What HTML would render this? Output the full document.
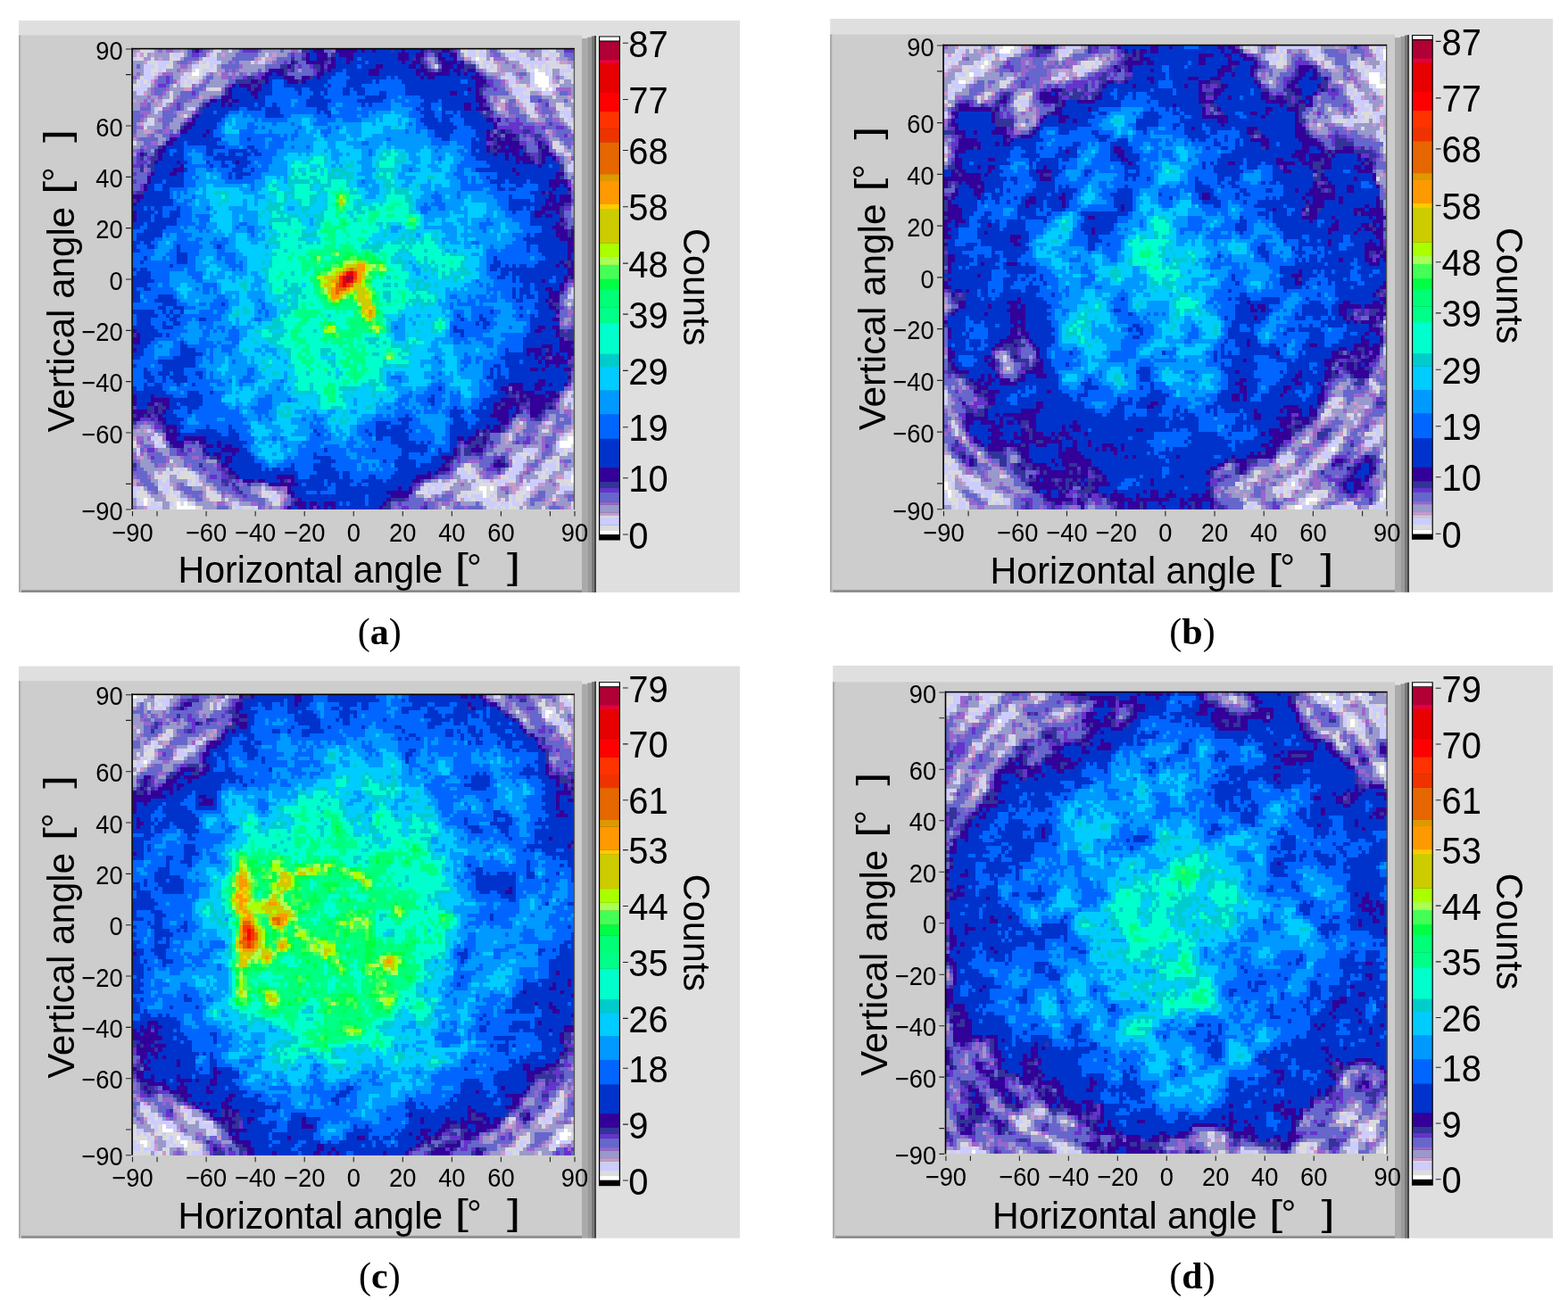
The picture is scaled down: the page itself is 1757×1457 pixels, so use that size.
<!DOCTYPE html>
<html><head><meta charset="utf-8"><title>Figure</title>
<style>
html,body{margin:0;padding:0;background:#fff;}
svg{display:block;}
text{font-family:"Liberation Sans",Arial,sans-serif;fill:#000;}
text.cap{font-family:"Liberation Serif","Times New Roman",serif;}
</style></head><body>
<svg xmlns="http://www.w3.org/2000/svg" width="1757" height="1457" viewBox="0 0 1757 1457">
<rect width="1757" height="1457" fill="#ffffff"/>
<rect x="21" y="23" width="808" height="641" fill="#dfdfdf"/>
<rect x="21" y="39.5" width="631" height="624.5" fill="#cdcdcd"/>
<rect x="21" y="39.5" width="1.7" height="624.5" fill="#a5a5a5"/>
<rect x="22.7" y="39.5" width="1.3" height="624.5" fill="#c4c4c4"/>
<rect x="24" y="661" width="628" height="1" fill="#a8a8a8"/>
<rect x="24" y="661.7" width="628" height="2.3" fill="#888888"/>
<rect x="652" y="43" width="6.3" height="621" fill="#aaaaaa"/>
<rect x="658.3" y="41.7" width="4.5" height="622.3" fill="#999999"/>
<rect x="662.8" y="40.5" width="3" height="623.5" fill="#777777"/>
<rect x="665.8" y="40" width="2.2" height="624" fill="#444444"/>
<g transform="translate(148.5 55) scale(4.1292 4.3000)" fill="none" stroke-width="1" shape-rendering="crispEdges"><path stroke="#9999cc" d="M0 0.5h1M6 0.5h1M8 0.5h1M11 0.5h2M14 0.5h1M21 0.5h1M24 0.5h2M27 0.5h2M35 0.5h5M41 0.5h2M45 0.5h1M96 0.5h1M99 0.5h1M105 0.5h3M109 0.5h2M115 0.5h2M4 1.5h1M6 1.5h4M14 1.5h1M23 1.5h1M25 1.5h3M34 1.5h2M37 1.5h1M39 1.5h3M89 1.5h1M96 1.5h1M100 1.5h1M107 1.5h4M116 1.5h1M3 2.5h2M6 2.5h1M8 2.5h2M13 2.5h1M18 2.5h1M23 2.5h4M33 2.5h1M38 2.5h1M80 2.5h2M96 2.5h1M101 2.5h1M108 2.5h1M116 2.5h2M0 3.5h3M11 3.5h1M16 3.5h1M24 3.5h2M29 3.5h3M36 3.5h2M81 3.5h1M92 3.5h1M99 3.5h2M102 3.5h3M118 3.5h2M0 4.5h1M2 4.5h1M11 4.5h2M15 4.5h1M23 4.5h1M30 4.5h6M81 4.5h1M93 4.5h1M100 4.5h3M104 4.5h1M119 4.5h1M0 5.5h3M9 5.5h3M13 5.5h2M23 5.5h2M29 5.5h5M35 5.5h1M45 5.5h1M95 5.5h1M100 5.5h7M114 5.5h2M0 6.5h1M2 6.5h1M11 6.5h2M20 6.5h1M22 6.5h1M26 6.5h1M28 6.5h1M31 6.5h1M96 6.5h4M103 6.5h1M107 6.5h1M114 6.5h2M1 7.5h1M11 7.5h2M19 7.5h1M22 7.5h2M99 7.5h1M104 7.5h1M106 7.5h2M114 7.5h1M116 7.5h1M0 8.5h1M21 8.5h5M105 8.5h3M115 8.5h1M117 8.5h2M5 9.5h1M10 9.5h1M12 9.5h1M17 9.5h1M20 9.5h5M101 9.5h1M116 9.5h4M4 10.5h1M10 10.5h4M101 10.5h1M119 10.5h1M0 11.5h1M4 11.5h1M9 11.5h1M11 11.5h2M18 11.5h6M102 11.5h1M108 11.5h2M115 11.5h1M119 11.5h1M0 12.5h4M5 12.5h2M8 12.5h2M11 12.5h1M19 12.5h2M97 12.5h1M99 12.5h5M111 12.5h3M115 12.5h3M119 12.5h1M1 13.5h2M4 13.5h1M7 13.5h1M16 13.5h3M97 13.5h1M99 13.5h1M101 13.5h1M113 13.5h4M118 13.5h1M0 14.5h2M5 14.5h2M9 14.5h1M14 14.5h4M98 14.5h1M104 14.5h1M109 14.5h1M113 14.5h2M117 14.5h3M0 15.5h2M5 15.5h1M14 15.5h1M98 15.5h1M105 15.5h1M119 15.5h1M5 16.5h1M7 16.5h1M12 16.5h4M99 16.5h3M105 16.5h2M115 16.5h1M119 16.5h1M4 17.5h4M12 17.5h1M15 17.5h1M101 17.5h1M107 17.5h1M110 17.5h1M112 17.5h1M114 17.5h2M119 17.5h1M3 18.5h1M6 18.5h1M11 18.5h3M107 18.5h2M110 18.5h2M116 18.5h1M1 19.5h1M6 19.5h2M10 19.5h3M117 19.5h1M4 20.5h4M10 20.5h3M118 20.5h1M1 21.5h2M5 21.5h1M11 21.5h1M113 21.5h1M1 22.5h3M6 22.5h2M113 22.5h1M0 23.5h1M7 23.5h2M113 23.5h3M1 24.5h2M7 24.5h1M116 24.5h1M0 25.5h2M117 25.5h1M119 25.5h1M5 26.5h1M118 26.5h2M0 27.5h1M115 27.5h2M119 27.5h1M117 28.5h1M117 29.5h2M117 30.5h1M117 31.5h1M118 32.5h2M118 33.5h1M119 34.5h1M119 41.5h1M119 42.5h1M119 43.5h1M118 62.5h1M118 63.5h1M117 65.5h3M117 66.5h1M119 66.5h1M118 67.5h1M117 70.5h2M117 71.5h1M119 87.5h1M119 88.5h1M117 89.5h1M119 90.5h1M116 91.5h1M116 92.5h1M118 92.5h1M116 93.5h1M118 93.5h1M116 94.5h1M119 94.5h1M113 95.5h2M119 95.5h1M104 96.5h1M113 96.5h2M116 96.5h1M119 96.5h1M103 97.5h2M106 97.5h1M114 97.5h1M119 97.5h1M2 98.5h3M103 98.5h1M106 98.5h1M110 98.5h2M113 98.5h1M117 98.5h2M0 99.5h1M2 99.5h1M102 99.5h2M105 99.5h1M110 99.5h1M113 99.5h1M117 99.5h1M0 100.5h6M7 100.5h1M100 100.5h1M103 100.5h1M105 100.5h1M110 100.5h4M115 100.5h1M3 101.5h1M100 101.5h1M103 101.5h1M109 101.5h2M115 101.5h1M3 102.5h3M8 102.5h1M100 102.5h1M102 102.5h1M110 102.5h1M99 103.5h7M107 103.5h4M114 103.5h1M0 104.5h1M7 104.5h3M98 104.5h3M103 104.5h3M110 104.5h1M114 104.5h1M3 105.5h1M8 105.5h2M96 105.5h2M99 105.5h1M102 105.5h2M110 105.5h1M114 105.5h2M118 105.5h2M1 106.5h1M3 106.5h1M10 106.5h3M107 106.5h1M109 106.5h2M112 106.5h2M116 106.5h4M2 107.5h3M11 107.5h3M20 107.5h3M107 107.5h2M111 107.5h1M119 107.5h1M2 108.5h4M9 108.5h2M12 108.5h2M89 108.5h1M92 108.5h2M106 108.5h1M110 108.5h1M116 108.5h1M118 108.5h2M3 109.5h6M10 109.5h1M15 109.5h1M93 109.5h2M101 109.5h1M109 109.5h2M116 109.5h3M4 110.5h2M17 110.5h1M87 110.5h1M105 110.5h1M108 110.5h1M114 110.5h3M5 111.5h1M10 111.5h2M18 111.5h2M87 111.5h2M94 111.5h1M98 111.5h1M104 111.5h1M106 111.5h4M113 111.5h2M1 112.5h1M5 112.5h2M10 112.5h5M19 112.5h1M81 112.5h2M84 112.5h1M88 112.5h1M90 112.5h1M92 112.5h1M104 112.5h1M107 112.5h1M112 112.5h1M114 112.5h1M6 113.5h1M11 113.5h1M14 113.5h1M19 113.5h3M35 113.5h1M87 113.5h2M90 113.5h2M104 113.5h1M112 113.5h2M115 113.5h1M3 114.5h1M11 114.5h1M16 114.5h3M22 114.5h1M32 114.5h3M36 114.5h2M86 114.5h6M99 114.5h1M102 114.5h1M110 114.5h5M4 115.5h1M7 115.5h1M13 115.5h1M19 115.5h1M23 115.5h1M32 115.5h2M39 115.5h2M84 115.5h1M87 115.5h2M99 115.5h2M102 115.5h1M109 115.5h1M112 115.5h3M117 115.5h3M5 116.5h3M13 116.5h2M19 116.5h1M25 116.5h2M34 116.5h1M41 116.5h1M77 116.5h2M81 116.5h1M83 116.5h1M87 116.5h1M99 116.5h3M108 116.5h1M112 116.5h2M115 116.5h2M0 117.5h1M6 117.5h3M15 117.5h2M19 117.5h1M24 117.5h1M26 117.5h3M36 117.5h1M79 117.5h1M81 117.5h1M87 117.5h1M101 117.5h1M107 117.5h1M112 117.5h1M116 117.5h2M0 118.5h1M8 118.5h2M17 118.5h5M25 118.5h1M29 118.5h3M36 118.5h2M40 118.5h1M83 118.5h1M86 118.5h1M89 118.5h4M94 118.5h1M107 118.5h1M109 118.5h3M113 118.5h1M115 118.5h4M1 119.5h2M8 119.5h2M19 119.5h4M26 119.5h1M36 119.5h1M38 119.5h2M83 119.5h1M85 119.5h2M95 119.5h1M105 119.5h1M107 119.5h4M112 119.5h1M117 119.5h1"/><path stroke="#cc99cc" d="M1 0.5h1M13 0.5h1M0 1.5h1M2 1.5h1M5 1.5h1M20 1.5h1M24 1.5h1M38 1.5h1M7 2.5h1M34 2.5h1M36 2.5h2M90 2.5h2M110 2.5h1M112 2.5h1M115 2.5h1M3 3.5h1M17 3.5h1M33 3.5h1M98 3.5h1M116 3.5h2M99 4.5h1M105 4.5h1M15 5.5h1M99 5.5h1M7 6.5h1M13 6.5h1M23 6.5h1M100 6.5h1M6 7.5h1M5 8.5h1M12 8.5h1M18 8.5h1M101 8.5h1M104 8.5h1M114 8.5h1M107 9.5h1M14 10.5h2M102 10.5h1M3 11.5h1M110 11.5h1M114 11.5h1M18 12.5h1M118 12.5h1M0 13.5h1M6 13.5h1M104 13.5h1M7 14.5h1M99 14.5h2M105 14.5h1M100 15.5h1M106 15.5h1M109 16.5h1M13 17.5h1M109 18.5h1M2 19.5h1M3 21.5h2M112 21.5h1M119 21.5h1M117 26.5h1M118 28.5h1M117 90.5h1M117 93.5h1M111 97.5h1M104 98.5h2M112 98.5h1M119 98.5h1M1 99.5h1M3 99.5h1M5 99.5h1M104 99.5h1M118 99.5h1M101 100.5h1M116 100.5h1M0 101.5h1M101 101.5h1M101 102.5h1M1 103.5h1M109 105.5h1M2 106.5h1M102 106.5h1M11 108.5h1M106 109.5h1M7 110.5h1M93 110.5h1M99 111.5h1M115 111.5h2M0 112.5h1M18 112.5h1M85 112.5h1M89 112.5h1M97 112.5h1M0 113.5h1M10 113.5h1M101 113.5h3M105 113.5h1M110 113.5h2M19 114.5h1M21 114.5h1M103 114.5h2M109 114.5h1M115 114.5h1M34 115.5h1M103 115.5h1M108 115.5h1M8 116.5h1M40 116.5h1M20 117.5h1M40 117.5h1M89 117.5h1M99 117.5h1M113 117.5h1M115 117.5h1M22 118.5h1M26 118.5h1M106 118.5h1M112 118.5h1M3 119.5h1M118 119.5h1"/><path stroke="#d8d8e0" d="M2 0.5h3M22 0.5h2M26 0.5h1M89 0.5h1M95 0.5h1M100 0.5h1M3 1.5h1M10 1.5h1M13 1.5h1M22 1.5h1M105 1.5h2M111 1.5h1M115 1.5h1M1 2.5h2M5 2.5h1M10 2.5h3M19 2.5h1M35 2.5h1M92 2.5h1M97 2.5h1M102 2.5h2M109 2.5h1M114 2.5h1M4 3.5h3M10 3.5h1M18 3.5h1M32 3.5h1M97 3.5h1M105 3.5h1M112 3.5h3M9 4.5h2M22 4.5h1M82 4.5h1M94 4.5h1M113 4.5h5M8 5.5h1M21 5.5h2M98 5.5h1M107 5.5h1M113 5.5h1M119 5.5h1M14 6.5h1M113 6.5h1M117 6.5h1M2 7.5h1M101 7.5h1M118 7.5h1M1 8.5h1M14 8.5h1M16 8.5h1M116 8.5h1M119 8.5h1M0 9.5h2M4 9.5h1M11 9.5h1M14 9.5h2M105 9.5h2M115 9.5h1M21 10.5h3M107 10.5h2M10 11.5h1M106 11.5h2M10 12.5h1M104 12.5h1M114 12.5h1M9 13.5h2M100 13.5h1M106 13.5h2M119 13.5h1M107 14.5h1M115 14.5h2M7 15.5h1M99 15.5h1M107 15.5h2M115 15.5h2M118 15.5h1M107 16.5h1M14 17.5h1M108 17.5h2M116 17.5h1M4 18.5h2M117 18.5h1M5 19.5h1M118 19.5h2M3 20.5h1M119 20.5h1M0 24.5h1M114 24.5h2M114 25.5h3M118 27.5h1M119 63.5h1M118 66.5h1M118 90.5h1M117 92.5h1M119 93.5h1M105 97.5h1M111 99.5h2M6 100.5h1M7 101.5h1M102 101.5h1M0 102.5h1M0 103.5h1M8 103.5h1M1 104.5h1M119 104.5h1M107 105.5h1M116 105.5h2M108 106.5h1M114 106.5h2M10 107.5h1M103 107.5h1M112 107.5h2M115 107.5h1M90 108.5h2M115 108.5h1M9 109.5h1M11 109.5h2M14 109.5h1M88 109.5h1M102 109.5h1M115 109.5h1M8 110.5h1M10 110.5h2M109 110.5h1M117 110.5h1M6 111.5h4M12 111.5h1M93 111.5h1M100 111.5h2M110 111.5h1M112 111.5h1M83 112.5h1M87 112.5h1M91 112.5h1M93 112.5h2M98 112.5h1M102 112.5h2M106 112.5h1M115 112.5h2M15 113.5h2M18 113.5h1M80 113.5h1M85 113.5h2M100 113.5h1M116 113.5h2M2 114.5h1M7 114.5h1M10 114.5h1M20 114.5h1M84 114.5h2M3 115.5h1M12 115.5h1M20 115.5h2M36 115.5h1M38 115.5h1M77 115.5h1M89 115.5h2M104 115.5h1M115 115.5h1M9 116.5h1M20 116.5h4M35 116.5h2M80 116.5h1M88 116.5h2M98 116.5h1M102 116.5h1M107 116.5h1M9 117.5h1M21 117.5h3M25 117.5h1M39 117.5h1M88 117.5h1M92 117.5h1M97 117.5h2M100 117.5h1M102 117.5h1M114 117.5h1M7 118.5h1M38 118.5h2M95 118.5h1M99 118.5h1M105 118.5h1M119 118.5h1M10 119.5h2M27 119.5h1M30 119.5h2M33 119.5h1M84 119.5h1M96 119.5h1M98 119.5h1M100 119.5h1M104 119.5h1M106 119.5h1M111 119.5h1"/><path stroke="#ccccff" d="M5 0.5h1M91 0.5h2M94 0.5h1M104 0.5h1M111 0.5h2M1 1.5h1M11 1.5h2M21 1.5h1M36 1.5h1M91 1.5h2M94 1.5h2M101 1.5h4M113 1.5h2M0 2.5h1M20 2.5h3M104 2.5h4M111 2.5h1M113 2.5h1M7 3.5h3M19 3.5h1M21 3.5h3M34 3.5h2M93 3.5h1M95 3.5h2M106 3.5h6M115 3.5h1M3 4.5h3M7 4.5h2M16 4.5h2M21 4.5h1M95 4.5h1M97 4.5h1M106 4.5h1M108 4.5h1M110 4.5h1M112 4.5h1M118 4.5h1M3 5.5h2M7 5.5h1M19 5.5h2M96 5.5h1M112 5.5h1M116 5.5h3M3 6.5h2M6 6.5h1M15 6.5h1M19 6.5h1M101 6.5h2M108 6.5h1M112 6.5h1M116 6.5h1M119 6.5h1M3 7.5h3M13 7.5h2M18 7.5h1M100 7.5h1M102 7.5h2M108 7.5h1M113 7.5h1M117 7.5h1M119 7.5h1M2 8.5h1M4 8.5h1M13 8.5h1M15 8.5h1M17 8.5h1M102 8.5h2M108 8.5h1M113 8.5h1M2 9.5h2M13 9.5h1M102 9.5h1M104 9.5h1M108 9.5h1M114 9.5h1M0 10.5h4M20 10.5h1M103 10.5h4M109 10.5h2M114 10.5h1M1 11.5h2M103 11.5h3M111 11.5h3M105 12.5h3M8 13.5h1M105 13.5h1M8 14.5h1M106 14.5h1M108 14.5h1M6 15.5h1M15 15.5h2M117 15.5h1M6 16.5h1M108 16.5h1M116 16.5h3M117 17.5h2M118 18.5h2M3 19.5h2M115 26.5h2M117 27.5h1M119 29.5h1M118 30.5h2M118 31.5h2M119 62.5h1M118 64.5h2M118 89.5h2M117 91.5h3M119 92.5h1M112 97.5h2M4 99.5h1M119 99.5h1M102 100.5h1M117 100.5h1M5 101.5h2M116 101.5h1M7 102.5h1M115 102.5h1M6 103.5h2M115 103.5h1M106 104.5h4M115 104.5h2M118 104.5h1M1 105.5h1M104 105.5h1M108 105.5h1M103 106.5h3M104 107.5h3M114 107.5h1M103 108.5h3M111 108.5h4M13 109.5h1M89 109.5h1M92 109.5h1M103 109.5h3M111 109.5h1M113 109.5h2M119 109.5h1M6 110.5h1M9 110.5h1M12 110.5h1M16 110.5h1M88 110.5h3M92 110.5h1M101 110.5h4M110 110.5h1M112 110.5h2M118 110.5h1M17 111.5h1M89 111.5h4M102 111.5h2M117 111.5h2M7 112.5h1M9 112.5h1M15 112.5h1M17 112.5h1M86 112.5h1M95 112.5h2M99 112.5h3M108 112.5h4M7 113.5h3M17 113.5h1M79 113.5h1M81 113.5h4M92 113.5h2M98 113.5h2M106 113.5h4M0 114.5h2M8 114.5h2M35 114.5h1M78 114.5h1M80 114.5h1M82 114.5h2M92 114.5h1M105 114.5h1M108 114.5h1M116 114.5h4M0 115.5h1M8 115.5h2M11 115.5h1M22 115.5h1M37 115.5h1M80 115.5h4M98 115.5h1M107 115.5h1M116 115.5h1M0 116.5h1M4 116.5h1M12 116.5h1M38 116.5h2M79 116.5h1M90 116.5h1M92 116.5h3M97 116.5h1M103 116.5h1M106 116.5h1M114 116.5h1M1 117.5h1M13 117.5h2M37 117.5h2M90 117.5h2M93 117.5h4M103 117.5h1M106 117.5h1M1 118.5h2M5 118.5h2M10 118.5h1M16 118.5h1M27 118.5h2M96 118.5h3M100 118.5h2M103 118.5h2M4 119.5h4M28 119.5h2M32 119.5h1M97 119.5h1M99 119.5h1M101 119.5h1M119 119.5h1"/><path stroke="#9966cc" d="M7 0.5h1M9 0.5h2M20 0.5h1M43 0.5h2M54 0.5h1M108 0.5h1M97 1.5h1M98 2.5h3M118 2.5h1M12 3.5h1M15 3.5h1M27 3.5h1M38 3.5h1M80 3.5h1M101 3.5h1M13 4.5h2M29 4.5h1M103 4.5h1M12 5.5h1M26 5.5h1M28 5.5h1M94 5.5h1M1 6.5h1M8 6.5h3M21 6.5h1M24 6.5h2M27 6.5h1M30 6.5h1M104 6.5h1M0 7.5h1M24 7.5h2M27 7.5h1M98 7.5h1M105 7.5h1M115 7.5h1M6 8.5h1M11 8.5h1M19 8.5h1M100 8.5h1M6 9.5h1M16 9.5h1M100 9.5h1M5 10.5h1M9 10.5h1M19 10.5h1M24 10.5h1M115 10.5h4M5 11.5h1M8 11.5h1M118 11.5h1M4 12.5h1M7 12.5h1M12 12.5h1M17 12.5h1M21 12.5h1M98 12.5h1M3 13.5h1M5 13.5h1M11 13.5h1M15 13.5h1M98 13.5h1M2 14.5h2M10 14.5h1M101 14.5h1M103 14.5h1M110 14.5h1M8 15.5h2M101 15.5h1M109 15.5h2M113 15.5h2M2 16.5h3M11 16.5h1M16 16.5h1M110 16.5h1M114 16.5h1M3 17.5h1M100 17.5h1M102 17.5h2M111 17.5h1M2 18.5h1M7 18.5h1M14 18.5h1M114 18.5h2M109 19.5h3M116 19.5h1M1 20.5h2M9 20.5h1M6 21.5h1M8 21.5h2M114 21.5h1M0 22.5h1M4 22.5h1M112 22.5h1M114 22.5h1M118 22.5h1M1 23.5h1M107 23.5h1M5 24.5h2M113 24.5h1M119 24.5h1M3 25.5h1M0 26.5h1M114 26.5h1M3 31.5h1M119 35.5h1M119 36.5h1M119 61.5h1M118 68.5h2M118 69.5h1M116 71.5h1M118 71.5h1M118 88.5h1M116 90.5h1M115 92.5h1M115 93.5h1M117 94.5h2M118 95.5h1M105 96.5h2M112 96.5h1M3 97.5h1M1 98.5h1M5 98.5h1M109 98.5h1M114 98.5h1M114 99.5h3M8 100.5h1M106 100.5h1M108 100.5h2M1 101.5h2M4 101.5h1M8 101.5h1M111 101.5h1M1 102.5h1M108 102.5h2M111 102.5h1M114 102.5h1M2 103.5h1M5 103.5h1M98 103.5h1M106 103.5h1M111 103.5h1M3 104.5h1M6 104.5h1M16 104.5h1M101 104.5h2M111 104.5h1M0 105.5h1M2 105.5h1M113 105.5h1M0 106.5h1M4 106.5h1M9 106.5h1M13 106.5h1M16 106.5h2M1 107.5h1M9 107.5h1M91 107.5h3M102 107.5h1M110 107.5h1M116 107.5h1M7 108.5h2M15 108.5h1M22 108.5h1M102 108.5h1M107 108.5h1M117 108.5h1M107 109.5h2M19 110.5h2M94 110.5h2M100 110.5h1M106 110.5h1M0 111.5h1M4 111.5h1M86 111.5h1M95 111.5h1M97 111.5h1M105 111.5h1M105 112.5h1M113 112.5h1M1 113.5h2M12 113.5h1M29 113.5h1M78 113.5h1M89 113.5h1M114 113.5h1M12 114.5h1M38 114.5h1M40 114.5h2M100 114.5h2M5 115.5h1M25 115.5h1M41 115.5h1M85 115.5h2M15 116.5h1M18 116.5h1M24 116.5h1M27 116.5h1M82 116.5h1M109 116.5h1M117 116.5h1M29 117.5h1M41 117.5h1M80 117.5h1M86 117.5h1M111 117.5h1M119 117.5h1M23 118.5h2M32 118.5h2M82 118.5h1M84 118.5h2M87 118.5h1M114 118.5h1M0 119.5h1M35 119.5h1M37 119.5h1M40 119.5h1M71 119.5h1M82 119.5h1M90 119.5h1M116 119.5h1"/><path stroke="#6666cc" d="M15 0.5h1M19 0.5h1M29 0.5h1M34 0.5h1M40 0.5h1M52 0.5h2M88 0.5h1M97 0.5h2M15 1.5h1M18 1.5h2M28 1.5h6M42 1.5h1M44 1.5h2M53 1.5h1M80 1.5h2M88 1.5h1M98 1.5h2M117 1.5h3M14 2.5h4M27 2.5h6M39 2.5h4M44 2.5h2M79 2.5h1M82 2.5h1M88 2.5h2M119 2.5h1M13 3.5h2M26 3.5h1M28 3.5h1M39 3.5h2M42 3.5h1M45 3.5h2M82 3.5h1M90 3.5h2M1 4.5h1M24 4.5h5M36 4.5h4M44 4.5h1M46 4.5h2M80 4.5h1M83 4.5h1M25 5.5h1M27 5.5h1M34 5.5h1M36 5.5h1M44 5.5h1M46 5.5h3M82 5.5h1M93 5.5h1M29 6.5h1M32 6.5h2M42 6.5h7M95 6.5h1M105 6.5h2M7 7.5h2M10 7.5h1M20 7.5h2M26 7.5h1M28 7.5h2M44 7.5h2M96 7.5h2M7 8.5h2M10 8.5h1M20 8.5h1M26 8.5h2M98 8.5h2M9 9.5h1M18 9.5h2M25 9.5h1M98 9.5h2M6 10.5h3M16 10.5h3M96 10.5h2M99 10.5h2M6 11.5h2M13 11.5h3M17 11.5h1M24 11.5h1M95 11.5h7M116 11.5h2M13 12.5h4M22 12.5h2M96 12.5h1M108 12.5h3M12 13.5h3M19 13.5h2M96 13.5h1M102 13.5h2M108 13.5h2M111 13.5h2M117 13.5h1M4 14.5h1M11 14.5h1M13 14.5h1M18 14.5h1M97 14.5h1M102 14.5h1M111 14.5h1M2 15.5h3M10 15.5h2M13 15.5h1M17 15.5h1M97 15.5h1M102 15.5h3M111 15.5h2M0 16.5h2M8 16.5h3M95 16.5h1M98 16.5h1M102 16.5h3M111 16.5h3M0 17.5h3M8 17.5h4M98 17.5h2M104 17.5h3M113 17.5h1M0 18.5h2M8 18.5h3M100 18.5h1M102 18.5h2M105 18.5h2M112 18.5h2M0 19.5h1M8 19.5h2M13 19.5h1M99 19.5h3M106 19.5h3M112 19.5h1M114 19.5h2M0 20.5h1M8 20.5h1M105 20.5h1M109 20.5h2M112 20.5h3M117 20.5h1M0 21.5h1M7 21.5h1M10 21.5h1M12 21.5h1M98 21.5h1M109 21.5h3M115 21.5h4M5 22.5h1M8 22.5h2M100 22.5h1M105 22.5h1M107 22.5h1M111 22.5h1M115 22.5h2M119 22.5h1M2 23.5h5M9 23.5h1M105 23.5h2M108 23.5h1M112 23.5h1M116 23.5h4M3 24.5h2M8 24.5h1M107 24.5h2M117 24.5h2M2 25.5h1M4 25.5h3M107 25.5h3M113 25.5h1M118 25.5h1M1 26.5h1M3 26.5h2M107 26.5h3M113 26.5h1M4 27.5h2M0 28.5h1M3 28.5h1M116 28.5h1M119 28.5h1M0 29.5h1M4 29.5h1M116 29.5h1M3 30.5h1M0 31.5h2M4 31.5h1M1 32.5h3M117 32.5h1M0 33.5h4M117 33.5h1M119 33.5h1M1 34.5h3M0 35.5h2M0 36.5h2M119 37.5h1M119 38.5h1M119 40.5h1M117 42.5h2M117 43.5h2M118 44.5h2M118 45.5h2M118 46.5h1M118 61.5h1M117 63.5h1M116 64.5h2M116 65.5h1M116 66.5h1M117 67.5h1M119 67.5h1M116 68.5h2M116 69.5h2M119 69.5h1M116 70.5h1M119 70.5h1M119 71.5h1M116 72.5h3M119 84.5h1M119 85.5h1M119 86.5h1M102 88.5h1M117 88.5h1M116 89.5h1M106 94.5h1M112 94.5h4M104 95.5h4M112 95.5h1M115 95.5h3M103 96.5h1M107 96.5h1M111 96.5h1M115 96.5h1M117 96.5h2M1 97.5h2M4 97.5h2M107 97.5h4M115 97.5h4M0 98.5h1M102 98.5h1M107 98.5h2M115 98.5h2M6 99.5h2M101 99.5h1M106 99.5h4M94 100.5h1M97 100.5h3M104 100.5h1M107 100.5h1M114 100.5h1M97 101.5h3M104 101.5h3M108 101.5h1M112 101.5h3M2 102.5h1M9 102.5h1M17 102.5h1M98 102.5h2M103 102.5h1M105 102.5h1M112 102.5h2M3 103.5h2M9 103.5h1M14 103.5h4M89 103.5h1M96 103.5h1M113 103.5h1M2 104.5h1M10 104.5h2M14 104.5h1M17 104.5h2M89 104.5h1M96 104.5h2M112 104.5h2M4 105.5h4M10 105.5h2M15 105.5h4M89 105.5h1M95 105.5h1M98 105.5h1M100 105.5h2M111 105.5h2M6 106.5h3M14 106.5h2M18 106.5h1M20 106.5h1M89 106.5h5M95 106.5h3M101 106.5h1M111 106.5h1M0 107.5h1M5 107.5h4M14 107.5h6M87 107.5h1M89 107.5h2M94 107.5h4M101 107.5h1M109 107.5h1M117 107.5h2M1 108.5h1M6 108.5h1M14 108.5h1M16 108.5h2M19 108.5h3M87 108.5h2M94 108.5h3M108 108.5h2M1 109.5h2M16 109.5h3M20 109.5h3M87 109.5h1M95 109.5h1M100 109.5h1M0 110.5h4M18 110.5h1M21 110.5h3M86 110.5h1M96 110.5h3M107 110.5h1M1 111.5h3M20 111.5h1M23 111.5h1M83 111.5h3M96 111.5h1M2 112.5h3M20 112.5h4M27 112.5h1M29 112.5h1M79 112.5h2M3 113.5h3M13 113.5h1M22 113.5h2M26 113.5h1M28 113.5h1M30 113.5h1M32 113.5h3M36 113.5h1M4 114.5h3M13 114.5h3M23 114.5h4M29 114.5h3M39 114.5h1M77 114.5h1M6 115.5h1M14 115.5h5M24 115.5h1M26 115.5h2M30 115.5h2M76 115.5h1M101 115.5h1M110 115.5h2M16 116.5h2M28 116.5h2M31 116.5h3M42 116.5h1M75 116.5h2M84 116.5h3M110 116.5h2M118 116.5h2M17 117.5h2M30 117.5h6M42 117.5h1M75 117.5h4M82 117.5h4M108 117.5h3M118 117.5h1M34 118.5h2M41 118.5h2M70 118.5h2M73 118.5h6M80 118.5h2M88 118.5h1M93 118.5h1M108 118.5h1M23 119.5h3M34 119.5h1M70 119.5h1M72 119.5h1M75 119.5h3M80 119.5h2M87 119.5h3M91 119.5h4M113 119.5h3"/><path stroke="#333399" d="M16 0.5h1M46 0.5h2M70 0.5h1M79 0.5h1M81 0.5h3M86 0.5h1M54 1.5h1M82 1.5h1M43 2.5h1M46 2.5h1M53 2.5h1M76 2.5h1M78 2.5h1M44 3.5h1M52 3.5h1M78 3.5h1M83 3.5h1M40 4.5h2M43 4.5h1M49 4.5h2M79 4.5h1M90 4.5h3M41 5.5h1M43 5.5h1M50 5.5h1M52 5.5h1M80 5.5h1M83 5.5h1M90 5.5h1M41 6.5h1M31 7.5h2M48 7.5h1M95 7.5h1M28 8.5h4M34 8.5h2M45 8.5h1M32 9.5h2M95 9.5h2M25 10.5h1M32 10.5h1M94 10.5h1M25 11.5h1M94 11.5h1M26 13.5h1M19 14.5h1M95 14.5h1M18 15.5h1M18 16.5h1M94 16.5h1M96 16.5h2M16 17.5h1M95 17.5h2M14 19.5h1M13 20.5h1M97 21.5h1M99 21.5h1M101 21.5h2M106 21.5h2M99 22.5h1M104 22.5h1M109 22.5h2M98 23.5h1M100 23.5h1M103 23.5h2M109 23.5h1M98 24.5h1M111 24.5h1M7 25.5h1M97 25.5h1M99 25.5h1M106 25.5h1M111 25.5h1M6 26.5h1M97 26.5h2M106 26.5h1M110 26.5h1M3 27.5h1M6 27.5h1M107 27.5h1M110 27.5h1M2 28.5h1M5 28.5h2M108 28.5h1M110 28.5h1M5 29.5h1M110 29.5h1M115 29.5h1M2 30.5h1M4 30.5h2M116 30.5h1M2 31.5h1M5 31.5h1M116 31.5h1M116 33.5h1M1 37.5h2M112 37.5h1M118 37.5h1M0 39.5h1M117 40.5h2M116 41.5h1M116 42.5h1M116 43.5h1M116 45.5h2M119 46.5h1M118 47.5h1M118 48.5h1M117 55.5h2M118 56.5h1M118 59.5h1M116 63.5h1M113 65.5h1M114 66.5h2M115 67.5h1M116 73.5h1M118 73.5h2M0 74.5h1M116 74.5h4M118 75.5h2M112 78.5h1M112 80.5h1M118 82.5h2M118 84.5h1M118 86.5h1M102 89.5h1M104 89.5h1M115 89.5h1M102 90.5h2M106 90.5h1M104 91.5h1M107 91.5h1M114 91.5h1M7 92.5h1M100 92.5h1M105 92.5h2M112 92.5h2M4 93.5h2M7 93.5h2M99 93.5h1M107 93.5h1M112 93.5h1M114 93.5h1M4 94.5h2M7 94.5h1M105 94.5h1M111 94.5h1M0 95.5h1M3 95.5h1M6 95.5h1M110 95.5h1M5 96.5h1M102 96.5h1M109 96.5h2M0 97.5h1M7 97.5h1M8 98.5h1M100 98.5h1M8 99.5h1M10 99.5h1M94 99.5h1M96 99.5h1M100 99.5h1M95 100.5h2M93 101.5h2M96 101.5h1M16 102.5h1M88 102.5h1M92 102.5h3M97 102.5h1M10 103.5h1M19 103.5h1M91 103.5h2M94 103.5h2M13 104.5h1M88 104.5h1M90 104.5h2M19 105.5h1M88 105.5h1M90 105.5h2M93 105.5h2M21 106.5h2M87 106.5h1M100 106.5h1M23 107.5h1M86 107.5h1M98 107.5h1M100 107.5h1M0 108.5h1M18 108.5h1M85 108.5h1M101 108.5h1M24 109.5h1M99 109.5h1M25 110.5h1M83 110.5h2M26 111.5h2M81 111.5h1M24 112.5h2M33 112.5h1M41 112.5h1M78 112.5h1M25 113.5h1M27 113.5h1M31 113.5h1M76 113.5h1M28 114.5h1M29 115.5h1M44 117.5h1M70 117.5h4M43 118.5h1M69 118.5h1M68 119.5h2M79 119.5h1"/><path stroke="#330099" d="M17 0.5h1M49 0.5h3M55 0.5h6M62 0.5h1M65 0.5h1M73 0.5h1M78 0.5h1M84 0.5h2M47 1.5h1M50 1.5h3M56 1.5h4M72 1.5h3M77 1.5h2M83 1.5h1M86 1.5h2M47 2.5h1M50 2.5h3M54 2.5h1M58 2.5h2M72 2.5h3M77 2.5h1M83 2.5h2M87 2.5h1M43 3.5h1M47 3.5h5M54 3.5h1M58 3.5h1M73 3.5h1M76 3.5h2M84 3.5h4M89 3.5h1M42 4.5h1M51 4.5h1M53 4.5h2M66 4.5h2M75 4.5h2M78 4.5h1M84 4.5h3M88 4.5h2M37 5.5h4M51 5.5h1M53 5.5h1M64 5.5h3M77 5.5h3M84 5.5h2M87 5.5h2M91 5.5h2M36 6.5h2M39 6.5h2M50 6.5h2M64 6.5h3M77 6.5h1M79 6.5h7M88 6.5h1M90 6.5h1M93 6.5h1M35 7.5h2M41 7.5h3M46 7.5h2M50 7.5h1M78 7.5h1M80 7.5h2M92 7.5h3M32 8.5h2M36 8.5h1M42 8.5h3M46 8.5h1M93 8.5h3M27 9.5h1M29 9.5h3M34 9.5h1M93 9.5h2M26 10.5h1M31 10.5h1M33 10.5h2M91 10.5h1M93 10.5h1M26 11.5h1M32 11.5h2M86 11.5h2M93 11.5h1M24 12.5h3M33 12.5h1M93 12.5h2M21 13.5h2M24 13.5h2M27 13.5h2M93 13.5h3M20 14.5h1M24 14.5h1M26 14.5h1M90 14.5h2M94 14.5h1M90 15.5h2M93 15.5h4M17 17.5h1M16 18.5h1M96 18.5h2M99 18.5h1M15 19.5h2M98 19.5h1M14 20.5h2M98 20.5h1M13 21.5h2M20 21.5h1M96 21.5h1M100 21.5h1M19 22.5h1M96 22.5h1M98 22.5h1M101 22.5h3M10 23.5h2M96 23.5h2M99 23.5h1M101 23.5h2M9 24.5h2M99 24.5h6M110 24.5h1M8 25.5h1M96 25.5h1M98 25.5h1M100 25.5h1M102 25.5h4M110 25.5h1M112 25.5h1M7 26.5h2M96 26.5h1M99 26.5h6M111 26.5h2M2 27.5h1M7 27.5h1M98 27.5h1M101 27.5h1M103 27.5h2M106 27.5h1M111 27.5h3M7 28.5h1M101 28.5h1M104 28.5h4M111 28.5h1M114 28.5h1M6 29.5h1M12 29.5h1M28 29.5h1M104 29.5h1M106 29.5h3M111 29.5h1M13 30.5h1M110 30.5h1M11 31.5h3M103 31.5h1M5 32.5h1M10 32.5h2M104 32.5h1M115 32.5h2M4 33.5h1M115 33.5h1M4 34.5h1M113 34.5h5M3 35.5h1M113 35.5h3M117 35.5h1M3 36.5h1M114 36.5h1M118 36.5h1M111 37.5h1M113 37.5h1M0 38.5h3M113 38.5h2M116 38.5h3M1 39.5h1M112 39.5h3M116 39.5h3M0 40.5h1M112 40.5h1M114 40.5h3M111 41.5h5M0 42.5h1M109 42.5h3M115 42.5h1M0 43.5h1M109 43.5h2M112 43.5h2M0 44.5h1M116 44.5h1M115 45.5h1M114 46.5h3M115 47.5h3M119 47.5h1M115 48.5h3M119 48.5h1M116 49.5h4M118 50.5h2M118 51.5h2M118 52.5h2M118 53.5h1M118 54.5h1M116 55.5h1M119 55.5h1M115 56.5h1M117 56.5h1M119 56.5h1M118 57.5h2M118 58.5h2M117 59.5h1M119 59.5h1M111 60.5h1M117 60.5h1M116 61.5h1M112 62.5h2M116 62.5h1M113 63.5h3M113 64.5h3M112 65.5h1M114 65.5h2M113 66.5h1M113 67.5h2M115 68.5h1M114 70.5h2M110 72.5h2M114 72.5h2M0 73.5h1M109 73.5h2M115 73.5h1M1 74.5h1M115 74.5h1M0 75.5h2M116 75.5h1M0 76.5h2M116 76.5h4M111 77.5h3M116 77.5h3M0 78.5h1M107 78.5h4M113 78.5h1M116 78.5h4M107 79.5h1M109 79.5h2M112 79.5h2M115 79.5h1M118 79.5h2M109 80.5h1M111 80.5h1M114 80.5h3M118 80.5h1M110 81.5h1M112 81.5h6M112 82.5h1M115 82.5h1M108 83.5h2M111 83.5h1M117 83.5h2M118 85.5h1M110 86.5h2M102 87.5h4M109 87.5h3M113 87.5h1M117 87.5h1M100 88.5h2M103 88.5h3M109 88.5h2M101 89.5h1M103 89.5h1M105 89.5h4M112 89.5h3M0 90.5h1M5 90.5h1M105 90.5h1M107 90.5h5M113 90.5h3M0 91.5h1M5 91.5h5M100 91.5h4M105 91.5h2M108 91.5h6M0 92.5h1M4 92.5h2M8 92.5h2M98 92.5h2M101 92.5h4M108 92.5h4M6 93.5h1M9 93.5h1M98 93.5h1M100 93.5h3M104 93.5h1M108 93.5h4M113 93.5h1M0 94.5h4M6 94.5h1M8 94.5h1M98 94.5h4M104 94.5h1M108 94.5h3M1 95.5h2M4 95.5h1M7 95.5h1M97 95.5h5M103 95.5h1M108 95.5h2M0 96.5h2M7 96.5h2M99 96.5h3M8 97.5h1M100 97.5h2M9 98.5h3M96 98.5h1M98 98.5h2M9 99.5h1M11 99.5h1M93 99.5h1M95 99.5h1M97 99.5h3M9 100.5h4M93 100.5h1M9 101.5h3M14 101.5h6M88 101.5h2M91 101.5h2M95 101.5h1M10 102.5h4M18 102.5h2M23 102.5h1M90 102.5h2M95 102.5h1M11 103.5h3M20 103.5h2M23 103.5h1M25 103.5h2M93 103.5h1M19 104.5h1M24 104.5h5M87 104.5h1M92 104.5h3M20 105.5h1M22 105.5h2M27 105.5h1M87 105.5h1M23 106.5h1M25 106.5h2M84 106.5h3M25 107.5h2M85 107.5h1M99 107.5h1M24 108.5h2M84 108.5h1M98 108.5h3M26 109.5h1M83 109.5h3M26 110.5h2M80 110.5h1M82 110.5h1M28 111.5h1M39 111.5h5M77 111.5h4M30 112.5h3M34 112.5h2M40 112.5h1M43 112.5h1M76 112.5h2M37 113.5h8M42 114.5h1M72 114.5h1M75 114.5h1M42 115.5h2M69 115.5h7M43 116.5h1M70 116.5h5M45 117.5h1M69 117.5h1M44 118.5h3M48 118.5h2M52 118.5h3M68 118.5h1M42 119.5h1M45 119.5h2M48 119.5h1M50 119.5h1M52 119.5h1M54 119.5h1M67 119.5h1"/><path stroke="#6633cc" d="M18 0.5h1M30 0.5h4M80 0.5h1M87 0.5h1M117 0.5h3M16 1.5h2M43 1.5h1M46 1.5h1M79 1.5h1M41 3.5h1M53 3.5h1M79 3.5h1M45 4.5h1M48 4.5h1M52 4.5h1M42 5.5h1M49 5.5h1M81 5.5h1M34 6.5h2M49 6.5h1M94 6.5h1M9 7.5h1M30 7.5h1M33 7.5h2M9 8.5h1M96 8.5h2M7 9.5h2M26 9.5h1M97 9.5h1M95 10.5h1M98 10.5h1M16 11.5h1M95 12.5h1M110 13.5h1M12 14.5h1M96 14.5h1M112 14.5h1M12 15.5h1M17 16.5h1M97 17.5h1M15 18.5h1M98 18.5h1M101 18.5h1M104 18.5h1M102 19.5h4M113 19.5h1M99 20.5h6M106 20.5h3M111 20.5h1M115 20.5h2M103 21.5h3M108 21.5h1M10 22.5h3M97 22.5h1M106 22.5h1M108 22.5h1M117 22.5h1M110 23.5h2M96 24.5h2M105 24.5h2M109 24.5h1M112 24.5h1M2 26.5h1M1 27.5h1M108 27.5h2M114 27.5h1M1 28.5h1M4 28.5h1M109 28.5h1M115 28.5h1M1 29.5h3M109 29.5h1M0 30.5h2M0 32.5h1M4 32.5h1M0 34.5h1M118 34.5h1M2 35.5h1M118 35.5h1M2 36.5h1M0 37.5h1M119 39.5h1M117 41.5h2M117 44.5h1M117 46.5h1M118 60.5h2M117 61.5h1M117 62.5h1M116 67.5h1M115 69.5h1M119 72.5h1M117 73.5h1M117 75.5h1M113 80.5h1M119 80.5h1M118 81.5h2M119 83.5h1M118 87.5h1M104 90.5h1M115 91.5h1M6 92.5h1M107 92.5h1M114 92.5h1M0 93.5h1M105 93.5h2M107 94.5h1M5 95.5h1M111 95.5h1M2 96.5h3M6 96.5h1M108 96.5h1M6 97.5h1M102 97.5h1M6 98.5h2M101 98.5h1M107 101.5h1M14 102.5h2M89 102.5h1M96 102.5h1M104 102.5h1M106 102.5h2M18 103.5h1M88 103.5h1M90 103.5h1M97 103.5h1M112 103.5h1M4 104.5h2M12 104.5h1M15 104.5h1M95 104.5h1M12 105.5h3M92 105.5h1M5 106.5h1M19 106.5h1M88 106.5h1M94 106.5h1M98 106.5h2M88 107.5h1M23 108.5h1M86 108.5h1M97 108.5h1M0 109.5h1M19 109.5h1M23 109.5h1M25 109.5h1M86 109.5h1M96 109.5h3M24 110.5h1M85 110.5h1M99 110.5h1M21 111.5h2M24 111.5h2M82 111.5h1M26 112.5h1M28 112.5h1M42 112.5h1M24 113.5h1M77 113.5h1M27 114.5h1M76 114.5h1M28 115.5h1M30 116.5h1M43 117.5h1M74 117.5h1M72 118.5h1M79 118.5h1M41 119.5h1M49 119.5h1M73 119.5h2M78 119.5h1"/><path stroke="#0033cc" d="M48 0.5h1M61 0.5h1M63 0.5h2M66 0.5h4M71 0.5h2M74 0.5h4M48 1.5h2M55 1.5h1M60 1.5h12M75 1.5h2M84 1.5h2M48 2.5h2M55 2.5h3M60 2.5h1M62 2.5h10M75 2.5h1M85 2.5h2M55 3.5h3M59 3.5h4M64 3.5h9M74 3.5h2M88 3.5h1M55 4.5h6M62 4.5h4M68 4.5h7M77 4.5h1M87 4.5h1M54 5.5h3M58 5.5h6M67 5.5h10M86 5.5h1M89 5.5h1M38 6.5h1M52 6.5h3M58 6.5h6M67 6.5h10M78 6.5h1M86 6.5h2M89 6.5h1M91 6.5h2M37 7.5h4M49 7.5h1M51 7.5h3M59 7.5h10M70 7.5h1M72 7.5h6M79 7.5h1M82 7.5h10M37 8.5h1M41 8.5h1M47 8.5h6M58 8.5h7M66 8.5h1M73 8.5h16M91 8.5h2M28 9.5h1M35 9.5h3M41 9.5h11M53 9.5h1M58 9.5h4M74 9.5h19M27 10.5h4M35 10.5h3M44 10.5h2M48 10.5h5M57 10.5h2M60 10.5h3M74 10.5h17M92 10.5h1M27 11.5h5M34 11.5h4M45 11.5h1M49 11.5h2M52 11.5h1M57 11.5h2M61 11.5h2M67 11.5h2M74 11.5h12M88 11.5h2M91 11.5h2M27 12.5h6M34 12.5h2M48 12.5h4M63 12.5h6M78 12.5h15M23 13.5h1M29 13.5h7M47 13.5h7M61 13.5h7M79 13.5h4M84 13.5h9M21 14.5h3M25 14.5h1M27 14.5h6M34 14.5h2M38 14.5h1M47 14.5h6M62 14.5h1M64 14.5h1M78 14.5h3M84 14.5h6M92 14.5h2M19 15.5h10M31 15.5h4M36 15.5h4M50 15.5h3M77 15.5h1M79 15.5h2M84 15.5h6M92 15.5h1M19 16.5h3M23 16.5h3M36 16.5h4M50 16.5h1M52 16.5h2M78 16.5h4M84 16.5h1M87 16.5h1M89 16.5h5M18 17.5h7M36 17.5h5M53 17.5h1M79 17.5h3M84 17.5h3M89 17.5h6M17 18.5h7M78 18.5h5M84 18.5h2M90 18.5h6M17 19.5h6M79 19.5h8M90 19.5h8M16 20.5h7M80 20.5h8M92 20.5h6M15 21.5h5M21 21.5h1M82 21.5h5M93 21.5h3M13 22.5h6M20 22.5h2M82 22.5h4M93 22.5h3M12 23.5h12M31 23.5h1M84 23.5h2M92 23.5h1M94 23.5h2M11 24.5h3M15 24.5h8M92 24.5h4M9 25.5h5M20 25.5h5M31 25.5h2M92 25.5h4M101 25.5h1M9 26.5h1M12 26.5h2M20 26.5h2M26 26.5h5M32 26.5h2M92 26.5h1M94 26.5h2M105 26.5h1M8 27.5h2M11 27.5h3M20 27.5h2M23 27.5h2M26 27.5h2M30 27.5h2M33 27.5h2M92 27.5h6M99 27.5h2M102 27.5h1M105 27.5h1M8 28.5h6M22 28.5h9M93 28.5h8M102 28.5h2M112 28.5h2M7 29.5h5M13 29.5h2M20 29.5h1M24 29.5h1M27 29.5h1M29 29.5h3M96 29.5h8M105 29.5h1M112 29.5h3M6 30.5h7M21 30.5h1M24 30.5h2M28 30.5h3M97 30.5h13M111 30.5h2M114 30.5h2M6 31.5h5M14 31.5h1M27 31.5h3M32 31.5h1M93 31.5h10M104 31.5h12M6 32.5h4M12 32.5h2M26 32.5h1M28 32.5h4M99 32.5h5M105 32.5h10M5 33.5h9M26 33.5h1M28 33.5h2M96 33.5h1M99 33.5h16M5 34.5h3M9 34.5h5M97 34.5h4M102 34.5h5M108 34.5h5M4 35.5h2M8 35.5h6M99 35.5h1M104 35.5h2M110 35.5h3M116 35.5h1M4 36.5h2M8 36.5h2M99 36.5h2M102 36.5h2M110 36.5h4M115 36.5h3M3 37.5h7M108 37.5h3M114 37.5h4M3 38.5h7M102 38.5h1M109 38.5h4M115 38.5h1M2 39.5h9M102 39.5h6M109 39.5h3M115 39.5h1M1 40.5h10M102 40.5h10M113 40.5h1M0 41.5h3M4 41.5h1M6 41.5h2M12 41.5h1M102 41.5h4M107 41.5h1M109 41.5h2M1 42.5h5M7 42.5h1M10 42.5h3M103 42.5h1M108 42.5h1M112 42.5h3M1 43.5h4M6 43.5h2M10 43.5h3M108 43.5h1M111 43.5h1M114 43.5h2M1 44.5h4M6 44.5h6M108 44.5h8M0 45.5h3M4 45.5h8M108 45.5h7M0 46.5h2M4 46.5h5M111 46.5h3M3 47.5h5M111 47.5h4M1 48.5h7M107 48.5h1M109 48.5h6M1 49.5h5M106 49.5h10M0 50.5h2M3 50.5h2M107 50.5h11M0 51.5h1M4 51.5h2M12 51.5h1M23 51.5h1M107 51.5h1M110 51.5h8M0 52.5h2M12 52.5h1M107 52.5h1M110 52.5h8M12 53.5h3M111 53.5h7M119 53.5h1M3 54.5h1M12 54.5h3M98 54.5h1M112 54.5h6M119 54.5h1M2 55.5h1M12 55.5h3M98 55.5h2M110 55.5h6M10 56.5h1M97 56.5h3M101 56.5h1M103 56.5h1M105 56.5h2M109 56.5h6M116 56.5h1M0 57.5h1M2 57.5h2M97 57.5h2M100 57.5h18M1 58.5h4M100 58.5h2M103 58.5h15M0 59.5h5M99 59.5h2M103 59.5h1M105 59.5h9M115 59.5h2M0 60.5h6M103 60.5h1M105 60.5h6M112 60.5h1M115 60.5h2M0 61.5h4M106 61.5h2M109 61.5h7M0 62.5h1M3 62.5h2M103 62.5h1M105 62.5h3M109 62.5h3M114 62.5h2M0 63.5h2M103 63.5h1M105 63.5h3M110 63.5h3M0 64.5h2M7 64.5h4M103 64.5h1M105 64.5h1M107 64.5h2M110 64.5h3M0 65.5h2M6 65.5h6M104 65.5h2M110 65.5h2M8 66.5h4M24 66.5h1M109 66.5h4M7 67.5h2M11 67.5h3M105 67.5h1M109 67.5h4M0 68.5h6M8 68.5h1M10 68.5h1M13 68.5h1M97 68.5h1M110 68.5h5M1 69.5h6M9 69.5h1M11 69.5h2M88 69.5h1M94 69.5h1M105 69.5h1M108 69.5h1M110 69.5h5M1 70.5h4M10 70.5h2M18 70.5h2M89 70.5h1M94 70.5h2M108 70.5h6M1 71.5h4M8 71.5h1M11 71.5h2M93 71.5h1M95 71.5h2M108 71.5h8M0 72.5h6M8 72.5h3M87 72.5h1M95 72.5h1M108 72.5h2M112 72.5h2M1 73.5h6M87 73.5h3M108 73.5h1M111 73.5h4M2 74.5h6M9 74.5h1M89 74.5h1M107 74.5h8M2 75.5h4M106 75.5h10M2 76.5h3M13 76.5h1M106 76.5h10M0 77.5h4M13 77.5h2M106 77.5h5M114 77.5h2M119 77.5h1M1 78.5h2M13 78.5h4M101 78.5h1M106 78.5h1M111 78.5h1M114 78.5h2M0 79.5h3M13 79.5h6M101 79.5h6M108 79.5h1M111 79.5h1M114 79.5h1M116 79.5h2M0 80.5h2M11 80.5h6M100 80.5h9M110 80.5h1M117 80.5h1M7 81.5h10M101 81.5h4M106 81.5h4M111 81.5h1M0 82.5h1M8 82.5h9M98 82.5h2M101 82.5h11M113 82.5h2M116 82.5h2M3 83.5h1M8 83.5h6M97 83.5h1M99 83.5h1M102 83.5h6M110 83.5h1M112 83.5h5M3 84.5h2M7 84.5h3M11 84.5h3M17 84.5h2M97 84.5h1M99 84.5h1M102 84.5h16M3 85.5h3M8 85.5h1M10 85.5h5M18 85.5h1M96 85.5h2M99 85.5h2M102 85.5h16M4 86.5h2M8 86.5h1M11 86.5h4M98 86.5h12M112 86.5h6M3 87.5h1M6 87.5h2M12 87.5h1M16 87.5h1M98 87.5h4M106 87.5h3M112 87.5h1M114 87.5h3M0 88.5h1M3 88.5h5M83 88.5h1M98 88.5h2M106 88.5h3M111 88.5h6M0 89.5h9M15 89.5h3M21 89.5h1M99 89.5h2M109 89.5h3M1 90.5h4M6 90.5h5M15 90.5h4M81 90.5h1M97 90.5h5M112 90.5h1M1 91.5h4M10 91.5h9M80 91.5h2M95 91.5h5M1 92.5h3M10 92.5h2M13 92.5h6M81 92.5h1M94 92.5h4M1 93.5h3M10 93.5h3M15 93.5h3M87 93.5h1M94 93.5h1M96 93.5h2M103 93.5h1M9 94.5h2M15 94.5h1M86 94.5h4M92 94.5h6M102 94.5h2M8 95.5h4M74 95.5h1M86 95.5h3M93 95.5h4M102 95.5h1M9 96.5h5M72 96.5h4M87 96.5h3M94 96.5h5M9 97.5h4M66 97.5h4M73 97.5h2M87 97.5h4M93 97.5h7M12 98.5h2M20 98.5h1M26 98.5h1M66 98.5h3M70 98.5h5M86 98.5h5M92 98.5h4M97 98.5h1M12 99.5h1M17 99.5h6M26 99.5h2M49 99.5h1M63 99.5h1M66 99.5h8M75 99.5h1M86 99.5h7M13 100.5h11M26 100.5h3M50 100.5h1M64 100.5h1M66 100.5h9M86 100.5h7M12 101.5h2M20 101.5h9M66 101.5h2M70 101.5h5M86 101.5h2M90 101.5h1M20 102.5h3M24 102.5h7M70 102.5h7M78 102.5h1M80 102.5h1M86 102.5h2M22 103.5h1M24 103.5h1M27 103.5h3M72 103.5h8M86 103.5h2M20 104.5h4M29 104.5h2M52 104.5h1M65 104.5h1M73 104.5h7M83 104.5h1M86 104.5h1M21 105.5h1M24 105.5h3M28 105.5h4M49 105.5h1M73 105.5h2M78 105.5h1M83 105.5h4M24 106.5h1M27 106.5h6M49 106.5h5M72 106.5h3M81 106.5h3M24 107.5h1M27 107.5h6M51 107.5h4M68 107.5h1M71 107.5h6M81 107.5h4M26 108.5h9M43 108.5h1M49 108.5h5M71 108.5h6M78 108.5h6M27 109.5h8M36 109.5h1M38 109.5h2M41 109.5h3M49 109.5h6M72 109.5h11M28 110.5h17M50 110.5h6M57 110.5h2M71 110.5h9M81 110.5h1M29 111.5h10M44 111.5h1M48 111.5h8M57 111.5h2M64 111.5h2M70 111.5h7M36 112.5h4M44 112.5h8M53 112.5h7M62 112.5h6M69 112.5h7M45 113.5h1M47 113.5h5M53 113.5h1M55 113.5h4M61 113.5h1M64 113.5h12M43 114.5h10M55 114.5h17M73 114.5h2M44 115.5h3M50 115.5h1M55 115.5h14M44 116.5h19M64 116.5h6M46 117.5h17M64 117.5h5M47 118.5h1M50 118.5h2M55 118.5h1M57 118.5h1M59 118.5h4M64 118.5h4M43 119.5h2M47 119.5h1M51 119.5h1M53 119.5h1M55 119.5h12"/><path stroke="#dcdcdc" d="M90 0.5h1M93 0.5h1M101 0.5h3M113 0.5h2M90 1.5h1M93 1.5h1M112 1.5h1M94 2.5h2M20 3.5h1M94 3.5h1M6 4.5h1M18 4.5h3M96 4.5h1M98 4.5h1M107 4.5h1M109 4.5h1M111 4.5h1M5 5.5h2M16 5.5h1M18 5.5h1M97 5.5h1M108 5.5h1M110 5.5h2M5 6.5h1M18 6.5h1M118 6.5h1M15 7.5h3M3 8.5h1M103 9.5h1M109 9.5h1M113 9.5h1M112 10.5h1M118 100.5h2M117 101.5h1M6 102.5h1M119 103.5h1M117 104.5h1M105 105.5h2M106 106.5h1M90 109.5h2M112 109.5h1M13 110.5h3M91 110.5h1M111 110.5h1M119 110.5h1M13 111.5h4M111 111.5h1M8 112.5h1M16 112.5h1M117 112.5h2M94 113.5h4M118 113.5h2M79 114.5h1M81 114.5h1M93 114.5h1M96 114.5h1M98 114.5h1M106 114.5h1M1 115.5h2M10 115.5h1M35 115.5h1M78 115.5h2M91 115.5h4M96 115.5h2M105 115.5h2M1 116.5h3M10 116.5h2M37 116.5h1M91 116.5h1M96 116.5h1M104 116.5h2M2 117.5h1M4 117.5h2M10 117.5h3M104 117.5h2M4 118.5h1M11 118.5h1M13 118.5h1M15 118.5h1M102 118.5h1M17 119.5h2M102 119.5h2"/><path stroke="#0066ff" d="M61 2.5h1M63 3.5h1M61 4.5h1M57 5.5h1M55 6.5h3M54 7.5h5M69 7.5h1M71 7.5h1M38 8.5h3M53 8.5h5M65 8.5h1M67 8.5h6M89 8.5h2M38 9.5h3M52 9.5h1M54 9.5h4M62 9.5h12M38 10.5h6M46 10.5h2M53 10.5h4M59 10.5h1M63 10.5h11M38 11.5h7M46 11.5h3M51 11.5h1M53 11.5h4M59 11.5h2M63 11.5h4M69 11.5h5M90 11.5h1M36 12.5h12M52 12.5h11M69 12.5h3M73 12.5h5M36 13.5h7M45 13.5h2M54 13.5h7M68 13.5h2M71 13.5h3M75 13.5h4M83 13.5h1M33 14.5h1M36 14.5h2M39 14.5h4M44 14.5h3M53 14.5h2M57 14.5h5M63 14.5h1M65 14.5h5M73 14.5h5M81 14.5h3M29 15.5h2M35 15.5h1M40 15.5h10M53 15.5h1M55 15.5h6M62 15.5h8M76 15.5h1M78 15.5h1M81 15.5h2M22 16.5h1M26 16.5h3M30 16.5h6M40 16.5h10M51 16.5h1M56 16.5h8M65 16.5h1M75 16.5h3M82 16.5h2M85 16.5h2M88 16.5h1M25 17.5h1M30 17.5h1M32 17.5h4M41 17.5h2M49 17.5h4M54 17.5h7M62 17.5h2M75 17.5h4M82 17.5h2M87 17.5h2M24 18.5h1M33 18.5h1M35 18.5h7M50 18.5h5M57 18.5h5M77 18.5h1M83 18.5h1M86 18.5h4M23 19.5h2M31 19.5h2M38 19.5h1M43 19.5h1M49 19.5h4M75 19.5h1M77 19.5h2M87 19.5h3M23 20.5h1M31 20.5h3M35 20.5h1M45 20.5h1M53 20.5h1M55 20.5h1M77 20.5h3M88 20.5h4M22 21.5h2M29 21.5h4M37 21.5h1M44 21.5h1M51 21.5h3M74 21.5h1M77 21.5h1M80 21.5h2M87 21.5h6M22 22.5h3M29 22.5h11M41 22.5h1M43 22.5h2M52 22.5h1M80 22.5h2M86 22.5h7M29 23.5h2M32 23.5h4M38 23.5h4M43 23.5h1M69 23.5h1M81 23.5h3M86 23.5h6M93 23.5h1M14 24.5h1M23 24.5h3M29 24.5h7M37 24.5h4M62 24.5h2M81 24.5h5M88 24.5h4M14 25.5h6M25 25.5h4M30 25.5h1M33 25.5h3M37 25.5h4M43 25.5h1M47 25.5h1M83 25.5h1M90 25.5h2M10 26.5h2M14 26.5h2M17 26.5h3M22 26.5h4M31 26.5h1M34 26.5h5M64 26.5h1M82 26.5h1M88 26.5h2M91 26.5h1M93 26.5h1M10 27.5h1M14 27.5h1M19 27.5h1M22 27.5h1M25 27.5h1M28 27.5h2M32 27.5h1M35 27.5h4M64 27.5h1M89 27.5h3M14 28.5h2M19 28.5h3M31 28.5h7M83 28.5h1M90 28.5h3M15 29.5h1M21 29.5h3M25 29.5h2M32 29.5h1M34 29.5h4M89 29.5h7M14 30.5h7M22 30.5h2M26 30.5h2M31 30.5h3M35 30.5h2M88 30.5h9M113 30.5h1M15 31.5h2M20 31.5h2M23 31.5h4M30 31.5h2M33 31.5h4M75 31.5h1M88 31.5h2M92 31.5h1M14 32.5h3M24 32.5h2M27 32.5h1M32 32.5h3M87 32.5h3M94 32.5h5M14 33.5h2M17 33.5h1M24 33.5h2M27 33.5h1M30 33.5h5M88 33.5h3M92 33.5h1M94 33.5h2M97 33.5h2M8 34.5h1M14 34.5h3M25 34.5h8M62 34.5h1M89 34.5h2M92 34.5h1M95 34.5h2M101 34.5h1M107 34.5h1M6 35.5h2M14 35.5h3M32 35.5h1M89 35.5h10M100 35.5h4M106 35.5h4M6 36.5h2M10 36.5h5M32 36.5h1M89 36.5h6M97 36.5h2M101 36.5h1M104 36.5h6M10 37.5h1M12 37.5h1M14 37.5h1M82 37.5h1M88 37.5h1M96 37.5h12M10 38.5h1M12 38.5h1M16 38.5h1M81 38.5h3M88 38.5h1M98 38.5h4M103 38.5h6M11 39.5h1M14 39.5h2M82 39.5h2M99 39.5h3M108 39.5h1M11 40.5h4M79 40.5h1M81 40.5h4M99 40.5h3M3 41.5h1M5 41.5h1M8 41.5h4M13 41.5h3M20 41.5h1M78 41.5h3M83 41.5h2M100 41.5h2M106 41.5h1M108 41.5h1M6 42.5h1M8 42.5h2M13 42.5h3M78 42.5h2M101 42.5h2M104 42.5h4M5 43.5h1M8 43.5h2M13 43.5h3M17 43.5h4M101 43.5h7M5 44.5h1M12 44.5h4M18 44.5h3M96 44.5h1M103 44.5h5M3 45.5h1M12 45.5h5M18 45.5h2M29 45.5h2M94 45.5h4M105 45.5h3M2 46.5h2M9 46.5h4M14 46.5h1M17 46.5h3M28 46.5h1M31 46.5h2M94 46.5h2M105 46.5h6M0 47.5h3M8 47.5h6M18 47.5h1M20 47.5h1M31 47.5h2M95 47.5h1M106 47.5h5M0 48.5h1M9 48.5h1M12 48.5h4M32 48.5h1M103 48.5h4M108 48.5h1M0 49.5h1M6 49.5h2M12 49.5h3M17 49.5h2M22 49.5h1M24 49.5h2M104 49.5h2M2 50.5h1M5 50.5h2M11 50.5h7M21 50.5h5M92 50.5h2M103 50.5h4M1 51.5h3M6 51.5h1M11 51.5h1M13 51.5h6M22 51.5h1M24 51.5h1M97 51.5h1M101 51.5h6M108 51.5h2M2 52.5h4M10 52.5h2M13 52.5h5M23 52.5h2M96 52.5h3M100 52.5h7M108 52.5h2M0 53.5h6M9 53.5h3M15 53.5h3M23 53.5h5M96 53.5h15M0 54.5h3M4 54.5h1M8 54.5h1M10 54.5h2M15 54.5h2M23 54.5h1M25 54.5h3M96 54.5h2M99 54.5h9M109 54.5h3M0 55.5h2M3 55.5h9M15 55.5h2M25 55.5h3M29 55.5h1M96 55.5h2M100 55.5h10M0 56.5h10M11 56.5h6M26 56.5h4M96 56.5h1M100 56.5h1M102 56.5h1M104 56.5h1M107 56.5h2M1 57.5h1M4 57.5h10M15 57.5h2M27 57.5h1M29 57.5h1M96 57.5h1M99 57.5h1M0 58.5h1M5 58.5h5M15 58.5h4M96 58.5h4M102 58.5h1M5 59.5h5M16 59.5h3M97 59.5h2M101 59.5h2M104 59.5h1M114 59.5h1M6 60.5h4M17 60.5h2M93 60.5h1M98 60.5h5M104 60.5h1M113 60.5h2M4 61.5h3M8 61.5h2M19 61.5h4M94 61.5h1M96 61.5h1M98 61.5h8M108 61.5h1M1 62.5h2M5 62.5h6M17 62.5h1M19 62.5h2M22 62.5h1M96 62.5h7M104 62.5h1M108 62.5h1M2 63.5h10M19 63.5h2M22 63.5h1M96 63.5h1M98 63.5h1M100 63.5h3M104 63.5h1M108 63.5h2M3 64.5h4M11 64.5h1M23 64.5h2M86 64.5h2M91 64.5h1M93 64.5h3M97 64.5h2M100 64.5h3M104 64.5h1M106 64.5h1M109 64.5h1M2 65.5h1M4 65.5h2M12 65.5h1M22 65.5h4M34 65.5h1M88 65.5h1M91 65.5h2M94 65.5h5M101 65.5h3M106 65.5h4M0 66.5h8M12 66.5h3M18 66.5h2M21 66.5h3M25 66.5h1M35 66.5h1M86 66.5h1M88 66.5h5M94 66.5h1M103 66.5h6M0 67.5h7M9 67.5h2M14 67.5h3M21 67.5h5M35 67.5h1M86 67.5h1M92 67.5h6M103 67.5h2M106 67.5h3M6 68.5h2M9 68.5h1M11 68.5h2M18 68.5h4M23 68.5h2M34 68.5h1M36 68.5h1M87 68.5h3M92 68.5h5M98 68.5h2M104 68.5h3M108 68.5h2M0 69.5h1M7 69.5h2M10 69.5h1M13 69.5h11M36 69.5h1M87 69.5h1M89 69.5h1M92 69.5h2M95 69.5h4M103 69.5h2M106 69.5h2M109 69.5h1M0 70.5h1M5 70.5h5M12 70.5h4M17 70.5h1M20 70.5h4M33 70.5h2M87 70.5h2M90 70.5h1M92 70.5h2M96 70.5h2M104 70.5h4M0 71.5h1M5 71.5h3M9 71.5h2M13 71.5h2M18 71.5h4M86 71.5h7M94 71.5h1M97 71.5h2M107 71.5h1M6 72.5h2M11 72.5h3M18 72.5h1M20 72.5h2M23 72.5h2M27 72.5h1M71 72.5h1M86 72.5h1M88 72.5h7M96 72.5h2M102 72.5h1M106 72.5h2M7 73.5h8M19 73.5h2M22 73.5h1M24 73.5h1M26 73.5h3M86 73.5h1M90 73.5h7M106 73.5h2M8 74.5h1M10 74.5h3M19 74.5h2M26 74.5h3M86 74.5h3M90 74.5h5M100 74.5h7M6 75.5h6M13 75.5h1M18 75.5h2M25 75.5h4M87 75.5h4M93 75.5h5M101 75.5h5M5 76.5h2M11 76.5h2M14 76.5h1M18 76.5h4M23 76.5h1M27 76.5h2M87 76.5h2M90 76.5h2M95 76.5h3M100 76.5h6M4 77.5h2M7 77.5h1M11 77.5h2M15 77.5h8M24 77.5h4M96 77.5h2M99 77.5h7M3 78.5h3M10 78.5h3M17 78.5h3M21 78.5h1M24 78.5h3M99 78.5h2M102 78.5h4M3 79.5h3M10 79.5h3M19 79.5h1M21 79.5h1M26 79.5h1M90 79.5h1M97 79.5h1M99 79.5h2M2 80.5h4M7 80.5h4M17 80.5h2M20 80.5h2M82 80.5h1M90 80.5h2M93 80.5h2M98 80.5h2M0 81.5h7M17 81.5h2M21 81.5h1M27 81.5h1M83 81.5h1M89 81.5h3M93 81.5h1M95 81.5h6M105 81.5h1M1 82.5h4M6 82.5h2M17 82.5h1M90 82.5h1M95 82.5h3M100 82.5h1M0 83.5h3M4 83.5h4M14 83.5h6M31 83.5h2M89 83.5h1M95 83.5h2M98 83.5h1M100 83.5h2M0 84.5h3M5 84.5h2M10 84.5h1M14 84.5h3M19 84.5h1M21 84.5h1M31 84.5h2M83 84.5h1M95 84.5h2M98 84.5h1M100 84.5h2M0 85.5h3M6 85.5h2M9 85.5h1M15 85.5h3M19 85.5h1M21 85.5h1M30 85.5h2M70 85.5h3M81 85.5h1M95 85.5h1M98 85.5h1M101 85.5h1M0 86.5h4M6 86.5h2M9 86.5h2M15 86.5h9M26 86.5h1M29 86.5h4M40 86.5h1M72 86.5h1M83 86.5h1M94 86.5h1M96 86.5h2M0 87.5h3M4 87.5h2M8 87.5h4M13 87.5h1M15 87.5h1M17 87.5h4M23 87.5h2M29 87.5h1M81 87.5h4M94 87.5h2M97 87.5h1M1 88.5h2M8 88.5h2M12 88.5h10M39 88.5h1M80 88.5h3M84 88.5h1M94 88.5h4M9 89.5h4M14 89.5h1M18 89.5h3M22 89.5h3M75 89.5h1M79 89.5h6M86 89.5h1M88 89.5h1M94 89.5h5M11 90.5h4M19 90.5h5M36 90.5h2M73 90.5h3M77 90.5h4M82 90.5h2M86 90.5h3M94 90.5h3M19 91.5h5M34 91.5h4M42 91.5h1M72 91.5h3M77 91.5h3M82 91.5h3M86 91.5h3M92 91.5h3M12 92.5h1M19 92.5h6M34 92.5h4M71 92.5h2M74 92.5h1M78 92.5h3M82 92.5h2M86 92.5h3M92 92.5h2M13 93.5h2M18 93.5h8M28 93.5h1M32 93.5h6M69 93.5h1M72 93.5h2M76 93.5h1M79 93.5h1M81 93.5h3M85 93.5h2M88 93.5h2M91 93.5h3M95 93.5h1M11 94.5h4M16 94.5h13M33 94.5h4M71 94.5h5M77 94.5h1M79 94.5h4M84 94.5h2M90 94.5h1M12 95.5h4M17 95.5h13M34 95.5h1M36 95.5h1M49 95.5h1M66 95.5h2M69 95.5h1M71 95.5h3M75 95.5h2M85 95.5h1M89 95.5h4M14 96.5h1M17 96.5h6M25 96.5h6M34 96.5h1M37 96.5h1M46 96.5h1M49 96.5h3M65 96.5h7M76 96.5h2M86 96.5h1M90 96.5h4M13 97.5h2M18 97.5h12M48 97.5h1M50 97.5h1M63 97.5h3M70 97.5h3M75 97.5h3M85 97.5h2M91 97.5h2M14 98.5h6M21 98.5h5M27 98.5h5M48 98.5h4M61 98.5h5M69 98.5h1M75 98.5h5M85 98.5h1M91 98.5h1M13 99.5h4M23 99.5h3M28 99.5h3M50 99.5h3M61 99.5h2M64 99.5h2M74 99.5h1M76 99.5h1M78 99.5h3M85 99.5h1M24 100.5h2M29 100.5h3M48 100.5h2M51 100.5h1M53 100.5h1M61 100.5h3M65 100.5h1M75 100.5h7M85 100.5h1M29 101.5h4M38 101.5h1M40 101.5h1M48 101.5h6M59 101.5h1M62 101.5h3M68 101.5h2M75 101.5h7M84 101.5h2M31 102.5h2M46 102.5h6M58 102.5h3M63 102.5h7M77 102.5h1M79 102.5h1M81 102.5h1M85 102.5h1M30 103.5h2M41 103.5h1M45 103.5h1M47 103.5h4M52 103.5h4M58 103.5h2M62 103.5h1M64 103.5h8M80 103.5h6M31 104.5h1M45 104.5h7M53 104.5h5M59 104.5h6M66 104.5h7M80 104.5h1M82 104.5h1M84 104.5h2M32 105.5h1M45 105.5h4M50 105.5h8M61 105.5h12M75 105.5h3M79 105.5h4M33 106.5h1M42 106.5h1M44 106.5h5M54 106.5h5M61 106.5h1M63 106.5h9M75 106.5h6M33 107.5h3M41 107.5h10M55 107.5h7M67 107.5h1M69 107.5h2M77 107.5h4M35 108.5h2M39 108.5h4M44 108.5h5M54 108.5h7M62 108.5h2M65 108.5h1M67 108.5h3M77 108.5h1M35 109.5h1M37 109.5h1M40 109.5h1M44 109.5h5M55 109.5h6M62 109.5h2M66 109.5h1M68 109.5h4M45 110.5h5M56 110.5h1M59 110.5h12M45 111.5h3M56 111.5h1M59 111.5h5M66 111.5h4M52 112.5h1M60 112.5h2M68 112.5h1M46 113.5h1M52 113.5h1M54 113.5h1M59 113.5h2M62 113.5h2M53 114.5h2M47 115.5h3M51 115.5h4M63 116.5h1M63 117.5h1M56 118.5h1M58 118.5h1M63 118.5h1"/><path stroke="#ffffff" d="M93 2.5h1M17 5.5h1M109 5.5h1M16 6.5h2M109 6.5h3M109 7.5h4M109 8.5h4M110 9.5h3M111 10.5h1M113 10.5h1M118 101.5h2M116 102.5h4M116 103.5h3M119 111.5h1M119 112.5h1M94 114.5h2M97 114.5h1M107 114.5h1M95 115.5h1M95 116.5h1M3 117.5h1M3 118.5h1M12 118.5h1M14 118.5h1M12 119.5h5"/><path stroke="#0099ff" d="M72 12.5h1M43 13.5h2M70 13.5h1M74 13.5h1M43 14.5h1M55 14.5h2M70 14.5h3M54 15.5h1M61 15.5h1M70 15.5h6M83 15.5h1M29 16.5h1M54 16.5h2M64 16.5h1M66 16.5h4M71 16.5h4M26 17.5h4M31 17.5h1M43 17.5h6M61 17.5h1M64 17.5h4M73 17.5h2M25 18.5h2M28 18.5h5M34 18.5h1M42 18.5h4M48 18.5h2M55 18.5h2M62 18.5h4M67 18.5h1M72 18.5h1M75 18.5h2M26 19.5h1M28 19.5h3M33 19.5h5M39 19.5h4M44 19.5h2M48 19.5h1M53 19.5h9M65 19.5h1M72 19.5h1M74 19.5h1M76 19.5h1M24 20.5h1M27 20.5h4M34 20.5h1M36 20.5h9M46 20.5h1M49 20.5h4M54 20.5h1M56 20.5h1M58 20.5h4M68 20.5h2M74 20.5h3M24 21.5h1M33 21.5h4M38 21.5h6M45 21.5h2M48 21.5h2M54 21.5h2M58 21.5h4M68 21.5h6M75 21.5h2M78 21.5h2M25 22.5h4M40 22.5h1M42 22.5h1M45 22.5h4M51 22.5h1M53 22.5h5M59 22.5h3M65 22.5h15M24 23.5h5M36 23.5h2M42 23.5h1M44 23.5h6M52 23.5h6M60 23.5h1M63 23.5h6M70 23.5h11M26 24.5h3M36 24.5h1M41 24.5h8M53 24.5h2M58 24.5h4M64 24.5h4M69 24.5h12M86 24.5h2M29 25.5h1M36 25.5h1M41 25.5h2M44 25.5h3M48 25.5h1M53 25.5h2M60 25.5h7M69 25.5h1M71 25.5h8M80 25.5h3M84 25.5h6M16 26.5h1M39 26.5h10M52 26.5h1M54 26.5h2M62 26.5h2M65 26.5h1M74 26.5h4M81 26.5h1M83 26.5h5M90 26.5h1M15 27.5h4M39 27.5h3M45 27.5h1M47 27.5h1M54 27.5h3M58 27.5h1M62 27.5h2M65 27.5h1M75 27.5h2M81 27.5h4M86 27.5h3M16 28.5h3M38 28.5h3M54 28.5h2M62 28.5h3M75 28.5h3M81 28.5h2M84 28.5h1M87 28.5h3M16 29.5h4M33 29.5h1M38 29.5h4M55 29.5h1M61 29.5h4M76 29.5h2M81 29.5h1M83 29.5h1M87 29.5h2M34 30.5h1M37 30.5h5M54 30.5h1M56 30.5h1M62 30.5h3M73 30.5h4M80 30.5h3M86 30.5h2M17 31.5h3M22 31.5h1M37 31.5h5M62 31.5h4M73 31.5h2M76 31.5h2M81 31.5h3M86 31.5h2M90 31.5h2M17 32.5h3M21 32.5h3M35 32.5h7M61 32.5h4M72 32.5h2M85 32.5h2M90 32.5h4M16 33.5h1M18 33.5h2M21 33.5h1M23 33.5h1M35 33.5h1M39 33.5h1M41 33.5h1M63 33.5h2M72 33.5h5M85 33.5h3M91 33.5h1M93 33.5h1M17 34.5h8M33 34.5h3M41 34.5h1M61 34.5h1M63 34.5h3M74 34.5h2M80 34.5h1M86 34.5h3M91 34.5h1M93 34.5h2M17 35.5h3M22 35.5h8M31 35.5h1M33 35.5h3M61 35.5h3M65 35.5h2M73 35.5h2M78 35.5h3M82 35.5h2M86 35.5h3M15 36.5h3M19 36.5h1M29 36.5h3M33 36.5h2M63 36.5h4M78 36.5h3M82 36.5h7M95 36.5h2M11 37.5h1M13 37.5h1M15 37.5h2M19 37.5h1M30 37.5h4M64 37.5h3M79 37.5h3M83 37.5h5M89 37.5h7M11 38.5h1M13 38.5h3M17 38.5h3M33 38.5h3M63 38.5h3M78 38.5h3M84 38.5h1M86 38.5h2M89 38.5h2M92 38.5h6M12 39.5h2M16 39.5h1M18 39.5h3M30 39.5h1M33 39.5h1M77 39.5h5M84 39.5h6M92 39.5h7M15 40.5h2M18 40.5h3M30 40.5h1M33 40.5h1M77 40.5h2M80 40.5h1M85 40.5h5M96 40.5h3M16 41.5h4M21 41.5h1M26 41.5h5M42 41.5h2M77 41.5h1M81 41.5h2M85 41.5h4M90 41.5h1M96 41.5h4M16 42.5h5M22 42.5h1M27 42.5h7M80 42.5h6M87 42.5h4M96 42.5h2M99 42.5h2M16 43.5h1M21 43.5h1M27 43.5h2M30 43.5h4M79 43.5h7M90 43.5h1M95 43.5h3M99 43.5h2M16 44.5h2M27 44.5h2M30 44.5h4M48 44.5h1M79 44.5h3M84 44.5h1M88 44.5h3M92 44.5h4M97 44.5h6M17 45.5h1M20 45.5h3M27 45.5h2M31 45.5h3M48 45.5h1M79 45.5h1M84 45.5h3M89 45.5h2M92 45.5h2M98 45.5h2M101 45.5h4M13 46.5h1M15 46.5h2M20 46.5h3M27 46.5h1M29 46.5h2M33 46.5h3M37 46.5h1M70 46.5h3M79 46.5h9M90 46.5h4M96 46.5h4M101 46.5h4M14 47.5h4M19 47.5h1M21 47.5h1M23 47.5h1M27 47.5h4M33 47.5h2M70 47.5h2M84 47.5h4M90 47.5h1M92 47.5h3M96 47.5h1M98 47.5h2M102 47.5h4M8 48.5h1M10 48.5h2M16 48.5h9M26 48.5h2M31 48.5h1M33 48.5h1M35 48.5h1M77 48.5h1M85 48.5h3M89 48.5h10M100 48.5h3M8 49.5h4M15 49.5h2M19 49.5h3M23 49.5h1M26 49.5h2M31 49.5h5M84 49.5h4M90 49.5h1M93 49.5h6M100 49.5h4M7 50.5h2M10 50.5h1M18 50.5h3M26 50.5h2M32 50.5h2M84 50.5h1M86 50.5h3M90 50.5h2M94 50.5h9M7 51.5h4M19 51.5h3M25 51.5h3M36 51.5h1M90 51.5h2M93 51.5h1M95 51.5h2M98 51.5h3M6 52.5h4M18 52.5h5M25 52.5h4M85 52.5h1M87 52.5h1M95 52.5h1M99 52.5h1M6 53.5h3M18 53.5h5M28 53.5h2M92 53.5h2M95 53.5h1M5 54.5h3M9 54.5h1M17 54.5h3M22 54.5h1M24 54.5h1M28 54.5h3M94 54.5h2M108 54.5h1M17 55.5h2M21 55.5h4M28 55.5h1M30 55.5h1M75 55.5h1M94 55.5h2M17 56.5h4M23 56.5h3M30 56.5h1M76 56.5h1M94 56.5h2M14 57.5h1M17 57.5h3M24 57.5h3M28 57.5h1M30 57.5h1M76 57.5h2M93 57.5h3M10 58.5h5M19 58.5h1M21 58.5h1M23 58.5h2M27 58.5h4M32 58.5h2M77 58.5h1M94 58.5h2M10 59.5h6M21 59.5h4M26 59.5h2M29 59.5h1M33 59.5h2M79 59.5h1M94 59.5h3M10 60.5h7M19 60.5h4M27 60.5h1M33 60.5h3M92 60.5h1M94 60.5h4M7 61.5h1M10 61.5h3M15 61.5h4M23 61.5h1M32 61.5h3M90 61.5h4M95 61.5h1M97 61.5h1M11 62.5h1M16 62.5h1M18 62.5h1M21 62.5h1M23 62.5h1M32 62.5h1M34 62.5h1M85 62.5h1M87 62.5h1M89 62.5h1M91 62.5h5M12 63.5h1M15 63.5h4M21 63.5h1M23 63.5h1M25 63.5h4M31 63.5h5M85 63.5h11M97 63.5h1M99 63.5h1M2 64.5h1M12 64.5h2M15 64.5h8M25 64.5h2M28 64.5h1M31 64.5h5M85 64.5h1M88 64.5h3M92 64.5h1M96 64.5h1M99 64.5h1M3 65.5h1M13 65.5h4M18 65.5h4M26 65.5h3M32 65.5h2M35 65.5h1M83 65.5h1M85 65.5h3M89 65.5h2M93 65.5h1M99 65.5h2M15 66.5h3M20 66.5h1M26 66.5h3M33 66.5h2M36 66.5h2M83 66.5h3M87 66.5h1M93 66.5h1M95 66.5h8M17 67.5h4M26 67.5h1M33 67.5h2M36 67.5h3M84 67.5h2M87 67.5h5M98 67.5h5M14 68.5h4M22 68.5h1M25 68.5h2M33 68.5h1M35 68.5h1M37 68.5h2M84 68.5h1M86 68.5h1M90 68.5h2M100 68.5h4M107 68.5h1M24 69.5h2M33 69.5h3M37 69.5h2M73 69.5h1M77 69.5h1M80 69.5h1M85 69.5h2M90 69.5h2M99 69.5h4M16 70.5h1M24 70.5h2M28 70.5h1M32 70.5h1M35 70.5h3M72 70.5h2M75 70.5h1M86 70.5h1M91 70.5h1M98 70.5h6M15 71.5h3M22 71.5h5M28 71.5h1M31 71.5h1M34 71.5h1M70 71.5h4M76 71.5h1M99 71.5h8M14 72.5h4M19 72.5h1M22 72.5h1M25 72.5h2M28 72.5h5M70 72.5h1M72 72.5h2M98 72.5h4M103 72.5h3M15 73.5h4M21 73.5h1M23 73.5h1M25 73.5h1M29 73.5h2M70 73.5h4M85 73.5h1M97 73.5h9M13 74.5h6M21 74.5h5M29 74.5h2M71 74.5h3M85 74.5h1M95 74.5h5M12 75.5h1M14 75.5h4M20 75.5h5M29 75.5h1M71 75.5h3M82 75.5h5M91 75.5h2M98 75.5h3M7 76.5h4M15 76.5h3M22 76.5h1M24 76.5h3M81 76.5h2M84 76.5h3M89 76.5h1M92 76.5h3M98 76.5h2M6 77.5h1M8 77.5h3M23 77.5h1M28 77.5h1M35 77.5h2M81 77.5h2M87 77.5h9M98 77.5h1M6 78.5h4M20 78.5h1M22 78.5h2M27 78.5h2M33 78.5h2M36 78.5h3M80 78.5h4M87 78.5h6M94 78.5h5M6 79.5h4M20 79.5h1M22 79.5h4M27 79.5h3M35 79.5h1M38 79.5h1M82 79.5h3M87 79.5h3M91 79.5h6M98 79.5h1M6 80.5h1M19 80.5h1M22 80.5h3M26 80.5h5M32 80.5h1M39 80.5h1M81 80.5h1M83 80.5h1M88 80.5h2M92 80.5h1M95 80.5h3M19 81.5h2M22 81.5h3M26 81.5h1M28 81.5h3M32 81.5h1M41 81.5h1M78 81.5h5M84 81.5h1M88 81.5h1M92 81.5h1M94 81.5h1M5 82.5h1M18 82.5h6M26 82.5h8M78 82.5h1M81 82.5h4M88 82.5h2M91 82.5h4M20 83.5h3M26 83.5h5M33 83.5h1M81 83.5h3M88 83.5h1M90 83.5h5M20 84.5h1M22 84.5h2M25 84.5h6M33 84.5h2M41 84.5h1M69 84.5h1M71 84.5h3M79 84.5h4M84 84.5h1M86 84.5h1M88 84.5h7M20 85.5h1M22 85.5h5M28 85.5h2M32 85.5h4M41 85.5h1M69 85.5h1M73 85.5h2M79 85.5h2M82 85.5h5M89 85.5h6M24 86.5h2M28 86.5h1M33 86.5h1M38 86.5h2M41 86.5h1M69 86.5h3M73 86.5h2M81 86.5h2M84 86.5h3M92 86.5h2M95 86.5h1M14 87.5h1M21 87.5h2M25 87.5h2M28 87.5h1M30 87.5h3M37 87.5h4M69 87.5h4M80 87.5h1M85 87.5h1M92 87.5h2M96 87.5h1M10 88.5h2M22 88.5h5M29 88.5h1M32 88.5h1M34 88.5h2M37 88.5h2M40 88.5h1M42 88.5h1M71 88.5h5M77 88.5h3M85 88.5h4M91 88.5h3M13 89.5h1M25 89.5h2M28 89.5h1M34 89.5h8M70 89.5h1M72 89.5h3M76 89.5h3M85 89.5h1M87 89.5h1M92 89.5h2M24 90.5h1M33 90.5h3M38 90.5h5M72 90.5h1M76 90.5h1M84 90.5h2M89 90.5h1M92 90.5h2M28 91.5h1M32 91.5h2M38 91.5h4M43 91.5h2M60 91.5h1M67 91.5h1M71 91.5h1M75 91.5h2M85 91.5h1M89 91.5h3M25 92.5h2M28 92.5h2M31 92.5h3M38 92.5h2M60 92.5h1M66 92.5h1M68 92.5h3M73 92.5h1M75 92.5h3M84 92.5h2M89 92.5h3M26 93.5h2M29 93.5h3M38 93.5h1M47 93.5h1M66 93.5h3M70 93.5h2M74 93.5h2M77 93.5h2M80 93.5h1M84 93.5h1M90 93.5h1M29 94.5h1M31 94.5h2M37 94.5h2M44 94.5h3M48 94.5h2M53 94.5h2M59 94.5h2M66 94.5h5M76 94.5h1M78 94.5h1M83 94.5h1M91 94.5h1M16 95.5h1M30 95.5h4M35 95.5h1M37 95.5h2M46 95.5h3M50 95.5h4M62 95.5h4M68 95.5h1M70 95.5h1M77 95.5h8M15 96.5h2M23 96.5h2M31 96.5h3M35 96.5h2M38 96.5h1M43 96.5h3M47 96.5h2M52 96.5h1M61 96.5h4M78 96.5h8M15 97.5h3M30 97.5h2M34 97.5h4M43 97.5h5M49 97.5h1M51 97.5h2M61 97.5h2M78 97.5h7M36 98.5h4M45 98.5h3M52 98.5h2M55 98.5h1M59 98.5h2M80 98.5h5M31 99.5h2M38 99.5h3M44 99.5h5M53 99.5h1M55 99.5h2M59 99.5h2M77 99.5h1M81 99.5h4M37 100.5h3M43 100.5h5M52 100.5h1M54 100.5h1M56 100.5h2M59 100.5h2M82 100.5h3M33 101.5h1M35 101.5h3M39 101.5h1M41 101.5h1M47 101.5h1M54 101.5h3M58 101.5h1M60 101.5h2M65 101.5h1M82 101.5h2M34 102.5h2M38 102.5h1M40 102.5h6M52 102.5h6M61 102.5h2M82 102.5h3M32 103.5h2M37 103.5h1M40 103.5h1M42 103.5h3M46 103.5h1M51 103.5h1M56 103.5h2M60 103.5h2M63 103.5h1M32 104.5h3M40 104.5h2M43 104.5h2M58 104.5h1M81 104.5h1M33 105.5h1M38 105.5h1M41 105.5h4M58 105.5h3M34 106.5h2M41 106.5h1M43 106.5h1M59 106.5h2M62 106.5h1M36 107.5h1M38 107.5h3M62 107.5h5M37 108.5h2M61 108.5h1M64 108.5h1M66 108.5h1M70 108.5h1M61 109.5h1M64 109.5h2M67 109.5h1"/><path stroke="#00ccff" d="M70 16.5h1M68 17.5h5M27 18.5h1M46 18.5h2M66 18.5h1M68 18.5h4M73 18.5h2M25 19.5h1M27 19.5h1M46 19.5h2M62 19.5h3M66 19.5h6M73 19.5h1M25 20.5h2M47 20.5h2M57 20.5h1M62 20.5h6M70 20.5h1M72 20.5h2M25 21.5h1M27 21.5h2M47 21.5h1M50 21.5h1M56 21.5h2M62 21.5h6M49 22.5h2M58 22.5h1M62 22.5h3M51 23.5h1M58 23.5h2M61 23.5h2M49 24.5h4M55 24.5h3M68 24.5h1M49 25.5h4M55 25.5h5M67 25.5h2M70 25.5h1M79 25.5h1M49 26.5h3M53 26.5h1M56 26.5h6M66 26.5h2M72 26.5h2M78 26.5h3M42 27.5h3M46 27.5h1M48 27.5h3M52 27.5h2M57 27.5h1M59 27.5h3M66 27.5h1M74 27.5h1M77 27.5h4M85 27.5h1M41 28.5h7M53 28.5h1M56 28.5h6M65 28.5h2M72 28.5h1M74 28.5h1M78 28.5h3M85 28.5h2M42 29.5h1M46 29.5h1M53 29.5h2M56 29.5h1M58 29.5h1M60 29.5h1M65 29.5h1M74 29.5h2M78 29.5h3M82 29.5h1M84 29.5h3M42 30.5h1M48 30.5h2M52 30.5h2M55 30.5h1M57 30.5h1M60 30.5h2M65 30.5h1M71 30.5h2M77 30.5h3M83 30.5h3M42 31.5h1M46 31.5h1M53 31.5h1M58 31.5h4M66 31.5h1M72 31.5h1M78 31.5h3M84 31.5h2M20 32.5h1M42 32.5h1M51 32.5h1M55 32.5h1M60 32.5h1M65 32.5h1M71 32.5h1M74 32.5h11M20 33.5h1M22 33.5h1M36 33.5h3M40 33.5h1M57 33.5h1M60 33.5h3M65 33.5h1M71 33.5h1M77 33.5h3M82 33.5h3M36 34.5h2M39 34.5h2M59 34.5h2M66 34.5h2M71 34.5h3M76 34.5h4M81 34.5h5M20 35.5h2M30 35.5h1M39 35.5h3M43 35.5h1M49 35.5h2M59 35.5h2M64 35.5h1M67 35.5h1M71 35.5h2M75 35.5h2M81 35.5h1M84 35.5h2M18 36.5h1M20 36.5h9M35 36.5h2M40 36.5h3M49 36.5h2M61 36.5h2M67 36.5h2M75 36.5h3M81 36.5h1M17 37.5h2M20 37.5h2M26 37.5h4M34 37.5h3M51 37.5h1M61 37.5h3M67 37.5h2M76 37.5h3M20 38.5h4M26 38.5h7M36 38.5h3M42 38.5h1M50 38.5h3M62 38.5h1M66 38.5h2M76 38.5h2M85 38.5h1M91 38.5h1M17 39.5h1M21 39.5h3M26 39.5h4M31 39.5h2M34 39.5h2M38 39.5h1M42 39.5h3M50 39.5h2M60 39.5h1M62 39.5h7M76 39.5h1M90 39.5h2M17 40.5h1M21 40.5h2M24 40.5h6M31 40.5h2M34 40.5h3M41 40.5h4M49 40.5h4M60 40.5h1M63 40.5h2M90 40.5h6M22 41.5h4M31 41.5h5M41 41.5h1M44 41.5h2M48 41.5h4M76 41.5h1M89 41.5h1M91 41.5h5M21 42.5h1M23 42.5h4M34 42.5h1M36 42.5h1M41 42.5h5M47 42.5h4M59 42.5h1M77 42.5h1M86 42.5h1M91 42.5h5M98 42.5h1M22 43.5h5M29 43.5h1M35 43.5h3M45 43.5h2M48 43.5h1M78 43.5h1M86 43.5h4M91 43.5h4M98 43.5h1M21 44.5h6M29 44.5h1M34 44.5h3M46 44.5h2M49 44.5h1M78 44.5h1M82 44.5h2M85 44.5h3M91 44.5h1M23 45.5h4M34 45.5h3M46 45.5h2M70 45.5h2M78 45.5h1M80 45.5h4M87 45.5h2M91 45.5h1M100 45.5h1M23 46.5h4M36 46.5h1M47 46.5h3M67 46.5h1M73 46.5h1M78 46.5h1M88 46.5h2M100 46.5h1M22 47.5h1M24 47.5h3M35 47.5h2M38 47.5h1M47 47.5h2M67 47.5h1M69 47.5h1M72 47.5h2M77 47.5h5M83 47.5h1M88 47.5h2M91 47.5h1M97 47.5h1M100 47.5h2M25 48.5h1M28 48.5h3M34 48.5h1M36 48.5h2M39 48.5h1M65 48.5h3M69 48.5h4M74 48.5h1M76 48.5h1M78 48.5h1M81 48.5h1M83 48.5h2M88 48.5h1M99 48.5h1M28 49.5h3M36 49.5h1M47 49.5h4M64 49.5h8M74 49.5h1M77 49.5h1M83 49.5h1M88 49.5h2M91 49.5h2M99 49.5h1M9 50.5h1M28 50.5h4M34 50.5h2M65 50.5h1M68 50.5h1M75 50.5h1M83 50.5h1M85 50.5h1M89 50.5h1M28 51.5h8M37 51.5h2M63 51.5h1M83 51.5h1M85 51.5h5M92 51.5h1M94 51.5h1M29 52.5h9M84 52.5h1M86 52.5h1M88 52.5h7M30 53.5h6M37 53.5h1M72 53.5h3M88 53.5h1M90 53.5h2M94 53.5h1M20 54.5h2M31 54.5h7M71 54.5h1M73 54.5h4M91 54.5h3M19 55.5h2M31 55.5h4M36 55.5h1M70 55.5h1M76 55.5h1M90 55.5h4M21 56.5h2M31 56.5h6M74 56.5h2M77 56.5h1M79 56.5h1M82 56.5h1M90 56.5h4M20 57.5h4M31 57.5h4M74 57.5h2M78 57.5h1M80 57.5h1M91 57.5h2M20 58.5h1M22 58.5h1M25 58.5h2M31 58.5h1M34 58.5h2M75 58.5h2M78 58.5h3M82 58.5h1M87 58.5h2M92 58.5h2M19 59.5h2M25 59.5h1M28 59.5h1M30 59.5h3M35 59.5h1M75 59.5h4M80 59.5h3M86 59.5h1M90 59.5h4M23 60.5h4M28 60.5h2M31 60.5h2M75 60.5h1M79 60.5h8M88 60.5h4M13 61.5h2M24 61.5h5M31 61.5h1M35 61.5h2M46 61.5h1M74 61.5h3M78 61.5h1M81 61.5h1M83 61.5h7M12 62.5h4M24 62.5h6M31 62.5h1M33 62.5h1M35 62.5h2M75 62.5h2M80 62.5h5M86 62.5h1M88 62.5h1M90 62.5h1M13 63.5h2M24 63.5h1M29 63.5h2M36 63.5h1M81 63.5h1M83 63.5h2M14 64.5h1M27 64.5h1M29 64.5h2M36 64.5h3M41 64.5h1M43 64.5h1M83 64.5h2M17 65.5h1M29 65.5h3M36 65.5h2M43 65.5h1M84 65.5h1M29 66.5h4M38 66.5h4M77 66.5h1M82 66.5h1M27 67.5h3M31 67.5h2M39 67.5h3M74 67.5h4M79 67.5h5M27 68.5h1M29 68.5h1M32 68.5h1M39 68.5h1M73 68.5h11M85 68.5h1M26 69.5h1M29 69.5h4M39 69.5h1M69 69.5h3M74 69.5h3M78 69.5h2M81 69.5h4M26 70.5h2M29 70.5h3M70 70.5h2M74 70.5h1M76 70.5h6M85 70.5h1M27 71.5h1M29 71.5h2M32 71.5h2M35 71.5h3M69 71.5h1M74 71.5h2M77 71.5h1M79 71.5h2M85 71.5h1M33 72.5h3M40 72.5h1M74 72.5h7M85 72.5h1M31 73.5h2M38 73.5h2M74 73.5h3M78 73.5h3M84 73.5h1M31 74.5h4M69 74.5h2M75 74.5h10M30 75.5h2M33 75.5h3M70 75.5h1M74 75.5h1M78 75.5h4M29 76.5h4M34 76.5h3M71 76.5h3M79 76.5h2M83 76.5h1M29 77.5h6M37 77.5h2M73 77.5h1M76 77.5h5M83 77.5h4M29 78.5h1M31 78.5h2M35 78.5h1M40 78.5h1M75 78.5h5M84 78.5h3M93 78.5h1M30 79.5h5M36 79.5h2M39 79.5h3M76 79.5h6M85 79.5h2M25 80.5h1M31 80.5h1M33 80.5h4M38 80.5h1M40 80.5h2M51 80.5h4M74 80.5h7M84 80.5h4M25 81.5h1M31 81.5h1M33 81.5h2M36 81.5h1M38 81.5h3M42 81.5h1M75 81.5h3M85 81.5h3M24 82.5h2M34 82.5h2M38 82.5h4M70 82.5h1M75 82.5h3M79 82.5h2M85 82.5h3M23 83.5h3M34 83.5h1M36 83.5h8M55 83.5h1M68 83.5h13M84 83.5h4M24 84.5h1M35 84.5h3M40 84.5h1M42 84.5h2M55 84.5h1M68 84.5h1M70 84.5h1M74 84.5h5M85 84.5h1M87 84.5h1M27 85.5h1M36 85.5h5M43 85.5h2M68 85.5h1M75 85.5h4M87 85.5h2M27 86.5h1M34 86.5h2M37 86.5h1M42 86.5h2M68 86.5h1M75 86.5h6M87 86.5h1M89 86.5h3M27 87.5h1M33 87.5h4M41 87.5h3M63 87.5h1M73 87.5h7M86 87.5h6M27 88.5h2M30 88.5h2M33 88.5h1M36 88.5h1M41 88.5h1M43 88.5h1M61 88.5h4M69 88.5h2M76 88.5h1M89 88.5h2M27 89.5h1M29 89.5h5M42 89.5h1M49 89.5h1M57 89.5h8M66 89.5h4M71 89.5h1M89 89.5h3M25 90.5h8M43 90.5h7M58 90.5h1M60 90.5h5M66 90.5h1M68 90.5h1M70 90.5h2M90 90.5h2M24 91.5h4M29 91.5h3M45 91.5h5M58 91.5h2M61 91.5h6M68 91.5h3M27 92.5h1M30 92.5h1M40 92.5h5M46 92.5h4M58 92.5h2M61 92.5h4M67 92.5h1M39 93.5h2M43 93.5h4M48 93.5h3M58 93.5h5M65 93.5h1M30 94.5h1M41 94.5h1M43 94.5h1M47 94.5h1M50 94.5h3M55 94.5h2M58 94.5h1M61 94.5h5M39 95.5h1M43 95.5h3M54 95.5h3M58 95.5h4M39 96.5h4M53 96.5h1M55 96.5h1M57 96.5h1M59 96.5h2M32 97.5h2M38 97.5h5M53 97.5h3M58 97.5h3M32 98.5h4M40 98.5h5M54 98.5h1M56 98.5h3M33 99.5h5M41 99.5h3M54 99.5h1M57 99.5h2M32 100.5h5M40 100.5h3M55 100.5h1M58 100.5h1M34 101.5h1M42 101.5h5M57 101.5h1M33 102.5h1M36 102.5h2M39 102.5h1M34 103.5h3M38 103.5h2M35 104.5h5M42 104.5h1M34 105.5h4M39 105.5h2M36 106.5h5M37 107.5h1"/><path stroke="#00cccc" d="M71 20.5h1M26 21.5h1M50 23.5h1M68 26.5h2M71 26.5h1M51 27.5h1M67 27.5h1M69 27.5h1M72 27.5h2M48 28.5h1M52 28.5h1M67 28.5h2M71 28.5h1M73 28.5h1M43 29.5h1M47 29.5h1M52 29.5h1M57 29.5h1M59 29.5h1M66 29.5h1M71 29.5h3M50 30.5h1M58 30.5h2M66 30.5h1M43 31.5h1M45 31.5h1M48 31.5h2M51 31.5h1M54 31.5h4M67 31.5h5M43 32.5h1M46 32.5h1M53 32.5h2M56 32.5h4M66 32.5h1M68 32.5h1M70 32.5h1M42 33.5h1M44 33.5h1M48 33.5h2M53 33.5h4M58 33.5h2M66 33.5h3M70 33.5h1M80 33.5h2M42 34.5h6M49 34.5h2M53 34.5h1M58 34.5h1M68 34.5h2M36 35.5h1M38 35.5h1M42 35.5h1M48 35.5h1M51 35.5h3M58 35.5h1M68 35.5h3M77 35.5h1M39 36.5h1M43 36.5h1M48 36.5h1M51 36.5h1M59 36.5h1M69 36.5h1M71 36.5h4M22 37.5h4M37 37.5h2M41 37.5h3M50 37.5h1M52 37.5h1M59 37.5h2M69 37.5h1M71 37.5h4M25 38.5h1M41 38.5h1M43 38.5h1M48 38.5h2M68 38.5h1M74 38.5h2M24 39.5h2M36 39.5h2M41 39.5h1M45 39.5h1M48 39.5h2M52 39.5h1M61 39.5h1M74 39.5h2M23 40.5h1M37 40.5h4M45 40.5h1M48 40.5h1M61 40.5h2M67 40.5h1M75 40.5h2M36 41.5h4M46 41.5h2M52 41.5h1M60 41.5h2M64 41.5h2M75 41.5h1M35 42.5h1M37 42.5h1M39 42.5h2M46 42.5h1M51 42.5h1M58 42.5h1M61 42.5h2M75 42.5h2M34 43.5h1M40 43.5h1M42 43.5h3M47 43.5h1M49 43.5h3M59 43.5h1M37 44.5h6M45 44.5h1M50 44.5h2M60 44.5h1M37 45.5h1M42 45.5h1M49 45.5h2M66 45.5h2M69 45.5h1M72 45.5h1M50 46.5h1M69 46.5h1M77 46.5h1M37 47.5h1M46 47.5h1M49 47.5h1M68 47.5h1M74 47.5h3M82 47.5h1M38 48.5h1M41 48.5h1M46 48.5h4M68 48.5h1M73 48.5h1M75 48.5h1M82 48.5h1M37 49.5h2M45 49.5h2M72 49.5h2M75 49.5h2M78 49.5h1M81 49.5h2M36 50.5h4M47 50.5h2M50 50.5h1M63 50.5h1M66 50.5h2M70 50.5h3M74 50.5h1M76 50.5h1M78 50.5h1M82 50.5h1M39 51.5h1M45 51.5h1M62 51.5h1M64 51.5h4M73 51.5h1M75 51.5h1M84 51.5h1M41 52.5h1M65 52.5h2M72 52.5h3M79 52.5h1M36 53.5h1M38 53.5h1M71 53.5h1M75 53.5h1M84 53.5h1M86 53.5h2M89 53.5h1M70 54.5h1M72 54.5h1M79 54.5h1M90 54.5h1M35 55.5h1M37 55.5h1M71 55.5h4M77 55.5h1M79 55.5h1M81 55.5h1M89 55.5h1M37 56.5h1M73 56.5h1M78 56.5h1M80 56.5h1M84 56.5h1M89 56.5h1M35 57.5h2M73 57.5h1M79 57.5h1M81 57.5h2M86 57.5h1M88 57.5h3M36 58.5h1M43 58.5h1M81 58.5h1M84 58.5h1M86 58.5h1M89 58.5h3M36 59.5h1M69 59.5h1M84 59.5h2M87 59.5h2M30 60.5h1M36 60.5h1M41 60.5h1M74 60.5h1M76 60.5h3M87 60.5h1M29 61.5h2M37 61.5h1M41 61.5h1M43 61.5h2M68 61.5h2M71 61.5h1M77 61.5h1M79 61.5h2M82 61.5h1M30 62.5h1M37 62.5h1M42 62.5h4M77 62.5h3M37 63.5h1M41 63.5h5M68 63.5h2M76 63.5h1M80 63.5h1M82 63.5h1M39 64.5h2M44 64.5h1M46 64.5h1M68 64.5h2M77 64.5h1M82 64.5h1M38 65.5h2M41 65.5h2M44 65.5h1M69 65.5h1M75 65.5h4M80 65.5h1M82 65.5h1M43 66.5h2M74 66.5h1M76 66.5h1M78 66.5h4M30 67.5h1M42 67.5h3M78 67.5h1M28 68.5h1M30 68.5h2M40 68.5h3M72 68.5h1M27 69.5h2M41 69.5h1M53 69.5h1M68 69.5h1M72 69.5h1M38 70.5h2M69 70.5h1M82 70.5h1M84 70.5h1M38 71.5h3M78 71.5h1M81 71.5h1M36 72.5h4M69 72.5h1M81 72.5h1M33 73.5h2M37 73.5h1M40 73.5h2M49 73.5h1M69 73.5h1M77 73.5h1M81 73.5h2M38 74.5h3M74 74.5h1M32 75.5h1M36 75.5h4M63 75.5h4M77 75.5h1M33 76.5h1M37 76.5h2M64 76.5h2M68 76.5h1M70 76.5h1M74 76.5h1M76 76.5h1M39 77.5h2M66 77.5h1M70 77.5h3M74 77.5h2M30 78.5h1M39 78.5h1M41 78.5h2M51 78.5h3M73 78.5h2M42 79.5h1M51 79.5h2M54 79.5h1M65 79.5h2M72 79.5h1M75 79.5h1M37 80.5h1M42 80.5h1M73 80.5h1M35 81.5h1M53 81.5h2M68 81.5h1M36 82.5h2M42 82.5h2M54 82.5h1M68 82.5h2M71 82.5h4M35 83.5h1M67 83.5h1M38 84.5h2M47 84.5h1M53 84.5h1M56 84.5h1M67 84.5h1M42 85.5h1M55 85.5h1M67 85.5h1M36 86.5h1M44 86.5h1M64 86.5h2M67 86.5h1M88 86.5h1M48 87.5h1M62 87.5h1M64 87.5h3M68 87.5h1M44 88.5h1M48 88.5h1M56 88.5h5M65 88.5h1M43 89.5h6M65 89.5h1M50 90.5h1M56 90.5h2M59 90.5h1M65 90.5h1M67 90.5h1M69 90.5h1M50 91.5h1M57 91.5h1M45 92.5h1M50 92.5h1M65 92.5h1M41 93.5h2M54 93.5h3M63 93.5h2M39 94.5h2M42 94.5h1M57 94.5h1M40 95.5h3M57 95.5h1M54 96.5h1M56 96.5h1M58 96.5h1M56 97.5h2"/><path stroke="#00ffcc" d="M70 26.5h1M68 27.5h1M70 27.5h2M49 28.5h3M69 28.5h2M44 29.5h2M48 29.5h4M67 29.5h4M43 30.5h5M51 30.5h1M67 30.5h4M44 31.5h1M47 31.5h1M50 31.5h1M52 31.5h1M44 32.5h2M47 32.5h4M52 32.5h1M67 32.5h1M69 32.5h1M43 33.5h1M45 33.5h3M50 33.5h3M69 33.5h1M38 34.5h1M48 34.5h1M51 34.5h2M54 34.5h4M70 34.5h1M37 35.5h1M44 35.5h4M54 35.5h4M37 36.5h2M44 36.5h4M52 36.5h4M57 36.5h2M60 36.5h1M70 36.5h1M39 37.5h2M44 37.5h6M53 37.5h1M70 37.5h1M75 37.5h1M24 38.5h1M39 38.5h2M44 38.5h4M53 38.5h2M59 38.5h3M69 38.5h5M39 39.5h2M46 39.5h2M53 39.5h2M59 39.5h1M69 39.5h5M46 40.5h2M53 40.5h1M58 40.5h2M65 40.5h2M68 40.5h2M73 40.5h2M40 41.5h1M53 41.5h2M58 41.5h2M62 41.5h2M66 41.5h3M71 41.5h4M38 42.5h1M52 42.5h3M57 42.5h1M60 42.5h1M63 42.5h1M67 42.5h8M38 43.5h2M41 43.5h1M52 43.5h3M56 43.5h3M60 43.5h4M67 43.5h2M71 43.5h3M76 43.5h2M43 44.5h2M52 44.5h4M58 44.5h2M62 44.5h2M66 44.5h9M38 45.5h4M43 45.5h3M51 45.5h1M54 45.5h2M59 45.5h5M65 45.5h1M68 45.5h1M73 45.5h1M77 45.5h1M38 46.5h9M51 46.5h1M58 46.5h9M68 46.5h1M74 46.5h2M39 47.5h5M45 47.5h1M50 47.5h1M55 47.5h2M58 47.5h4M63 47.5h4M40 48.5h1M42 48.5h4M50 48.5h3M55 48.5h3M59 48.5h6M79 48.5h2M39 49.5h6M51 49.5h1M55 49.5h6M63 49.5h1M79 49.5h2M40 50.5h7M49 50.5h1M51 50.5h3M55 50.5h3M59 50.5h4M64 50.5h1M69 50.5h1M73 50.5h1M77 50.5h1M79 50.5h3M40 51.5h5M46 51.5h6M55 51.5h1M60 51.5h2M68 51.5h5M74 51.5h1M76 51.5h7M38 52.5h3M42 52.5h6M61 52.5h1M67 52.5h5M75 52.5h4M80 52.5h4M39 53.5h4M44 53.5h3M66 53.5h1M69 53.5h2M76 53.5h8M85 53.5h1M38 54.5h4M43 54.5h2M47 54.5h1M52 54.5h2M67 54.5h1M69 54.5h1M77 54.5h2M80 54.5h10M38 55.5h8M69 55.5h1M78 55.5h1M80 55.5h1M82 55.5h4M87 55.5h2M38 56.5h8M51 56.5h1M69 56.5h4M81 56.5h1M83 56.5h1M85 56.5h4M37 57.5h9M48 57.5h1M70 57.5h3M83 57.5h3M87 57.5h1M37 58.5h3M41 58.5h2M44 58.5h2M47 58.5h2M69 58.5h6M83 58.5h1M85 58.5h1M37 59.5h2M40 59.5h8M66 59.5h1M68 59.5h1M70 59.5h1M72 59.5h3M83 59.5h1M89 59.5h1M37 60.5h4M42 60.5h6M65 60.5h9M38 61.5h3M42 61.5h1M45 61.5h1M47 61.5h2M65 61.5h3M70 61.5h1M72 61.5h2M38 62.5h1M40 62.5h2M46 62.5h3M66 62.5h9M38 63.5h3M46 63.5h3M67 63.5h1M70 63.5h2M74 63.5h2M77 63.5h3M42 64.5h1M45 64.5h1M47 64.5h3M67 64.5h1M70 64.5h3M74 64.5h3M78 64.5h4M40 65.5h1M45 65.5h6M67 65.5h2M70 65.5h1M72 65.5h1M74 65.5h1M79 65.5h1M81 65.5h1M42 66.5h1M45 66.5h1M47 66.5h1M49 66.5h3M68 66.5h1M70 66.5h4M75 66.5h1M45 67.5h1M47 67.5h5M67 67.5h7M43 68.5h1M51 68.5h4M56 68.5h1M58 68.5h2M68 68.5h4M40 69.5h1M42 69.5h2M50 69.5h1M52 69.5h1M54 69.5h6M40 70.5h6M48 70.5h4M53 70.5h5M68 70.5h1M83 70.5h1M41 71.5h4M47 71.5h4M55 71.5h3M68 71.5h1M82 71.5h1M84 71.5h1M41 72.5h3M46 72.5h5M56 72.5h3M82 72.5h1M84 72.5h1M35 73.5h2M42 73.5h1M46 73.5h3M50 73.5h2M83 73.5h1M35 74.5h3M41 74.5h2M45 74.5h7M62 74.5h4M67 74.5h2M40 75.5h3M47 75.5h4M57 75.5h1M60 75.5h1M62 75.5h1M67 75.5h3M75 75.5h2M39 76.5h6M47 76.5h5M53 76.5h1M60 76.5h4M66 76.5h2M69 76.5h1M75 76.5h1M77 76.5h2M41 77.5h3M45 77.5h2M48 77.5h8M57 77.5h2M60 77.5h1M63 77.5h3M67 77.5h3M43 78.5h3M48 78.5h3M54 78.5h3M61 78.5h1M63 78.5h6M70 78.5h3M43 79.5h2M46 79.5h1M48 79.5h3M53 79.5h1M55 79.5h2M58 79.5h1M64 79.5h1M67 79.5h2M71 79.5h1M73 79.5h2M43 80.5h2M47 80.5h1M49 80.5h2M55 80.5h3M63 80.5h5M71 80.5h2M37 81.5h1M43 81.5h3M49 81.5h4M55 81.5h1M59 81.5h1M63 81.5h5M69 81.5h6M44 82.5h3M48 82.5h2M51 82.5h3M55 82.5h2M61 82.5h1M63 82.5h5M44 83.5h4M49 83.5h3M53 83.5h2M56 83.5h3M61 83.5h1M64 83.5h3M44 84.5h3M48 84.5h5M54 84.5h1M57 84.5h1M63 84.5h4M45 85.5h10M56 85.5h3M62 85.5h5M45 86.5h12M59 86.5h1M61 86.5h3M66 86.5h1M44 87.5h4M49 87.5h4M55 87.5h2M58 87.5h4M67 87.5h1M45 88.5h3M49 88.5h3M55 88.5h1M66 88.5h3M50 89.5h2M55 89.5h2M51 90.5h2M55 90.5h1M51 91.5h2M55 91.5h2M51 92.5h7M51 93.5h3M57 93.5h1"/><path stroke="#00ff88" d="M56 36.5h1M54 37.5h2M57 37.5h2M58 38.5h1M58 39.5h1M54 40.5h1M70 40.5h3M69 41.5h2M55 42.5h1M64 42.5h3M55 43.5h1M64 43.5h3M69 43.5h2M74 43.5h2M56 44.5h1M61 44.5h1M64 44.5h2M77 44.5h1M52 45.5h2M58 45.5h1M64 45.5h1M74 45.5h1M52 46.5h6M76 46.5h1M44 47.5h1M51 47.5h1M53 47.5h1M57 47.5h1M62 47.5h1M53 48.5h2M58 48.5h1M52 49.5h3M61 49.5h2M54 50.5h1M58 50.5h1M52 51.5h3M56 51.5h2M59 51.5h1M48 52.5h6M59 52.5h2M62 52.5h1M64 52.5h1M43 53.5h1M47 53.5h1M49 53.5h2M52 53.5h2M60 53.5h3M65 53.5h1M67 53.5h2M42 54.5h1M45 54.5h2M48 54.5h1M51 54.5h1M55 54.5h1M66 54.5h1M68 54.5h1M47 55.5h3M52 55.5h1M68 55.5h1M86 55.5h1M46 56.5h1M48 56.5h3M46 57.5h2M69 57.5h1M40 58.5h1M46 58.5h1M39 59.5h1M48 59.5h1M67 59.5h1M71 59.5h1M48 60.5h1M39 62.5h1M49 62.5h1M49 63.5h1M66 63.5h1M72 63.5h2M50 64.5h1M66 64.5h1M73 64.5h1M51 65.5h1M66 65.5h1M71 65.5h1M73 65.5h1M46 66.5h1M48 66.5h1M67 66.5h1M69 66.5h1M46 67.5h1M52 67.5h3M56 67.5h5M66 67.5h1M44 68.5h7M55 68.5h1M57 68.5h1M67 68.5h1M44 69.5h6M51 69.5h1M60 69.5h1M67 69.5h1M52 70.5h1M58 70.5h1M61 70.5h1M66 70.5h2M45 71.5h2M51 71.5h1M58 71.5h1M67 71.5h1M83 71.5h1M44 72.5h2M51 72.5h1M55 72.5h1M61 72.5h1M83 72.5h1M45 73.5h1M55 73.5h4M60 73.5h4M68 73.5h1M44 74.5h1M52 74.5h1M61 74.5h1M43 75.5h4M51 75.5h1M53 75.5h3M58 75.5h2M61 75.5h1M45 76.5h2M52 76.5h1M54 76.5h2M58 76.5h2M44 77.5h1M47 77.5h1M56 77.5h1M61 77.5h2M46 78.5h2M57 78.5h4M62 78.5h1M69 78.5h1M45 79.5h1M47 79.5h1M57 79.5h1M59 79.5h1M61 79.5h3M45 80.5h2M48 80.5h1M59 80.5h4M68 80.5h1M46 81.5h3M56 81.5h2M60 81.5h2M47 82.5h1M50 82.5h1M57 82.5h1M59 82.5h2M62 82.5h1M48 83.5h1M52 83.5h1M59 83.5h1M62 83.5h2M58 84.5h2M61 84.5h2M59 85.5h1M61 85.5h1M57 86.5h2M60 86.5h1M54 87.5h1M57 87.5h1M53 88.5h2M53 90.5h2M53 91.5h1"/><path stroke="#00ff77" d="M56 37.5h1M55 41.5h1M57 41.5h1M56 42.5h1M57 44.5h1M56 45.5h1M76 45.5h1M52 47.5h1M54 47.5h1M58 51.5h1M54 52.5h5M63 52.5h1M48 53.5h1M51 53.5h1M56 53.5h2M64 53.5h1M54 54.5h1M56 54.5h1M62 54.5h1M64 54.5h1M46 55.5h1M51 55.5h1M53 55.5h2M47 56.5h1M52 56.5h2M49 57.5h3M49 58.5h1M65 58.5h2M68 58.5h1M49 59.5h1M65 59.5h1M49 60.5h1M49 61.5h2M50 62.5h1M65 62.5h1M50 63.5h1M51 64.5h1M52 65.5h1M57 65.5h3M65 65.5h1M52 66.5h2M56 66.5h5M66 66.5h1M55 67.5h1M60 68.5h1M61 69.5h1M66 69.5h1M46 70.5h2M59 70.5h2M52 71.5h1M54 71.5h1M59 71.5h5M59 72.5h2M62 72.5h2M68 72.5h1M43 73.5h2M59 73.5h1M67 73.5h1M43 74.5h1M53 74.5h1M56 74.5h5M66 74.5h1M52 75.5h1M56 75.5h1M56 76.5h2M59 77.5h1M60 79.5h1M58 80.5h1M58 81.5h1M62 81.5h1M58 82.5h1M60 83.5h1M60 84.5h1M60 85.5h1M53 87.5h1M52 88.5h1M52 89.5h3M54 91.5h1"/><path stroke="#00ff44" d="M55 38.5h1M55 40.5h1M57 45.5h1M75 45.5h1M58 53.5h2M63 53.5h1M49 54.5h1M57 54.5h2M61 54.5h1M63 54.5h1M65 54.5h1M55 55.5h2M64 55.5h4M56 56.5h1M52 57.5h2M50 58.5h1M64 58.5h1M67 58.5h1M50 60.5h1M63 60.5h2M52 64.5h1M59 64.5h1M65 64.5h1M56 65.5h1M54 66.5h2M61 67.5h1M66 68.5h1M62 70.5h1M53 71.5h1M64 71.5h1M66 71.5h1M64 73.5h1M54 74.5h1"/><path stroke="#aaff00" d="M56 38.5h1M57 39.5h1M60 55.5h1M57 56.5h1M63 56.5h1M67 56.5h1M55 57.5h2M63 57.5h1M54 58.5h1M50 59.5h2M51 60.5h2M62 60.5h1M51 61.5h1M62 61.5h1M63 62.5h1M59 63.5h1M64 63.5h1M53 64.5h1M60 64.5h1M64 64.5h1M55 65.5h1M62 69.5h1M63 70.5h1M53 72.5h2M66 72.5h1M52 73.5h2"/><path stroke="#44ff55" d="M57 38.5h1M55 39.5h1M57 40.5h1M56 41.5h1M75 44.5h2M54 53.5h1M59 54.5h2M50 55.5h1M63 55.5h1M54 56.5h2M66 56.5h1M68 56.5h1M65 57.5h2M51 58.5h2M63 59.5h2M63 61.5h2M51 62.5h1M64 62.5h1M51 63.5h1M60 63.5h1M65 63.5h1M58 64.5h1M53 65.5h1M60 65.5h1M65 66.5h1M61 68.5h1M65 70.5h1M65 71.5h1M52 72.5h1M64 72.5h1M67 72.5h1M65 73.5h1M55 74.5h1M69 79.5h2M70 80.5h1"/><path stroke="#cccc00" d="M56 39.5h1M56 40.5h1M61 55.5h2M58 56.5h3M57 57.5h1M55 58.5h1M62 58.5h1M52 59.5h3M62 59.5h1M53 60.5h1M52 61.5h2M60 61.5h2M53 62.5h1M60 62.5h3M53 63.5h1M57 63.5h2M61 63.5h3M56 64.5h1M61 64.5h2M54 65.5h1M61 65.5h4M62 66.5h3M62 67.5h2M65 67.5h1M62 68.5h1M65 68.5h1M63 69.5h1M65 69.5h1M64 70.5h1"/><path stroke="#aaff55" d="M55 53.5h1M50 54.5h1M57 55.5h3M64 56.5h2M54 57.5h1M64 57.5h1M67 57.5h2M53 58.5h1M63 58.5h1M52 62.5h1M52 63.5h1M57 64.5h1M61 66.5h1M65 72.5h1M54 73.5h1M66 73.5h1M69 80.5h1"/><path stroke="#ff9900" d="M61 56.5h2M61 57.5h2M56 58.5h1M61 58.5h1M55 59.5h1M61 59.5h1M54 60.5h1M61 60.5h1M54 62.5h1M58 62.5h1M54 63.5h1M56 63.5h1M54 64.5h2M64 69.5h1"/><path stroke="#dd9900" d="M58 57.5h1M60 57.5h1M55 60.5h1M64 68.5h1"/><path stroke="#e66600" d="M59 57.5h1M57 58.5h1M60 60.5h1M55 61.5h1M59 61.5h1M55 62.5h3M55 63.5h1"/><path stroke="#ff0000" d="M58 58.5h1"/><path stroke="#e60000" d="M59 58.5h1M57 59.5h1M57 60.5h1M59 60.5h1M57 61.5h1"/><path stroke="#ff3300" d="M60 58.5h1M60 59.5h1M56 60.5h1M58 61.5h1"/><path stroke="#ee3300" d="M56 59.5h1M56 61.5h1"/><path stroke="#b00035" d="M58 59.5h2M58 60.5h1"/><path stroke="#ffcc00" d="M54 61.5h1M59 62.5h1M63 64.5h1M64 67.5h1M63 68.5h1"/></g>
<rect x="147.3" y="53.8" width="496.7" height="1.6" fill="#000"/>
<rect x="147.3" y="53.8" width="1.6" height="517.2" fill="#000"/>
<rect x="642.8" y="55" width="1.3" height="516" fill="#555"/>
<path d="M141 55h5.8M141 83.67h5.8M141 141h5.8M141 198.33h5.8M141 255.67h5.8M141 313h5.8M141 370.33h5.8M141 427.67h5.8M141 485h5.8M141 542.33h5.8M141 571h5.8M148.5 573v5.6M176.03 573v5.6M231.08 573v5.6M286.14 573v5.6M341.19 573v5.6M396.25 573v5.6M451.31 573v5.6M506.36 573v5.6M561.42 573v5.6M616.47 573v5.6M644 573v5.6" stroke="#222" stroke-width="1.1" fill="none"/>
<text x="107.31" y="66.7" font-size="29.7" textLength="30.39" lengthAdjust="spacingAndGlyphs">90</text>
<text x="107.31" y="152.7" font-size="29.7" textLength="30.39" lengthAdjust="spacingAndGlyphs">60</text>
<text x="107.31" y="210.03" font-size="29.7" textLength="30.39" lengthAdjust="spacingAndGlyphs">40</text>
<text x="107.31" y="267.37" font-size="29.7" textLength="30.39" lengthAdjust="spacingAndGlyphs">20</text>
<text x="122.5" y="324.7" font-size="29.7" textLength="15.2" lengthAdjust="spacingAndGlyphs">0</text>
<text x="91.35" y="382.03" font-size="29.7" textLength="46.35" lengthAdjust="spacingAndGlyphs">−20</text>
<text x="91.35" y="439.37" font-size="29.7" textLength="46.35" lengthAdjust="spacingAndGlyphs">−40</text>
<text x="91.35" y="496.7" font-size="29.7" textLength="46.35" lengthAdjust="spacingAndGlyphs">−60</text>
<text x="91.35" y="582.7" font-size="29.7" textLength="46.35" lengthAdjust="spacingAndGlyphs">−90</text>
<text x="125.33" y="606.7" font-size="29.7" textLength="46.35" lengthAdjust="spacingAndGlyphs">−90</text>
<text x="207.91" y="606.7" font-size="29.7" textLength="46.35" lengthAdjust="spacingAndGlyphs">−60</text>
<text x="262.96" y="606.7" font-size="29.7" textLength="46.35" lengthAdjust="spacingAndGlyphs">−40</text>
<text x="318.02" y="606.7" font-size="29.7" textLength="46.35" lengthAdjust="spacingAndGlyphs">−20</text>
<text x="388.65" y="606.7" font-size="29.7" textLength="15.2" lengthAdjust="spacingAndGlyphs">0</text>
<text x="436.11" y="606.7" font-size="29.7" textLength="30.39" lengthAdjust="spacingAndGlyphs">20</text>
<text x="491.16" y="606.7" font-size="29.7" textLength="30.39" lengthAdjust="spacingAndGlyphs">40</text>
<text x="546.22" y="606.7" font-size="29.7" textLength="30.39" lengthAdjust="spacingAndGlyphs">60</text>
<text x="628.8" y="606.7" font-size="29.7" textLength="30.39" lengthAdjust="spacingAndGlyphs">90</text>
<text x="199.56" y="653.2" font-size="42" textLength="296.58" lengthAdjust="spacingAndGlyphs">Horizontal angle</text>
<text x="509.7" y="649.3" font-size="40.4" textLength="15.2" lengthAdjust="spacingAndGlyphs">[</text>
<text x="523" y="650.7" font-size="42">°</text>
<text x="568.1" y="649.3" font-size="40.4" textLength="15.2" lengthAdjust="spacingAndGlyphs">]</text>
<g transform="translate(83.2 484.2) rotate(-90)"><text x="-0.38" y="0" font-size="42" textLength="252.76" lengthAdjust="spacingAndGlyphs">Vertical angle</text><text x="266.1" y="-5" font-size="40.4" textLength="15.2" lengthAdjust="spacingAndGlyphs">[</text><text x="280.2" y="-5.6" font-size="42">°</text><text x="324.2" y="-5" font-size="40.4" textLength="15.2" lengthAdjust="spacingAndGlyphs">]</text></g>
<g transform="translate(765.5 256.03) rotate(90)"><text x="0" y="0" font-size="43.2" textLength="131.33" lengthAdjust="spacingAndGlyphs">Counts</text></g>
<rect x="671" y="40.5" width="24" height="565" fill="#000"/>
<rect x="672.2" y="41.5" width="21.6" height="4" fill="#fff"/>
<rect x="672.2" y="594.12" width="21.6" height="4.88" fill="#ffffff"/>
<rect x="672.2" y="588.21" width="21.6" height="6.21" fill="#dcdcdc"/>
<rect x="672.2" y="579.93" width="21.6" height="8.58" fill="#ccccff"/>
<rect x="672.2" y="577.72" width="21.6" height="2.51" fill="#d8d8e0"/>
<rect x="672.2" y="574.4" width="21.6" height="3.61" fill="#cc99cc"/>
<rect x="672.2" y="565.57" width="21.6" height="9.14" fill="#9999cc"/>
<rect x="672.2" y="562.25" width="21.6" height="3.61" fill="#9966cc"/>
<rect x="672.2" y="551.76" width="21.6" height="10.79" fill="#6666cc"/>
<rect x="672.2" y="546.79" width="21.6" height="5.27" fill="#6633cc"/>
<rect x="672.2" y="539.61" width="21.6" height="7.48" fill="#333399"/>
<rect x="672.2" y="524.15" width="21.6" height="15.76" fill="#330099"/>
<rect x="672.2" y="491.57" width="21.6" height="32.88" fill="#0033cc"/>
<rect x="672.2" y="463.96" width="21.6" height="27.91" fill="#0066ff"/>
<rect x="672.2" y="437.46" width="21.6" height="26.81" fill="#0099ff"/>
<rect x="672.2" y="410.95" width="21.6" height="26.81" fill="#00ccff"/>
<rect x="672.2" y="396.59" width="21.6" height="14.66" fill="#00cccc"/>
<rect x="672.2" y="361.81" width="21.6" height="35.09" fill="#00ffcc"/>
<rect x="672.2" y="344.14" width="21.6" height="17.97" fill="#00ff88"/>
<rect x="672.2" y="324.81" width="21.6" height="19.63" fill="#00ff77"/>
<rect x="672.2" y="312.66" width="21.6" height="12.45" fill="#00ff44"/>
<rect x="672.2" y="296.65" width="21.6" height="16.31" fill="#44ff55"/>
<rect x="672.2" y="287.81" width="21.6" height="9.14" fill="#aaff55"/>
<rect x="672.2" y="272.35" width="21.6" height="15.76" fill="#aaff00"/>
<rect x="672.2" y="233.7" width="21.6" height="38.95" fill="#cccc00"/>
<rect x="672.2" y="228.73" width="21.6" height="5.27" fill="#ffcc00"/>
<rect x="672.2" y="202.77" width="21.6" height="26.25" fill="#ff9900"/>
<rect x="672.2" y="195.04" width="21.6" height="8.03" fill="#dd9900"/>
<rect x="672.2" y="159.15" width="21.6" height="36.19" fill="#e66600"/>
<rect x="672.2" y="144.24" width="21.6" height="15.21" fill="#ee3300"/>
<rect x="672.2" y="124.91" width="21.6" height="19.63" fill="#ff3300"/>
<rect x="672.2" y="103.93" width="21.6" height="21.28" fill="#ff0000"/>
<rect x="672.2" y="71.35" width="21.6" height="32.88" fill="#e60000"/>
<rect x="672.2" y="66.38" width="21.6" height="5.27" fill="#e6003a"/>
<rect x="672.2" y="46.5" width="21.6" height="20.18" fill="#b00035"/>
<text x="704.3" y="63.7" font-size="43.2" textLength="44.45" lengthAdjust="spacingAndGlyphs">87</text>
<text x="704.3" y="127.01" font-size="43.2" textLength="44.45" lengthAdjust="spacingAndGlyphs">77</text>
<text x="704.3" y="183.99" font-size="43.2" textLength="44.45" lengthAdjust="spacingAndGlyphs">68</text>
<text x="704.3" y="247.3" font-size="43.2" textLength="44.45" lengthAdjust="spacingAndGlyphs">58</text>
<text x="704.3" y="310.61" font-size="43.2" textLength="44.45" lengthAdjust="spacingAndGlyphs">48</text>
<text x="704.3" y="367.59" font-size="43.2" textLength="44.45" lengthAdjust="spacingAndGlyphs">39</text>
<text x="704.3" y="430.9" font-size="43.2" textLength="44.45" lengthAdjust="spacingAndGlyphs">29</text>
<text x="704.3" y="494.21" font-size="43.2" textLength="44.45" lengthAdjust="spacingAndGlyphs">19</text>
<text x="704.3" y="551.19" font-size="43.2" textLength="44.45" lengthAdjust="spacingAndGlyphs">10</text>
<text x="704.3" y="614.5" font-size="43.2" textLength="22.22" lengthAdjust="spacingAndGlyphs">0</text>
<path d="M698 48.2h5.8M698 111.51h5.8M698 168.49h5.8M698 231.8h5.8M698 295.11h5.8M698 352.09h5.8M698 415.4h5.8M698 478.71h5.8M698 535.69h5.8M698 599h5.8" stroke="#222" stroke-width="1.1" fill="none"/>
<text class="cap" x="425.2" y="722" font-size="42" text-anchor="middle">(<tspan font-weight="bold">a</tspan>)</text>
<rect x="930.2" y="21" width="809.8" height="642.8" fill="#dfdfdf"/>
<rect x="930.2" y="38.6" width="632.8" height="625.2" fill="#cdcdcd"/>
<rect x="930.2" y="38.6" width="1.7" height="625.2" fill="#a5a5a5"/>
<rect x="931.9" y="38.6" width="1.3" height="625.2" fill="#c4c4c4"/>
<rect x="933.2" y="660.8" width="629.8" height="1" fill="#a8a8a8"/>
<rect x="933.2" y="661.5" width="629.8" height="2.3" fill="#888888"/>
<rect x="1563" y="42.1" width="6.3" height="621.7" fill="#aaaaaa"/>
<rect x="1569.3" y="40.8" width="4.5" height="623" fill="#999999"/>
<rect x="1573.8" y="39.6" width="3" height="624.2" fill="#777777"/>
<rect x="1576.8" y="39.1" width="2.2" height="624.7" fill="#444444"/>
<g transform="translate(1057.5 51) scale(4.1392 4.3317)" fill="none" stroke-width="1" shape-rendering="crispEdges"><path stroke="#9966cc" d="M0 0.5h1M87 0.5h1M89 0.5h1M109 0.5h1M113 0.5h2M22 1.5h1M93 1.5h1M96 1.5h1M107 1.5h2M114 1.5h1M29 2.5h1M40 2.5h1M42 2.5h1M46 2.5h1M85 2.5h1M94 2.5h1M114 2.5h2M5 3.5h1M17 3.5h1M21 3.5h3M33 3.5h2M38 3.5h1M44 3.5h1M46 3.5h1M16 4.5h1M21 4.5h1M23 4.5h1M28 4.5h2M33 4.5h3M100 4.5h1M21 5.5h1M23 5.5h2M27 5.5h1M30 5.5h1M32 5.5h1M34 5.5h1M43 5.5h1M93 5.5h1M14 6.5h1M21 6.5h2M28 6.5h1M87 6.5h1M102 6.5h1M108 6.5h1M110 6.5h1M19 7.5h1M21 7.5h1M28 7.5h1M86 7.5h1M110 7.5h1M26 8.5h3M35 8.5h1M86 8.5h1M108 8.5h1M110 8.5h2M26 9.5h1M31 9.5h1M90 9.5h1M111 9.5h1M7 10.5h1M12 10.5h1M18 10.5h2M24 10.5h1M26 10.5h1M104 10.5h1M107 10.5h1M112 10.5h1M16 11.5h1M24 11.5h1M9 12.5h1M3 13.5h2M13 13.5h1M116 13.5h1M11 14.5h2M101 14.5h1M109 14.5h1M24 15.5h1M110 15.5h1M23 16.5h1M25 16.5h1M107 16.5h1M109 16.5h1M1 17.5h1M21 17.5h1M25 17.5h1M100 17.5h1M110 17.5h1M19 18.5h1M25 18.5h1M0 19.5h1M100 19.5h1M0 20.5h1M98 20.5h1M104 20.5h2M19 21.5h1M108 21.5h1M19 22.5h2M100 22.5h1M104 22.5h1M109 22.5h1M103 23.5h1M113 23.5h1M115 23.5h1M0 24.5h1M116 24.5h1M1 26.5h1M1 28.5h1M118 29.5h1M119 32.5h1M117 35.5h1M119 37.5h1M119 42.5h1M0 64.5h1M119 74.5h1M0 78.5h1M0 79.5h1M14 79.5h1M118 80.5h1M18 81.5h1M23 81.5h1M117 83.5h2M15 84.5h1M118 84.5h1M116 85.5h1M118 85.5h1M3 86.5h1M114 87.5h1M4 88.5h1M6 88.5h1M4 89.5h1M114 89.5h1M119 89.5h1M105 90.5h1M111 90.5h3M115 90.5h2M2 91.5h1M8 91.5h1M116 91.5h1M7 92.5h1M0 94.5h1M2 94.5h1M108 94.5h1M114 94.5h2M114 95.5h1M3 96.5h1M101 96.5h1M113 96.5h1M115 96.5h1M4 97.5h1M100 97.5h1M104 97.5h1M113 97.5h1M115 97.5h2M1 98.5h1M4 98.5h1M100 98.5h1M102 98.5h1M106 98.5h1M112 98.5h1M1 99.5h1M100 99.5h2M110 99.5h1M113 99.5h1M0 100.5h1M97 100.5h1M100 100.5h1M113 100.5h1M3 101.5h2M6 101.5h1M94 101.5h1M100 101.5h1M108 101.5h1M110 101.5h1M4 102.5h1M94 102.5h1M103 102.5h1M113 102.5h1M119 102.5h1M7 103.5h1M97 103.5h3M102 103.5h1M112 103.5h1M8 104.5h1M94 104.5h1M99 104.5h2M112 104.5h1M117 104.5h1M8 105.5h1M112 105.5h1M96 106.5h1M105 106.5h1M12 107.5h1M89 107.5h1M95 107.5h1M110 107.5h1M5 108.5h1M13 108.5h2M76 108.5h1M95 108.5h1M103 108.5h1M6 109.5h1M10 109.5h1M15 109.5h1M6 110.5h2M11 110.5h1M74 110.5h1M90 110.5h1M93 110.5h1M95 110.5h1M100 110.5h1M11 111.5h1M81 111.5h1M89 111.5h1M100 111.5h1M106 111.5h1M116 111.5h1M10 112.5h1M12 112.5h1M86 112.5h2M99 112.5h3M116 112.5h2M15 113.5h1M84 113.5h1M86 113.5h1M88 113.5h1M100 113.5h2M116 113.5h2M14 114.5h1M17 114.5h1M74 114.5h1M98 114.5h1M100 114.5h2M16 115.5h1M18 115.5h1M23 115.5h1M73 115.5h2M86 115.5h1M95 115.5h1M105 115.5h1M19 116.5h1M21 116.5h1M77 116.5h1M83 116.5h1M86 116.5h1M104 116.5h1M112 116.5h1M7 117.5h1M86 117.5h1M93 117.5h2M106 117.5h1M110 117.5h2M7 118.5h2M11 118.5h1M40 118.5h1M86 118.5h1M103 118.5h1M106 118.5h1M9 119.5h2M26 119.5h1M34 119.5h2M87 119.5h1M112 119.5h1"/><path stroke="#9999cc" d="M1 0.5h2M10 0.5h2M13 0.5h1M23 0.5h1M31 0.5h1M38 0.5h1M80 0.5h1M85 0.5h1M102 0.5h4M107 0.5h2M0 1.5h3M6 1.5h1M8 1.5h1M10 1.5h1M12 1.5h1M21 1.5h1M35 1.5h3M45 1.5h1M81 1.5h1M85 1.5h1M87 1.5h2M94 1.5h2M97 1.5h1M102 1.5h1M109 1.5h1M115 1.5h1M6 2.5h4M14 2.5h1M19 2.5h2M30 2.5h1M34 2.5h1M41 2.5h1M43 2.5h3M86 2.5h1M93 2.5h1M98 2.5h1M103 2.5h1M109 2.5h4M7 3.5h3M28 3.5h3M32 3.5h1M39 3.5h2M42 3.5h1M45 3.5h1M86 3.5h1M93 3.5h1M98 3.5h2M103 3.5h3M109 3.5h3M114 3.5h3M4 4.5h4M13 4.5h3M22 4.5h1M27 4.5h1M31 4.5h1M36 4.5h1M43 4.5h2M93 4.5h1M105 4.5h1M109 4.5h1M115 4.5h3M14 5.5h1M42 5.5h1M88 5.5h2M106 5.5h2M116 5.5h1M2 6.5h3M13 6.5h1M29 6.5h2M34 6.5h1M41 6.5h1M89 6.5h4M104 6.5h1M107 6.5h1M111 6.5h1M1 7.5h2M11 7.5h4M16 7.5h3M20 7.5h1M29 7.5h2M34 7.5h1M38 7.5h1M85 7.5h1M87 7.5h1M89 7.5h2M105 7.5h3M109 7.5h1M111 7.5h2M0 8.5h3M9 8.5h8M19 8.5h1M34 8.5h1M36 8.5h1M87 8.5h3M105 8.5h3M0 9.5h2M8 9.5h1M11 9.5h1M14 9.5h1M18 9.5h1M27 9.5h3M32 9.5h1M86 9.5h2M89 9.5h1M105 9.5h1M108 9.5h2M112 9.5h2M0 10.5h1M6 10.5h1M11 10.5h1M13 10.5h2M17 10.5h1M88 10.5h2M108 10.5h1M111 10.5h1M113 10.5h2M0 11.5h1M5 11.5h2M11 11.5h4M20 11.5h4M108 11.5h1M112 11.5h4M3 12.5h4M10 12.5h1M19 12.5h2M108 12.5h1M114 12.5h1M116 12.5h1M0 13.5h1M8 13.5h1M12 13.5h1M19 13.5h1M101 13.5h1M109 13.5h1M114 13.5h2M117 13.5h1M1 14.5h2M10 14.5h1M23 14.5h1M110 14.5h1M115 14.5h4M2 15.5h1M18 15.5h1M23 15.5h1M101 15.5h1M103 15.5h2M116 15.5h2M0 16.5h1M19 16.5h1M24 16.5h1M100 16.5h1M103 16.5h1M105 16.5h2M116 16.5h1M19 17.5h2M22 17.5h3M99 17.5h1M103 17.5h3M107 17.5h1M109 17.5h1M1 18.5h1M20 18.5h4M98 18.5h3M102 18.5h1M104 18.5h1M108 18.5h2M111 18.5h1M118 18.5h2M20 19.5h2M23 19.5h1M99 19.5h1M101 19.5h4M115 19.5h1M119 19.5h1M19 20.5h1M22 20.5h3M100 20.5h1M106 20.5h2M111 20.5h5M117 20.5h1M119 20.5h1M20 21.5h3M99 21.5h2M102 21.5h2M111 21.5h2M114 21.5h4M101 22.5h3M112 22.5h5M119 22.5h1M114 23.5h1M116 23.5h1M1 24.5h1M117 24.5h1M0 25.5h1M118 26.5h1M1 27.5h1M118 27.5h1M119 28.5h1M119 29.5h1M0 30.5h1M117 32.5h2M117 33.5h1M119 33.5h1M118 34.5h2M118 35.5h2M119 36.5h1M119 40.5h1M119 41.5h1M0 65.5h1M0 66.5h1M1 67.5h1M0 68.5h1M119 72.5h1M119 73.5h1M119 77.5h1M15 79.5h2M0 80.5h1M14 80.5h2M17 80.5h1M23 80.5h1M119 80.5h1M15 81.5h1M17 81.5h1M118 81.5h2M16 82.5h3M118 82.5h2M18 83.5h1M119 83.5h1M16 84.5h3M117 84.5h1M4 86.5h1M109 86.5h1M116 86.5h1M4 87.5h1M107 87.5h3M117 87.5h1M0 88.5h1M2 88.5h1M5 88.5h1M106 88.5h1M108 88.5h1M110 88.5h1M115 88.5h1M118 88.5h2M105 89.5h3M115 89.5h1M1 90.5h1M106 90.5h2M114 90.5h1M117 90.5h1M1 91.5h1M104 91.5h1M108 91.5h1M111 91.5h5M1 92.5h2M103 92.5h1M108 92.5h1M110 92.5h1M112 92.5h4M0 93.5h2M103 93.5h1M108 93.5h4M115 93.5h1M1 94.5h1M105 94.5h3M109 94.5h2M112 94.5h2M1 95.5h3M106 95.5h3M111 95.5h1M113 95.5h1M119 95.5h1M2 96.5h1M104 96.5h2M107 96.5h2M111 96.5h1M116 96.5h2M119 96.5h1M1 97.5h1M3 97.5h1M101 97.5h1M103 97.5h1M108 97.5h3M112 97.5h1M117 97.5h1M119 97.5h1M101 98.5h1M107 98.5h1M109 98.5h2M115 98.5h1M119 98.5h1M2 99.5h1M4 99.5h1M98 99.5h2M107 99.5h1M109 99.5h1M115 99.5h1M119 99.5h1M2 100.5h1M4 100.5h2M98 100.5h1M105 100.5h2M109 100.5h1M112 100.5h1M119 100.5h1M96 101.5h2M99 101.5h1M105 101.5h1M113 101.5h3M118 101.5h2M6 102.5h1M95 102.5h2M99 102.5h1M104 102.5h1M108 102.5h1M118 102.5h1M0 103.5h1M6 103.5h1M94 103.5h3M107 103.5h1M116 103.5h3M0 104.5h1M7 104.5h1M93 104.5h1M95 104.5h1M101 104.5h1M107 104.5h1M111 104.5h1M113 104.5h1M115 104.5h1M118 104.5h1M1 105.5h1M10 105.5h1M91 105.5h2M94 105.5h1M100 105.5h1M106 105.5h1M113 105.5h1M118 105.5h1M10 106.5h1M18 106.5h2M90 106.5h1M95 106.5h1M99 106.5h1M111 106.5h1M3 107.5h1M9 107.5h1M11 107.5h1M18 107.5h2M98 107.5h2M104 107.5h1M4 108.5h1M12 108.5h1M77 108.5h1M88 108.5h2M94 108.5h1M97 108.5h2M101 108.5h1M118 108.5h2M4 109.5h2M13 109.5h2M76 109.5h2M84 109.5h5M91 109.5h1M93 109.5h5M101 109.5h2M118 109.5h2M5 110.5h1M8 110.5h1M12 110.5h3M16 110.5h1M83 110.5h1M87 110.5h3M91 110.5h2M94 110.5h1M99 110.5h1M118 110.5h1M8 111.5h2M12 111.5h3M80 111.5h1M82 111.5h2M85 111.5h4M92 111.5h2M99 111.5h1M117 111.5h2M3 112.5h1M13 112.5h6M80 112.5h2M88 112.5h5M96 112.5h1M98 112.5h1M118 112.5h2M3 113.5h2M10 113.5h5M16 113.5h3M81 113.5h1M83 113.5h1M85 113.5h1M87 113.5h1M90 113.5h1M97 113.5h2M102 113.5h2M105 113.5h1M118 113.5h1M3 114.5h4M12 114.5h2M18 114.5h3M75 114.5h1M77 114.5h3M81 114.5h1M83 114.5h1M87 114.5h2M97 114.5h1M99 114.5h1M102 114.5h3M118 114.5h1M4 115.5h1M7 115.5h1M14 115.5h2M19 115.5h4M76 115.5h3M80 115.5h4M87 115.5h2M96 115.5h4M104 115.5h1M117 115.5h1M5 116.5h1M9 116.5h1M16 116.5h3M74 116.5h1M78 116.5h3M82 116.5h1M87 116.5h3M94 116.5h4M105 116.5h1M117 116.5h1M6 117.5h1M10 117.5h2M18 117.5h1M80 117.5h1M82 117.5h4M87 117.5h2M90 117.5h2M95 117.5h1M103 117.5h3M108 117.5h1M112 117.5h1M117 117.5h1M18 118.5h1M81 118.5h1M85 118.5h1M92 118.5h3M101 118.5h2M107 118.5h1M116 118.5h1M0 119.5h2M7 119.5h2M11 119.5h6M18 119.5h1M39 119.5h2M86 119.5h1M91 119.5h1M100 119.5h2M103 119.5h2M113 119.5h2"/><path stroke="#cc99cc" d="M3 0.5h1M21 0.5h2M32 0.5h1M37 0.5h1M106 0.5h1M9 1.5h1M11 1.5h1M13 1.5h1M30 1.5h1M82 1.5h1M89 1.5h1M98 1.5h1M1 2.5h1M5 2.5h1M10 2.5h1M116 2.5h1M14 3.5h1M43 3.5h1M102 4.5h1M114 4.5h1M2 5.5h3M13 5.5h1M92 5.5h1M102 5.5h1M1 6.5h1M12 6.5h1M31 6.5h3M40 6.5h1M105 6.5h2M0 7.5h1M33 7.5h1M35 7.5h1M8 8.5h1M32 8.5h1M112 8.5h1M30 9.5h1M106 9.5h1M110 9.5h1M114 9.5h1M0 12.5h1M13 12.5h1M21 12.5h1M115 12.5h1M10 13.5h1M23 13.5h1M113 13.5h1M118 13.5h1M0 15.5h1M118 15.5h1M22 16.5h1M111 16.5h1M117 16.5h1M106 17.5h1M24 18.5h1M24 19.5h1M118 19.5h1M20 20.5h1M99 20.5h1M102 20.5h1M116 20.5h1M118 20.5h1M101 21.5h1M109 21.5h2M119 21.5h1M0 28.5h1M118 33.5h1M0 67.5h1M16 83.5h1M107 88.5h1M116 89.5h1M107 92.5h1M111 92.5h1M104 93.5h1M112 93.5h2M111 94.5h1M105 95.5h1M103 96.5h1M109 96.5h1M112 96.5h1M118 96.5h1M102 97.5h1M118 97.5h1M108 98.5h1M111 98.5h1M116 98.5h1M99 100.5h1M107 100.5h1M5 102.5h1M103 103.5h1M113 103.5h1M102 104.5h1M114 104.5h1M0 105.5h1M101 105.5h1M9 106.5h1M100 106.5h1M10 107.5h1M90 108.5h1M93 108.5h1M102 108.5h1M89 109.5h2M92 109.5h1M15 110.5h1M86 110.5h1M97 110.5h1M3 111.5h1M17 111.5h1M4 112.5h1M85 112.5h1M97 112.5h1M5 113.5h1M82 113.5h1M91 113.5h1M96 113.5h1M11 114.5h1M79 115.5h1M94 115.5h1M81 116.5h1M91 116.5h1M102 117.5h1M95 118.5h1M108 118.5h1M17 119.5h1M92 119.5h1"/><path stroke="#d8d8e0" d="M4 0.5h2M7 0.5h1M9 0.5h1M14 0.5h1M81 0.5h1M90 0.5h1M101 0.5h1M115 0.5h1M3 1.5h1M7 1.5h1M34 1.5h1M84 1.5h1M90 1.5h1M92 1.5h1M99 1.5h1M116 1.5h1M0 2.5h1M2 2.5h1M13 2.5h1M18 2.5h1M31 2.5h1M33 2.5h1M89 2.5h1M4 3.5h1M13 3.5h1M15 3.5h1M31 3.5h1M41 3.5h1M100 3.5h1M102 3.5h1M112 3.5h1M117 3.5h1M3 4.5h1M8 4.5h1M37 4.5h1M42 4.5h1M88 4.5h1M92 4.5h1M103 4.5h2M113 4.5h1M118 4.5h1M5 5.5h3M35 5.5h2M41 5.5h1M90 5.5h2M103 5.5h1M110 5.5h1M112 5.5h2M115 5.5h1M117 5.5h1M5 6.5h2M35 6.5h1M112 6.5h1M3 7.5h1M10 7.5h1M36 7.5h1M29 8.5h1M33 8.5h1M15 9.5h3M88 9.5h1M107 9.5h1M1 10.5h1M15 10.5h2M109 10.5h2M2 11.5h1M4 11.5h1M111 11.5h1M11 12.5h2M22 12.5h2M109 12.5h1M111 12.5h1M113 12.5h1M2 13.5h1M9 13.5h1M11 13.5h1M20 13.5h3M110 13.5h1M0 14.5h1M9 14.5h1M19 14.5h1M119 14.5h1M1 15.5h1M20 15.5h1M111 15.5h1M20 16.5h2M104 16.5h1M115 16.5h1M118 16.5h1M111 17.5h1M116 18.5h1M106 19.5h3M111 19.5h1M113 19.5h2M116 19.5h1M21 20.5h1M101 20.5h1M113 21.5h1M118 21.5h1M118 22.5h1M118 24.5h1M119 25.5h1M119 27.5h1M0 29.5h1M117 34.5h1M119 71.5h1M17 83.5h1M115 86.5h1M116 87.5h1M117 88.5h1M117 89.5h1M0 90.5h1M106 91.5h2M104 92.5h1M106 92.5h1M105 93.5h1M107 93.5h1M103 94.5h2M102 95.5h1M109 95.5h2M112 95.5h1M2 97.5h1M118 98.5h1M3 99.5h1M108 99.5h1M118 99.5h1M3 100.5h1M108 100.5h1M114 100.5h3M118 100.5h1M5 101.5h1M107 101.5h1M117 101.5h1M97 102.5h2M107 102.5h1M106 103.5h1M106 104.5h1M9 105.5h1M93 105.5h1M119 105.5h1M0 106.5h2M101 106.5h1M118 106.5h2M2 107.5h1M90 107.5h1M93 107.5h2M100 107.5h4M92 108.5h1M100 108.5h1M100 109.5h1M1 110.5h4M84 110.5h2M98 110.5h1M2 111.5h1M4 111.5h1M6 111.5h1M15 111.5h1M84 111.5h1M95 111.5h2M2 112.5h1M7 112.5h3M83 112.5h2M79 113.5h1M92 113.5h1M10 114.5h1M80 114.5h1M82 114.5h1M89 114.5h1M96 114.5h1M3 115.5h1M89 115.5h1M100 115.5h4M118 115.5h1M4 116.5h1M10 116.5h1M90 116.5h1M92 116.5h2M103 116.5h1M5 117.5h1M81 117.5h1M96 117.5h1M6 118.5h1M12 118.5h2M82 118.5h1M109 118.5h2M6 119.5h1M81 119.5h1M84 119.5h2M93 119.5h1M105 119.5h1M111 119.5h1M115 119.5h1"/><path stroke="#ccccff" d="M6 0.5h1M8 0.5h1M20 0.5h1M33 0.5h4M82 0.5h1M84 0.5h1M91 0.5h10M117 0.5h2M4 1.5h2M14 1.5h1M19 1.5h2M31 1.5h3M83 1.5h1M91 1.5h1M100 1.5h2M117 1.5h1M3 2.5h2M11 2.5h2M15 2.5h3M32 2.5h1M87 2.5h2M90 2.5h1M92 2.5h1M99 2.5h2M102 2.5h1M117 2.5h2M0 3.5h4M10 3.5h1M12 3.5h1M16 3.5h1M87 3.5h4M92 3.5h1M118 3.5h1M0 4.5h1M2 4.5h1M9 4.5h1M41 4.5h1M89 4.5h1M101 4.5h1M110 4.5h2M119 4.5h1M1 5.5h1M8 5.5h1M12 5.5h1M37 5.5h1M40 5.5h1M104 5.5h2M111 5.5h1M114 5.5h1M118 5.5h2M0 6.5h1M7 6.5h3M11 6.5h1M36 6.5h4M113 6.5h1M115 6.5h5M4 7.5h2M8 7.5h2M31 7.5h2M37 7.5h1M113 7.5h1M118 7.5h1M3 8.5h1M17 8.5h2M30 8.5h2M113 8.5h2M119 8.5h1M2 9.5h2M7 9.5h1M2 10.5h4M115 10.5h1M1 11.5h1M3 11.5h1M109 11.5h2M116 11.5h2M1 12.5h2M110 12.5h1M112 12.5h1M117 12.5h1M1 13.5h1M111 13.5h2M119 13.5h1M20 14.5h3M111 14.5h4M19 15.5h1M21 15.5h2M112 15.5h2M115 15.5h1M119 15.5h1M112 16.5h3M119 16.5h1M0 17.5h1M112 17.5h1M116 17.5h4M0 18.5h1M105 18.5h3M110 18.5h1M112 18.5h2M115 18.5h1M117 18.5h1M105 19.5h1M109 19.5h2M112 19.5h1M117 19.5h1M108 20.5h3M117 22.5h1M117 23.5h3M119 24.5h1M0 26.5h1M119 26.5h1M0 27.5h1M119 78.5h1M119 79.5h1M16 81.5h1M115 87.5h1M116 88.5h1M0 89.5h1M0 91.5h1M105 91.5h1M0 92.5h1M105 92.5h1M106 93.5h1M114 93.5h1M104 95.5h1M102 96.5h1M110 96.5h1M111 97.5h1M2 98.5h2M117 98.5h1M116 99.5h2M117 100.5h1M98 101.5h1M106 101.5h1M116 101.5h1M105 102.5h2M114 102.5h4M104 103.5h2M114 103.5h2M103 104.5h1M119 104.5h1M102 105.5h4M91 106.5h4M102 106.5h3M91 107.5h2M119 107.5h1M0 108.5h1M2 108.5h2M99 108.5h1M0 109.5h4M98 109.5h2M0 110.5h1M96 110.5h1M1 111.5h1M5 111.5h1M7 111.5h1M16 111.5h1M94 111.5h1M97 111.5h2M1 112.5h1M5 112.5h2M82 112.5h1M93 112.5h1M95 112.5h1M2 113.5h1M6 113.5h4M80 113.5h1M93 113.5h1M95 113.5h1M119 113.5h1M2 114.5h1M7 114.5h3M91 114.5h1M95 114.5h1M8 115.5h6M90 115.5h2M93 115.5h1M0 116.5h1M3 116.5h1M11 116.5h2M15 116.5h1M98 116.5h1M101 116.5h2M118 116.5h1M0 117.5h1M4 117.5h1M12 117.5h1M16 117.5h2M97 117.5h1M0 118.5h2M4 118.5h2M14 118.5h1M16 118.5h2M83 118.5h2M96 118.5h1M117 118.5h1M119 118.5h1M2 119.5h1M4 119.5h2M82 119.5h2M97 119.5h3M106 119.5h5M116 119.5h4"/><path stroke="#6666cc" d="M12 0.5h1M30 0.5h1M42 0.5h3M86 0.5h1M88 0.5h1M110 0.5h1M112 0.5h1M23 1.5h1M29 1.5h1M38 1.5h1M42 1.5h3M46 1.5h1M86 1.5h1M103 1.5h4M110 1.5h4M21 2.5h2M28 2.5h1M35 2.5h5M48 2.5h1M84 2.5h1M95 2.5h3M104 2.5h5M113 2.5h1M6 3.5h1M18 3.5h3M24 3.5h4M35 3.5h3M47 3.5h1M85 3.5h1M94 3.5h2M97 3.5h1M106 3.5h3M113 3.5h1M18 4.5h3M24 4.5h3M30 4.5h1M32 4.5h1M45 4.5h2M86 4.5h2M94 4.5h1M99 4.5h1M106 4.5h3M15 5.5h1M19 5.5h2M22 5.5h1M25 5.5h2M28 5.5h2M31 5.5h1M33 5.5h1M44 5.5h1M87 5.5h1M94 5.5h1M101 5.5h1M108 5.5h2M15 6.5h3M19 6.5h2M23 6.5h5M42 6.5h2M48 6.5h1M85 6.5h2M88 6.5h1M93 6.5h2M101 6.5h1M103 6.5h1M109 6.5h1M15 7.5h1M22 7.5h6M39 7.5h2M45 7.5h1M47 7.5h2M88 7.5h1M91 7.5h3M102 7.5h3M108 7.5h1M20 8.5h2M23 8.5h3M37 8.5h2M44 8.5h1M46 8.5h3M85 8.5h1M90 8.5h2M109 8.5h1M9 9.5h2M12 9.5h2M19 9.5h2M22 9.5h4M33 9.5h2M39 9.5h1M41 9.5h1M91 9.5h1M104 9.5h1M8 10.5h3M20 10.5h1M22 10.5h2M25 10.5h1M27 10.5h1M29 10.5h1M31 10.5h2M39 10.5h1M41 10.5h1M87 10.5h1M90 10.5h2M105 10.5h2M7 11.5h4M15 11.5h1M17 11.5h3M25 11.5h1M36 11.5h1M39 11.5h2M88 11.5h4M107 11.5h1M7 12.5h2M14 12.5h1M24 12.5h1M34 12.5h1M89 12.5h1M92 12.5h1M102 12.5h2M107 12.5h1M5 13.5h3M14 13.5h1M18 13.5h1M24 13.5h1M39 13.5h1M100 13.5h1M102 13.5h3M106 13.5h3M3 14.5h1M8 14.5h1M13 14.5h1M18 14.5h1M24 14.5h2M100 14.5h1M102 14.5h7M8 15.5h2M12 15.5h1M17 15.5h1M25 15.5h2M29 15.5h1M100 15.5h1M102 15.5h1M105 15.5h3M109 15.5h1M1 16.5h1M15 16.5h1M17 16.5h2M26 16.5h4M72 16.5h1M98 16.5h2M101 16.5h2M108 16.5h1M110 16.5h1M16 17.5h1M18 17.5h1M26 17.5h2M73 17.5h1M97 17.5h2M102 17.5h1M108 17.5h1M16 18.5h1M97 18.5h1M101 18.5h1M103 18.5h1M19 19.5h1M22 19.5h1M25 19.5h1M98 19.5h1M103 20.5h1M0 21.5h1M23 21.5h1M98 21.5h1M104 21.5h4M21 22.5h2M99 22.5h1M105 22.5h1M107 22.5h2M110 22.5h2M0 23.5h2M84 23.5h1M100 23.5h3M109 23.5h4M2 24.5h1M102 24.5h3M111 24.5h5M1 25.5h1M103 25.5h2M111 25.5h8M104 26.5h2M114 26.5h1M116 26.5h2M117 27.5h1M2 28.5h1M118 28.5h1M1 29.5h1M117 29.5h1M1 30.5h1M117 30.5h3M0 31.5h1M117 31.5h3M116 32.5h1M100 33.5h1M2 36.5h1M118 36.5h1M0 37.5h3M118 37.5h1M118 38.5h2M118 39.5h2M98 42.5h1M119 43.5h1M119 45.5h1M119 46.5h1M119 48.5h1M119 49.5h1M0 57.5h1M1 64.5h1M1 65.5h1M1 66.5h1M2 67.5h2M1 68.5h1M0 69.5h1M111 69.5h1M113 70.5h2M119 70.5h1M118 72.5h1M0 73.5h1M0 74.5h1M0 75.5h1M119 75.5h1M0 76.5h1M21 76.5h1M119 76.5h1M0 77.5h1M22 77.5h1M21 78.5h3M118 78.5h1M17 79.5h1M21 79.5h4M108 79.5h1M118 79.5h1M21 80.5h2M24 80.5h1M0 81.5h1M0 82.5h1M15 82.5h1M19 82.5h2M23 82.5h1M106 82.5h1M117 82.5h1M0 83.5h1M15 83.5h1M19 83.5h2M105 83.5h1M116 83.5h1M19 84.5h1M107 84.5h1M116 84.5h1M119 84.5h1M0 85.5h1M2 85.5h1M16 85.5h4M108 85.5h2M115 85.5h1M117 85.5h1M119 85.5h1M0 86.5h3M5 86.5h1M18 86.5h1M106 86.5h3M110 86.5h2M114 86.5h1M117 86.5h3M0 87.5h4M5 87.5h1M103 87.5h1M105 87.5h2M110 87.5h1M118 87.5h2M1 88.5h1M3 88.5h1M105 88.5h1M109 88.5h1M111 88.5h1M113 88.5h2M1 89.5h2M5 89.5h3M104 89.5h1M108 89.5h6M118 89.5h1M2 90.5h6M104 90.5h1M108 90.5h3M118 90.5h2M3 91.5h1M5 91.5h3M109 91.5h2M119 91.5h1M3 92.5h2M6 92.5h1M109 92.5h1M116 92.5h1M2 93.5h3M9 93.5h2M102 93.5h1M116 93.5h1M119 93.5h1M3 94.5h3M101 94.5h2M116 94.5h4M0 95.5h1M101 95.5h1M115 95.5h4M0 96.5h2M4 96.5h1M106 96.5h1M114 96.5h1M0 97.5h1M105 97.5h3M114 97.5h1M98 98.5h2M103 98.5h3M113 98.5h1M0 99.5h1M5 99.5h1M97 99.5h1M105 99.5h2M111 99.5h2M114 99.5h1M1 100.5h1M95 100.5h2M104 100.5h1M110 100.5h2M0 101.5h3M95 101.5h1M104 101.5h1M109 101.5h1M111 101.5h2M0 102.5h3M100 102.5h2M109 102.5h1M111 102.5h2M1 103.5h1M5 103.5h1M8 103.5h1M93 103.5h1M100 103.5h2M108 103.5h2M111 103.5h1M119 103.5h1M1 104.5h1M6 104.5h1M9 104.5h2M17 104.5h1M91 104.5h2M96 104.5h3M108 104.5h3M116 104.5h1M2 105.5h1M6 105.5h2M11 105.5h1M17 105.5h3M90 105.5h1M95 105.5h3M99 105.5h1M107 105.5h2M110 105.5h2M114 105.5h4M2 106.5h2M8 106.5h1M11 106.5h1M17 106.5h1M20 106.5h1M97 106.5h2M109 106.5h2M112 106.5h1M117 106.5h1M4 107.5h1M13 107.5h2M17 107.5h1M20 107.5h1M85 107.5h3M96 107.5h2M118 107.5h1M9 108.5h3M17 108.5h1M78 108.5h1M85 108.5h3M96 108.5h1M104 108.5h1M108 108.5h3M117 108.5h1M7 109.5h3M11 109.5h2M16 109.5h2M75 109.5h1M78 109.5h1M83 109.5h1M103 109.5h2M106 109.5h1M108 109.5h1M117 109.5h1M9 110.5h2M17 110.5h2M22 110.5h3M73 110.5h1M75 110.5h4M82 110.5h1M101 110.5h1M103 110.5h6M117 110.5h1M119 110.5h1M10 111.5h1M18 111.5h2M22 111.5h1M73 111.5h2M78 111.5h2M90 111.5h2M101 111.5h2M105 111.5h1M107 111.5h1M119 111.5h1M11 112.5h1M19 112.5h2M76 112.5h4M102 112.5h2M115 112.5h1M19 113.5h3M74 113.5h5M89 113.5h1M99 113.5h1M104 113.5h1M115 113.5h1M15 114.5h2M21 114.5h3M35 114.5h2M73 114.5h1M76 114.5h1M84 114.5h3M105 114.5h2M116 114.5h2M5 115.5h2M17 115.5h1M75 115.5h1M84 115.5h2M106 115.5h1M116 115.5h1M6 116.5h3M20 116.5h1M22 116.5h4M35 116.5h1M73 116.5h1M75 116.5h2M84 116.5h2M106 116.5h3M113 116.5h1M116 116.5h1M8 117.5h2M19 117.5h2M24 117.5h3M39 117.5h1M43 117.5h1M74 117.5h6M89 117.5h1M92 117.5h1M107 117.5h1M109 117.5h1M113 117.5h2M116 117.5h1M9 118.5h2M19 118.5h3M24 118.5h3M39 118.5h1M43 118.5h1M75 118.5h6M87 118.5h2M90 118.5h2M104 118.5h2M111 118.5h4M19 119.5h2M24 119.5h2M27 119.5h1M32 119.5h2M36 119.5h1M38 119.5h1M41 119.5h4M77 119.5h4M88 119.5h1M102 119.5h1"/><path stroke="#dcdcdc" d="M15 0.5h1M19 0.5h1M83 0.5h1M116 0.5h1M119 0.5h1M18 1.5h1M118 1.5h1M91 2.5h1M101 2.5h1M11 3.5h1M91 3.5h1M101 3.5h1M1 4.5h1M10 4.5h1M12 4.5h1M38 4.5h3M90 4.5h2M112 4.5h1M0 5.5h1M9 5.5h1M11 5.5h1M38 5.5h2M10 6.5h1M114 6.5h1M6 7.5h1M114 7.5h1M119 7.5h1M4 8.5h4M118 8.5h1M6 9.5h1M118 9.5h2M116 10.5h1M118 11.5h2M118 12.5h2M114 15.5h1M113 17.5h3M114 18.5h1M16 80.5h1M103 95.5h1M104 104.5h1M0 107.5h2M1 108.5h1M91 108.5h1M0 111.5h1M0 112.5h1M94 112.5h1M1 113.5h1M1 114.5h1M90 114.5h1M92 114.5h3M119 114.5h1M0 115.5h1M2 115.5h1M92 115.5h1M2 116.5h1M13 116.5h2M99 116.5h2M1 117.5h3M13 117.5h3M101 117.5h1M119 117.5h1M2 118.5h2M15 118.5h1M97 118.5h1M99 118.5h2M118 118.5h1M3 119.5h1M94 119.5h1"/><path stroke="#ffffff" d="M16 0.5h3M15 1.5h3M119 1.5h1M119 2.5h1M119 3.5h1M11 4.5h1M10 5.5h1M7 7.5h1M115 7.5h3M115 8.5h3M4 9.5h2M115 9.5h3M117 10.5h3M105 104.5h1M0 113.5h1M94 113.5h1M0 114.5h1M1 115.5h1M119 115.5h1M1 116.5h1M119 116.5h1M98 117.5h3M118 117.5h1M98 118.5h1M95 119.5h2"/><path stroke="#333399" d="M24 0.5h1M26 0.5h1M29 0.5h1M39 0.5h1M41 0.5h1M111 0.5h1M25 1.5h4M39 1.5h1M48 1.5h1M52 1.5h1M80 1.5h1M25 2.5h1M49 2.5h2M52 2.5h1M49 3.5h1M51 3.5h2M84 3.5h1M48 4.5h1M47 5.5h1M49 5.5h1M78 5.5h1M85 5.5h1M100 5.5h1M46 6.5h1M49 6.5h1M84 6.5h1M95 6.5h1M43 7.5h1M95 7.5h1M101 7.5h1M42 8.5h2M49 8.5h2M84 8.5h1M94 8.5h1M102 8.5h1M43 9.5h1M46 9.5h1M48 9.5h1M72 9.5h3M85 9.5h1M93 9.5h1M102 9.5h2M38 10.5h1M42 10.5h1M71 10.5h1M74 10.5h1M95 10.5h1M102 10.5h2M27 11.5h1M32 11.5h1M35 11.5h1M38 11.5h1M42 11.5h1M86 11.5h2M92 11.5h2M101 11.5h1M103 11.5h1M105 11.5h1M16 12.5h2M32 12.5h2M35 12.5h3M40 12.5h2M71 12.5h2M93 12.5h2M15 13.5h1M17 13.5h1M31 13.5h1M34 13.5h3M38 13.5h1M40 13.5h1M88 13.5h2M92 13.5h2M95 13.5h2M6 14.5h1M14 14.5h1M26 14.5h1M31 14.5h1M93 14.5h1M95 14.5h1M3 15.5h1M10 15.5h1M14 15.5h1M16 15.5h1M30 15.5h2M70 15.5h1M72 15.5h2M93 15.5h2M96 15.5h2M3 16.5h1M13 16.5h1M73 16.5h1M96 16.5h2M14 17.5h1M28 17.5h1M72 17.5h1M75 17.5h1M96 17.5h1M14 18.5h1M96 18.5h1M14 19.5h5M96 19.5h2M1 20.5h1M14 20.5h5M18 21.5h1M24 21.5h1M0 22.5h3M23 22.5h1M84 22.5h2M98 22.5h1M4 23.5h1M20 23.5h1M83 23.5h1M99 23.5h1M106 23.5h1M17 24.5h1M106 24.5h3M102 25.5h1M106 25.5h5M3 26.5h1M8 26.5h1M86 26.5h1M106 26.5h2M113 26.5h1M103 27.5h1M105 27.5h1M111 27.5h5M104 28.5h1M115 28.5h2M102 29.5h1M115 29.5h1M2 30.5h1M100 30.5h3M114 30.5h1M116 30.5h1M1 31.5h2M100 31.5h2M3 32.5h1M101 32.5h2M4 33.5h1M27 33.5h2M101 33.5h1M100 34.5h2M1 35.5h1M3 35.5h1M103 35.5h1M1 36.5h1M3 36.5h1M9 36.5h1M101 36.5h1M102 37.5h1M104 37.5h1M1 39.5h1M0 40.5h1M118 40.5h1M0 41.5h1M98 41.5h1M118 41.5h1M0 42.5h1M101 42.5h1M98 43.5h1M112 43.5h1M0 44.5h1M115 46.5h1M116 47.5h1M119 47.5h1M0 50.5h1M0 52.5h1M119 52.5h1M115 53.5h2M118 53.5h1M0 54.5h1M115 54.5h1M0 55.5h1M0 56.5h1M0 58.5h1M0 60.5h1M96 60.5h1M1 63.5h1M118 63.5h1M3 64.5h1M5 64.5h1M117 64.5h1M119 64.5h1M2 65.5h4M3 66.5h1M119 67.5h1M2 68.5h1M113 68.5h1M115 68.5h3M1 69.5h1M110 69.5h1M112 69.5h2M115 69.5h2M109 70.5h1M112 71.5h1M117 71.5h2M0 72.5h1M116 72.5h1M20 73.5h1M118 73.5h1M21 75.5h1M19 76.5h2M16 77.5h3M20 77.5h2M118 77.5h1M14 78.5h1M16 78.5h1M18 78.5h2M24 78.5h1M112 78.5h2M18 79.5h2M107 79.5h1M109 79.5h1M113 79.5h1M13 80.5h1M18 80.5h1M20 80.5h1M111 80.5h1M114 80.5h1M19 81.5h4M25 81.5h1M106 81.5h1M109 81.5h2M112 81.5h1M116 81.5h1M1 82.5h1M14 82.5h1M22 82.5h1M24 82.5h1M105 82.5h1M108 82.5h1M111 82.5h1M1 83.5h1M21 83.5h3M108 83.5h1M111 83.5h1M114 83.5h2M1 84.5h2M14 84.5h1M105 84.5h1M109 84.5h1M115 84.5h1M4 85.5h2M20 85.5h1M105 85.5h2M110 85.5h1M6 86.5h1M19 86.5h1M104 86.5h1M112 86.5h2M6 87.5h2M111 87.5h3M8 88.5h1M103 88.5h1M10 89.5h2M9 90.5h2M11 91.5h1M102 92.5h1M117 92.5h3M6 93.5h1M11 93.5h2M101 93.5h1M6 94.5h2M9 94.5h2M8 95.5h3M94 96.5h1M99 96.5h2M5 97.5h1M21 97.5h2M95 97.5h2M99 97.5h1M21 98.5h1M93 98.5h2M97 98.5h1M22 99.5h2M94 99.5h3M103 99.5h2M23 100.5h1M94 100.5h1M101 100.5h3M23 101.5h1M31 101.5h1M101 101.5h2M3 102.5h1M25 102.5h2M3 103.5h1M9 103.5h1M21 103.5h1M91 103.5h1M110 103.5h1M2 104.5h1M11 104.5h1M16 104.5h1M19 104.5h1M90 104.5h1M4 105.5h2M12 105.5h4M20 105.5h1M86 105.5h1M4 106.5h1M7 106.5h1M13 106.5h4M89 106.5h1M115 106.5h2M5 107.5h1M8 107.5h1M15 107.5h2M21 107.5h1M77 107.5h2M82 107.5h3M108 107.5h1M113 107.5h1M116 107.5h1M8 108.5h1M15 108.5h2M19 108.5h1M21 108.5h3M34 108.5h2M82 108.5h1M106 108.5h2M111 108.5h1M116 108.5h1M19 109.5h2M23 109.5h1M25 109.5h1M39 109.5h1M79 109.5h1M110 109.5h1M19 110.5h3M27 110.5h1M34 110.5h1M36 110.5h1M40 110.5h1M72 110.5h1M79 110.5h1M81 110.5h1M102 110.5h1M110 110.5h1M116 110.5h1M21 111.5h1M41 111.5h2M72 111.5h1M76 111.5h1M109 111.5h1M115 111.5h1M21 112.5h1M23 112.5h2M29 112.5h1M31 112.5h1M33 112.5h2M36 112.5h1M39 112.5h2M42 112.5h1M74 112.5h1M108 112.5h1M22 113.5h1M30 113.5h1M33 113.5h1M35 113.5h1M39 113.5h1M107 113.5h1M113 113.5h1M31 114.5h1M33 114.5h1M38 114.5h3M72 114.5h1M115 114.5h1M24 115.5h1M32 115.5h1M36 115.5h4M72 115.5h1M108 115.5h1M37 116.5h1M42 116.5h1M72 116.5h1M110 116.5h1M27 117.5h1M37 117.5h2M44 117.5h1M115 117.5h1M22 118.5h1M29 118.5h1M33 118.5h2M44 118.5h2M53 118.5h1M67 118.5h1M73 118.5h1M22 119.5h1M29 119.5h1M46 119.5h1M53 119.5h1M67 119.5h1M74 119.5h2"/><path stroke="#330099" d="M25 0.5h1M27 0.5h2M47 0.5h1M56 0.5h2M61 0.5h1M74 0.5h2M77 0.5h2M49 1.5h1M51 1.5h1M53 1.5h2M56 1.5h2M75 1.5h1M78 1.5h2M51 2.5h1M53 2.5h1M69 2.5h4M76 2.5h2M80 2.5h2M50 3.5h1M53 3.5h3M69 3.5h2M77 3.5h1M81 3.5h3M49 4.5h5M55 4.5h2M69 4.5h2M77 4.5h3M84 4.5h1M46 5.5h1M50 5.5h1M75 5.5h3M83 5.5h2M96 5.5h4M47 6.5h1M50 6.5h1M56 6.5h1M74 6.5h4M83 6.5h1M96 6.5h3M100 6.5h1M74 7.5h2M78 7.5h1M83 7.5h1M96 7.5h2M100 7.5h1M55 8.5h2M66 8.5h3M72 8.5h3M95 8.5h2M99 8.5h2M103 8.5h1M44 9.5h2M49 9.5h1M56 9.5h1M69 9.5h3M84 9.5h1M94 9.5h2M43 10.5h1M51 10.5h1M65 10.5h1M69 10.5h1M75 10.5h2M85 10.5h1M93 10.5h2M101 10.5h1M29 11.5h3M69 11.5h1M73 11.5h3M94 11.5h3M102 11.5h1M26 12.5h3M30 12.5h1M42 12.5h1M69 12.5h2M73 12.5h2M86 12.5h2M95 12.5h2M100 12.5h1M16 13.5h1M26 13.5h5M41 13.5h2M69 13.5h2M73 13.5h1M77 13.5h1M86 13.5h2M90 13.5h2M98 13.5h2M15 14.5h2M27 14.5h4M32 14.5h1M36 14.5h5M69 14.5h4M87 14.5h6M96 14.5h2M99 14.5h1M4 15.5h3M32 15.5h1M62 15.5h1M91 15.5h1M95 15.5h1M98 15.5h2M4 16.5h9M14 16.5h1M30 16.5h2M39 16.5h1M70 16.5h1M74 16.5h1M87 16.5h2M93 16.5h3M2 17.5h2M13 17.5h1M29 17.5h3M70 17.5h1M83 17.5h2M87 17.5h1M95 17.5h1M3 18.5h1M13 18.5h1M27 18.5h1M31 18.5h3M70 18.5h7M86 18.5h1M95 18.5h1M2 19.5h1M13 19.5h1M26 19.5h1M31 19.5h2M35 19.5h1M74 19.5h3M95 19.5h1M2 20.5h2M75 20.5h1M95 20.5h2M3 21.5h1M14 21.5h3M25 21.5h1M67 21.5h1M82 21.5h3M95 21.5h3M3 22.5h3M8 22.5h1M13 22.5h4M24 22.5h1M82 22.5h2M95 22.5h3M5 23.5h1M16 23.5h2M21 23.5h3M86 23.5h1M95 23.5h4M4 24.5h5M16 24.5h1M18 24.5h1M83 24.5h5M96 24.5h5M4 25.5h6M14 25.5h1M16 25.5h2M86 25.5h2M97 25.5h5M4 26.5h4M9 26.5h1M46 26.5h2M87 26.5h1M97 26.5h2M101 26.5h2M108 26.5h3M3 27.5h3M33 27.5h1M46 27.5h3M95 27.5h4M102 27.5h1M104 27.5h1M106 27.5h5M3 28.5h1M47 28.5h2M94 28.5h4M99 28.5h5M105 28.5h1M112 28.5h1M3 29.5h2M12 29.5h2M48 29.5h2M90 29.5h2M96 29.5h2M99 29.5h3M103 29.5h2M112 29.5h1M114 29.5h1M3 30.5h2M50 30.5h1M77 30.5h2M90 30.5h5M97 30.5h3M103 30.5h2M113 30.5h1M115 30.5h1M3 31.5h2M9 31.5h1M12 31.5h2M27 31.5h1M92 31.5h1M99 31.5h1M102 31.5h3M111 31.5h2M114 31.5h2M2 32.5h1M4 32.5h2M12 32.5h1M25 32.5h4M92 32.5h2M100 32.5h1M112 32.5h4M2 33.5h2M5 33.5h5M11 33.5h1M26 33.5h1M102 33.5h1M116 33.5h1M0 34.5h10M26 34.5h3M102 34.5h2M111 34.5h1M116 34.5h1M0 35.5h1M4 35.5h1M6 35.5h5M100 35.5h1M104 35.5h1M0 36.5h1M7 36.5h2M10 36.5h1M100 36.5h1M102 36.5h4M109 36.5h2M117 36.5h1M3 37.5h1M8 37.5h3M95 37.5h1M99 37.5h3M105 37.5h1M109 37.5h2M2 38.5h2M8 38.5h2M32 38.5h1M70 38.5h2M98 38.5h8M0 39.5h1M2 39.5h1M9 39.5h1M23 39.5h2M31 39.5h2M70 39.5h2M97 39.5h1M100 39.5h6M107 39.5h1M117 39.5h1M1 40.5h1M22 40.5h3M32 40.5h1M98 40.5h1M100 40.5h3M107 40.5h1M117 40.5h1M1 41.5h3M22 41.5h1M32 41.5h1M48 41.5h1M99 41.5h4M114 41.5h1M117 41.5h1M1 42.5h4M48 42.5h1M89 42.5h1M97 42.5h1M99 42.5h2M111 42.5h3M115 42.5h4M0 43.5h5M99 43.5h2M111 43.5h1M113 43.5h6M1 44.5h4M39 44.5h2M97 44.5h4M105 44.5h1M115 44.5h1M117 44.5h3M0 45.5h2M3 45.5h3M99 45.5h1M106 45.5h1M116 45.5h3M0 46.5h1M3 46.5h1M12 46.5h1M105 46.5h2M113 46.5h2M116 46.5h1M118 46.5h1M0 47.5h2M40 47.5h1M104 47.5h3M112 47.5h1M114 47.5h2M117 47.5h2M0 48.5h1M11 48.5h1M40 48.5h1M104 48.5h1M111 48.5h1M116 48.5h3M0 49.5h2M18 49.5h3M117 49.5h2M18 50.5h2M104 50.5h1M115 50.5h1M118 50.5h1M0 51.5h1M19 51.5h2M104 51.5h1M114 51.5h3M118 51.5h1M114 52.5h5M114 53.5h1M117 53.5h1M119 53.5h1M1 54.5h2M114 54.5h1M118 54.5h2M1 55.5h2M107 55.5h1M114 55.5h2M117 55.5h1M119 55.5h1M1 56.5h1M10 56.5h1M17 56.5h3M115 56.5h3M1 57.5h1M1 58.5h1M96 58.5h1M9 59.5h1M94 59.5h3M1 60.5h1M95 60.5h1M0 61.5h1M95 61.5h2M119 61.5h1M0 62.5h2M118 62.5h2M3 63.5h2M6 63.5h1M117 63.5h1M2 64.5h1M116 64.5h1M20 65.5h1M118 65.5h2M4 66.5h2M17 66.5h4M82 66.5h1M108 66.5h2M116 66.5h2M119 66.5h1M4 67.5h2M12 67.5h1M18 67.5h2M21 67.5h1M83 67.5h1M85 67.5h2M107 67.5h6M114 67.5h5M3 68.5h1M17 68.5h5M83 68.5h2M86 68.5h1M107 68.5h2M118 68.5h1M2 69.5h1M11 69.5h1M18 69.5h4M107 69.5h2M117 69.5h3M18 70.5h4M84 70.5h1M108 70.5h1M110 70.5h1M115 70.5h2M118 70.5h1M0 71.5h1M18 71.5h2M21 71.5h1M109 71.5h1M111 71.5h1M113 71.5h4M19 72.5h3M115 72.5h1M1 73.5h1M18 73.5h2M21 73.5h1M115 73.5h3M1 74.5h1M18 74.5h2M21 74.5h2M114 74.5h1M117 74.5h1M1 75.5h1M17 75.5h4M22 75.5h1M113 75.5h1M118 75.5h1M15 76.5h4M23 76.5h1M82 76.5h1M113 76.5h2M118 76.5h1M14 77.5h2M19 77.5h1M24 77.5h1M82 77.5h1M99 77.5h2M111 77.5h4M116 77.5h2M1 78.5h1M13 78.5h1M25 78.5h1M107 78.5h2M111 78.5h1M114 78.5h4M1 79.5h2M25 79.5h1M90 79.5h1M105 79.5h2M110 79.5h3M114 79.5h1M116 79.5h2M1 80.5h2M11 80.5h2M19 80.5h1M25 80.5h1M105 80.5h5M112 80.5h1M115 80.5h2M1 81.5h1M11 81.5h1M13 81.5h1M26 81.5h1M81 81.5h1M103 81.5h3M113 81.5h3M2 82.5h1M12 82.5h2M25 82.5h2M103 82.5h2M107 82.5h1M109 82.5h2M112 82.5h1M114 82.5h1M2 83.5h2M13 83.5h1M24 83.5h3M104 83.5h1M109 83.5h2M112 83.5h2M3 84.5h4M22 84.5h5M79 84.5h1M96 84.5h1M103 84.5h2M106 84.5h1M110 84.5h5M10 85.5h1M12 85.5h1M14 85.5h1M21 85.5h1M25 85.5h3M95 85.5h2M103 85.5h2M111 85.5h4M7 86.5h1M9 86.5h2M12 86.5h2M15 86.5h3M20 86.5h2M80 86.5h2M94 86.5h2M103 86.5h1M8 87.5h2M11 87.5h2M15 87.5h5M79 87.5h2M95 87.5h2M101 87.5h1M9 88.5h3M80 88.5h2M92 88.5h2M102 88.5h1M8 89.5h2M12 89.5h3M28 89.5h1M80 89.5h2M92 89.5h1M102 89.5h1M11 90.5h3M78 90.5h2M81 90.5h1M91 90.5h1M101 90.5h2M12 91.5h2M78 91.5h2M81 91.5h1M101 91.5h2M5 92.5h1M12 92.5h2M25 92.5h2M56 92.5h2M101 92.5h1M25 93.5h2M55 93.5h2M92 93.5h4M99 93.5h1M11 94.5h1M21 94.5h5M84 94.5h1M91 94.5h1M93 94.5h4M99 94.5h2M6 95.5h2M11 95.5h1M14 95.5h1M16 95.5h9M84 95.5h2M93 95.5h1M96 95.5h1M99 95.5h2M6 96.5h6M15 96.5h1M19 96.5h6M84 96.5h2M90 96.5h4M95 96.5h4M6 97.5h2M10 97.5h4M15 97.5h1M17 97.5h2M20 97.5h1M23 97.5h2M35 97.5h1M91 97.5h3M97 97.5h2M6 98.5h1M13 98.5h3M23 98.5h2M32 98.5h1M34 98.5h3M91 98.5h2M95 98.5h2M6 99.5h1M12 99.5h3M21 99.5h1M24 99.5h1M32 99.5h1M35 99.5h2M52 99.5h2M88 99.5h3M92 99.5h2M13 100.5h3M19 100.5h1M21 100.5h2M24 100.5h3M29 100.5h1M31 100.5h3M38 100.5h1M86 100.5h1M88 100.5h6M8 101.5h1M12 101.5h3M19 101.5h4M24 101.5h5M30 101.5h1M33 101.5h2M89 101.5h5M8 102.5h2M13 102.5h4M18 102.5h1M21 102.5h4M27 102.5h5M35 102.5h1M39 102.5h1M88 102.5h4M10 103.5h1M12 103.5h9M22 103.5h1M25 103.5h3M31 103.5h1M35 103.5h1M39 103.5h1M43 103.5h3M48 103.5h1M86 103.5h2M89 103.5h2M12 104.5h4M20 104.5h3M31 104.5h1M33 104.5h3M41 104.5h1M43 104.5h1M45 104.5h2M48 104.5h1M87 104.5h3M21 105.5h2M31 105.5h6M46 105.5h1M83 105.5h1M85 105.5h1M87 105.5h3M5 106.5h1M21 106.5h2M31 106.5h7M49 106.5h1M51 106.5h1M63 106.5h1M78 106.5h1M82 106.5h7M114 106.5h1M7 107.5h1M22 107.5h2M29 107.5h1M32 107.5h8M76 107.5h1M79 107.5h3M106 107.5h2M114 107.5h2M7 108.5h1M20 108.5h1M24 108.5h4M30 108.5h1M32 108.5h2M36 108.5h4M74 108.5h2M80 108.5h2M105 108.5h1M112 108.5h1M115 108.5h1M21 109.5h1M24 109.5h1M26 109.5h3M33 109.5h3M37 109.5h2M40 109.5h2M72 109.5h2M80 109.5h2M109 109.5h1M111 109.5h2M115 109.5h2M26 110.5h1M28 110.5h6M35 110.5h1M37 110.5h2M41 110.5h2M71 110.5h1M80 110.5h1M111 110.5h1M115 110.5h1M23 111.5h1M25 111.5h14M43 111.5h1M64 111.5h1M110 111.5h1M114 111.5h1M25 112.5h1M27 112.5h2M32 112.5h1M35 112.5h1M37 112.5h1M41 112.5h1M43 112.5h1M56 112.5h1M109 112.5h4M114 112.5h1M23 113.5h7M31 113.5h2M34 113.5h1M36 113.5h1M38 113.5h1M40 113.5h5M56 113.5h1M71 113.5h1M108 113.5h1M111 113.5h2M24 114.5h7M32 114.5h1M34 114.5h1M37 114.5h1M41 114.5h1M108 114.5h1M111 114.5h3M25 115.5h1M28 115.5h1M31 115.5h1M33 115.5h1M40 115.5h2M46 115.5h1M54 115.5h1M56 115.5h2M61 115.5h1M71 115.5h1M109 115.5h1M111 115.5h1M27 116.5h2M31 116.5h2M39 116.5h1M43 116.5h1M45 116.5h4M52 116.5h1M56 116.5h2M60 116.5h3M67 116.5h2M70 116.5h2M28 117.5h7M36 117.5h1M45 117.5h6M52 117.5h9M64 117.5h1M66 117.5h7M30 118.5h2M36 118.5h2M47 118.5h2M50 118.5h3M54 118.5h1M58 118.5h1M64 118.5h2M68 118.5h2M72 118.5h1M37 119.5h1M47 119.5h2M50 119.5h3M54 119.5h1M59 119.5h1M64 119.5h1M66 119.5h1M68 119.5h2M72 119.5h1"/><path stroke="#6633cc" d="M40 0.5h1M45 0.5h2M79 0.5h1M24 1.5h1M40 1.5h2M47 1.5h1M23 2.5h2M26 2.5h2M47 2.5h1M82 2.5h2M48 3.5h1M96 3.5h1M17 4.5h1M47 4.5h1M85 4.5h1M95 4.5h4M16 5.5h3M45 5.5h1M48 5.5h1M86 5.5h1M95 5.5h1M18 6.5h1M44 6.5h2M41 7.5h2M44 7.5h1M46 7.5h1M49 7.5h2M84 7.5h1M94 7.5h1M22 8.5h1M39 8.5h3M45 8.5h1M92 8.5h2M104 8.5h1M21 9.5h1M35 9.5h4M40 9.5h1M42 9.5h1M47 9.5h1M92 9.5h1M21 10.5h1M28 10.5h1M30 10.5h1M33 10.5h5M40 10.5h1M70 10.5h1M72 10.5h2M86 10.5h1M92 10.5h1M26 11.5h1M28 11.5h1M33 11.5h2M37 11.5h1M41 11.5h1M70 11.5h3M104 11.5h1M106 11.5h1M15 12.5h1M18 12.5h1M25 12.5h1M31 12.5h1M38 12.5h2M88 12.5h1M90 12.5h2M101 12.5h1M104 12.5h3M25 13.5h1M32 13.5h2M37 13.5h1M71 13.5h2M94 13.5h1M105 13.5h1M4 14.5h2M7 14.5h1M17 14.5h1M94 14.5h1M7 15.5h1M11 15.5h1M13 15.5h1M15 15.5h1M27 15.5h2M71 15.5h1M108 15.5h1M2 16.5h1M16 16.5h1M71 16.5h1M15 17.5h1M17 17.5h1M71 17.5h1M74 17.5h1M101 17.5h1M2 18.5h1M15 18.5h1M17 18.5h2M26 18.5h1M1 19.5h1M25 20.5h1M97 20.5h1M1 21.5h2M17 21.5h1M17 22.5h2M106 22.5h1M2 23.5h2M18 23.5h2M85 23.5h1M104 23.5h2M107 23.5h2M3 24.5h1M101 24.5h1M105 24.5h1M109 24.5h2M2 25.5h2M105 25.5h1M2 26.5h1M103 26.5h1M111 26.5h2M115 26.5h1M2 27.5h1M116 27.5h1M113 28.5h2M117 28.5h1M2 29.5h1M116 29.5h1M91 31.5h1M116 31.5h1M2 35.5h1M101 35.5h2M103 37.5h1M0 38.5h2M97 43.5h1M119 50.5h1M119 51.5h1M0 53.5h1M116 54.5h2M116 55.5h1M0 63.5h1M119 63.5h1M4 64.5h1M118 64.5h1M2 66.5h1M111 68.5h2M114 68.5h1M119 68.5h1M114 69.5h1M0 70.5h1M111 70.5h2M117 70.5h1M117 72.5h1M20 74.5h1M118 74.5h1M22 76.5h1M23 77.5h1M15 78.5h1M17 78.5h1M20 78.5h1M13 79.5h1M20 79.5h1M115 79.5h1M110 80.5h1M113 80.5h1M117 80.5h1M14 81.5h1M24 81.5h1M107 81.5h2M111 81.5h1M117 81.5h1M21 82.5h1M115 82.5h2M14 83.5h1M106 83.5h2M0 84.5h1M20 84.5h2M108 84.5h1M1 85.5h1M3 85.5h1M15 85.5h1M107 85.5h1M105 86.5h1M104 87.5h1M7 88.5h1M104 88.5h1M112 88.5h1M3 89.5h1M103 89.5h1M8 90.5h1M103 90.5h1M4 91.5h1M9 91.5h2M103 91.5h1M117 91.5h2M8 92.5h4M5 93.5h1M7 93.5h2M117 93.5h2M8 94.5h1M4 95.5h2M94 95.5h2M5 96.5h1M94 97.5h1M0 98.5h1M5 98.5h1M22 98.5h1M114 98.5h1M102 99.5h1M6 100.5h1M7 101.5h1M103 101.5h1M7 102.5h1M92 102.5h2M102 102.5h1M110 102.5h1M2 103.5h1M4 103.5h1M92 103.5h1M3 104.5h3M18 104.5h1M3 105.5h1M16 105.5h1M98 105.5h1M109 105.5h1M6 106.5h1M12 106.5h1M106 106.5h3M113 106.5h1M6 107.5h1M88 107.5h1M105 107.5h1M109 107.5h1M111 107.5h2M117 107.5h1M6 108.5h1M18 108.5h1M79 108.5h1M83 108.5h2M18 109.5h1M22 109.5h1M36 109.5h1M74 109.5h1M82 109.5h1M105 109.5h1M107 109.5h1M25 110.5h1M39 110.5h1M109 110.5h1M20 111.5h1M24 111.5h1M39 111.5h2M75 111.5h1M77 111.5h1M103 111.5h2M108 111.5h1M22 112.5h1M30 112.5h1M72 112.5h2M75 112.5h1M104 112.5h4M72 113.5h2M106 113.5h1M114 113.5h1M107 114.5h1M114 114.5h1M34 115.5h2M107 115.5h1M112 115.5h4M26 116.5h1M33 116.5h2M36 116.5h1M38 116.5h1M40 116.5h2M109 116.5h1M111 116.5h1M114 116.5h2M21 117.5h3M35 117.5h1M40 117.5h3M73 117.5h1M23 118.5h1M27 118.5h2M32 118.5h1M35 118.5h1M38 118.5h1M41 118.5h2M46 118.5h1M74 118.5h1M89 118.5h1M115 118.5h1M21 119.5h1M23 119.5h1M28 119.5h1M30 119.5h2M45 119.5h1M73 119.5h1M76 119.5h1M89 119.5h2"/><path stroke="#0033cc" d="M48 0.5h8M58 0.5h3M62 0.5h3M69 0.5h5M76 0.5h1M50 1.5h1M55 1.5h1M58 1.5h17M76 1.5h2M54 2.5h15M73 2.5h3M78 2.5h2M56 3.5h13M71 3.5h6M78 3.5h3M54 4.5h1M57 4.5h9M67 4.5h2M71 4.5h6M80 4.5h4M51 5.5h8M61 5.5h4M66 5.5h9M79 5.5h4M51 6.5h5M57 6.5h2M61 6.5h13M78 6.5h5M99 6.5h1M51 7.5h9M61 7.5h13M76 7.5h2M79 7.5h4M98 7.5h2M51 8.5h4M57 8.5h3M61 8.5h5M69 8.5h3M75 8.5h9M97 8.5h2M101 8.5h1M50 9.5h6M57 9.5h1M62 9.5h7M75 9.5h9M96 9.5h6M44 10.5h7M52 10.5h6M62 10.5h3M66 10.5h3M77 10.5h8M96 10.5h5M43 11.5h3M47 11.5h9M57 11.5h5M63 11.5h6M76 11.5h7M84 11.5h2M97 11.5h4M29 12.5h1M43 12.5h2M47 12.5h3M51 12.5h1M55 12.5h7M63 12.5h6M75 12.5h8M84 12.5h2M97 12.5h3M43 13.5h3M47 13.5h2M51 13.5h1M56 13.5h13M74 13.5h3M78 13.5h2M81 13.5h5M97 13.5h1M33 14.5h3M41 14.5h7M55 14.5h1M58 14.5h11M73 14.5h14M98 14.5h1M33 15.5h15M58 15.5h4M63 15.5h7M74 15.5h17M92 15.5h1M32 16.5h7M40 16.5h2M56 16.5h1M60 16.5h1M62 16.5h1M64 16.5h6M75 16.5h12M89 16.5h4M4 17.5h9M32 17.5h8M42 17.5h2M54 17.5h4M62 17.5h2M65 17.5h5M76 17.5h3M81 17.5h2M85 17.5h2M88 17.5h7M4 18.5h9M28 18.5h3M34 18.5h7M54 18.5h5M64 18.5h1M67 18.5h3M77 18.5h3M82 18.5h4M87 18.5h8M3 19.5h10M27 19.5h4M33 19.5h2M36 19.5h3M52 19.5h6M64 19.5h10M77 19.5h18M4 20.5h10M26 20.5h14M52 20.5h6M62 20.5h2M65 20.5h5M71 20.5h4M76 20.5h19M4 21.5h10M26 21.5h1M31 21.5h5M52 21.5h3M62 21.5h1M65 21.5h2M68 21.5h2M72 21.5h6M79 21.5h3M85 21.5h10M6 22.5h2M9 22.5h4M25 22.5h1M31 22.5h3M40 22.5h2M54 22.5h1M65 22.5h6M72 22.5h2M80 22.5h2M86 22.5h9M6 23.5h10M24 23.5h2M41 23.5h4M66 23.5h6M76 23.5h1M80 23.5h3M87 23.5h8M9 24.5h7M19 24.5h8M42 24.5h2M47 24.5h3M67 24.5h1M69 24.5h2M73 24.5h1M76 24.5h1M79 24.5h1M81 24.5h2M88 24.5h8M10 25.5h4M15 25.5h1M18 25.5h7M35 25.5h2M45 25.5h5M73 25.5h2M79 25.5h1M81 25.5h5M88 25.5h2M91 25.5h6M10 26.5h9M21 26.5h4M26 26.5h1M31 26.5h1M33 26.5h3M45 26.5h1M48 26.5h3M71 26.5h1M75 26.5h2M79 26.5h7M88 26.5h9M99 26.5h2M6 27.5h12M22 27.5h3M31 27.5h2M34 27.5h2M45 27.5h1M49 27.5h2M78 27.5h17M99 27.5h3M4 28.5h14M21 28.5h5M30 28.5h6M45 28.5h2M49 28.5h4M75 28.5h19M98 28.5h1M106 28.5h6M5 29.5h7M14 29.5h3M23 29.5h2M26 29.5h5M32 29.5h2M45 29.5h3M50 29.5h3M74 29.5h7M82 29.5h8M92 29.5h4M98 29.5h1M105 29.5h7M113 29.5h1M5 30.5h2M8 30.5h10M23 30.5h1M25 30.5h6M48 30.5h2M51 30.5h1M70 30.5h1M72 30.5h1M74 30.5h3M79 30.5h2M82 30.5h4M87 30.5h3M95 30.5h2M105 30.5h8M5 31.5h4M10 31.5h2M14 31.5h1M23 31.5h1M25 31.5h2M28 31.5h3M32 31.5h1M49 31.5h4M70 31.5h1M73 31.5h7M82 31.5h3M89 31.5h2M93 31.5h6M105 31.5h6M113 31.5h1M0 32.5h2M6 32.5h6M13 32.5h3M23 32.5h2M29 32.5h3M38 32.5h2M49 32.5h1M52 32.5h1M73 32.5h8M89 32.5h3M94 32.5h6M103 32.5h5M110 32.5h2M0 33.5h2M10 33.5h1M12 33.5h3M23 33.5h3M29 33.5h2M38 33.5h1M49 33.5h4M74 33.5h6M89 33.5h11M103 33.5h13M10 34.5h7M18 34.5h2M24 34.5h2M29 34.5h1M49 34.5h1M51 34.5h1M55 34.5h1M68 34.5h1M74 34.5h2M78 34.5h2M89 34.5h11M104 34.5h7M112 34.5h4M5 35.5h1M11 35.5h5M19 35.5h1M25 35.5h5M68 35.5h2M74 35.5h1M77 35.5h2M86 35.5h1M88 35.5h2M91 35.5h9M105 35.5h8M115 35.5h2M4 36.5h3M11 36.5h5M25 36.5h5M31 36.5h1M33 36.5h1M49 36.5h1M68 36.5h4M75 36.5h1M78 36.5h2M92 36.5h8M106 36.5h3M111 36.5h2M116 36.5h1M4 37.5h4M11 37.5h3M15 37.5h1M17 37.5h1M24 37.5h6M31 37.5h5M47 37.5h4M68 37.5h5M80 37.5h2M87 37.5h2M92 37.5h3M96 37.5h3M106 37.5h3M111 37.5h7M4 38.5h4M10 38.5h1M13 38.5h3M22 38.5h6M29 38.5h3M33 38.5h2M45 38.5h6M58 38.5h1M69 38.5h1M72 38.5h1M79 38.5h1M81 38.5h2M92 38.5h6M106 38.5h12M3 39.5h6M10 39.5h2M13 39.5h2M19 39.5h1M21 39.5h2M25 39.5h6M33 39.5h2M46 39.5h5M61 39.5h1M69 39.5h1M72 39.5h2M79 39.5h1M87 39.5h1M89 39.5h1M91 39.5h6M98 39.5h2M106 39.5h1M108 39.5h9M2 40.5h7M10 40.5h1M14 40.5h1M17 40.5h1M21 40.5h1M25 40.5h2M28 40.5h4M33 40.5h1M46 40.5h5M70 40.5h5M81 40.5h1M85 40.5h13M99 40.5h1M103 40.5h4M108 40.5h9M4 41.5h5M20 41.5h2M23 41.5h4M28 41.5h4M33 41.5h1M46 41.5h2M49 41.5h2M73 41.5h2M84 41.5h8M93 41.5h5M103 41.5h11M115 41.5h2M5 42.5h4M20 42.5h5M26 42.5h1M29 42.5h4M47 42.5h1M49 42.5h2M87 42.5h2M90 42.5h3M95 42.5h2M102 42.5h9M114 42.5h1M5 43.5h3M11 43.5h2M20 43.5h5M28 43.5h1M37 43.5h13M85 43.5h3M89 43.5h4M94 43.5h3M101 43.5h10M5 44.5h2M10 44.5h2M20 44.5h1M22 44.5h6M38 44.5h1M41 44.5h6M80 44.5h1M87 44.5h1M89 44.5h8M101 44.5h4M106 44.5h9M116 44.5h1M2 45.5h1M6 45.5h1M9 45.5h4M14 45.5h1M17 45.5h5M27 45.5h1M38 45.5h9M80 45.5h2M89 45.5h10M100 45.5h1M103 45.5h3M107 45.5h9M1 46.5h2M4 46.5h3M10 46.5h2M13 46.5h2M17 46.5h5M37 46.5h9M79 46.5h3M90 46.5h11M102 46.5h3M107 46.5h6M117 46.5h1M2 47.5h2M9 47.5h6M16 47.5h6M37 47.5h3M41 47.5h5M79 47.5h3M91 47.5h13M107 47.5h5M113 47.5h1M1 48.5h3M9 48.5h2M12 48.5h11M38 48.5h2M41 48.5h4M80 48.5h1M92 48.5h12M105 48.5h6M112 48.5h4M2 49.5h2M9 49.5h9M21 49.5h2M39 49.5h3M92 49.5h5M99 49.5h9M110 49.5h7M1 50.5h2M10 50.5h8M20 50.5h3M39 50.5h4M92 50.5h1M96 50.5h2M99 50.5h2M102 50.5h2M105 50.5h3M110 50.5h5M116 50.5h2M1 51.5h2M6 51.5h3M10 51.5h9M21 51.5h1M39 51.5h2M44 51.5h1M86 51.5h1M96 51.5h8M105 51.5h2M111 51.5h3M117 51.5h1M1 52.5h7M13 52.5h10M39 52.5h2M85 52.5h2M94 52.5h1M96 52.5h1M100 52.5h1M103 52.5h4M109 52.5h5M1 53.5h4M13 53.5h1M16 53.5h6M85 53.5h3M95 53.5h3M101 53.5h1M103 53.5h1M105 53.5h9M3 54.5h4M9 54.5h2M13 54.5h2M16 54.5h5M74 54.5h1M86 54.5h2M96 54.5h1M99 54.5h2M103 54.5h11M3 55.5h5M9 55.5h6M17 55.5h3M87 55.5h1M95 55.5h1M97 55.5h1M99 55.5h2M102 55.5h5M108 55.5h3M112 55.5h2M118 55.5h1M2 56.5h5M9 56.5h1M11 56.5h3M16 56.5h1M20 56.5h1M22 56.5h1M95 56.5h8M104 56.5h6M112 56.5h3M118 56.5h2M2 57.5h2M5 57.5h1M7 57.5h8M16 57.5h9M91 57.5h20M113 57.5h7M2 58.5h11M17 58.5h8M91 58.5h5M97 58.5h3M101 58.5h1M103 58.5h2M106 58.5h4M112 58.5h4M118 58.5h2M0 59.5h9M10 59.5h3M18 59.5h2M22 59.5h1M26 59.5h1M78 59.5h1M92 59.5h2M97 59.5h4M103 59.5h7M113 59.5h2M116 59.5h4M2 60.5h11M16 60.5h4M21 60.5h1M24 60.5h1M26 60.5h1M78 60.5h1M91 60.5h4M97 60.5h2M104 60.5h4M109 60.5h1M113 60.5h7M1 61.5h11M16 61.5h3M23 61.5h1M27 61.5h1M79 61.5h1M91 61.5h4M97 61.5h1M101 61.5h1M104 61.5h1M106 61.5h6M114 61.5h5M2 62.5h10M16 62.5h2M22 62.5h4M92 62.5h5M98 62.5h1M106 62.5h4M111 62.5h7M2 63.5h1M5 63.5h1M7 63.5h2M10 63.5h2M13 63.5h1M16 63.5h5M22 63.5h4M77 63.5h1M92 63.5h1M106 63.5h11M6 64.5h3M10 64.5h2M15 64.5h10M29 64.5h1M80 64.5h2M101 64.5h1M106 64.5h10M6 65.5h4M11 65.5h2M14 65.5h6M21 65.5h6M48 65.5h1M77 65.5h1M79 65.5h4M86 65.5h5M98 65.5h1M107 65.5h11M6 66.5h11M21 66.5h7M80 66.5h2M83 66.5h8M99 66.5h3M106 66.5h2M110 66.5h6M118 66.5h1M6 67.5h6M13 67.5h5M20 67.5h1M22 67.5h7M79 67.5h4M84 67.5h1M87 67.5h1M97 67.5h6M105 67.5h2M113 67.5h1M4 68.5h13M22 68.5h6M46 68.5h2M79 68.5h4M85 68.5h1M87 68.5h2M97 68.5h7M105 68.5h2M109 68.5h2M3 69.5h8M12 69.5h6M22 69.5h7M50 69.5h1M79 69.5h9M95 69.5h1M97 69.5h7M105 69.5h2M109 69.5h1M1 70.5h5M7 70.5h11M22 70.5h6M76 70.5h1M79 70.5h5M85 70.5h2M95 70.5h3M100 70.5h2M104 70.5h1M106 70.5h2M1 71.5h5M8 71.5h2M11 71.5h7M20 71.5h1M22 71.5h7M78 71.5h8M102 71.5h7M110 71.5h1M1 72.5h5M11 72.5h3M15 72.5h4M22 72.5h7M51 72.5h2M78 72.5h2M82 72.5h2M96 72.5h1M99 72.5h1M102 72.5h1M104 72.5h4M109 72.5h6M2 73.5h4M7 73.5h1M12 73.5h6M22 73.5h8M50 73.5h1M52 73.5h2M77 73.5h3M83 73.5h1M93 73.5h2M96 73.5h6M109 73.5h6M2 74.5h3M6 74.5h1M12 74.5h6M23 74.5h6M53 74.5h1M77 74.5h7M92 74.5h1M99 74.5h4M108 74.5h2M112 74.5h2M115 74.5h2M2 75.5h5M12 75.5h5M23 75.5h7M51 75.5h2M77 75.5h8M99 75.5h4M108 75.5h5M114 75.5h4M1 76.5h5M7 76.5h3M11 76.5h4M24 76.5h6M76 76.5h1M79 76.5h3M83 76.5h2M98 76.5h5M107 76.5h6M115 76.5h3M1 77.5h1M3 77.5h3M7 77.5h3M12 77.5h2M25 77.5h4M75 77.5h1M79 77.5h3M83 77.5h3M88 77.5h2M92 77.5h1M97 77.5h2M101 77.5h2M105 77.5h6M115 77.5h1M2 78.5h4M8 78.5h1M11 78.5h2M26 78.5h2M75 78.5h1M80 78.5h11M97 78.5h10M109 78.5h2M3 79.5h10M26 79.5h2M34 79.5h1M59 79.5h1M73 79.5h1M75 79.5h1M77 79.5h1M80 79.5h10M96 79.5h1M98 79.5h7M3 80.5h1M8 80.5h3M26 80.5h2M73 80.5h1M75 80.5h9M88 80.5h4M96 80.5h9M2 81.5h2M9 81.5h2M12 81.5h1M27 81.5h2M73 81.5h1M78 81.5h3M82 81.5h2M90 81.5h4M95 81.5h8M3 82.5h2M8 82.5h4M27 82.5h2M33 82.5h1M75 82.5h1M78 82.5h7M93 82.5h6M101 82.5h2M113 82.5h1M4 83.5h9M27 83.5h3M53 83.5h3M75 83.5h10M93 83.5h6M100 83.5h4M7 84.5h7M27 84.5h3M52 84.5h4M76 84.5h3M80 84.5h4M91 84.5h1M93 84.5h3M97 84.5h3M101 84.5h2M6 85.5h4M11 85.5h1M13 85.5h1M22 85.5h3M28 85.5h3M53 85.5h3M77 85.5h7M92 85.5h3M97 85.5h6M8 86.5h1M11 86.5h1M14 86.5h1M22 86.5h9M39 86.5h1M53 86.5h3M77 86.5h3M82 86.5h4M91 86.5h3M96 86.5h7M10 87.5h1M13 87.5h2M20 87.5h11M37 87.5h3M56 87.5h1M77 87.5h2M81 87.5h4M90 87.5h5M97 87.5h1M99 87.5h2M102 87.5h1M12 88.5h10M23 88.5h1M25 88.5h6M38 88.5h4M53 88.5h1M56 88.5h1M77 88.5h3M82 88.5h3M88 88.5h4M94 88.5h4M100 88.5h2M15 89.5h5M21 89.5h1M25 89.5h3M29 89.5h3M38 89.5h1M56 89.5h3M75 89.5h5M82 89.5h3M88 89.5h4M93 89.5h2M97 89.5h1M100 89.5h2M14 90.5h4M20 90.5h1M23 90.5h11M36 90.5h3M55 90.5h6M74 90.5h4M80 90.5h1M82 90.5h2M86 90.5h5M92 90.5h4M99 90.5h2M14 91.5h3M20 91.5h15M36 91.5h1M47 91.5h1M50 91.5h1M53 91.5h7M74 91.5h4M80 91.5h1M82 91.5h1M86 91.5h11M98 91.5h3M14 92.5h4M20 92.5h5M27 92.5h11M47 92.5h4M52 92.5h4M58 92.5h2M73 92.5h28M13 93.5h12M27 93.5h11M46 93.5h3M52 93.5h3M57 93.5h2M63 93.5h1M71 93.5h3M75 93.5h17M96 93.5h3M100 93.5h1M12 94.5h9M26 94.5h15M45 94.5h4M55 94.5h4M62 94.5h2M65 94.5h1M71 94.5h1M73 94.5h1M76 94.5h4M81 94.5h3M85 94.5h6M92 94.5h1M97 94.5h2M12 95.5h2M15 95.5h1M25 95.5h18M44 95.5h5M51 95.5h1M55 95.5h3M62 95.5h1M64 95.5h4M73 95.5h1M80 95.5h1M82 95.5h2M86 95.5h7M97 95.5h2M12 96.5h3M16 96.5h3M25 96.5h24M50 96.5h11M62 96.5h2M65 96.5h4M79 96.5h2M82 96.5h2M86 96.5h4M8 97.5h2M14 97.5h1M16 97.5h1M19 97.5h1M25 97.5h10M36 97.5h24M61 97.5h8M79 97.5h12M7 98.5h6M16 98.5h5M25 98.5h7M33 98.5h1M37 98.5h23M61 98.5h8M76 98.5h1M78 98.5h3M82 98.5h1M84 98.5h7M7 99.5h5M15 99.5h6M25 99.5h7M33 99.5h2M37 99.5h2M40 99.5h12M54 99.5h8M63 99.5h1M66 99.5h3M78 99.5h3M82 99.5h1M85 99.5h3M91 99.5h1M7 100.5h6M16 100.5h3M20 100.5h1M27 100.5h2M30 100.5h1M34 100.5h4M39 100.5h18M67 100.5h7M77 100.5h1M85 100.5h1M87 100.5h1M9 101.5h3M15 101.5h4M29 101.5h1M32 101.5h1M35 101.5h15M51 101.5h6M66 101.5h10M84 101.5h5M10 102.5h3M17 102.5h1M19 102.5h2M32 102.5h3M36 102.5h3M40 102.5h15M65 102.5h1M67 102.5h11M79 102.5h1M81 102.5h7M11 103.5h1M23 103.5h2M28 103.5h3M32 103.5h3M36 103.5h3M40 103.5h3M46 103.5h2M49 103.5h7M66 103.5h11M79 103.5h7M88 103.5h1M23 104.5h8M32 104.5h1M36 104.5h5M42 104.5h1M44 104.5h1M47 104.5h1M49 104.5h8M60 104.5h1M62 104.5h16M79 104.5h8M23 105.5h8M37 105.5h9M47 105.5h8M56 105.5h1M58 105.5h25M84 105.5h1M23 106.5h8M38 106.5h11M50 106.5h1M52 106.5h6M60 106.5h3M64 106.5h9M75 106.5h3M79 106.5h3M24 107.5h5M30 107.5h2M40 107.5h20M61 107.5h15M28 108.5h2M31 108.5h1M40 108.5h34M113 108.5h2M29 109.5h4M42 109.5h17M61 109.5h11M113 109.5h2M43 110.5h16M61 110.5h10M112 110.5h3M44 111.5h9M54 111.5h5M60 111.5h4M65 111.5h7M111 111.5h3M26 112.5h1M38 112.5h1M44 112.5h5M52 112.5h4M57 112.5h15M113 112.5h1M37 113.5h1M45 113.5h3M51 113.5h1M53 113.5h3M57 113.5h14M109 113.5h2M42 114.5h5M50 114.5h15M66 114.5h6M109 114.5h2M26 115.5h2M29 115.5h2M42 115.5h4M47 115.5h7M55 115.5h1M58 115.5h3M62 115.5h9M110 115.5h1M29 116.5h2M44 116.5h1M49 116.5h3M53 116.5h3M58 116.5h2M63 116.5h4M69 116.5h1M51 117.5h1M61 117.5h3M65 117.5h1M49 118.5h1M55 118.5h3M59 118.5h5M66 118.5h1M70 118.5h2M49 119.5h1M55 119.5h4M60 119.5h4M65 119.5h1M70 119.5h2"/><path stroke="#0066ff" d="M65 0.5h4M66 4.5h1M59 5.5h2M65 5.5h1M59 6.5h2M60 7.5h1M60 8.5h1M58 9.5h4M58 10.5h4M46 11.5h1M56 11.5h1M62 11.5h1M83 11.5h1M45 12.5h2M50 12.5h1M52 12.5h3M62 12.5h1M83 12.5h1M46 13.5h1M49 13.5h2M52 13.5h4M80 13.5h1M48 14.5h7M56 14.5h2M48 15.5h10M42 16.5h6M54 16.5h2M57 16.5h3M61 16.5h1M63 16.5h1M40 17.5h2M44 17.5h1M51 17.5h1M53 17.5h1M58 17.5h4M64 17.5h1M79 17.5h2M41 18.5h3M52 18.5h2M59 18.5h5M65 18.5h2M80 18.5h2M39 19.5h4M58 19.5h6M40 20.5h2M50 20.5h2M58 20.5h4M64 20.5h1M70 20.5h1M27 21.5h4M36 21.5h7M51 21.5h1M55 21.5h3M60 21.5h2M63 21.5h2M70 21.5h2M78 21.5h1M26 22.5h2M30 22.5h1M34 22.5h6M42 22.5h4M52 22.5h2M55 22.5h1M57 22.5h8M71 22.5h1M74 22.5h6M26 23.5h15M45 23.5h1M48 23.5h2M51 23.5h5M62 23.5h4M72 23.5h4M77 23.5h3M27 24.5h2M30 24.5h12M44 24.5h3M51 24.5h8M60 24.5h1M62 24.5h1M65 24.5h2M68 24.5h1M71 24.5h2M74 24.5h2M77 24.5h2M80 24.5h1M25 25.5h3M29 25.5h6M37 25.5h2M40 25.5h1M42 25.5h3M50 25.5h4M56 25.5h2M60 25.5h2M65 25.5h1M67 25.5h6M75 25.5h4M80 25.5h1M90 25.5h1M19 26.5h2M25 26.5h1M27 26.5h4M32 26.5h1M36 26.5h3M42 26.5h3M51 26.5h2M57 26.5h2M68 26.5h1M70 26.5h1M72 26.5h3M77 26.5h2M18 27.5h4M25 27.5h6M37 27.5h1M42 27.5h3M51 27.5h3M56 27.5h2M59 27.5h3M70 27.5h4M75 27.5h3M18 28.5h3M26 28.5h4M36 28.5h1M41 28.5h4M53 28.5h5M59 28.5h3M68 28.5h7M17 29.5h6M25 29.5h1M31 29.5h1M34 29.5h2M40 29.5h5M53 29.5h1M55 29.5h3M61 29.5h2M66 29.5h1M69 29.5h5M81 29.5h1M7 30.5h1M18 30.5h1M22 30.5h1M24 30.5h1M31 30.5h5M40 30.5h8M52 30.5h4M69 30.5h1M71 30.5h1M73 30.5h1M81 30.5h1M86 30.5h1M15 31.5h3M20 31.5h2M24 31.5h1M31 31.5h1M33 31.5h3M38 31.5h7M46 31.5h3M53 31.5h3M57 31.5h1M67 31.5h3M71 31.5h2M80 31.5h2M85 31.5h4M16 32.5h3M20 32.5h3M32 32.5h1M37 32.5h1M40 32.5h1M42 32.5h7M50 32.5h2M53 32.5h4M66 32.5h7M81 32.5h3M86 32.5h3M108 32.5h2M15 33.5h8M31 33.5h2M37 33.5h1M39 33.5h2M47 33.5h2M53 33.5h4M66 33.5h8M80 33.5h1M86 33.5h3M17 34.5h1M20 34.5h4M30 34.5h4M36 34.5h4M46 34.5h3M50 34.5h1M52 34.5h3M56 34.5h1M66 34.5h2M69 34.5h5M76 34.5h2M80 34.5h1M86 34.5h3M16 35.5h3M20 35.5h5M30 35.5h9M42 35.5h2M45 35.5h12M64 35.5h1M66 35.5h2M70 35.5h4M75 35.5h2M79 35.5h4M85 35.5h1M87 35.5h1M90 35.5h1M113 35.5h2M16 36.5h6M23 36.5h2M30 36.5h1M32 36.5h1M34 36.5h4M42 36.5h2M46 36.5h3M50 36.5h6M59 36.5h2M63 36.5h5M72 36.5h3M76 36.5h2M80 36.5h12M113 36.5h3M14 37.5h1M16 37.5h1M18 37.5h6M30 37.5h1M36 37.5h1M43 37.5h4M51 37.5h2M58 37.5h6M65 37.5h3M73 37.5h1M75 37.5h5M82 37.5h5M89 37.5h3M11 38.5h2M16 38.5h6M28 38.5h1M35 38.5h2M42 38.5h3M51 38.5h2M59 38.5h5M67 38.5h2M73 38.5h6M80 38.5h1M83 38.5h9M12 39.5h1M15 39.5h4M20 39.5h1M35 39.5h1M43 39.5h3M51 39.5h1M58 39.5h3M63 39.5h1M67 39.5h2M74 39.5h5M80 39.5h7M88 39.5h1M90 39.5h1M9 40.5h1M11 40.5h3M15 40.5h2M18 40.5h3M27 40.5h1M34 40.5h2M44 40.5h2M51 40.5h1M58 40.5h4M67 40.5h3M75 40.5h2M78 40.5h3M82 40.5h3M9 41.5h2M12 41.5h8M27 41.5h1M34 41.5h3M39 41.5h7M51 41.5h1M59 41.5h3M69 41.5h4M75 41.5h2M80 41.5h4M92 41.5h1M9 42.5h7M19 42.5h1M25 42.5h1M27 42.5h2M33 42.5h3M37 42.5h10M51 42.5h1M70 42.5h7M81 42.5h6M93 42.5h2M8 43.5h3M13 43.5h3M18 43.5h2M25 43.5h3M29 43.5h3M36 43.5h1M50 43.5h1M71 43.5h3M75 43.5h2M80 43.5h5M88 43.5h1M93 43.5h1M7 44.5h3M12 44.5h8M21 44.5h1M28 44.5h2M37 44.5h1M47 44.5h4M66 44.5h4M76 44.5h2M81 44.5h6M88 44.5h1M7 45.5h2M13 45.5h1M15 45.5h2M22 45.5h5M28 45.5h1M36 45.5h2M47 45.5h3M53 45.5h1M66 45.5h5M76 45.5h4M82 45.5h3M86 45.5h3M101 45.5h2M7 46.5h3M15 46.5h2M22 46.5h6M36 46.5h1M46 46.5h1M53 46.5h1M66 46.5h4M75 46.5h4M82 46.5h2M87 46.5h1M89 46.5h1M101 46.5h1M4 47.5h5M15 47.5h1M22 47.5h5M35 47.5h2M46 47.5h2M49 47.5h1M64 47.5h6M71 47.5h1M73 47.5h6M82 47.5h2M88 47.5h3M4 48.5h5M23 48.5h4M35 48.5h3M45 48.5h2M64 48.5h1M68 48.5h1M72 48.5h3M77 48.5h1M79 48.5h1M81 48.5h3M90 48.5h2M4 49.5h5M23 49.5h2M35 49.5h4M42 49.5h7M71 49.5h7M80 49.5h3M85 49.5h4M91 49.5h1M97 49.5h2M108 49.5h2M3 50.5h7M23 50.5h1M34 50.5h5M43 50.5h5M73 50.5h1M84 50.5h3M93 50.5h3M98 50.5h1M101 50.5h1M108 50.5h2M3 51.5h3M9 51.5h1M22 51.5h1M34 51.5h5M41 51.5h3M45 51.5h3M73 51.5h1M83 51.5h3M87 51.5h3M92 51.5h4M107 51.5h4M8 52.5h5M23 52.5h1M38 52.5h1M41 52.5h1M43 52.5h5M83 52.5h2M87 52.5h2M95 52.5h1M97 52.5h3M101 52.5h2M107 52.5h2M5 53.5h8M14 53.5h2M22 53.5h2M32 53.5h1M39 53.5h1M43 53.5h4M74 53.5h1M84 53.5h1M88 53.5h1M91 53.5h1M94 53.5h1M98 53.5h3M102 53.5h1M104 53.5h1M7 54.5h2M11 54.5h2M15 54.5h1M21 54.5h3M36 54.5h1M44 54.5h3M75 54.5h1M77 54.5h1M84 54.5h2M88 54.5h3M94 54.5h2M97 54.5h2M101 54.5h2M8 55.5h1M15 55.5h2M20 55.5h5M34 55.5h3M45 55.5h2M71 55.5h1M73 55.5h2M76 55.5h2M84 55.5h3M88 55.5h4M93 55.5h2M96 55.5h1M98 55.5h1M101 55.5h1M111 55.5h1M7 56.5h2M14 56.5h2M21 56.5h1M23 56.5h3M38 56.5h1M72 56.5h8M81 56.5h1M87 56.5h8M103 56.5h1M110 56.5h2M4 57.5h1M6 57.5h1M15 57.5h1M25 57.5h3M34 57.5h1M37 57.5h2M72 57.5h3M78 57.5h2M81 57.5h1M88 57.5h3M111 57.5h2M13 58.5h4M25 58.5h4M37 58.5h3M77 58.5h6M89 58.5h2M100 58.5h1M102 58.5h1M105 58.5h1M110 58.5h2M116 58.5h2M13 59.5h5M20 59.5h2M23 59.5h3M27 59.5h3M39 59.5h2M72 59.5h1M77 59.5h1M79 59.5h3M88 59.5h2M91 59.5h1M101 59.5h2M110 59.5h3M115 59.5h1M13 60.5h3M20 60.5h1M22 60.5h2M25 60.5h1M27 60.5h4M37 60.5h4M76 60.5h2M79 60.5h2M88 60.5h3M99 60.5h5M108 60.5h1M110 60.5h3M12 61.5h4M19 61.5h4M24 61.5h3M28 61.5h3M37 61.5h3M75 61.5h4M80 61.5h1M87 61.5h1M89 61.5h2M98 61.5h3M102 61.5h2M105 61.5h1M112 61.5h2M12 62.5h4M18 62.5h4M26 62.5h2M29 62.5h2M33 62.5h1M37 62.5h1M41 62.5h2M75 62.5h7M87 62.5h1M89 62.5h3M97 62.5h1M99 62.5h1M101 62.5h5M110 62.5h1M9 63.5h1M12 63.5h1M14 63.5h2M21 63.5h1M26 63.5h5M32 63.5h2M48 63.5h1M73 63.5h4M78 63.5h4M84 63.5h1M86 63.5h6M93 63.5h13M9 64.5h1M12 64.5h3M25 64.5h4M30 64.5h2M33 64.5h1M47 64.5h3M73 64.5h7M82 64.5h12M96 64.5h5M102 64.5h1M104 64.5h2M10 65.5h1M13 65.5h1M27 65.5h5M46 65.5h2M49 65.5h1M72 65.5h5M78 65.5h1M83 65.5h3M91 65.5h2M97 65.5h1M99 65.5h5M105 65.5h2M28 66.5h3M45 66.5h5M71 66.5h2M74 66.5h6M91 66.5h1M96 66.5h3M102 66.5h4M29 67.5h3M46 67.5h4M73 67.5h1M75 67.5h4M88 67.5h4M95 67.5h2M103 67.5h2M28 68.5h2M32 68.5h2M45 68.5h1M48 68.5h2M74 68.5h5M89 68.5h2M92 68.5h1M94 68.5h3M104 68.5h1M29 69.5h1M32 69.5h1M46 69.5h4M51 69.5h1M55 69.5h1M57 69.5h1M59 69.5h1M74 69.5h5M88 69.5h1M94 69.5h1M96 69.5h1M104 69.5h1M6 70.5h1M28 70.5h2M47 70.5h6M54 70.5h1M75 70.5h1M77 70.5h2M87 70.5h1M90 70.5h1M92 70.5h3M98 70.5h2M102 70.5h2M105 70.5h1M6 71.5h2M10 71.5h1M29 71.5h2M47 71.5h7M55 71.5h1M76 71.5h2M86 71.5h2M93 71.5h9M6 72.5h5M14 72.5h1M29 72.5h2M50 72.5h1M53 72.5h4M67 72.5h1M76 72.5h2M80 72.5h2M84 72.5h3M90 72.5h6M97 72.5h2M100 72.5h2M103 72.5h1M108 72.5h1M6 73.5h1M8 73.5h4M30 73.5h1M48 73.5h2M51 73.5h1M54 73.5h3M67 73.5h2M75 73.5h2M80 73.5h3M84 73.5h2M90 73.5h1M92 73.5h1M95 73.5h1M102 73.5h2M105 73.5h4M5 74.5h1M7 74.5h5M29 74.5h2M50 74.5h3M54 74.5h3M66 74.5h3M76 74.5h1M84 74.5h1M89 74.5h3M93 74.5h6M103 74.5h5M110 74.5h2M7 75.5h5M30 75.5h1M49 75.5h2M53 75.5h3M66 75.5h3M75 75.5h2M90 75.5h9M103 75.5h5M6 76.5h1M10 76.5h1M30 76.5h1M48 76.5h7M65 76.5h2M74 76.5h2M77 76.5h2M85 76.5h1M88 76.5h6M95 76.5h3M103 76.5h4M2 77.5h1M6 77.5h1M10 77.5h2M29 77.5h2M48 77.5h5M73 77.5h2M76 77.5h3M86 77.5h2M90 77.5h2M95 77.5h2M103 77.5h2M6 78.5h2M9 78.5h2M28 78.5h4M35 78.5h1M48 78.5h4M62 78.5h1M73 78.5h2M76 78.5h4M91 78.5h2M94 78.5h3M28 79.5h1M30 79.5h4M35 79.5h2M45 79.5h7M60 79.5h3M71 79.5h2M74 79.5h1M76 79.5h1M78 79.5h2M91 79.5h2M95 79.5h1M97 79.5h1M4 80.5h4M28 80.5h1M30 80.5h6M45 80.5h7M56 80.5h1M61 80.5h1M72 80.5h1M74 80.5h1M84 80.5h4M92 80.5h4M4 81.5h5M29 81.5h6M36 81.5h1M44 81.5h6M53 81.5h3M57 81.5h6M65 81.5h1M71 81.5h2M74 81.5h4M84 81.5h6M94 81.5h1M5 82.5h3M29 82.5h4M34 82.5h3M49 82.5h1M52 82.5h5M71 82.5h4M76 82.5h2M85 82.5h8M99 82.5h2M30 83.5h5M52 83.5h1M56 83.5h2M74 83.5h1M85 83.5h8M99 83.5h1M30 84.5h1M42 84.5h1M56 84.5h1M65 84.5h3M75 84.5h1M84 84.5h7M92 84.5h1M100 84.5h1M31 85.5h1M38 85.5h3M42 85.5h1M49 85.5h1M52 85.5h1M56 85.5h2M68 85.5h1M75 85.5h2M84 85.5h8M31 86.5h1M38 86.5h1M40 86.5h2M52 86.5h1M56 86.5h1M67 86.5h1M75 86.5h2M86 86.5h5M31 87.5h1M40 87.5h3M52 87.5h4M57 87.5h3M74 87.5h3M85 87.5h5M98 87.5h1M22 88.5h1M24 88.5h1M31 88.5h3M36 88.5h2M42 88.5h3M52 88.5h1M54 88.5h2M57 88.5h4M75 88.5h2M85 88.5h1M87 88.5h1M98 88.5h2M20 89.5h1M22 89.5h3M32 89.5h6M39 89.5h7M50 89.5h6M59 89.5h4M67 89.5h1M74 89.5h1M85 89.5h3M95 89.5h2M98 89.5h2M18 90.5h2M21 90.5h2M34 90.5h2M39 90.5h7M47 90.5h8M61 90.5h1M71 90.5h3M84 90.5h2M96 90.5h3M17 91.5h3M35 91.5h1M37 91.5h10M48 91.5h2M51 91.5h2M60 91.5h6M68 91.5h3M72 91.5h2M83 91.5h3M97 91.5h1M18 92.5h2M38 92.5h2M44 92.5h3M51 92.5h1M60 92.5h7M70 92.5h3M38 93.5h3M43 93.5h3M49 93.5h3M59 93.5h4M64 93.5h2M68 93.5h3M74 93.5h1M41 94.5h4M49 94.5h6M59 94.5h3M64 94.5h1M66 94.5h5M72 94.5h1M74 94.5h2M80 94.5h1M43 95.5h1M49 95.5h2M52 95.5h3M58 95.5h4M63 95.5h1M68 95.5h5M74 95.5h6M81 95.5h1M49 96.5h1M61 96.5h1M64 96.5h1M69 96.5h4M74 96.5h5M81 96.5h1M60 97.5h1M69 97.5h10M60 98.5h1M69 98.5h5M77 98.5h1M81 98.5h1M83 98.5h1M39 99.5h1M62 99.5h1M64 99.5h2M69 99.5h5M75 99.5h3M81 99.5h1M83 99.5h2M57 100.5h10M74 100.5h3M78 100.5h7M50 101.5h1M57 101.5h9M76 101.5h8M55 102.5h4M60 102.5h5M66 102.5h1M78 102.5h1M80 102.5h1M56 103.5h10M77 103.5h2M57 104.5h3M61 104.5h1M78 104.5h1M55 105.5h1M57 105.5h1M58 106.5h2M73 106.5h2M60 107.5h1M59 109.5h2M59 110.5h2M53 111.5h1M59 111.5h1M49 112.5h3M48 113.5h3M52 113.5h1M47 114.5h3M65 114.5h1"/><path stroke="#0099ff" d="M48 16.5h6M45 17.5h6M52 17.5h1M44 18.5h2M49 18.5h3M43 19.5h2M49 19.5h3M42 20.5h4M49 20.5h1M43 21.5h4M48 21.5h3M58 21.5h2M28 22.5h2M46 22.5h1M48 22.5h2M51 22.5h1M56 22.5h1M46 23.5h2M50 23.5h1M56 23.5h6M29 24.5h1M50 24.5h1M59 24.5h1M61 24.5h1M63 24.5h2M28 25.5h1M39 25.5h1M41 25.5h1M54 25.5h2M58 25.5h2M62 25.5h3M66 25.5h1M39 26.5h3M53 26.5h2M56 26.5h1M59 26.5h4M65 26.5h3M69 26.5h1M36 27.5h1M38 27.5h2M41 27.5h1M54 27.5h2M58 27.5h1M62 27.5h1M66 27.5h4M74 27.5h1M37 28.5h4M58 28.5h1M62 28.5h2M66 28.5h2M36 29.5h2M39 29.5h1M54 29.5h1M58 29.5h3M63 29.5h1M67 29.5h2M19 30.5h3M36 30.5h4M56 30.5h3M61 30.5h8M18 31.5h2M22 31.5h1M36 31.5h2M45 31.5h1M56 31.5h1M58 31.5h1M64 31.5h3M19 32.5h1M33 32.5h4M41 32.5h1M57 32.5h2M65 32.5h1M84 32.5h2M33 33.5h4M41 33.5h6M57 33.5h1M64 33.5h2M81 33.5h5M34 34.5h2M40 34.5h6M57 34.5h1M64 34.5h2M81 34.5h5M39 35.5h3M44 35.5h1M57 35.5h1M60 35.5h4M65 35.5h1M83 35.5h2M22 36.5h1M38 36.5h1M40 36.5h2M44 36.5h2M56 36.5h3M61 36.5h2M37 37.5h2M40 37.5h3M53 37.5h5M64 37.5h1M74 37.5h1M37 38.5h1M41 38.5h1M53 38.5h1M55 38.5h3M64 38.5h2M36 39.5h1M41 39.5h2M52 39.5h1M56 39.5h2M62 39.5h1M64 39.5h3M36 40.5h2M40 40.5h4M52 40.5h2M56 40.5h2M62 40.5h2M77 40.5h1M11 41.5h1M37 41.5h2M52 41.5h1M58 41.5h1M62 41.5h1M67 41.5h1M77 41.5h3M16 42.5h3M36 42.5h1M52 42.5h1M56 42.5h1M59 42.5h2M66 42.5h4M77 42.5h1M79 42.5h2M16 43.5h2M32 43.5h2M35 43.5h1M51 43.5h3M55 43.5h2M62 43.5h1M66 43.5h5M74 43.5h1M77 43.5h3M30 44.5h2M35 44.5h2M51 44.5h4M63 44.5h3M70 44.5h6M78 44.5h2M29 45.5h1M35 45.5h1M50 45.5h3M54 45.5h1M62 45.5h4M71 45.5h2M74 45.5h2M85 45.5h1M28 46.5h3M35 46.5h1M47 46.5h6M54 46.5h1M62 46.5h4M70 46.5h2M73 46.5h2M84 46.5h3M88 46.5h1M27 47.5h2M48 47.5h1M50 47.5h1M53 47.5h2M63 47.5h1M70 47.5h1M72 47.5h1M84 47.5h4M27 48.5h1M34 48.5h1M47 48.5h5M63 48.5h1M65 48.5h3M69 48.5h3M75 48.5h2M78 48.5h1M84 48.5h6M25 49.5h2M31 49.5h1M34 49.5h1M49 49.5h1M63 49.5h6M70 49.5h1M78 49.5h2M83 49.5h2M89 49.5h2M24 50.5h1M33 50.5h1M48 50.5h1M63 50.5h3M67 50.5h1M70 50.5h3M74 50.5h4M79 50.5h5M87 50.5h5M23 51.5h5M32 51.5h2M48 51.5h1M63 51.5h2M67 51.5h1M70 51.5h3M74 51.5h1M76 51.5h1M82 51.5h1M90 51.5h2M24 52.5h1M26 52.5h1M29 52.5h9M42 52.5h1M48 52.5h1M71 52.5h6M82 52.5h1M89 52.5h5M24 53.5h1M28 53.5h1M31 53.5h1M33 53.5h2M36 53.5h3M40 53.5h3M47 53.5h1M72 53.5h2M75 53.5h3M82 53.5h2M89 53.5h2M92 53.5h2M24 54.5h1M30 54.5h6M37 54.5h3M43 54.5h1M47 54.5h2M71 54.5h3M76 54.5h1M78 54.5h5M91 54.5h3M25 55.5h4M32 55.5h2M37 55.5h4M43 55.5h2M47 55.5h2M60 55.5h1M69 55.5h2M72 55.5h1M75 55.5h1M78 55.5h6M92 55.5h1M26 56.5h3M34 56.5h4M39 56.5h2M43 56.5h4M68 56.5h1M70 56.5h2M80 56.5h1M82 56.5h5M28 57.5h2M32 57.5h1M35 57.5h2M39 57.5h3M51 57.5h2M70 57.5h2M75 57.5h3M80 57.5h1M82 57.5h6M29 58.5h4M34 58.5h3M40 58.5h1M51 58.5h2M66 58.5h1M72 58.5h5M83 58.5h6M30 59.5h1M32 59.5h3M37 59.5h2M41 59.5h1M51 59.5h4M71 59.5h1M73 59.5h4M82 59.5h6M90 59.5h1M31 60.5h6M43 60.5h2M49 60.5h6M67 60.5h5M74 60.5h2M81 60.5h7M31 61.5h2M34 61.5h3M40 61.5h5M48 61.5h5M54 61.5h1M67 61.5h2M74 61.5h1M81 61.5h2M86 61.5h1M88 61.5h1M28 62.5h1M31 62.5h2M34 62.5h3M38 62.5h3M43 62.5h12M65 62.5h4M70 62.5h5M82 62.5h3M86 62.5h1M88 62.5h1M100 62.5h1M31 63.5h1M34 63.5h4M41 63.5h7M49 63.5h2M52 63.5h2M65 63.5h1M67 63.5h1M70 63.5h3M82 63.5h2M85 63.5h1M32 64.5h1M34 64.5h4M41 64.5h2M45 64.5h2M50 64.5h2M54 64.5h2M61 64.5h1M71 64.5h2M94 64.5h2M103 64.5h1M32 65.5h5M43 65.5h3M50 65.5h1M71 65.5h1M93 65.5h4M104 65.5h1M31 66.5h8M44 66.5h1M50 66.5h1M55 66.5h6M73 66.5h1M92 66.5h4M32 67.5h4M44 67.5h2M50 67.5h1M55 67.5h6M70 67.5h3M74 67.5h1M92 67.5h3M30 68.5h2M34 68.5h2M44 68.5h1M50 68.5h2M53 68.5h8M71 68.5h3M91 68.5h1M93 68.5h1M30 69.5h2M33 69.5h1M45 69.5h1M52 69.5h3M56 69.5h1M58 69.5h1M60 69.5h1M72 69.5h2M89 69.5h5M30 70.5h4M45 70.5h2M53 70.5h1M55 70.5h6M65 70.5h2M74 70.5h1M88 70.5h2M91 70.5h1M31 71.5h2M40 71.5h1M45 71.5h2M54 71.5h1M56 71.5h3M60 71.5h1M65 71.5h3M69 71.5h1M75 71.5h1M88 71.5h5M31 72.5h1M40 72.5h1M42 72.5h2M46 72.5h4M57 72.5h1M64 72.5h3M68 72.5h1M75 72.5h1M87 72.5h3M31 73.5h1M40 73.5h5M46 73.5h1M57 73.5h2M64 73.5h3M69 73.5h1M86 73.5h4M91 73.5h1M104 73.5h1M31 74.5h1M40 74.5h10M57 74.5h2M65 74.5h1M69 74.5h2M75 74.5h1M85 74.5h2M88 74.5h1M31 75.5h1M40 75.5h1M42 75.5h7M56 75.5h3M60 75.5h2M64 75.5h2M69 75.5h1M74 75.5h1M85 75.5h2M88 75.5h2M31 76.5h1M43 76.5h5M55 76.5h2M60 76.5h5M67 76.5h7M86 76.5h2M94 76.5h1M31 77.5h5M44 77.5h4M53 77.5h3M61 77.5h2M65 77.5h3M72 77.5h1M93 77.5h2M32 78.5h3M36 78.5h2M44 78.5h4M52 78.5h2M57 78.5h5M63 78.5h1M71 78.5h2M93 78.5h1M29 79.5h1M37 79.5h1M43 79.5h2M52 79.5h1M56 79.5h3M70 79.5h1M93 79.5h2M29 80.5h1M36 80.5h3M40 80.5h1M44 80.5h1M52 80.5h4M57 80.5h4M62 80.5h2M65 80.5h7M35 81.5h1M37 81.5h2M40 81.5h4M50 81.5h3M56 81.5h1M63 81.5h2M66 81.5h3M70 81.5h1M37 82.5h2M42 82.5h7M50 82.5h2M57 82.5h14M35 83.5h2M38 83.5h1M41 83.5h4M48 83.5h4M58 83.5h2M61 83.5h13M31 84.5h8M40 84.5h2M43 84.5h1M48 84.5h4M57 84.5h2M62 84.5h2M68 84.5h7M32 85.5h1M36 85.5h2M41 85.5h1M43 85.5h1M50 85.5h2M58 85.5h1M64 85.5h4M69 85.5h1M73 85.5h2M36 86.5h2M42 86.5h2M49 86.5h3M57 86.5h2M65 86.5h2M68 86.5h2M72 86.5h3M32 87.5h5M43 87.5h3M50 87.5h2M62 87.5h4M67 87.5h2M72 87.5h2M34 88.5h2M45 88.5h2M48 88.5h4M61 88.5h8M70 88.5h1M73 88.5h2M86 88.5h1M46 89.5h4M64 89.5h3M68 89.5h6M46 90.5h1M62 90.5h1M64 90.5h7M66 91.5h2M71 91.5h1M40 92.5h4M67 92.5h3M41 93.5h2M66 93.5h2M73 96.5h1M74 98.5h2M74 99.5h1M59 102.5h1"/><path stroke="#00ccff" d="M46 18.5h3M45 19.5h1M48 19.5h1M46 20.5h3M47 21.5h1M47 22.5h1M50 22.5h1M55 26.5h1M63 26.5h2M40 27.5h1M63 27.5h3M64 28.5h2M38 29.5h1M64 29.5h2M59 30.5h2M59 31.5h1M61 31.5h3M59 32.5h1M63 32.5h2M58 33.5h6M58 34.5h6M58 35.5h2M39 36.5h1M39 37.5h1M38 38.5h3M54 38.5h1M66 38.5h1M37 39.5h4M53 39.5h3M38 40.5h2M54 40.5h2M64 40.5h3M53 41.5h5M63 41.5h4M68 41.5h1M53 42.5h3M57 42.5h2M61 42.5h5M78 42.5h1M34 43.5h1M54 43.5h1M57 43.5h5M63 43.5h3M32 44.5h3M55 44.5h2M60 44.5h3M30 45.5h2M34 45.5h1M55 45.5h1M61 45.5h1M73 45.5h1M31 46.5h1M33 46.5h2M55 46.5h1M61 46.5h1M72 46.5h1M29 47.5h3M34 47.5h1M51 47.5h2M55 47.5h2M62 47.5h1M28 48.5h6M52 48.5h5M61 48.5h2M27 49.5h4M32 49.5h2M50 49.5h2M55 49.5h2M60 49.5h3M69 49.5h1M25 50.5h4M31 50.5h2M49 50.5h1M53 50.5h1M62 50.5h1M66 50.5h1M68 50.5h2M78 50.5h1M28 51.5h4M49 51.5h1M61 51.5h2M65 51.5h2M68 51.5h2M75 51.5h1M77 51.5h5M25 52.5h1M27 52.5h2M49 52.5h2M58 52.5h1M60 52.5h1M62 52.5h9M77 52.5h2M80 52.5h2M25 53.5h3M29 53.5h2M35 53.5h1M48 53.5h3M60 53.5h5M68 53.5h4M78 53.5h4M25 54.5h5M40 54.5h3M49 54.5h2M60 54.5h2M63 54.5h3M68 54.5h3M83 54.5h1M29 55.5h3M41 55.5h2M49 55.5h1M59 55.5h1M61 55.5h1M66 55.5h1M68 55.5h1M29 56.5h5M41 56.5h2M47 56.5h3M60 56.5h1M64 56.5h3M69 56.5h1M30 57.5h2M33 57.5h1M42 57.5h4M47 57.5h4M64 57.5h6M33 58.5h1M41 58.5h4M48 58.5h3M53 58.5h2M64 58.5h2M67 58.5h5M31 59.5h1M35 59.5h2M43 59.5h2M48 59.5h3M55 59.5h1M65 59.5h6M41 60.5h2M45 60.5h1M48 60.5h1M55 60.5h1M60 60.5h1M63 60.5h4M72 60.5h2M33 61.5h1M45 61.5h3M53 61.5h1M55 61.5h1M63 61.5h4M69 61.5h5M83 61.5h3M55 62.5h1M57 62.5h3M63 62.5h2M69 62.5h1M85 62.5h1M38 63.5h3M51 63.5h1M54 63.5h3M58 63.5h4M64 63.5h1M66 63.5h1M68 63.5h2M38 64.5h3M43 64.5h2M52 64.5h2M56 64.5h5M62 64.5h2M66 64.5h5M37 65.5h4M42 65.5h1M51 65.5h11M67 65.5h1M69 65.5h2M39 66.5h3M43 66.5h1M51 66.5h2M54 66.5h1M61 66.5h1M69 66.5h2M36 67.5h2M39 67.5h2M43 67.5h1M51 67.5h1M53 67.5h2M61 67.5h1M69 67.5h1M36 68.5h3M42 68.5h2M52 68.5h1M61 68.5h2M67 68.5h1M70 68.5h1M34 69.5h2M39 69.5h6M61 69.5h1M65 69.5h3M70 69.5h1M34 70.5h2M39 70.5h2M42 70.5h3M62 70.5h1M64 70.5h1M67 70.5h7M33 71.5h2M41 71.5h4M59 71.5h1M62 71.5h3M68 71.5h1M70 71.5h5M32 72.5h2M36 72.5h1M39 72.5h1M41 72.5h1M44 72.5h2M58 72.5h4M63 72.5h1M69 72.5h4M74 72.5h1M32 73.5h1M38 73.5h1M45 73.5h1M47 73.5h1M59 73.5h2M62 73.5h2M70 73.5h3M74 73.5h1M32 74.5h1M37 74.5h3M59 74.5h6M71 74.5h2M74 74.5h1M87 74.5h1M32 75.5h1M34 75.5h2M38 75.5h2M41 75.5h1M59 75.5h1M62 75.5h2M70 75.5h4M87 75.5h1M32 76.5h4M39 76.5h2M42 76.5h1M57 76.5h3M36 77.5h3M40 77.5h4M56 77.5h5M63 77.5h2M68 77.5h4M38 78.5h6M54 78.5h3M64 78.5h7M38 79.5h5M53 79.5h3M63 79.5h7M39 80.5h1M41 80.5h3M64 80.5h1M39 81.5h1M69 81.5h1M39 82.5h3M37 83.5h1M39 83.5h2M45 83.5h3M60 83.5h1M39 84.5h1M44 84.5h4M59 84.5h1M61 84.5h1M64 84.5h1M33 85.5h3M44 85.5h2M48 85.5h1M59 85.5h5M70 85.5h3M32 86.5h4M44 86.5h2M48 86.5h1M59 86.5h6M70 86.5h1M46 87.5h1M49 87.5h1M60 87.5h2M66 87.5h1M69 87.5h3M47 88.5h1M69 88.5h1M71 88.5h2M63 89.5h1M63 90.5h1"/><path stroke="#00cccc" d="M46 19.5h2M60 31.5h1M61 32.5h2M58 44.5h2M33 45.5h1M60 45.5h1M32 46.5h1M56 46.5h1M32 47.5h2M61 47.5h1M57 48.5h1M53 49.5h2M57 49.5h1M59 49.5h1M29 50.5h2M50 50.5h1M61 50.5h1M60 51.5h1M59 52.5h1M61 52.5h1M79 52.5h1M59 53.5h1M65 53.5h1M67 53.5h1M58 54.5h2M62 54.5h1M66 54.5h1M50 55.5h1M62 55.5h4M67 55.5h1M50 56.5h1M59 56.5h1M61 56.5h1M63 56.5h1M67 56.5h1M46 57.5h1M53 57.5h2M59 57.5h1M61 57.5h3M45 58.5h3M42 59.5h1M45 59.5h3M60 59.5h2M64 59.5h1M46 60.5h1M56 60.5h1M59 60.5h1M56 61.5h2M59 61.5h4M56 62.5h1M60 62.5h2M57 63.5h1M63 63.5h1M64 64.5h2M41 65.5h1M62 65.5h2M68 65.5h1M42 66.5h1M53 66.5h1M62 66.5h1M38 67.5h1M42 67.5h1M52 67.5h1M62 67.5h1M68 67.5h1M39 68.5h3M63 68.5h1M65 68.5h2M68 68.5h2M36 69.5h1M38 69.5h1M62 69.5h2M69 69.5h1M71 69.5h1M36 70.5h3M41 70.5h1M61 70.5h1M63 70.5h1M35 71.5h1M38 71.5h2M61 71.5h1M34 72.5h1M37 72.5h2M62 72.5h1M73 72.5h1M33 73.5h1M35 73.5h1M37 73.5h1M39 73.5h1M61 73.5h1M73 73.5h1M33 74.5h3M73 74.5h1M33 75.5h1M36 75.5h1M36 76.5h1M38 76.5h1M41 76.5h1M39 77.5h1M60 84.5h1M46 85.5h2M46 86.5h2M71 86.5h1M47 87.5h2"/><path stroke="#00ffcc" d="M60 32.5h1M57 44.5h1M32 45.5h1M56 45.5h4M57 46.5h4M57 47.5h4M58 48.5h3M52 49.5h1M58 49.5h1M51 50.5h2M54 50.5h7M50 51.5h10M51 52.5h4M56 52.5h2M51 53.5h2M57 53.5h2M66 53.5h1M51 54.5h2M56 54.5h2M67 54.5h1M51 55.5h8M51 56.5h4M56 56.5h3M62 56.5h1M55 57.5h2M58 57.5h1M60 57.5h1M55 58.5h9M56 59.5h4M62 59.5h2M47 60.5h1M57 60.5h2M61 60.5h2M58 61.5h1M62 62.5h1M62 63.5h1M64 65.5h3M63 66.5h6M41 67.5h1M63 67.5h5M64 68.5h1M37 69.5h1M64 69.5h1M68 69.5h1M36 71.5h2M35 72.5h1M34 73.5h1M36 73.5h1M36 74.5h1M37 75.5h1M37 76.5h1"/><path stroke="#00ff88" d="M55 52.5h1M53 53.5h2M56 53.5h1M53 54.5h3M55 56.5h1M57 57.5h1"/><path stroke="#00ff77" d="M55 53.5h1"/></g>
<rect x="1056.3" y="49.8" width="497.9" height="1.6" fill="#000"/>
<rect x="1056.3" y="49.8" width="1.6" height="521" fill="#000"/>
<rect x="1553" y="51" width="1.3" height="519.8" fill="#555"/>
<path d="M1050 51h5.8M1050 79.88h5.8M1050 137.63h5.8M1050 195.39h5.8M1050 253.14h5.8M1050 310.9h5.8M1050 368.66h5.8M1050 426.41h5.8M1050 484.17h5.8M1050 541.92h5.8M1050 570.8h5.8M1057.5 572.8v5.6M1085.09 572.8v5.6M1140.28 572.8v5.6M1195.47 572.8v5.6M1250.66 572.8v5.6M1305.85 572.8v5.6M1361.04 572.8v5.6M1416.23 572.8v5.6M1471.42 572.8v5.6M1526.61 572.8v5.6M1554.2 572.8v5.6" stroke="#222" stroke-width="1.1" fill="none"/>
<text x="1016.31" y="62.7" font-size="29.7" textLength="30.39" lengthAdjust="spacingAndGlyphs">90</text>
<text x="1016.31" y="149.33" font-size="29.7" textLength="30.39" lengthAdjust="spacingAndGlyphs">60</text>
<text x="1016.31" y="207.09" font-size="29.7" textLength="30.39" lengthAdjust="spacingAndGlyphs">40</text>
<text x="1016.31" y="264.84" font-size="29.7" textLength="30.39" lengthAdjust="spacingAndGlyphs">20</text>
<text x="1031.5" y="322.6" font-size="29.7" textLength="15.2" lengthAdjust="spacingAndGlyphs">0</text>
<text x="1000.35" y="380.36" font-size="29.7" textLength="46.35" lengthAdjust="spacingAndGlyphs">−20</text>
<text x="1000.35" y="438.11" font-size="29.7" textLength="46.35" lengthAdjust="spacingAndGlyphs">−40</text>
<text x="1000.35" y="495.87" font-size="29.7" textLength="46.35" lengthAdjust="spacingAndGlyphs">−60</text>
<text x="1000.35" y="582.5" font-size="29.7" textLength="46.35" lengthAdjust="spacingAndGlyphs">−90</text>
<text x="1034.33" y="606.5" font-size="29.7" textLength="46.35" lengthAdjust="spacingAndGlyphs">−90</text>
<text x="1117.11" y="606.5" font-size="29.7" textLength="46.35" lengthAdjust="spacingAndGlyphs">−60</text>
<text x="1172.3" y="606.5" font-size="29.7" textLength="46.35" lengthAdjust="spacingAndGlyphs">−40</text>
<text x="1227.49" y="606.5" font-size="29.7" textLength="46.35" lengthAdjust="spacingAndGlyphs">−20</text>
<text x="1298.25" y="606.5" font-size="29.7" textLength="15.2" lengthAdjust="spacingAndGlyphs">0</text>
<text x="1345.84" y="606.5" font-size="29.7" textLength="30.39" lengthAdjust="spacingAndGlyphs">20</text>
<text x="1401.03" y="606.5" font-size="29.7" textLength="30.39" lengthAdjust="spacingAndGlyphs">40</text>
<text x="1456.22" y="606.5" font-size="29.7" textLength="30.39" lengthAdjust="spacingAndGlyphs">60</text>
<text x="1539" y="606.5" font-size="29.7" textLength="30.39" lengthAdjust="spacingAndGlyphs">90</text>
<text x="1109.54" y="653.6" font-size="42" textLength="297.8" lengthAdjust="spacingAndGlyphs">Horizontal angle</text>
<text x="1420.9" y="649.7" font-size="40.4" textLength="15.2" lengthAdjust="spacingAndGlyphs">[</text>
<text x="1434.2" y="651.1" font-size="42">°</text>
<text x="1479.3" y="649.7" font-size="40.4" textLength="15.2" lengthAdjust="spacingAndGlyphs">]</text>
<g transform="translate(991.7 482) rotate(-90)"><text x="-0.38" y="0" font-size="42" textLength="253.87" lengthAdjust="spacingAndGlyphs">Vertical angle</text><text x="267.2" y="-5" font-size="40.4" textLength="15.2" lengthAdjust="spacingAndGlyphs">[</text><text x="281.3" y="-5.6" font-size="42">°</text><text x="325.3" y="-5" font-size="40.4" textLength="15.2" lengthAdjust="spacingAndGlyphs">]</text></g>
<g transform="translate(1676.6 255.04) rotate(90)"><text x="0" y="0" font-size="43.2" textLength="130.31" lengthAdjust="spacingAndGlyphs">Counts</text></g>
<rect x="1582" y="39" width="23.8" height="565.8" fill="#000"/>
<rect x="1583.2" y="40" width="21.4" height="4" fill="#fff"/>
<rect x="1583.2" y="593.61" width="21.4" height="4.89" fill="#ffffff"/>
<rect x="1583.2" y="587.69" width="21.4" height="6.22" fill="#dcdcdc"/>
<rect x="1583.2" y="579.4" width="21.4" height="8.6" fill="#ccccff"/>
<rect x="1583.2" y="577.19" width="21.4" height="2.51" fill="#d8d8e0"/>
<rect x="1583.2" y="573.87" width="21.4" height="3.62" fill="#cc99cc"/>
<rect x="1583.2" y="565.02" width="21.4" height="9.15" fill="#9999cc"/>
<rect x="1583.2" y="561.7" width="21.4" height="3.62" fill="#9966cc"/>
<rect x="1583.2" y="551.2" width="21.4" height="10.81" fill="#6666cc"/>
<rect x="1583.2" y="546.22" width="21.4" height="5.28" fill="#6633cc"/>
<rect x="1583.2" y="539.03" width="21.4" height="7.49" fill="#333399"/>
<rect x="1583.2" y="523.55" width="21.4" height="15.78" fill="#330099"/>
<rect x="1583.2" y="490.92" width="21.4" height="32.93" fill="#0033cc"/>
<rect x="1583.2" y="463.27" width="21.4" height="27.95" fill="#0066ff"/>
<rect x="1583.2" y="436.72" width="21.4" height="26.84" fill="#0099ff"/>
<rect x="1583.2" y="410.18" width="21.4" height="26.84" fill="#00ccff"/>
<rect x="1583.2" y="395.8" width="21.4" height="14.68" fill="#00cccc"/>
<rect x="1583.2" y="360.96" width="21.4" height="35.14" fill="#00ffcc"/>
<rect x="1583.2" y="343.27" width="21.4" height="18" fill="#00ff88"/>
<rect x="1583.2" y="323.91" width="21.4" height="19.66" fill="#00ff77"/>
<rect x="1583.2" y="311.75" width="21.4" height="12.47" fill="#00ff44"/>
<rect x="1583.2" y="295.71" width="21.4" height="16.34" fill="#44ff55"/>
<rect x="1583.2" y="286.86" width="21.4" height="9.15" fill="#aaff55"/>
<rect x="1583.2" y="271.38" width="21.4" height="15.78" fill="#aaff00"/>
<rect x="1583.2" y="232.67" width="21.4" height="39.01" fill="#cccc00"/>
<rect x="1583.2" y="227.69" width="21.4" height="5.28" fill="#ffcc00"/>
<rect x="1583.2" y="201.7" width="21.4" height="26.29" fill="#ff9900"/>
<rect x="1583.2" y="193.96" width="21.4" height="8.04" fill="#dd9900"/>
<rect x="1583.2" y="158.01" width="21.4" height="36.25" fill="#e66600"/>
<rect x="1583.2" y="143.08" width="21.4" height="15.23" fill="#ee3300"/>
<rect x="1583.2" y="123.73" width="21.4" height="19.66" fill="#ff3300"/>
<rect x="1583.2" y="102.71" width="21.4" height="21.31" fill="#ff0000"/>
<rect x="1583.2" y="70.09" width="21.4" height="32.93" fill="#e60000"/>
<rect x="1583.2" y="65.11" width="21.4" height="5.28" fill="#e6003a"/>
<rect x="1583.2" y="45.2" width="21.4" height="20.21" fill="#b00035"/>
<text x="1615.6" y="61.9" font-size="43.2" textLength="44.45" lengthAdjust="spacingAndGlyphs">87</text>
<text x="1615.6" y="125.33" font-size="43.2" textLength="44.45" lengthAdjust="spacingAndGlyphs">77</text>
<text x="1615.6" y="182.41" font-size="43.2" textLength="44.45" lengthAdjust="spacingAndGlyphs">68</text>
<text x="1615.6" y="245.83" font-size="43.2" textLength="44.45" lengthAdjust="spacingAndGlyphs">58</text>
<text x="1615.6" y="309.26" font-size="43.2" textLength="44.45" lengthAdjust="spacingAndGlyphs">48</text>
<text x="1615.6" y="366.34" font-size="43.2" textLength="44.45" lengthAdjust="spacingAndGlyphs">39</text>
<text x="1615.6" y="429.77" font-size="43.2" textLength="44.45" lengthAdjust="spacingAndGlyphs">29</text>
<text x="1615.6" y="493.19" font-size="43.2" textLength="44.45" lengthAdjust="spacingAndGlyphs">19</text>
<text x="1615.6" y="550.27" font-size="43.2" textLength="44.45" lengthAdjust="spacingAndGlyphs">10</text>
<text x="1615.6" y="613.7" font-size="43.2" textLength="22.22" lengthAdjust="spacingAndGlyphs">0</text>
<path d="M1608.8 46.4h5.8M1608.8 109.83h5.8M1608.8 166.91h5.8M1608.8 230.33h5.8M1608.8 293.76h5.8M1608.8 350.84h5.8M1608.8 414.27h5.8M1608.8 477.69h5.8M1608.8 534.77h5.8M1608.8 598.2h5.8" stroke="#222" stroke-width="1.1" fill="none"/>
<text class="cap" x="1336" y="722" font-size="42" text-anchor="middle">(<tspan font-weight="bold">b</tspan>)</text>
<rect x="21" y="746.7" width="808" height="641.0" fill="#dfdfdf"/>
<rect x="21" y="763.2" width="631" height="624.5" fill="#cdcdcd"/>
<rect x="21" y="763.2" width="1.7" height="624.5" fill="#a5a5a5"/>
<rect x="22.7" y="763.2" width="1.3" height="624.5" fill="#c4c4c4"/>
<rect x="24" y="1384.7" width="628" height="1" fill="#a8a8a8"/>
<rect x="24" y="1385.4" width="628" height="2.3" fill="#888888"/>
<rect x="652" y="766.7" width="6.3" height="621" fill="#aaaaaa"/>
<rect x="658.3" y="765.4" width="4.5" height="622.3" fill="#999999"/>
<rect x="662.8" y="764.2" width="3" height="623.5" fill="#777777"/>
<rect x="665.8" y="763.7" width="2.2" height="624" fill="#444444"/>
<g transform="translate(148.5 778.7) scale(4.1292 4.3000)" fill="none" stroke-width="1" shape-rendering="crispEdges"><path stroke="#ffffff" d="M0 0.5h1M118 0.5h1M112 4.5h2M112 5.5h1M3 17.5h1M8 112.5h1M8 113.5h3M117 113.5h1M116 114.5h3M12 115.5h1M116 115.5h2M2 116.5h2M13 116.5h2M115 116.5h1M3 117.5h1M14 117.5h1"/><path stroke="#dcdcdc" d="M1 0.5h1M7 0.5h1M117 0.5h1M119 0.5h1M118 1.5h2M7 2.5h1M111 2.5h1M119 2.5h1M111 3.5h2M114 4.5h1M113 5.5h1M5 13.5h1M4 14.5h2M3 15.5h3M4 16.5h1M2 17.5h1M3 18.5h1M115 108.5h1M14 109.5h1M6 110.5h1M7 112.5h1M0 113.5h1M7 113.5h1M118 113.5h1M0 114.5h1M2 114.5h1M7 114.5h1M9 114.5h4M119 114.5h1M0 115.5h4M9 115.5h1M11 115.5h1M118 115.5h1M1 116.5h1M4 116.5h1M11 116.5h2M15 116.5h1M2 117.5h1M4 117.5h1M15 117.5h3M15 118.5h3"/><path stroke="#d8d8e0" d="M2 0.5h2M6 0.5h1M8 0.5h1M10 0.5h1M25 0.5h1M99 0.5h1M2 1.5h1M6 1.5h1M111 1.5h1M116 1.5h1M0 2.5h1M4 2.5h1M21 2.5h1M110 2.5h1M4 3.5h1M6 3.5h1M8 3.5h1M21 3.5h1M23 3.5h1M114 3.5h1M104 4.5h1M116 4.5h1M119 4.5h1M115 5.5h1M106 6.5h1M112 6.5h1M115 6.5h1M117 7.5h1M116 8.5h1M118 8.5h1M1 9.5h1M9 9.5h2M116 9.5h1M118 9.5h1M8 10.5h1M10 10.5h1M117 10.5h1M7 11.5h3M19 11.5h1M118 11.5h1M5 12.5h1M18 12.5h1M3 13.5h1M7 13.5h1M14 14.5h2M1 15.5h1M11 16.5h3M0 17.5h1M0 18.5h1M1 19.5h1M0 20.5h1M116 103.5h1M116 104.5h1M116 105.5h1M114 106.5h2M13 107.5h1M2 108.5h3M112 108.5h1M3 109.5h1M6 109.5h1M114 109.5h1M14 110.5h1M16 110.5h1M102 110.5h2M110 110.5h1M119 110.5h1M4 111.5h1M10 111.5h1M15 111.5h2M19 111.5h3M110 111.5h1M113 111.5h1M0 112.5h1M5 112.5h1M111 112.5h1M117 112.5h3M20 113.5h1M22 113.5h1M4 114.5h1M6 114.5h1M20 114.5h1M107 114.5h1M115 114.5h1M5 115.5h1M8 115.5h1M105 115.5h3M114 115.5h1M119 115.5h1M104 116.5h1M107 116.5h1M10 117.5h1M12 117.5h1M18 117.5h1M104 117.5h1M106 117.5h1M2 118.5h1M8 118.5h2M14 118.5h1M101 118.5h3M105 118.5h1M113 118.5h2M0 119.5h5M7 119.5h1M9 119.5h1M15 119.5h1M103 119.5h2M110 119.5h1"/><path stroke="#9999cc" d="M4 0.5h1M11 0.5h2M21 0.5h2M26 0.5h3M96 0.5h2M100 0.5h1M108 0.5h2M115 0.5h1M3 1.5h3M10 1.5h2M20 1.5h2M25 1.5h1M98 1.5h3M109 1.5h2M112 1.5h2M115 1.5h1M1 2.5h1M3 2.5h1M5 2.5h1M10 2.5h1M19 2.5h2M22 2.5h1M24 2.5h2M100 2.5h1M103 2.5h1M109 2.5h1M112 2.5h1M114 2.5h2M0 3.5h1M3 3.5h1M9 3.5h1M19 3.5h2M22 3.5h1M103 3.5h2M110 3.5h1M115 3.5h1M117 3.5h1M3 4.5h1M5 4.5h3M9 4.5h1M18 4.5h4M102 4.5h2M105 4.5h1M110 4.5h1M115 4.5h1M117 4.5h2M0 5.5h2M4 5.5h1M7 5.5h1M18 5.5h1M20 5.5h1M104 5.5h3M116 5.5h2M119 5.5h1M0 6.5h2M5 6.5h1M9 6.5h1M13 6.5h1M105 6.5h1M107 6.5h1M117 6.5h1M0 7.5h3M10 7.5h2M13 7.5h2M106 7.5h2M112 7.5h2M118 7.5h2M1 8.5h2M8 8.5h6M107 8.5h2M115 8.5h1M119 8.5h1M0 9.5h1M2 9.5h1M8 9.5h1M11 9.5h1M20 9.5h2M115 9.5h1M0 10.5h2M11 10.5h1M18 10.5h1M20 10.5h1M22 10.5h1M114 10.5h1M116 10.5h1M119 10.5h1M0 11.5h1M2 11.5h2M5 11.5h1M10 11.5h1M15 11.5h2M18 11.5h1M20 11.5h2M117 11.5h1M119 11.5h1M2 12.5h1M4 12.5h1M7 12.5h1M15 12.5h1M19 12.5h1M119 12.5h1M2 13.5h1M8 13.5h1M12 13.5h3M17 13.5h1M119 13.5h1M0 14.5h3M6 14.5h1M11 14.5h1M17 14.5h1M119 14.5h1M0 15.5h1M2 15.5h1M15 15.5h2M0 16.5h1M6 16.5h1M14 16.5h1M113 16.5h3M5 17.5h3M10 17.5h4M114 17.5h1M119 17.5h1M4 18.5h1M8 18.5h3M0 19.5h1M3 19.5h1M8 19.5h3M1 20.5h1M0 21.5h1M7 21.5h2M0 22.5h1M0 23.5h1M119 97.5h1M118 100.5h1M117 101.5h1M117 102.5h1M119 102.5h1M115 103.5h1M117 103.5h2M0 104.5h1M7 104.5h1M115 104.5h1M1 105.5h1M7 105.5h1M107 105.5h2M113 105.5h2M117 105.5h1M5 106.5h1M11 106.5h1M106 106.5h3M117 106.5h1M1 107.5h1M5 107.5h2M12 107.5h1M113 107.5h1M117 107.5h1M1 108.5h1M5 108.5h2M11 108.5h1M16 108.5h2M1 109.5h2M7 109.5h1M12 109.5h1M16 109.5h3M110 109.5h1M116 109.5h1M0 110.5h1M8 110.5h1M12 110.5h2M19 110.5h1M101 110.5h1M109 110.5h1M114 110.5h3M118 110.5h1M0 111.5h2M3 111.5h1M11 111.5h4M17 111.5h1M101 111.5h1M108 111.5h2M114 111.5h1M1 112.5h4M12 112.5h1M14 112.5h4M22 112.5h1M100 112.5h1M103 112.5h1M108 112.5h1M110 112.5h1M113 112.5h4M3 113.5h3M15 113.5h5M23 113.5h1M100 113.5h1M103 113.5h1M105 113.5h10M14 114.5h3M19 114.5h1M23 114.5h1M97 114.5h2M103 114.5h3M108 114.5h1M114 114.5h1M7 115.5h1M16 115.5h1M20 115.5h1M95 115.5h2M98 115.5h1M108 115.5h1M113 115.5h1M6 116.5h3M18 116.5h1M24 116.5h3M95 116.5h3M103 116.5h1M108 116.5h1M112 116.5h1M119 116.5h1M7 117.5h2M19 117.5h1M99 117.5h1M102 117.5h1M107 117.5h1M111 117.5h1M117 117.5h1M119 117.5h1M7 118.5h1M10 118.5h2M13 118.5h1M19 118.5h1M99 118.5h2M106 118.5h1M109 118.5h4M5 119.5h1M10 119.5h1M14 119.5h1M20 119.5h1M97 119.5h3M105 119.5h4M111 119.5h3"/><path stroke="#9966cc" d="M5 0.5h1M23 0.5h1M110 0.5h1M114 0.5h1M12 1.5h1M19 1.5h1M97 1.5h1M101 1.5h1M108 1.5h1M11 2.5h1M102 2.5h1M1 3.5h1M102 3.5h1M8 4.5h1M17 4.5h1M106 4.5h1M3 5.5h1M6 5.5h1M8 5.5h1M19 5.5h1M107 5.5h1M2 6.5h1M8 6.5h1M10 6.5h1M19 6.5h1M111 6.5h1M118 6.5h2M3 7.5h2M8 7.5h1M12 7.5h1M23 7.5h1M26 7.5h1M19 9.5h1M2 10.5h1M12 10.5h1M19 10.5h1M115 10.5h1M1 11.5h1M22 11.5h1M113 11.5h3M3 12.5h1M16 12.5h1M117 12.5h1M10 13.5h2M18 13.5h1M117 13.5h2M7 15.5h1M115 15.5h1M119 15.5h1M10 16.5h1M119 16.5h1M8 17.5h2M5 18.5h1M114 18.5h1M117 19.5h1M7 20.5h2M6 22.5h1M119 96.5h1M118 97.5h1M119 100.5h1M0 101.5h1M110 101.5h2M119 101.5h1M0 102.5h1M110 102.5h1M116 102.5h1M118 102.5h1M109 103.5h1M119 103.5h1M1 104.5h1M109 104.5h1M118 104.5h2M0 105.5h1M2 105.5h1M8 105.5h3M106 105.5h1M4 106.5h1M8 106.5h1M10 106.5h1M113 106.5h1M15 107.5h1M106 107.5h1M112 107.5h1M0 108.5h1M117 108.5h1M11 109.5h1M104 109.5h1M109 109.5h1M2 110.5h1M9 110.5h1M11 110.5h1M117 110.5h1M2 111.5h1M104 111.5h1M115 111.5h2M118 111.5h1M13 112.5h1M104 112.5h2M13 113.5h1M101 113.5h2M104 113.5h1M17 114.5h2M95 114.5h1M99 114.5h2M18 115.5h1M94 115.5h1M94 116.5h1M111 116.5h1M24 117.5h1M100 117.5h2M110 117.5h1M118 117.5h1M12 118.5h1M107 118.5h2M118 118.5h1M11 119.5h1M13 119.5h1M96 119.5h1"/><path stroke="#ccccff" d="M9 0.5h1M98 0.5h1M116 0.5h1M0 1.5h2M7 1.5h3M24 1.5h1M117 1.5h1M6 2.5h1M8 2.5h2M23 2.5h1M117 2.5h2M7 3.5h1M113 3.5h1M119 3.5h1M111 4.5h1M111 5.5h1M114 5.5h1M113 6.5h2M116 6.5h1M114 7.5h3M117 8.5h1M117 9.5h1M9 10.5h1M6 12.5h1M17 12.5h1M4 13.5h1M6 13.5h1M15 13.5h2M3 14.5h1M12 14.5h2M16 14.5h1M12 15.5h3M2 16.5h2M5 16.5h1M1 17.5h1M4 17.5h1M1 18.5h2M115 105.5h1M2 106.5h1M116 106.5h1M2 107.5h3M114 107.5h3M13 108.5h3M113 108.5h2M116 108.5h1M4 109.5h2M15 109.5h1M112 109.5h2M4 110.5h2M7 110.5h1M15 110.5h1M17 110.5h2M111 110.5h3M5 111.5h5M18 111.5h1M102 111.5h1M111 111.5h2M6 112.5h1M9 112.5h3M18 112.5h4M1 113.5h2M6 113.5h1M11 113.5h1M21 113.5h1M115 113.5h2M119 113.5h1M1 114.5h1M3 114.5h1M8 114.5h1M13 114.5h1M21 114.5h2M4 115.5h1M10 115.5h1M13 115.5h3M115 115.5h1M0 116.5h1M5 116.5h1M9 116.5h2M16 116.5h1M105 116.5h2M114 116.5h1M116 116.5h3M0 117.5h2M5 117.5h1M9 117.5h1M11 117.5h1M13 117.5h1M105 117.5h1M113 117.5h3M0 118.5h2M3 118.5h3M18 118.5h1M104 118.5h1M6 119.5h1M16 119.5h3M101 119.5h2"/><path stroke="#6666cc" d="M13 0.5h3M18 0.5h3M24 0.5h1M101 0.5h1M103 0.5h1M107 0.5h1M111 0.5h3M18 1.5h1M26 1.5h1M102 1.5h3M107 1.5h1M114 1.5h1M2 2.5h1M12 2.5h1M16 2.5h3M26 2.5h1M99 2.5h1M101 2.5h1M104 2.5h5M2 3.5h1M10 3.5h1M15 3.5h4M24 3.5h2M100 3.5h2M105 3.5h2M109 3.5h1M0 4.5h3M4 4.5h1M10 4.5h7M22 4.5h3M107 4.5h3M2 5.5h1M5 5.5h1M9 5.5h3M13 5.5h2M16 5.5h2M21 5.5h3M25 5.5h2M103 5.5h1M108 5.5h3M118 5.5h1M3 6.5h2M6 6.5h2M12 6.5h1M14 6.5h1M17 6.5h2M23 6.5h3M108 6.5h3M5 7.5h1M9 7.5h1M15 7.5h1M19 7.5h1M21 7.5h2M24 7.5h2M108 7.5h4M3 8.5h2M7 8.5h1M14 8.5h2M17 8.5h8M106 8.5h1M109 8.5h2M112 8.5h3M3 9.5h2M6 9.5h2M12 9.5h2M17 9.5h2M23 9.5h1M107 9.5h3M112 9.5h1M114 9.5h1M3 10.5h4M13 10.5h5M23 10.5h1M109 10.5h5M4 11.5h1M11 11.5h4M112 11.5h1M116 11.5h1M0 12.5h2M10 12.5h5M112 12.5h5M0 13.5h2M9 13.5h1M19 13.5h1M114 13.5h3M7 14.5h4M18 14.5h2M114 14.5h1M116 14.5h3M9 15.5h2M17 15.5h1M113 15.5h2M116 15.5h3M7 16.5h3M15 16.5h3M116 16.5h3M14 17.5h4M113 17.5h1M115 17.5h2M118 17.5h1M6 18.5h2M11 18.5h2M18 18.5h1M115 18.5h3M119 18.5h1M4 19.5h4M11 19.5h1M114 19.5h1M116 19.5h1M118 19.5h2M2 20.5h5M9 20.5h1M117 20.5h1M1 21.5h2M6 21.5h1M7 22.5h2M1 23.5h1M6 23.5h1M0 24.5h1M4 24.5h1M119 88.5h1M119 90.5h1M0 94.5h2M118 94.5h2M0 95.5h1M116 95.5h1M118 95.5h2M2 97.5h1M116 97.5h2M117 98.5h3M117 99.5h3M0 100.5h1M110 100.5h2M115 100.5h1M117 100.5h1M1 101.5h1M109 101.5h1M116 101.5h1M118 101.5h1M1 102.5h1M7 102.5h1M108 102.5h2M111 102.5h1M115 102.5h1M0 103.5h2M108 103.5h1M110 103.5h1M113 103.5h2M6 104.5h1M8 104.5h3M107 104.5h2M110 104.5h1M113 104.5h2M3 105.5h4M11 105.5h1M109 105.5h2M118 105.5h2M0 106.5h2M6 106.5h2M9 106.5h1M12 106.5h2M109 106.5h4M118 106.5h1M0 107.5h1M7 107.5h4M105 107.5h1M107 107.5h3M111 107.5h1M118 107.5h2M7 108.5h2M18 108.5h1M104 108.5h2M108 108.5h4M118 108.5h2M0 109.5h1M8 109.5h1M19 109.5h2M102 109.5h2M108 109.5h1M117 109.5h3M1 110.5h1M10 110.5h1M20 110.5h1M104 110.5h1M22 111.5h1M100 111.5h1M105 111.5h1M107 111.5h1M117 111.5h1M23 112.5h1M106 112.5h2M14 113.5h1M24 113.5h1M87 113.5h2M98 113.5h2M24 114.5h2M88 114.5h1M94 114.5h1M96 114.5h1M101 114.5h1M109 114.5h5M17 115.5h1M19 115.5h1M21 115.5h2M24 115.5h2M84 115.5h2M99 115.5h1M101 115.5h1M103 115.5h1M109 115.5h4M19 116.5h1M22 116.5h2M81 116.5h3M89 116.5h1M92 116.5h2M98 116.5h5M109 116.5h2M20 117.5h1M25 117.5h3M79 117.5h1M82 117.5h1M89 117.5h1M91 117.5h8M108 117.5h2M20 118.5h1M25 118.5h1M27 118.5h2M78 118.5h3M88 118.5h1M91 118.5h1M96 118.5h3M115 118.5h2M12 119.5h1M25 119.5h1M28 119.5h1M76 119.5h3M87 119.5h5M95 119.5h1M114 119.5h1M116 119.5h1M119 119.5h1"/><path stroke="#6633cc" d="M16 0.5h2M95 0.5h1M104 0.5h3M13 1.5h2M27 1.5h2M96 1.5h1M27 2.5h1M11 3.5h1M14 3.5h1M26 3.5h1M107 3.5h2M25 4.5h1M101 4.5h1M15 5.5h1M24 5.5h1M11 6.5h1M15 6.5h2M22 6.5h1M26 6.5h1M7 7.5h1M16 7.5h1M20 7.5h1M105 7.5h1M5 8.5h1M16 8.5h1M111 8.5h1M14 9.5h1M16 9.5h1M24 9.5h1M110 9.5h2M113 9.5h1M110 11.5h1M20 12.5h1M110 12.5h1M111 13.5h3M113 14.5h1M115 14.5h1M8 15.5h1M18 15.5h1M18 16.5h1M18 17.5h1M117 17.5h1M13 18.5h2M113 18.5h1M118 18.5h1M12 19.5h1M18 19.5h1M115 19.5h1M113 20.5h2M116 20.5h1M5 21.5h1M118 21.5h1M1 22.5h1M5 22.5h1M5 23.5h1M7 23.5h1M118 23.5h1M6 24.5h1M4 25.5h1M5 87.5h1M119 89.5h1M117 90.5h1M118 91.5h2M0 92.5h1M0 93.5h1M118 93.5h2M1 95.5h1M117 95.5h1M0 96.5h1M117 96.5h2M115 97.5h1M112 98.5h1M114 98.5h3M0 99.5h1M115 99.5h1M109 100.5h1M113 100.5h1M116 100.5h1M113 101.5h3M6 102.5h1M112 102.5h3M2 103.5h1M7 103.5h3M107 103.5h1M111 103.5h2M2 104.5h2M5 104.5h1M105 105.5h1M111 105.5h2M14 106.5h1M105 106.5h1M119 106.5h1M16 107.5h1M9 108.5h1M103 108.5h1M106 108.5h2M9 109.5h2M21 110.5h1M105 110.5h1M108 110.5h1M29 111.5h1M29 112.5h1M99 112.5h1M86 113.5h1M97 113.5h1M84 114.5h2M102 114.5h1M26 115.5h1M86 115.5h3M93 115.5h1M100 115.5h1M102 115.5h1M21 116.5h1M84 116.5h1M90 116.5h2M21 117.5h1M23 117.5h1M90 117.5h1M21 118.5h1M24 118.5h1M77 118.5h1M85 118.5h1M89 118.5h2M92 118.5h1M117 118.5h1M119 118.5h1M21 119.5h1M26 119.5h2M30 119.5h1M75 119.5h1M79 119.5h1M86 119.5h1M115 119.5h1M117 119.5h2"/><path stroke="#330099" d="M29 0.5h1M32 0.5h1M44 0.5h2M89 0.5h2M92 0.5h1M94 0.5h1M44 1.5h2M95 1.5h1M14 2.5h2M28 2.5h2M44 2.5h1M91 2.5h1M95 2.5h1M97 2.5h2M13 3.5h1M28 3.5h2M92 3.5h1M99 3.5h1M28 4.5h1M29 5.5h2M101 5.5h1M27 6.5h2M103 6.5h1M17 7.5h1M28 7.5h3M29 8.5h2M105 8.5h1M25 9.5h1M27 9.5h1M106 9.5h1M24 10.5h1M108 10.5h1M24 11.5h1M109 11.5h1M21 12.5h3M20 13.5h3M110 13.5h1M20 14.5h1M111 14.5h1M19 15.5h2M19 16.5h1M19 17.5h1M20 18.5h1M112 18.5h1M13 19.5h4M19 19.5h2M112 19.5h1M12 20.5h2M18 20.5h2M112 20.5h1M3 21.5h2M11 21.5h2M14 21.5h4M113 21.5h3M3 22.5h1M9 22.5h3M15 22.5h1M115 22.5h1M119 22.5h1M3 23.5h1M8 23.5h3M12 23.5h2M115 23.5h1M117 23.5h1M2 24.5h1M7 24.5h4M12 24.5h1M117 24.5h1M119 24.5h1M0 25.5h1M3 25.5h1M5 25.5h3M10 25.5h1M115 25.5h4M0 26.5h9M18 26.5h2M115 26.5h1M0 27.5h5M19 27.5h3M115 27.5h1M118 27.5h2M0 28.5h1M3 28.5h1M18 28.5h4M115 28.5h1M0 29.5h1M115 29.5h1M0 30.5h1M116 30.5h1M115 31.5h3M1 32.5h1M1 33.5h2M1 34.5h1M113 37.5h1M119 38.5h1M118 39.5h1M0 41.5h1M102 50.5h1M101 51.5h2M0 67.5h1M115 72.5h1M118 74.5h1M114 75.5h1M118 75.5h1M113 76.5h2M106 77.5h1M116 77.5h1M119 78.5h1M109 80.5h1M113 80.5h1M113 81.5h2M114 82.5h2M119 83.5h1M4 85.5h3M110 85.5h1M2 86.5h1M4 86.5h1M6 86.5h2M117 86.5h3M0 87.5h1M2 87.5h3M6 87.5h1M113 87.5h1M117 87.5h3M0 88.5h2M3 88.5h4M116 88.5h1M0 89.5h8M116 89.5h1M2 90.5h4M116 90.5h1M1 91.5h1M3 91.5h2M6 91.5h3M1 92.5h5M7 92.5h1M117 92.5h1M1 93.5h3M5 93.5h2M116 93.5h1M2 94.5h2M6 94.5h1M8 94.5h1M2 95.5h1M4 95.5h1M12 95.5h1M115 95.5h1M3 96.5h1M12 96.5h1M106 96.5h2M112 96.5h3M0 97.5h1M3 97.5h2M22 97.5h1M106 97.5h2M109 97.5h4M1 98.5h2M22 98.5h2M107 98.5h4M1 99.5h2M5 99.5h1M12 99.5h1M22 99.5h1M107 99.5h2M2 100.5h4M8 100.5h1M12 100.5h4M17 100.5h1M21 100.5h2M107 100.5h2M4 101.5h5M13 101.5h1M21 101.5h2M3 102.5h1M8 102.5h2M12 102.5h3M20 102.5h1M100 102.5h1M107 102.5h1M4 103.5h1M10 103.5h5M20 103.5h2M93 103.5h1M106 103.5h1M13 104.5h3M26 104.5h2M101 104.5h5M14 105.5h1M25 105.5h2M103 105.5h2M16 106.5h1M18 106.5h1M20 106.5h1M24 106.5h2M103 106.5h2M17 107.5h1M24 107.5h3M91 107.5h1M101 107.5h3M19 108.5h4M25 108.5h1M27 108.5h2M32 108.5h1M91 108.5h2M21 109.5h1M25 109.5h1M27 109.5h1M75 109.5h1M91 109.5h1M93 109.5h3M107 109.5h1M22 110.5h5M31 110.5h2M46 110.5h1M78 110.5h1M85 110.5h1M89 110.5h1M91 110.5h1M95 110.5h2M98 110.5h2M106 110.5h2M24 111.5h1M26 111.5h2M31 111.5h1M46 111.5h1M78 111.5h1M85 111.5h3M89 111.5h6M96 111.5h1M98 111.5h2M26 112.5h1M46 112.5h3M84 112.5h2M89 112.5h2M93 112.5h6M26 113.5h5M78 113.5h3M83 113.5h2M91 113.5h1M93 113.5h3M26 114.5h1M28 114.5h1M75 114.5h1M78 114.5h2M82 114.5h2M90 114.5h4M27 115.5h2M42 115.5h1M61 115.5h2M77 115.5h1M79 115.5h2M82 115.5h1M90 115.5h2M28 116.5h4M78 116.5h1M80 116.5h1M88 116.5h1M30 117.5h2M50 117.5h2M77 117.5h1M85 117.5h4M22 118.5h1M31 118.5h2M50 118.5h2M54 118.5h1M75 118.5h1M82 118.5h3M86 118.5h1M93 118.5h1M31 119.5h2M38 119.5h1M49 119.5h2M53 119.5h1M55 119.5h1M68 119.5h1M74 119.5h1M81 119.5h5M93 119.5h2"/><path stroke="#333399" d="M30 0.5h2M102 0.5h1M15 1.5h3M29 1.5h1M105 1.5h2M13 2.5h1M12 3.5h1M27 3.5h1M91 3.5h1M26 4.5h2M100 4.5h1M12 5.5h1M27 5.5h2M102 5.5h1M20 6.5h2M29 6.5h2M104 6.5h1M6 7.5h1M18 7.5h1M27 7.5h1M6 8.5h1M25 8.5h3M5 9.5h1M15 9.5h1M107 10.5h1M23 11.5h1M111 11.5h1M111 12.5h1M112 14.5h1M112 15.5h1M112 16.5h1M112 17.5h1M15 18.5h3M19 18.5h1M17 19.5h1M113 19.5h1M10 20.5h2M16 20.5h2M115 20.5h1M118 20.5h2M9 21.5h2M116 21.5h2M119 21.5h1M2 22.5h1M4 22.5h1M116 22.5h3M2 23.5h1M4 23.5h1M119 23.5h1M1 24.5h1M3 24.5h1M5 24.5h1M118 24.5h1M1 25.5h2M119 25.5h1M119 26.5h1M119 39.5h1M119 85.5h1M117 88.5h2M117 89.5h2M0 90.5h1M6 90.5h1M118 90.5h1M0 91.5h1M2 91.5h1M117 91.5h1M6 92.5h1M118 92.5h2M117 93.5h1M116 94.5h2M1 96.5h2M115 96.5h2M1 97.5h1M113 97.5h2M0 98.5h1M111 98.5h1M113 98.5h1M109 99.5h6M116 99.5h1M1 100.5h1M112 100.5h1M114 100.5h1M2 101.5h2M108 101.5h1M112 101.5h1M2 102.5h1M4 102.5h2M3 103.5h1M5 103.5h2M4 104.5h1M11 104.5h2M106 104.5h1M111 104.5h2M12 105.5h2M15 106.5h1M104 107.5h1M110 107.5h1M10 108.5h1M24 108.5h1M26 108.5h1M102 108.5h1M24 109.5h1M26 109.5h1M28 109.5h1M92 109.5h1M101 109.5h1M105 109.5h2M27 110.5h3M92 110.5h3M100 110.5h1M23 111.5h1M25 111.5h1M28 111.5h1M106 111.5h1M24 112.5h2M27 112.5h2M86 112.5h3M25 113.5h1M85 113.5h1M89 113.5h2M96 113.5h1M86 114.5h2M89 114.5h1M81 115.5h1M83 115.5h1M89 115.5h1M92 115.5h1M20 116.5h1M27 116.5h1M79 116.5h1M85 116.5h3M22 117.5h1M28 117.5h2M78 117.5h1M80 117.5h2M83 117.5h2M23 118.5h1M26 118.5h1M29 118.5h2M76 118.5h1M81 118.5h1M87 118.5h1M94 118.5h2M22 119.5h3M29 119.5h1M80 119.5h1M92 119.5h1"/><path stroke="#0033cc" d="M33 0.5h11M46 0.5h3M53 0.5h13M75 0.5h14M91 0.5h1M93 0.5h1M30 1.5h11M42 1.5h2M46 1.5h3M53 1.5h14M73 1.5h1M75 1.5h20M30 2.5h4M35 2.5h3M40 2.5h1M42 2.5h2M45 2.5h3M56 2.5h5M62 2.5h2M76 2.5h4M82 2.5h4M88 2.5h3M92 2.5h3M96 2.5h1M30 3.5h2M36 3.5h2M42 3.5h5M54 3.5h2M57 3.5h2M62 3.5h2M73 3.5h5M80 3.5h2M87 3.5h4M93 3.5h3M97 3.5h2M29 4.5h5M42 4.5h3M46 4.5h3M56 4.5h5M73 4.5h2M80 4.5h3M87 4.5h6M95 4.5h1M97 4.5h3M31 5.5h2M44 5.5h6M56 5.5h3M60 5.5h1M79 5.5h5M85 5.5h6M92 5.5h2M95 5.5h1M97 5.5h4M31 6.5h2M44 6.5h7M55 6.5h1M57 6.5h2M68 6.5h1M81 6.5h5M87 6.5h4M95 6.5h8M31 7.5h2M45 7.5h6M57 7.5h2M80 7.5h4M87 7.5h2M90 7.5h1M96 7.5h3M100 7.5h2M103 7.5h2M28 8.5h1M31 8.5h1M43 8.5h1M48 8.5h3M53 8.5h1M62 8.5h1M71 8.5h2M80 8.5h2M91 8.5h2M97 8.5h8M26 9.5h1M28 9.5h4M38 9.5h2M42 9.5h1M46 9.5h6M73 9.5h1M85 9.5h2M88 9.5h1M91 9.5h2M94 9.5h1M97 9.5h4M103 9.5h3M25 10.5h4M30 10.5h3M46 10.5h2M75 10.5h2M85 10.5h2M89 10.5h1M92 10.5h3M99 10.5h4M104 10.5h3M25 11.5h2M31 11.5h2M72 11.5h1M74 11.5h1M77 11.5h1M89 11.5h1M93 11.5h1M100 11.5h9M24 12.5h3M29 12.5h3M33 12.5h2M91 12.5h1M93 12.5h2M99 12.5h1M101 12.5h2M106 12.5h4M23 13.5h3M30 13.5h3M101 13.5h2M105 13.5h5M21 14.5h4M30 14.5h4M75 14.5h2M103 14.5h2M107 14.5h4M21 15.5h1M23 15.5h3M31 15.5h3M74 15.5h2M110 15.5h2M20 16.5h3M24 16.5h2M31 16.5h2M35 16.5h1M74 16.5h1M110 16.5h2M20 17.5h3M25 17.5h1M35 17.5h1M74 17.5h1M109 17.5h3M21 18.5h2M25 18.5h1M107 18.5h1M110 18.5h2M21 19.5h1M25 19.5h2M37 19.5h1M106 19.5h3M110 19.5h2M14 20.5h2M20 20.5h8M93 20.5h1M95 20.5h1M105 20.5h7M13 21.5h1M18 21.5h12M90 21.5h1M92 21.5h5M107 21.5h1M110 21.5h3M12 22.5h3M16 22.5h9M26 22.5h2M29 22.5h1M32 22.5h1M92 22.5h5M111 22.5h4M11 23.5h1M14 23.5h10M30 23.5h1M90 23.5h7M112 23.5h3M116 23.5h1M11 24.5h1M13 24.5h11M92 24.5h4M111 24.5h6M8 25.5h2M11 25.5h5M17 25.5h6M112 25.5h3M9 26.5h6M17 26.5h1M20 26.5h3M111 26.5h4M116 26.5h3M5 27.5h9M17 27.5h2M22 27.5h1M96 27.5h1M111 27.5h4M116 27.5h2M1 28.5h2M4 28.5h4M9 28.5h4M17 28.5h1M22 28.5h1M112 28.5h3M116 28.5h4M1 29.5h6M8 29.5h7M17 29.5h6M111 29.5h4M116 29.5h4M1 30.5h5M8 30.5h8M98 30.5h2M112 30.5h4M117 30.5h3M0 31.5h5M9 31.5h8M98 31.5h4M113 31.5h2M118 31.5h2M0 32.5h1M2 32.5h3M6 32.5h1M8 32.5h10M90 32.5h1M98 32.5h1M101 32.5h2M110 32.5h1M112 32.5h8M0 33.5h1M3 33.5h3M7 33.5h3M11 33.5h7M90 33.5h1M97 33.5h6M109 33.5h11M0 34.5h1M2 34.5h3M6 34.5h4M12 34.5h5M91 34.5h3M99 34.5h3M111 34.5h1M113 34.5h7M0 35.5h5M6 35.5h2M14 35.5h4M92 35.5h3M100 35.5h2M109 35.5h11M3 36.5h3M15 36.5h1M101 36.5h1M109 36.5h11M0 37.5h5M15 37.5h2M102 37.5h1M109 37.5h4M114 37.5h6M0 38.5h3M109 38.5h1M111 38.5h8M0 39.5h3M4 39.5h1M14 39.5h3M107 39.5h11M0 40.5h3M4 40.5h1M14 40.5h3M106 40.5h1M108 40.5h1M111 40.5h4M117 40.5h3M1 41.5h2M14 41.5h4M112 41.5h8M0 42.5h3M9 42.5h2M14 42.5h2M114 42.5h1M116 42.5h4M9 43.5h1M13 43.5h3M107 43.5h1M118 43.5h2M9 44.5h1M15 44.5h1M91 44.5h1M107 44.5h1M116 44.5h1M118 44.5h2M7 45.5h3M93 45.5h2M107 45.5h1M119 45.5h1M6 46.5h4M92 46.5h3M96 46.5h1M99 46.5h3M103 46.5h1M107 46.5h2M115 46.5h1M119 46.5h1M6 47.5h7M93 47.5h11M107 47.5h2M119 47.5h1M3 48.5h1M6 48.5h3M10 48.5h4M93 48.5h11M112 48.5h1M119 48.5h1M0 49.5h2M3 49.5h1M7 49.5h7M93 49.5h11M0 50.5h2M6 50.5h1M8 50.5h6M93 50.5h9M103 50.5h1M1 51.5h4M8 51.5h6M94 51.5h3M99 51.5h2M103 51.5h1M1 52.5h4M100 52.5h4M0 53.5h6M102 53.5h2M0 54.5h7M112 54.5h1M118 54.5h2M0 55.5h6M0 56.5h1M5 56.5h3M0 57.5h1M6 57.5h3M97 57.5h1M0 58.5h3M6 58.5h2M97 58.5h1M4 59.5h1M6 59.5h2M14 59.5h1M0 60.5h1M5 60.5h3M13 60.5h2M118 60.5h1M6 61.5h4M12 61.5h1M14 61.5h1M0 62.5h1M6 62.5h5M119 62.5h1M6 63.5h2M9 63.5h1M119 63.5h1M0 64.5h2M6 64.5h1M9 64.5h1M117 64.5h3M0 65.5h1M6 65.5h4M116 65.5h2M119 65.5h1M0 66.5h3M5 66.5h4M90 66.5h1M110 66.5h2M114 66.5h1M116 66.5h4M1 67.5h2M6 67.5h3M88 67.5h3M110 67.5h1M116 67.5h4M0 68.5h2M7 68.5h2M89 68.5h2M115 68.5h5M0 69.5h2M3 69.5h1M8 69.5h3M89 69.5h1M113 69.5h7M0 70.5h3M8 70.5h1M113 70.5h7M0 71.5h3M4 71.5h1M113 71.5h7M0 72.5h3M113 72.5h2M116 72.5h4M1 73.5h2M89 73.5h1M113 73.5h7M0 74.5h2M106 74.5h1M110 74.5h8M119 74.5h1M0 75.5h3M88 75.5h1M106 75.5h4M111 75.5h3M115 75.5h3M119 75.5h1M0 76.5h2M106 76.5h7M115 76.5h5M0 77.5h3M105 77.5h1M107 77.5h9M117 77.5h3M14 78.5h1M104 78.5h15M0 79.5h1M2 79.5h1M14 79.5h2M103 79.5h17M0 80.5h2M103 80.5h6M110 80.5h3M114 80.5h4M119 80.5h1M0 81.5h2M10 81.5h1M17 81.5h1M103 81.5h6M110 81.5h3M115 81.5h5M0 82.5h2M3 82.5h1M101 82.5h3M105 82.5h4M111 82.5h3M116 82.5h4M2 83.5h3M7 83.5h1M9 83.5h1M95 83.5h1M111 83.5h8M2 84.5h10M94 84.5h1M109 84.5h11M0 85.5h4M7 85.5h6M96 85.5h1M103 85.5h5M109 85.5h1M111 85.5h8M0 86.5h2M3 86.5h1M5 86.5h1M8 86.5h5M94 86.5h2M102 86.5h6M109 86.5h8M1 87.5h1M7 87.5h4M12 87.5h1M94 87.5h2M102 87.5h3M106 87.5h7M114 87.5h3M2 88.5h1M7 88.5h7M21 88.5h2M109 88.5h4M114 88.5h2M8 89.5h3M12 89.5h3M22 89.5h1M98 89.5h6M110 89.5h6M1 90.5h1M7 90.5h6M14 90.5h2M22 90.5h1M101 90.5h1M111 90.5h5M5 91.5h1M9 91.5h7M97 91.5h1M99 91.5h3M103 91.5h1M111 91.5h6M8 92.5h8M99 92.5h3M111 92.5h3M115 92.5h2M4 93.5h1M7 93.5h11M19 93.5h1M21 93.5h1M101 93.5h1M108 93.5h8M4 94.5h2M7 94.5h1M9 94.5h8M21 94.5h1M105 94.5h1M107 94.5h3M112 94.5h4M3 95.5h1M5 95.5h7M13 95.5h4M21 95.5h2M92 95.5h1M102 95.5h2M105 95.5h10M4 96.5h8M13 96.5h4M21 96.5h2M103 96.5h3M108 96.5h4M5 97.5h12M18 97.5h1M21 97.5h1M23 97.5h4M90 97.5h1M97 97.5h1M102 97.5h4M108 97.5h1M3 98.5h15M21 98.5h1M24 98.5h5M99 98.5h8M3 99.5h2M6 99.5h6M13 99.5h3M17 99.5h5M23 99.5h6M98 99.5h9M6 100.5h2M9 100.5h1M11 100.5h1M16 100.5h1M18 100.5h3M23 100.5h4M90 100.5h4M98 100.5h9M9 101.5h4M14 101.5h7M23 101.5h5M89 101.5h6M98 101.5h10M10 102.5h2M15 102.5h5M21 102.5h4M26 102.5h3M58 102.5h2M89 102.5h6M99 102.5h1M101 102.5h6M15 103.5h5M22 103.5h9M56 103.5h3M89 103.5h4M94 103.5h3M99 103.5h7M16 104.5h10M28 104.5h2M33 104.5h2M55 104.5h3M87 104.5h9M98 104.5h3M15 105.5h10M27 105.5h7M54 105.5h2M75 105.5h1M86 105.5h1M88 105.5h11M100 105.5h3M17 106.5h1M19 106.5h1M21 106.5h3M26 106.5h10M39 106.5h1M55 106.5h1M74 106.5h3M78 106.5h1M85 106.5h13M100 106.5h3M18 107.5h6M27 107.5h13M74 107.5h3M79 107.5h1M83 107.5h2M86 107.5h5M92 107.5h9M23 108.5h1M29 108.5h3M33 108.5h3M38 108.5h1M75 108.5h6M82 108.5h9M93 108.5h9M22 109.5h2M29 109.5h7M43 109.5h4M74 109.5h1M76 109.5h15M96 109.5h5M30 110.5h1M33 110.5h1M43 110.5h3M47 110.5h4M69 110.5h1M75 110.5h3M79 110.5h6M86 110.5h3M90 110.5h1M97 110.5h1M30 111.5h1M32 111.5h3M37 111.5h2M42 111.5h4M47 111.5h3M75 111.5h3M79 111.5h6M88 111.5h1M95 111.5h1M97 111.5h1M30 112.5h9M42 112.5h4M49 112.5h1M60 112.5h1M63 112.5h1M74 112.5h10M91 112.5h2M31 113.5h7M42 113.5h8M60 113.5h5M71 113.5h1M73 113.5h5M81 113.5h2M92 113.5h1M27 114.5h1M29 114.5h8M38 114.5h11M58 114.5h6M70 114.5h1M72 114.5h3M76 114.5h2M80 114.5h2M29 115.5h8M38 115.5h4M43 115.5h6M58 115.5h3M63 115.5h1M65 115.5h2M68 115.5h2M71 115.5h6M78 115.5h1M32 116.5h6M40 116.5h5M47 116.5h4M53 116.5h1M56 116.5h9M66 116.5h2M72 116.5h6M32 117.5h5M38 117.5h6M46 117.5h4M52 117.5h10M63 117.5h2M66 117.5h3M70 117.5h1M72 117.5h5M33 118.5h10M45 118.5h5M52 118.5h2M55 118.5h20M33 119.5h5M39 119.5h6M46 119.5h3M51 119.5h2M54 119.5h1M56 119.5h2M60 119.5h8M69 119.5h5"/><path stroke="#0066ff" d="M49 0.5h4M66 0.5h3M71 0.5h1M73 0.5h2M41 1.5h1M49 1.5h4M67 1.5h2M70 1.5h3M74 1.5h1M34 2.5h1M38 2.5h2M41 2.5h1M48 2.5h2M52 2.5h4M61 2.5h1M64 2.5h5M70 2.5h6M80 2.5h2M86 2.5h2M32 3.5h4M38 3.5h4M47 3.5h3M52 3.5h2M56 3.5h1M59 3.5h3M64 3.5h6M72 3.5h1M78 3.5h2M82 3.5h5M96 3.5h1M34 4.5h8M45 4.5h1M49 4.5h2M52 4.5h4M61 4.5h8M71 4.5h2M75 4.5h5M83 4.5h4M93 4.5h2M96 4.5h1M33 5.5h11M50 5.5h1M52 5.5h4M59 5.5h1M61 5.5h1M63 5.5h7M71 5.5h8M84 5.5h1M91 5.5h1M94 5.5h1M96 5.5h1M33 6.5h3M37 6.5h2M40 6.5h1M42 6.5h2M51 6.5h4M56 6.5h1M59 6.5h9M69 6.5h9M79 6.5h2M86 6.5h1M91 6.5h4M33 7.5h3M37 7.5h1M41 7.5h4M51 7.5h6M59 7.5h6M66 7.5h14M84 7.5h3M89 7.5h1M91 7.5h5M99 7.5h1M102 7.5h1M32 8.5h11M44 8.5h4M51 8.5h2M54 8.5h8M63 8.5h1M66 8.5h5M73 8.5h7M82 8.5h9M93 8.5h4M32 9.5h6M40 9.5h2M43 9.5h3M52 9.5h4M57 9.5h6M68 9.5h5M74 9.5h11M87 9.5h1M89 9.5h2M93 9.5h1M95 9.5h2M101 9.5h2M29 10.5h1M33 10.5h7M42 10.5h4M48 10.5h9M58 10.5h5M71 10.5h4M77 10.5h8M87 10.5h2M90 10.5h2M95 10.5h4M103 10.5h1M27 11.5h4M33 11.5h7M43 11.5h15M60 11.5h1M70 11.5h2M73 11.5h1M75 11.5h2M78 11.5h1M80 11.5h2M83 11.5h6M90 11.5h3M94 11.5h6M27 12.5h2M32 12.5h1M35 12.5h4M43 12.5h2M46 12.5h1M49 12.5h2M53 12.5h1M55 12.5h3M62 12.5h1M64 12.5h1M72 12.5h7M80 12.5h1M83 12.5h4M88 12.5h2M92 12.5h1M95 12.5h4M100 12.5h1M103 12.5h3M26 13.5h4M33 13.5h2M38 13.5h1M45 13.5h2M48 13.5h1M50 13.5h2M62 13.5h3M72 13.5h7M80 13.5h18M99 13.5h2M103 13.5h2M25 14.5h5M34 14.5h5M45 14.5h1M47 14.5h2M63 14.5h3M72 14.5h3M77 14.5h1M80 14.5h13M94 14.5h3M100 14.5h3M105 14.5h2M22 15.5h1M26 15.5h5M34 15.5h7M44 15.5h5M64 15.5h1M66 15.5h1M73 15.5h1M76 15.5h2M80 15.5h1M83 15.5h4M88 15.5h4M94 15.5h1M98 15.5h1M100 15.5h10M23 16.5h1M26 16.5h1M29 16.5h2M33 16.5h2M36 16.5h3M43 16.5h2M48 16.5h1M63 16.5h1M73 16.5h1M75 16.5h2M81 16.5h1M87 16.5h5M95 16.5h1M101 16.5h3M105 16.5h5M23 17.5h2M26 17.5h2M30 17.5h5M36 17.5h6M44 17.5h7M75 17.5h2M80 17.5h2M87 17.5h5M101 17.5h1M103 17.5h1M105 17.5h4M23 18.5h2M26 18.5h2M31 18.5h11M44 18.5h4M49 18.5h2M75 18.5h3M87 18.5h7M95 18.5h2M103 18.5h4M108 18.5h2M22 19.5h3M27 19.5h10M42 19.5h4M51 19.5h1M75 19.5h1M78 19.5h2M87 19.5h10M100 19.5h6M109 19.5h1M28 20.5h5M34 20.5h4M39 20.5h1M43 20.5h4M48 20.5h3M75 20.5h1M80 20.5h1M86 20.5h7M94 20.5h1M96 20.5h2M101 20.5h1M103 20.5h2M30 21.5h8M39 21.5h1M43 21.5h1M45 21.5h1M48 21.5h1M79 21.5h1M82 21.5h4M88 21.5h2M91 21.5h1M97 21.5h1M100 21.5h1M102 21.5h5M108 21.5h2M25 22.5h1M28 22.5h1M30 22.5h2M33 22.5h6M40 22.5h2M81 22.5h4M89 22.5h3M97 22.5h2M103 22.5h1M107 22.5h4M24 23.5h6M31 23.5h6M40 23.5h3M79 23.5h5M85 23.5h5M97 23.5h1M104 23.5h1M108 23.5h4M24 24.5h2M28 24.5h3M34 24.5h1M36 24.5h1M80 24.5h6M88 24.5h4M96 24.5h3M109 24.5h2M16 25.5h1M23 25.5h1M81 25.5h18M109 25.5h3M15 26.5h2M23 26.5h1M82 26.5h5M88 26.5h2M93 26.5h6M107 26.5h4M14 27.5h3M23 27.5h1M34 27.5h2M83 27.5h6M94 27.5h2M97 27.5h1M106 27.5h5M8 28.5h1M13 28.5h4M23 28.5h1M34 28.5h3M83 28.5h4M90 28.5h1M95 28.5h3M107 28.5h5M7 29.5h1M15 29.5h2M23 29.5h1M34 29.5h3M83 29.5h4M91 29.5h1M95 29.5h3M100 29.5h1M107 29.5h4M6 30.5h2M16 30.5h8M35 30.5h1M84 30.5h3M88 30.5h4M95 30.5h3M100 30.5h2M106 30.5h6M5 31.5h4M17 31.5h2M24 31.5h1M84 31.5h2M87 31.5h8M96 31.5h2M102 31.5h1M108 31.5h5M5 32.5h1M7 32.5h1M86 32.5h4M91 32.5h7M99 32.5h2M103 32.5h2M108 32.5h2M111 32.5h1M6 33.5h1M10 33.5h1M18 33.5h1M24 33.5h1M85 33.5h5M91 33.5h3M103 33.5h1M107 33.5h2M5 34.5h1M10 34.5h2M17 34.5h2M24 34.5h1M26 34.5h2M88 34.5h3M94 34.5h5M102 34.5h3M107 34.5h4M112 34.5h1M5 35.5h1M8 35.5h4M13 35.5h1M18 35.5h3M25 35.5h2M90 35.5h2M95 35.5h3M99 35.5h1M102 35.5h3M107 35.5h2M0 36.5h3M6 36.5h3M13 36.5h2M16 36.5h9M91 36.5h10M102 36.5h3M108 36.5h1M5 37.5h3M12 37.5h3M17 37.5h8M89 37.5h1M91 37.5h2M94 37.5h3M98 37.5h4M103 37.5h6M3 38.5h5M9 38.5h3M13 38.5h11M91 38.5h1M94 38.5h1M98 38.5h1M100 38.5h6M107 38.5h2M110 38.5h1M3 39.5h1M5 39.5h1M9 39.5h5M17 39.5h5M96 39.5h2M102 39.5h5M3 40.5h1M5 40.5h9M17 40.5h2M20 40.5h1M95 40.5h2M104 40.5h2M107 40.5h1M109 40.5h2M115 40.5h2M3 41.5h4M8 41.5h6M18 41.5h1M20 41.5h3M103 41.5h6M111 41.5h1M3 42.5h6M11 42.5h3M16 42.5h3M21 42.5h2M90 42.5h3M97 42.5h1M104 42.5h5M110 42.5h4M115 42.5h1M0 43.5h3M5 43.5h4M10 43.5h3M16 43.5h2M21 43.5h3M90 43.5h4M95 43.5h5M104 43.5h3M108 43.5h2M112 43.5h6M0 44.5h3M4 44.5h5M10 44.5h5M16 44.5h1M90 44.5h1M92 44.5h2M95 44.5h6M102 44.5h5M108 44.5h2M111 44.5h5M117 44.5h1M0 45.5h1M3 45.5h4M10 45.5h6M91 45.5h2M95 45.5h12M108 45.5h1M112 45.5h7M0 46.5h2M4 46.5h2M10 46.5h5M17 46.5h1M90 46.5h2M95 46.5h1M97 46.5h2M102 46.5h1M104 46.5h3M112 46.5h3M117 46.5h2M0 47.5h6M13 47.5h2M88 47.5h1M90 47.5h3M104 47.5h1M106 47.5h1M109 47.5h1M111 47.5h8M0 48.5h3M4 48.5h2M9 48.5h1M14 48.5h2M17 48.5h1M89 48.5h1M92 48.5h1M104 48.5h1M106 48.5h6M113 48.5h3M118 48.5h1M2 49.5h1M4 49.5h3M14 49.5h6M91 49.5h2M104 49.5h7M112 49.5h3M118 49.5h2M2 50.5h4M7 50.5h1M14 50.5h4M91 50.5h2M104 50.5h7M112 50.5h4M118 50.5h2M0 51.5h1M5 51.5h3M14 51.5h4M92 51.5h2M97 51.5h2M104 51.5h2M107 51.5h3M112 51.5h2M118 51.5h2M0 52.5h1M5 52.5h10M16 52.5h2M92 52.5h8M104 52.5h3M110 52.5h4M118 52.5h2M6 53.5h11M93 53.5h9M104 53.5h1M111 53.5h2M115 53.5h1M117 53.5h3M7 54.5h2M10 54.5h6M96 54.5h2M100 54.5h5M111 54.5h1M116 54.5h2M6 55.5h10M94 55.5h4M99 55.5h6M110 55.5h1M114 55.5h3M118 55.5h2M1 56.5h4M8 56.5h8M94 56.5h11M115 56.5h5M1 57.5h5M9 57.5h4M14 57.5h2M91 57.5h6M98 57.5h6M108 57.5h1M113 57.5h6M3 58.5h3M8 58.5h8M93 58.5h4M98 58.5h4M113 58.5h3M117 58.5h1M119 58.5h1M0 59.5h4M5 59.5h1M8 59.5h2M12 59.5h2M15 59.5h2M91 59.5h4M96 59.5h7M112 59.5h8M1 60.5h4M8 60.5h5M15 60.5h3M90 60.5h1M93 60.5h1M97 60.5h1M100 60.5h3M106 60.5h1M112 60.5h1M114 60.5h4M119 60.5h1M0 61.5h4M5 61.5h1M10 61.5h2M13 61.5h1M15 61.5h2M106 61.5h3M115 61.5h5M1 62.5h3M5 62.5h1M11 62.5h5M91 62.5h2M101 62.5h1M105 62.5h4M114 62.5h5M0 63.5h3M4 63.5h2M8 63.5h1M10 63.5h6M91 63.5h2M106 63.5h4M114 63.5h5M2 64.5h1M4 64.5h2M7 64.5h2M10 64.5h1M13 64.5h1M18 64.5h1M21 64.5h4M90 64.5h3M105 64.5h12M1 65.5h5M10 65.5h4M18 65.5h1M21 65.5h4M88 65.5h1M90 65.5h3M101 65.5h3M110 65.5h6M118 65.5h1M3 66.5h2M9 66.5h2M12 66.5h1M19 66.5h3M87 66.5h3M91 66.5h2M98 66.5h4M112 66.5h2M115 66.5h1M3 67.5h3M9 67.5h4M14 67.5h2M18 67.5h3M87 67.5h1M91 67.5h1M93 67.5h1M98 67.5h2M104 67.5h2M109 67.5h1M111 67.5h5M2 68.5h5M9 68.5h5M15 68.5h6M87 68.5h2M91 68.5h1M98 68.5h2M106 68.5h1M110 68.5h5M2 69.5h1M4 69.5h2M7 69.5h1M11 69.5h3M16 69.5h3M88 69.5h1M90 69.5h1M110 69.5h3M3 70.5h5M9 70.5h7M17 70.5h3M23 70.5h1M88 70.5h2M94 70.5h1M110 70.5h3M3 71.5h1M5 71.5h1M7 71.5h2M10 71.5h4M16 71.5h1M23 71.5h1M88 71.5h1M93 71.5h2M105 71.5h8M3 72.5h3M10 72.5h3M87 72.5h6M105 72.5h4M110 72.5h3M0 73.5h1M3 73.5h3M87 73.5h2M90 73.5h2M106 73.5h3M110 73.5h3M2 74.5h3M6 74.5h2M87 74.5h5M104 74.5h2M107 74.5h3M3 75.5h2M6 75.5h4M13 75.5h2M86 75.5h2M89 75.5h2M104 75.5h2M110 75.5h1M2 76.5h6M13 76.5h4M87 76.5h4M103 76.5h3M3 77.5h2M7 77.5h1M12 77.5h6M86 77.5h1M97 77.5h1M103 77.5h2M0 78.5h5M6 78.5h5M12 78.5h2M15 78.5h3M20 78.5h1M85 78.5h1M93 78.5h1M97 78.5h4M103 78.5h1M1 79.5h1M3 79.5h4M8 79.5h6M16 79.5h3M20 79.5h2M87 79.5h1M93 79.5h1M95 79.5h5M101 79.5h2M2 80.5h4M8 80.5h11M87 80.5h1M96 80.5h3M100 80.5h3M118 80.5h1M2 81.5h2M8 81.5h2M11 81.5h6M18 81.5h2M93 81.5h5M99 81.5h1M101 81.5h2M109 81.5h1M2 82.5h1M4 82.5h15M94 82.5h4M99 82.5h2M104 82.5h1M109 82.5h2M0 83.5h2M5 83.5h2M8 83.5h1M10 83.5h4M16 83.5h3M92 83.5h3M96 83.5h2M99 83.5h12M0 84.5h2M12 84.5h2M16 84.5h3M93 84.5h1M95 84.5h14M13 85.5h1M17 85.5h3M84 85.5h1M86 85.5h2M93 85.5h3M97 85.5h6M108 85.5h1M13 86.5h3M18 86.5h5M84 86.5h1M87 86.5h1M92 86.5h2M96 86.5h6M108 86.5h1M11 87.5h1M13 87.5h11M86 87.5h2M91 87.5h3M96 87.5h6M105 87.5h1M14 88.5h7M23 88.5h1M26 88.5h1M83 88.5h4M91 88.5h1M93 88.5h16M113 88.5h1M11 89.5h1M15 89.5h7M23 89.5h4M82 89.5h7M91 89.5h1M93 89.5h5M104 89.5h6M13 90.5h1M16 90.5h6M23 90.5h3M33 90.5h1M84 90.5h5M96 90.5h5M102 90.5h9M16 91.5h7M24 91.5h3M84 91.5h2M93 91.5h4M98 91.5h1M102 91.5h1M104 91.5h3M108 91.5h3M16 92.5h10M96 92.5h3M102 92.5h1M104 92.5h7M114 92.5h1M18 93.5h1M20 93.5h1M22 93.5h2M91 93.5h3M95 93.5h1M97 93.5h4M102 93.5h6M17 94.5h1M20 94.5h1M22 94.5h2M33 94.5h2M90 94.5h15M106 94.5h1M110 94.5h2M19 95.5h2M23 95.5h2M29 95.5h4M89 95.5h3M93 95.5h9M104 95.5h1M17 96.5h4M23 96.5h4M31 96.5h2M49 96.5h2M89 96.5h4M94 96.5h1M96 96.5h7M17 97.5h1M19 97.5h2M27 97.5h2M49 97.5h1M84 97.5h1M86 97.5h4M91 97.5h6M98 97.5h4M18 98.5h3M30 98.5h1M50 98.5h1M62 98.5h2M65 98.5h1M77 98.5h1M83 98.5h10M95 98.5h4M16 99.5h1M29 99.5h2M36 99.5h1M48 99.5h2M65 99.5h2M81 99.5h17M10 100.5h1M27 100.5h3M40 100.5h1M49 100.5h2M58 100.5h1M61 100.5h1M64 100.5h2M81 100.5h9M94 100.5h4M28 101.5h2M35 101.5h1M41 101.5h1M49 101.5h3M56 101.5h3M60 101.5h1M65 101.5h3M82 101.5h7M95 101.5h3M25 102.5h1M29 102.5h3M37 102.5h6M46 102.5h1M48 102.5h4M54 102.5h1M56 102.5h2M60 102.5h2M81 102.5h3M87 102.5h2M95 102.5h4M31 103.5h5M42 103.5h1M46 103.5h10M59 103.5h2M77 103.5h1M81 103.5h8M97 103.5h2M30 104.5h3M35 104.5h2M38 104.5h4M48 104.5h1M50 104.5h5M58 104.5h3M74 104.5h1M77 104.5h7M85 104.5h2M96 104.5h2M34 105.5h4M39 105.5h4M48 105.5h1M51 105.5h3M56 105.5h2M59 105.5h2M74 105.5h1M76 105.5h10M87 105.5h1M99 105.5h1M36 106.5h3M40 106.5h3M47 106.5h2M51 106.5h2M54 106.5h1M56 106.5h5M72 106.5h2M77 106.5h1M79 106.5h6M98 106.5h2M40 107.5h4M47 107.5h1M52 107.5h9M69 107.5h5M77 107.5h2M80 107.5h3M85 107.5h1M36 108.5h2M39 108.5h1M41 108.5h17M59 108.5h1M66 108.5h2M69 108.5h6M81 108.5h1M36 109.5h4M41 109.5h2M47 109.5h12M67 109.5h7M34 110.5h7M42 110.5h1M51 110.5h11M67 110.5h2M70 110.5h5M35 111.5h2M39 111.5h3M50 111.5h3M54 111.5h2M57 111.5h1M59 111.5h6M67 111.5h6M74 111.5h1M39 112.5h3M50 112.5h2M59 112.5h1M61 112.5h2M64 112.5h10M38 113.5h4M50 113.5h1M57 113.5h3M65 113.5h6M72 113.5h1M37 114.5h1M49 114.5h2M57 114.5h1M64 114.5h6M71 114.5h1M37 115.5h1M49 115.5h3M54 115.5h2M57 115.5h1M64 115.5h1M67 115.5h1M70 115.5h1M38 116.5h2M45 116.5h2M51 116.5h2M54 116.5h2M65 116.5h1M68 116.5h2M71 116.5h1M37 117.5h1M44 117.5h2M62 117.5h1M65 117.5h1M69 117.5h1M71 117.5h1M43 118.5h2M45 119.5h1M58 119.5h2"/><path stroke="#0099ff" d="M69 0.5h2M72 0.5h1M69 1.5h1M50 2.5h2M69 2.5h1M50 3.5h2M70 3.5h2M51 4.5h1M69 4.5h2M51 5.5h1M62 5.5h1M70 5.5h1M36 6.5h1M39 6.5h1M41 6.5h1M78 6.5h1M36 7.5h1M38 7.5h3M65 7.5h1M64 8.5h2M56 9.5h1M63 9.5h5M40 10.5h2M57 10.5h1M63 10.5h3M67 10.5h4M40 11.5h3M58 11.5h2M61 11.5h9M79 11.5h1M82 11.5h1M39 12.5h4M45 12.5h1M47 12.5h2M51 12.5h2M54 12.5h1M58 12.5h4M63 12.5h1M65 12.5h7M79 12.5h1M81 12.5h2M87 12.5h1M90 12.5h1M35 13.5h3M39 13.5h6M47 13.5h1M49 13.5h1M52 13.5h3M56 13.5h2M59 13.5h3M65 13.5h7M79 13.5h1M98 13.5h1M39 14.5h6M46 14.5h1M49 14.5h4M56 14.5h3M60 14.5h3M66 14.5h1M69 14.5h3M78 14.5h2M93 14.5h1M97 14.5h3M41 15.5h3M49 15.5h4M57 15.5h2M61 15.5h3M65 15.5h1M67 15.5h1M71 15.5h2M78 15.5h2M81 15.5h2M87 15.5h1M92 15.5h2M95 15.5h3M99 15.5h1M27 16.5h2M39 16.5h4M45 16.5h3M49 16.5h3M56 16.5h1M62 16.5h1M64 16.5h4M72 16.5h1M77 16.5h4M82 16.5h5M92 16.5h3M96 16.5h3M100 16.5h1M104 16.5h1M28 17.5h2M42 17.5h2M51 17.5h1M56 17.5h3M63 17.5h5M73 17.5h1M77 17.5h3M82 17.5h1M85 17.5h2M92 17.5h5M98 17.5h1M100 17.5h1M102 17.5h1M104 17.5h1M28 18.5h3M42 18.5h2M48 18.5h1M51 18.5h4M57 18.5h2M64 18.5h4M73 18.5h2M78 18.5h5M85 18.5h2M94 18.5h1M97 18.5h6M38 19.5h4M46 19.5h5M52 19.5h3M73 19.5h2M76 19.5h2M80 19.5h3M86 19.5h1M97 19.5h3M33 20.5h1M38 20.5h1M40 20.5h3M47 20.5h1M51 20.5h3M73 20.5h2M76 20.5h4M81 20.5h3M98 20.5h3M102 20.5h1M38 21.5h1M40 21.5h3M44 21.5h1M46 21.5h2M49 21.5h5M69 21.5h1M72 21.5h5M78 21.5h1M80 21.5h2M86 21.5h2M98 21.5h2M101 21.5h1M39 22.5h1M42 22.5h8M73 22.5h8M85 22.5h4M99 22.5h4M104 22.5h3M37 23.5h3M43 23.5h2M46 23.5h3M73 23.5h1M75 23.5h3M84 23.5h1M98 23.5h1M100 23.5h4M105 23.5h1M107 23.5h1M26 24.5h2M31 24.5h3M35 24.5h1M37 24.5h7M46 24.5h1M79 24.5h1M86 24.5h2M99 24.5h2M102 24.5h4M107 24.5h2M24 25.5h2M27 25.5h10M38 25.5h4M43 25.5h2M60 25.5h2M73 25.5h1M79 25.5h2M99 25.5h3M103 25.5h3M108 25.5h1M25 26.5h1M30 26.5h1M33 26.5h4M38 26.5h7M61 26.5h2M73 26.5h2M80 26.5h2M87 26.5h1M90 26.5h3M99 26.5h2M103 26.5h4M24 27.5h1M27 27.5h1M30 27.5h4M36 27.5h1M39 27.5h1M42 27.5h1M59 27.5h3M71 27.5h3M81 27.5h2M89 27.5h5M98 27.5h4M103 27.5h3M24 28.5h1M27 28.5h1M31 28.5h3M37 28.5h2M58 28.5h2M64 28.5h1M71 28.5h1M80 28.5h3M87 28.5h2M91 28.5h4M98 28.5h9M24 29.5h2M33 29.5h1M63 29.5h2M70 29.5h2M74 29.5h2M82 29.5h1M87 29.5h4M93 29.5h2M98 29.5h2M101 29.5h3M105 29.5h2M24 30.5h2M33 30.5h2M36 30.5h2M63 30.5h1M82 30.5h2M87 30.5h1M92 30.5h3M102 30.5h4M19 31.5h5M34 31.5h3M71 31.5h1M83 31.5h1M86 31.5h1M95 31.5h1M103 31.5h5M18 32.5h2M23 32.5h3M64 32.5h1M83 32.5h3M105 32.5h3M19 33.5h1M22 33.5h2M25 33.5h2M35 33.5h1M84 33.5h1M94 33.5h3M104 33.5h3M19 34.5h1M21 34.5h3M25 34.5h1M28 34.5h1M84 34.5h4M105 34.5h2M12 35.5h1M21 35.5h4M27 35.5h1M85 35.5h1M87 35.5h3M98 35.5h1M105 35.5h2M9 36.5h4M25 36.5h2M87 36.5h4M105 36.5h3M8 37.5h4M25 37.5h3M81 37.5h2M88 37.5h1M90 37.5h1M93 37.5h1M97 37.5h1M8 38.5h1M12 38.5h1M24 38.5h3M81 38.5h2M87 38.5h4M92 38.5h2M95 38.5h3M99 38.5h1M106 38.5h1M6 39.5h3M22 39.5h3M84 39.5h1M88 39.5h8M98 39.5h4M19 40.5h1M21 40.5h4M82 40.5h3M86 40.5h1M91 40.5h4M97 40.5h2M101 40.5h3M7 41.5h1M19 41.5h1M23 41.5h1M86 41.5h4M91 41.5h5M97 41.5h1M99 41.5h2M102 41.5h1M109 41.5h2M19 42.5h2M23 42.5h2M86 42.5h4M93 42.5h4M98 42.5h3M102 42.5h2M109 42.5h1M3 43.5h2M18 43.5h3M24 43.5h2M87 43.5h1M89 43.5h1M94 43.5h1M100 43.5h2M103 43.5h1M110 43.5h2M3 44.5h1M17 44.5h9M87 44.5h3M94 44.5h1M101 44.5h1M110 44.5h1M1 45.5h2M16 45.5h4M23 45.5h2M85 45.5h1M87 45.5h1M89 45.5h2M109 45.5h3M2 46.5h2M15 46.5h2M18 46.5h2M24 46.5h1M87 46.5h3M109 46.5h1M111 46.5h1M116 46.5h1M15 47.5h6M87 47.5h1M89 47.5h1M105 47.5h1M110 47.5h1M16 48.5h1M18 48.5h3M88 48.5h1M90 48.5h2M105 48.5h1M116 48.5h2M20 49.5h2M87 49.5h4M111 49.5h1M115 49.5h3M18 50.5h3M88 50.5h3M111 50.5h1M116 50.5h2M18 51.5h3M88 51.5h4M106 51.5h1M110 51.5h2M114 51.5h4M15 52.5h1M18 52.5h3M89 52.5h3M107 52.5h3M114 52.5h4M17 53.5h1M90 53.5h3M105 53.5h3M109 53.5h2M113 53.5h1M116 53.5h1M9 54.5h1M16 54.5h1M89 54.5h1M93 54.5h3M98 54.5h2M105 54.5h3M109 54.5h2M113 54.5h3M16 55.5h1M87 55.5h7M98 55.5h1M105 55.5h3M109 55.5h1M111 55.5h3M117 55.5h1M16 56.5h1M87 56.5h7M105 56.5h10M13 57.5h1M16 57.5h2M89 57.5h2M104 57.5h4M109 57.5h4M119 57.5h1M16 58.5h3M25 58.5h1M89 58.5h4M102 58.5h4M107 58.5h6M116 58.5h1M118 58.5h1M10 59.5h2M17 59.5h2M89 59.5h2M95 59.5h1M103 59.5h1M105 59.5h7M18 60.5h1M89 60.5h1M91 60.5h2M94 60.5h3M98 60.5h2M103 60.5h3M107 60.5h5M113 60.5h1M4 61.5h1M17 61.5h6M88 61.5h5M94 61.5h12M109 61.5h6M4 62.5h1M16 62.5h3M20 62.5h3M88 62.5h3M93 62.5h8M102 62.5h3M109 62.5h5M3 63.5h1M16 63.5h8M89 63.5h2M93 63.5h13M110 63.5h4M3 64.5h1M11 64.5h2M14 64.5h4M19 64.5h2M87 64.5h1M89 64.5h1M93 64.5h5M99 64.5h6M14 65.5h4M19 65.5h2M25 65.5h1M87 65.5h1M89 65.5h1M93 65.5h8M104 65.5h6M11 66.5h1M13 66.5h6M22 66.5h3M86 66.5h1M93 66.5h5M102 66.5h8M13 67.5h1M16 67.5h2M21 67.5h2M86 67.5h1M92 67.5h1M94 67.5h1M100 67.5h4M106 67.5h3M14 68.5h1M21 68.5h3M86 68.5h1M92 68.5h6M100 68.5h6M107 68.5h3M6 69.5h1M14 69.5h2M19 69.5h3M82 69.5h1M85 69.5h3M91 69.5h11M104 69.5h6M16 70.5h1M20 70.5h3M24 70.5h1M86 70.5h2M90 70.5h4M95 70.5h5M101 70.5h9M6 71.5h1M9 71.5h1M14 71.5h2M17 71.5h6M24 71.5h2M85 71.5h1M87 71.5h1M89 71.5h4M95 71.5h4M100 71.5h1M103 71.5h2M6 72.5h4M13 72.5h13M93 72.5h5M103 72.5h2M109 72.5h1M6 73.5h10M18 73.5h2M22 73.5h4M85 73.5h2M92 73.5h4M101 73.5h5M109 73.5h1M5 74.5h1M8 74.5h1M10 74.5h7M20 74.5h1M23 74.5h3M84 74.5h3M92 74.5h5M102 74.5h2M5 75.5h1M10 75.5h3M15 75.5h2M20 75.5h1M22 75.5h4M84 75.5h2M91 75.5h1M94 75.5h1M101 75.5h3M8 76.5h5M17 76.5h3M21 76.5h1M23 76.5h3M79 76.5h1M83 76.5h1M85 76.5h2M91 76.5h6M98 76.5h1M100 76.5h1M102 76.5h1M5 77.5h2M8 77.5h4M18 77.5h2M21 77.5h3M25 77.5h1M79 77.5h1M83 77.5h3M87 77.5h5M93 77.5h4M98 77.5h3M102 77.5h1M5 78.5h1M11 78.5h1M18 78.5h2M21 78.5h4M84 78.5h1M86 78.5h7M94 78.5h3M101 78.5h2M7 79.5h1M19 79.5h1M22 79.5h2M84 79.5h3M88 79.5h3M94 79.5h1M100 79.5h1M6 80.5h2M19 80.5h3M83 80.5h4M88 80.5h2M91 80.5h5M99 80.5h1M4 81.5h4M20 81.5h1M85 81.5h5M91 81.5h2M98 81.5h1M100 81.5h1M19 82.5h1M24 82.5h1M82 82.5h6M91 82.5h3M98 82.5h1M14 83.5h2M19 83.5h1M24 83.5h2M82 83.5h2M86 83.5h3M91 83.5h1M98 83.5h1M14 84.5h2M19 84.5h3M83 84.5h1M85 84.5h4M92 84.5h1M14 85.5h3M20 85.5h4M25 85.5h2M75 85.5h2M83 85.5h1M85 85.5h1M88 85.5h1M90 85.5h3M16 86.5h2M23 86.5h3M29 86.5h2M37 86.5h1M73 86.5h4M83 86.5h1M85 86.5h2M88 86.5h4M24 87.5h4M30 87.5h1M37 87.5h2M73 87.5h1M77 87.5h1M81 87.5h5M90 87.5h1M24 88.5h2M27 88.5h2M32 88.5h4M77 88.5h1M81 88.5h2M87 88.5h2M90 88.5h1M92 88.5h1M27 89.5h3M32 89.5h4M89 89.5h2M92 89.5h1M26 90.5h3M30 90.5h3M34 90.5h2M77 90.5h3M82 90.5h2M89 90.5h1M91 90.5h1M93 90.5h3M23 91.5h1M27 91.5h3M31 91.5h3M71 91.5h1M73 91.5h2M76 91.5h1M82 91.5h2M86 91.5h3M91 91.5h2M107 91.5h1M26 92.5h3M30 92.5h1M32 92.5h4M71 92.5h1M73 92.5h1M77 92.5h2M91 92.5h5M103 92.5h1M24 93.5h2M31 93.5h4M79 93.5h1M85 93.5h3M89 93.5h2M94 93.5h1M96 93.5h1M18 94.5h2M24 94.5h2M29 94.5h4M35 94.5h1M47 94.5h2M66 94.5h1M86 94.5h2M89 94.5h1M17 95.5h2M25 95.5h4M33 95.5h2M49 95.5h1M66 95.5h2M87 95.5h2M27 96.5h4M34 96.5h1M45 96.5h1M48 96.5h1M51 96.5h1M62 96.5h3M66 96.5h2M77 96.5h1M84 96.5h5M93 96.5h1M95 96.5h1M29 97.5h6M43 97.5h2M48 97.5h1M50 97.5h3M58 97.5h1M62 97.5h8M73 97.5h1M75 97.5h4M82 97.5h2M85 97.5h1M29 98.5h1M31 98.5h7M39 98.5h2M48 98.5h2M51 98.5h2M56 98.5h1M61 98.5h1M64 98.5h1M66 98.5h2M70 98.5h2M73 98.5h4M78 98.5h5M93 98.5h2M31 99.5h1M35 99.5h1M37 99.5h1M39 99.5h3M47 99.5h1M50 99.5h2M59 99.5h6M68 99.5h4M76 99.5h3M80 99.5h1M30 100.5h1M33 100.5h7M41 100.5h1M45 100.5h1M47 100.5h2M51 100.5h2M55 100.5h3M59 100.5h2M62 100.5h2M66 100.5h7M75 100.5h2M78 100.5h3M30 101.5h5M36 101.5h2M39 101.5h2M42 101.5h1M46 101.5h3M52 101.5h4M59 101.5h1M61 101.5h4M68 101.5h2M76 101.5h1M79 101.5h3M32 102.5h5M43 102.5h3M47 102.5h1M52 102.5h2M55 102.5h1M62 102.5h8M73 102.5h1M76 102.5h5M84 102.5h3M36 103.5h6M43 103.5h3M61 103.5h9M72 103.5h5M78 103.5h3M37 104.5h1M42 104.5h6M49 104.5h1M61 104.5h3M67 104.5h3M72 104.5h2M75 104.5h2M84 104.5h1M38 105.5h1M43 105.5h5M49 105.5h2M58 105.5h1M61 105.5h3M65 105.5h9M43 106.5h2M46 106.5h1M49 106.5h2M53 106.5h1M61 106.5h2M65 106.5h7M44 107.5h3M48 107.5h4M61 107.5h3M65 107.5h4M40 108.5h1M58 108.5h1M60 108.5h2M63 108.5h3M68 108.5h1M40 109.5h1M59 109.5h3M63 109.5h4M41 110.5h1M62 110.5h5M53 111.5h1M56 111.5h1M58 111.5h1M65 111.5h2M73 111.5h1M52 112.5h7M51 113.5h2M55 113.5h2M51 114.5h6M52 115.5h2M56 115.5h1M70 116.5h1"/><path stroke="#cc99cc" d="M22 1.5h2M113 2.5h1M116 2.5h1M5 3.5h1M116 3.5h1M118 3.5h1M0 8.5h1M22 9.5h1M119 9.5h1M7 10.5h1M21 10.5h1M118 10.5h1M6 11.5h1M17 11.5h1M8 12.5h2M118 12.5h1M6 15.5h1M11 15.5h1M1 16.5h1M2 19.5h1M117 104.5h1M3 106.5h1M11 107.5h1M14 107.5h1M12 108.5h1M13 109.5h1M111 109.5h1M115 109.5h1M3 110.5h1M103 111.5h1M119 111.5h1M101 112.5h2M109 112.5h1M112 112.5h1M12 113.5h1M5 114.5h1M106 114.5h1M6 115.5h1M23 115.5h1M97 115.5h1M104 115.5h1M17 116.5h1M113 116.5h1M6 117.5h1M103 117.5h1M112 117.5h1M116 117.5h1M6 118.5h1M8 119.5h1M19 119.5h1M100 119.5h1M109 119.5h1"/><path stroke="#00ccff" d="M66 10.5h1M55 13.5h1M58 13.5h1M53 14.5h3M59 14.5h1M67 14.5h2M55 15.5h2M59 15.5h2M68 15.5h3M52 16.5h1M55 16.5h1M57 16.5h5M68 16.5h1M70 16.5h2M99 16.5h1M52 17.5h4M59 17.5h4M68 17.5h2M71 17.5h2M83 17.5h2M97 17.5h1M99 17.5h1M55 18.5h2M59 18.5h1M61 18.5h3M68 18.5h2M71 18.5h2M83 18.5h2M55 19.5h15M71 19.5h2M83 19.5h3M54 20.5h9M64 20.5h6M72 20.5h1M84 20.5h2M54 21.5h1M59 21.5h3M65 21.5h4M71 21.5h1M77 21.5h1M50 22.5h5M59 22.5h3M66 22.5h1M68 22.5h2M72 22.5h1M45 23.5h1M49 23.5h6M58 23.5h4M68 23.5h1M72 23.5h1M74 23.5h1M78 23.5h1M99 23.5h1M106 23.5h1M44 24.5h2M47 24.5h3M53 24.5h2M56 24.5h6M73 24.5h6M101 24.5h1M106 24.5h1M26 25.5h1M37 25.5h1M42 25.5h1M47 25.5h2M53 25.5h2M56 25.5h2M59 25.5h1M62 25.5h1M72 25.5h1M74 25.5h3M78 25.5h1M102 25.5h1M106 25.5h2M24 26.5h1M26 26.5h4M31 26.5h2M37 26.5h1M55 26.5h6M63 26.5h2M68 26.5h1M71 26.5h2M75 26.5h5M101 26.5h2M25 27.5h2M28 27.5h2M37 27.5h2M40 27.5h2M43 27.5h1M57 27.5h2M62 27.5h3M67 27.5h1M69 27.5h2M74 27.5h1M78 27.5h3M102 27.5h1M25 28.5h2M28 28.5h3M39 28.5h5M57 28.5h1M60 28.5h4M65 28.5h1M69 28.5h2M72 28.5h8M89 28.5h1M26 29.5h7M37 29.5h2M58 29.5h5M65 29.5h2M69 29.5h1M72 29.5h2M76 29.5h3M81 29.5h1M92 29.5h1M104 29.5h1M26 30.5h4M31 30.5h2M38 30.5h2M58 30.5h5M64 30.5h2M70 30.5h12M25 31.5h6M33 31.5h1M37 31.5h3M41 31.5h1M58 31.5h3M63 31.5h2M72 31.5h3M82 31.5h1M20 32.5h3M26 32.5h3M30 32.5h1M34 32.5h5M40 32.5h3M58 32.5h1M62 32.5h2M73 32.5h1M79 32.5h4M20 33.5h2M27 33.5h2M36 33.5h2M42 33.5h1M60 33.5h1M62 33.5h2M73 33.5h2M83 33.5h1M20 34.5h1M29 34.5h1M35 34.5h2M41 34.5h2M60 34.5h2M63 34.5h1M73 34.5h2M83 34.5h1M28 35.5h2M35 35.5h1M60 35.5h4M73 35.5h2M83 35.5h2M86 35.5h1M27 36.5h4M63 36.5h1M66 36.5h2M74 36.5h1M81 36.5h1M84 36.5h3M28 37.5h3M83 37.5h5M27 38.5h4M65 38.5h1M67 38.5h3M83 38.5h4M25 39.5h4M67 39.5h1M81 39.5h3M85 39.5h3M25 40.5h1M62 40.5h1M81 40.5h1M85 40.5h1M87 40.5h4M99 40.5h2M24 41.5h1M82 41.5h4M90 41.5h1M96 41.5h1M98 41.5h1M101 41.5h1M25 42.5h1M82 42.5h1M85 42.5h1M101 42.5h1M85 43.5h2M88 43.5h1M102 43.5h1M85 44.5h2M20 45.5h3M25 45.5h1M86 45.5h1M88 45.5h1M20 46.5h4M25 46.5h1M84 46.5h3M110 46.5h1M21 47.5h1M23 47.5h2M85 47.5h2M21 48.5h1M23 48.5h1M85 48.5h3M22 49.5h2M86 49.5h1M21 50.5h3M87 50.5h1M21 51.5h2M86 51.5h2M21 52.5h2M83 52.5h6M18 53.5h6M81 53.5h1M84 53.5h6M108 53.5h1M114 53.5h1M17 54.5h3M22 54.5h2M81 54.5h1M84 54.5h5M90 54.5h3M108 54.5h1M17 55.5h2M22 55.5h2M85 55.5h2M108 55.5h1M17 56.5h1M23 56.5h1M18 57.5h2M21 57.5h1M23 57.5h1M25 57.5h1M88 57.5h1M19 58.5h2M24 58.5h1M88 58.5h1M106 58.5h1M19 59.5h4M88 59.5h1M104 59.5h1M19 60.5h5M25 60.5h1M87 60.5h2M23 61.5h3M69 61.5h1M80 61.5h1M86 61.5h2M93 61.5h1M19 62.5h1M23 62.5h3M68 62.5h1M85 62.5h3M24 63.5h3M86 63.5h3M25 64.5h2M86 64.5h1M88 64.5h1M98 64.5h1M86 65.5h1M25 66.5h1M85 66.5h1M23 67.5h2M85 67.5h1M95 67.5h3M24 68.5h2M82 68.5h1M85 68.5h1M22 69.5h4M81 69.5h1M83 69.5h2M102 69.5h2M25 70.5h1M80 70.5h3M84 70.5h2M100 70.5h1M80 71.5h2M83 71.5h1M86 71.5h1M99 71.5h1M101 71.5h2M26 72.5h1M82 72.5h5M98 72.5h5M16 73.5h2M20 73.5h2M26 73.5h1M82 73.5h3M96 73.5h3M100 73.5h1M9 74.5h1M17 74.5h3M21 74.5h2M26 74.5h1M79 74.5h1M81 74.5h3M97 74.5h5M17 75.5h3M21 75.5h1M26 75.5h1M79 75.5h5M92 75.5h2M95 75.5h6M20 76.5h1M22 76.5h1M77 76.5h2M80 76.5h3M84 76.5h1M97 76.5h1M99 76.5h1M101 76.5h1M20 77.5h1M24 77.5h1M78 77.5h1M80 77.5h3M92 77.5h1M101 77.5h1M25 78.5h2M79 78.5h5M24 79.5h2M83 79.5h1M91 79.5h2M22 80.5h4M80 80.5h1M90 80.5h1M21 81.5h5M73 81.5h1M82 81.5h3M90 81.5h1M20 82.5h1M25 82.5h3M47 82.5h1M73 82.5h2M88 82.5h3M20 83.5h2M23 83.5h1M26 83.5h3M73 83.5h3M81 83.5h1M84 83.5h2M89 83.5h2M22 84.5h7M30 84.5h1M71 84.5h6M82 84.5h1M84 84.5h1M89 84.5h3M24 85.5h1M27 85.5h4M33 85.5h2M36 85.5h1M71 85.5h4M81 85.5h2M89 85.5h1M26 86.5h3M32 86.5h5M38 86.5h1M70 86.5h3M77 86.5h2M80 86.5h3M28 87.5h2M31 87.5h6M39 87.5h2M67 87.5h6M74 87.5h3M78 87.5h3M88 87.5h2M29 88.5h3M36 88.5h5M42 88.5h1M69 88.5h8M78 88.5h3M89 88.5h1M30 89.5h2M36 89.5h7M71 89.5h1M73 89.5h1M75 89.5h7M29 90.5h1M36 90.5h3M71 90.5h6M80 90.5h2M90 90.5h1M92 90.5h1M30 91.5h1M34 91.5h4M40 91.5h1M58 91.5h2M62 91.5h1M72 91.5h1M75 91.5h1M77 91.5h5M89 91.5h2M29 92.5h1M31 92.5h1M36 92.5h1M55 92.5h2M58 92.5h2M63 92.5h1M66 92.5h1M69 92.5h2M72 92.5h1M74 92.5h3M79 92.5h12M26 93.5h5M35 93.5h2M48 93.5h1M55 93.5h6M62 93.5h6M69 93.5h2M74 93.5h3M78 93.5h1M80 93.5h5M88 93.5h1M26 94.5h3M36 94.5h3M45 94.5h2M49 94.5h1M56 94.5h10M67 94.5h3M74 94.5h1M76 94.5h5M83 94.5h3M88 94.5h1M35 95.5h3M44 95.5h5M50 95.5h3M58 95.5h3M62 95.5h4M68 95.5h3M73 95.5h7M85 95.5h2M33 96.5h1M35 96.5h5M42 96.5h1M44 96.5h1M46 96.5h2M52 96.5h2M58 96.5h4M65 96.5h1M68 96.5h3M72 96.5h5M78 96.5h2M83 96.5h1M35 97.5h6M42 97.5h1M45 97.5h3M53 97.5h2M57 97.5h1M59 97.5h1M61 97.5h1M70 97.5h3M74 97.5h1M79 97.5h3M38 98.5h1M41 98.5h7M53 98.5h3M57 98.5h4M68 98.5h2M72 98.5h1M32 99.5h3M38 99.5h1M42 99.5h5M52 99.5h7M67 99.5h1M72 99.5h4M79 99.5h1M31 100.5h2M42 100.5h3M46 100.5h1M54 100.5h1M73 100.5h2M77 100.5h1M38 101.5h1M43 101.5h3M70 101.5h6M77 101.5h2M70 102.5h3M74 102.5h2M70 103.5h2M64 104.5h3M70 104.5h2M64 105.5h1M45 106.5h1M63 106.5h2M64 107.5h1M62 108.5h1M62 109.5h1M53 113.5h2"/><path stroke="#00cccc" d="M53 15.5h2M53 16.5h2M69 16.5h1M70 17.5h1M60 18.5h1M70 19.5h1M63 20.5h1M70 20.5h2M55 21.5h2M58 21.5h1M62 21.5h1M64 21.5h1M70 21.5h1M58 22.5h1M62 22.5h2M65 22.5h1M67 22.5h1M70 22.5h2M62 23.5h2M67 23.5h1M69 23.5h3M50 24.5h3M55 24.5h1M67 24.5h2M70 24.5h1M45 25.5h2M58 25.5h1M63 25.5h2M69 25.5h1M71 25.5h1M77 25.5h1M47 26.5h2M52 26.5h1M54 26.5h1M65 26.5h3M69 26.5h1M44 27.5h1M51 27.5h1M56 27.5h1M65 27.5h2M68 27.5h1M75 27.5h3M44 28.5h1M53 28.5h1M56 28.5h1M66 28.5h1M68 28.5h1M39 29.5h2M50 29.5h1M56 29.5h2M79 29.5h2M30 30.5h1M40 30.5h1M51 30.5h1M57 30.5h1M40 31.5h1M42 31.5h1M57 31.5h1M61 31.5h2M70 31.5h1M75 31.5h1M77 31.5h5M29 32.5h1M39 32.5h1M43 32.5h1M51 32.5h1M59 32.5h3M71 32.5h2M74 32.5h2M78 32.5h1M29 33.5h1M34 33.5h1M38 33.5h1M40 33.5h2M43 33.5h1M52 33.5h1M59 33.5h1M64 33.5h1M75 33.5h1M79 33.5h1M82 33.5h1M33 34.5h2M37 34.5h4M50 34.5h2M62 34.5h1M64 34.5h2M68 34.5h1M79 34.5h1M34 35.5h1M36 35.5h1M42 35.5h1M51 35.5h1M64 35.5h3M72 35.5h1M75 35.5h2M78 35.5h3M31 36.5h1M36 36.5h1M51 36.5h1M60 36.5h2M65 36.5h1M73 36.5h1M82 36.5h2M42 37.5h1M65 37.5h3M69 37.5h1M78 37.5h3M40 38.5h1M63 38.5h1M66 38.5h1M80 38.5h1M29 39.5h1M38 39.5h1M64 39.5h1M68 39.5h1M80 39.5h1M26 40.5h1M28 40.5h1M41 40.5h1M63 40.5h1M80 40.5h1M25 41.5h1M81 41.5h1M26 42.5h1M60 42.5h2M81 42.5h1M83 42.5h1M26 43.5h1M60 43.5h1M63 43.5h1M26 44.5h1M84 44.5h1M26 45.5h1M84 45.5h1M74 47.5h1M22 48.5h1M74 48.5h1M72 49.5h1M84 49.5h2M86 50.5h1M23 51.5h1M82 51.5h4M23 52.5h1M80 52.5h1M82 52.5h1M24 53.5h1M80 53.5h1M82 53.5h2M20 54.5h2M83 54.5h1M19 55.5h1M21 55.5h1M24 55.5h1M79 55.5h1M83 55.5h2M18 56.5h1M21 56.5h2M24 56.5h1M85 56.5h2M22 57.5h1M24 57.5h1M26 57.5h1M67 57.5h2M87 57.5h1M21 58.5h3M67 58.5h1M23 59.5h3M24 60.5h1M26 61.5h1M70 61.5h1M85 61.5h1M26 62.5h1M69 62.5h2M85 63.5h1M85 64.5h1M26 65.5h1M85 65.5h1M26 66.5h1M25 67.5h2M83 67.5h2M26 68.5h1M81 68.5h1M84 68.5h1M79 69.5h2M79 70.5h1M83 70.5h1M26 71.5h1M79 71.5h1M82 71.5h1M84 71.5h1M80 72.5h2M79 73.5h1M81 73.5h1M99 73.5h1M80 74.5h1M77 75.5h2M26 76.5h1M26 77.5h1M77 77.5h1M77 78.5h2M74 79.5h1M79 79.5h2M81 80.5h2M26 81.5h1M47 81.5h2M75 81.5h1M81 81.5h1M21 82.5h1M23 82.5h1M28 82.5h1M46 82.5h1M48 82.5h1M72 82.5h1M81 82.5h1M29 83.5h2M32 83.5h1M71 83.5h2M76 83.5h1M80 83.5h1M29 84.5h1M32 84.5h4M47 84.5h2M79 84.5h3M31 85.5h2M35 85.5h1M37 85.5h1M68 85.5h3M77 85.5h4M31 86.5h1M39 86.5h1M66 86.5h4M79 86.5h1M41 87.5h1M41 88.5h1M68 88.5h1M43 89.5h2M72 89.5h1M74 89.5h1M39 90.5h6M70 90.5h1M38 91.5h2M41 91.5h2M61 91.5h1M63 91.5h1M70 91.5h1M37 92.5h2M40 92.5h1M45 92.5h3M54 92.5h1M57 92.5h1M60 92.5h3M64 92.5h1M38 93.5h2M41 93.5h1M47 93.5h1M49 93.5h1M51 93.5h1M54 93.5h1M61 93.5h1M71 93.5h3M77 93.5h1M39 94.5h1M50 94.5h2M54 94.5h2M70 94.5h1M72 94.5h2M75 94.5h1M81 94.5h2M38 95.5h2M41 95.5h2M61 95.5h1M72 95.5h1M80 95.5h1M83 95.5h2M40 96.5h2M43 96.5h1M54 96.5h4M71 96.5h1M80 96.5h3M41 97.5h1M55 97.5h2M60 97.5h1M53 100.5h1"/><path stroke="#00ffcc" d="M70 18.5h1M57 21.5h1M63 21.5h1M55 22.5h3M64 22.5h1M55 23.5h3M64 23.5h3M62 24.5h5M69 24.5h1M71 24.5h2M49 25.5h4M55 25.5h1M65 25.5h4M70 25.5h1M45 26.5h2M49 26.5h3M53 26.5h1M70 26.5h1M45 27.5h6M52 27.5h4M45 28.5h8M54 28.5h2M67 28.5h1M41 29.5h5M47 29.5h3M51 29.5h5M67 29.5h2M41 30.5h5M47 30.5h4M54 30.5h3M66 30.5h4M31 31.5h2M43 31.5h1M47 31.5h3M51 31.5h1M56 31.5h1M65 31.5h1M68 31.5h2M76 31.5h1M31 32.5h3M44 32.5h2M48 32.5h3M52 32.5h2M56 32.5h2M65 32.5h1M67 32.5h4M76 32.5h2M30 33.5h1M32 33.5h2M39 33.5h1M44 33.5h8M53 33.5h1M57 33.5h2M61 33.5h1M65 33.5h1M67 33.5h6M76 33.5h3M80 33.5h2M30 34.5h3M43 34.5h2M47 34.5h3M52 34.5h2M57 34.5h3M66 34.5h2M69 34.5h4M75 34.5h4M80 34.5h3M30 35.5h4M37 35.5h5M43 35.5h1M47 35.5h4M52 35.5h2M58 35.5h2M67 35.5h5M77 35.5h1M81 35.5h2M32 36.5h4M37 36.5h2M40 36.5h4M45 36.5h2M48 36.5h3M52 36.5h2M59 36.5h1M62 36.5h1M64 36.5h1M68 36.5h5M75 36.5h6M31 37.5h11M43 37.5h1M47 37.5h1M49 37.5h1M51 37.5h2M54 37.5h1M58 37.5h1M60 37.5h5M68 37.5h1M70 37.5h5M76 37.5h2M31 38.5h1M33 38.5h7M41 38.5h3M47 38.5h1M51 38.5h1M61 38.5h2M64 38.5h1M70 38.5h3M75 38.5h5M30 39.5h2M33 39.5h5M39 39.5h5M46 39.5h2M51 39.5h3M61 39.5h3M65 39.5h2M69 39.5h5M75 39.5h1M78 39.5h2M27 40.5h1M29 40.5h3M33 40.5h1M36 40.5h1M38 40.5h3M42 40.5h5M50 40.5h6M58 40.5h4M64 40.5h6M71 40.5h1M73 40.5h2M79 40.5h1M26 41.5h2M31 41.5h1M36 41.5h1M40 41.5h4M45 41.5h2M49 41.5h7M58 41.5h8M75 41.5h1M80 41.5h1M27 42.5h1M43 42.5h4M51 42.5h1M56 42.5h4M62 42.5h2M71 42.5h1M73 42.5h1M78 42.5h3M84 42.5h1M27 43.5h1M35 43.5h1M43 43.5h1M45 43.5h1M57 43.5h3M61 43.5h2M71 43.5h2M76 43.5h2M79 43.5h6M27 44.5h1M58 44.5h3M62 44.5h2M70 44.5h3M76 44.5h2M82 44.5h2M27 45.5h1M69 45.5h9M83 45.5h1M26 46.5h1M69 46.5h1M71 46.5h9M83 46.5h1M22 47.5h1M25 47.5h1M67 47.5h2M70 47.5h4M75 47.5h10M24 48.5h2M48 48.5h1M68 48.5h1M70 48.5h4M75 48.5h10M24 49.5h2M48 49.5h2M60 49.5h1M66 49.5h2M69 49.5h1M71 49.5h1M73 49.5h11M24 50.5h1M48 50.5h1M56 50.5h1M58 50.5h3M72 50.5h3M76 50.5h10M34 51.5h1M59 51.5h1M71 51.5h1M77 51.5h5M24 52.5h2M34 52.5h1M53 52.5h3M59 52.5h5M69 52.5h1M75 52.5h1M78 52.5h2M81 52.5h1M53 53.5h1M61 53.5h2M77 53.5h3M24 54.5h2M52 54.5h3M77 54.5h4M82 54.5h1M20 55.5h1M25 55.5h1M52 55.5h3M60 55.5h1M78 55.5h1M80 55.5h3M19 56.5h2M25 56.5h2M50 56.5h1M52 56.5h4M66 56.5h4M75 56.5h4M80 56.5h5M20 57.5h1M50 57.5h1M53 57.5h2M66 57.5h1M75 57.5h8M26 58.5h2M46 58.5h1M48 58.5h3M66 58.5h1M68 58.5h2M74 58.5h6M81 58.5h2M87 58.5h1M26 59.5h1M49 59.5h1M66 59.5h5M73 59.5h5M79 59.5h2M82 59.5h1M86 59.5h2M26 60.5h2M66 60.5h10M77 60.5h2M80 60.5h2M83 60.5h1M86 60.5h1M27 61.5h1M66 61.5h3M71 61.5h3M77 61.5h2M81 61.5h4M27 62.5h1M66 62.5h2M71 62.5h3M77 62.5h2M80 62.5h2M84 62.5h1M27 63.5h1M68 63.5h1M71 63.5h3M78 63.5h2M81 63.5h2M84 63.5h1M27 64.5h1M68 64.5h1M71 64.5h2M78 64.5h1M82 64.5h1M84 64.5h1M58 65.5h1M77 65.5h8M77 66.5h8M27 67.5h1M76 67.5h2M79 67.5h4M27 68.5h1M41 68.5h3M57 68.5h1M77 68.5h4M83 68.5h1M26 69.5h1M40 69.5h4M45 69.5h1M60 69.5h1M75 69.5h1M77 69.5h2M26 70.5h1M42 70.5h3M52 70.5h1M59 70.5h2M78 70.5h1M52 71.5h1M60 71.5h1M78 71.5h1M27 72.5h1M35 72.5h3M52 72.5h1M59 72.5h3M77 72.5h3M27 73.5h1M34 73.5h7M54 73.5h1M60 73.5h3M78 73.5h1M80 73.5h1M27 74.5h1M32 74.5h2M35 74.5h3M53 74.5h3M61 74.5h1M77 74.5h2M27 75.5h1M33 75.5h1M37 75.5h3M41 75.5h1M47 75.5h1M50 75.5h1M53 75.5h2M57 75.5h1M60 75.5h2M76 75.5h1M27 76.5h1M53 76.5h2M61 76.5h1M75 76.5h2M27 77.5h1M46 77.5h1M53 77.5h1M61 77.5h1M72 77.5h5M27 78.5h1M32 78.5h1M73 78.5h4M26 79.5h1M33 79.5h1M48 79.5h2M72 79.5h2M75 79.5h4M81 79.5h2M26 80.5h2M32 80.5h3M47 80.5h4M62 80.5h1M72 80.5h5M79 80.5h1M27 81.5h2M31 81.5h4M46 81.5h1M49 81.5h2M63 81.5h1M71 81.5h2M74 81.5h1M79 81.5h2M22 82.5h1M29 82.5h5M45 82.5h1M49 82.5h1M63 82.5h1M70 82.5h2M75 82.5h6M22 83.5h1M31 83.5h1M33 83.5h2M40 83.5h1M45 83.5h7M64 83.5h1M70 83.5h1M77 83.5h3M31 84.5h1M36 84.5h5M45 84.5h2M49 84.5h3M66 84.5h5M77 84.5h2M38 85.5h4M44 85.5h5M51 85.5h1M65 85.5h3M40 86.5h3M44 86.5h6M63 86.5h1M65 86.5h1M42 87.5h1M44 87.5h3M64 87.5h3M43 88.5h3M50 88.5h1M63 88.5h3M67 88.5h1M45 89.5h2M62 89.5h4M67 89.5h4M45 90.5h4M58 90.5h7M68 90.5h2M43 91.5h3M53 91.5h5M60 91.5h1M64 91.5h1M66 91.5h1M68 91.5h2M39 92.5h1M41 92.5h2M44 92.5h1M48 92.5h3M65 92.5h1M67 92.5h2M37 93.5h1M40 93.5h1M42 93.5h5M50 93.5h1M52 93.5h2M68 93.5h1M40 94.5h5M52 94.5h2M71 94.5h1M40 95.5h1M43 95.5h1M53 95.5h5M71 95.5h1M81 95.5h2"/><path stroke="#00ff88" d="M46 29.5h1M46 30.5h1M52 30.5h2M44 31.5h3M50 31.5h1M52 31.5h1M54 31.5h2M66 31.5h2M46 32.5h2M66 32.5h1M31 33.5h1M56 33.5h1M66 33.5h1M45 34.5h2M44 35.5h1M46 35.5h1M54 35.5h1M39 36.5h1M44 36.5h1M47 36.5h1M54 36.5h1M57 36.5h2M45 37.5h2M48 37.5h1M50 37.5h1M53 37.5h1M55 37.5h1M57 37.5h1M59 37.5h1M75 37.5h1M32 38.5h1M44 38.5h3M48 38.5h3M52 38.5h3M58 38.5h3M73 38.5h2M32 39.5h1M44 39.5h2M48 39.5h1M50 39.5h1M54 39.5h1M57 39.5h4M74 39.5h1M32 40.5h1M35 40.5h1M37 40.5h1M47 40.5h3M56 40.5h1M70 40.5h1M72 40.5h1M75 40.5h1M78 40.5h1M28 41.5h1M32 41.5h4M38 41.5h2M44 41.5h1M47 41.5h2M56 41.5h2M66 41.5h1M70 41.5h2M73 41.5h2M77 41.5h3M31 42.5h1M37 42.5h1M41 42.5h2M47 42.5h3M52 42.5h4M64 42.5h2M72 42.5h1M74 42.5h4M34 43.5h1M42 43.5h1M44 43.5h1M46 43.5h1M48 43.5h1M51 43.5h1M55 43.5h1M65 43.5h1M70 43.5h1M75 43.5h1M78 43.5h1M42 44.5h2M57 44.5h1M61 44.5h1M64 44.5h2M69 44.5h1M73 44.5h3M78 44.5h4M62 45.5h3M79 45.5h1M81 45.5h2M27 46.5h1M34 46.5h1M67 46.5h2M70 46.5h1M80 46.5h3M26 47.5h1M50 47.5h2M54 47.5h2M66 47.5h1M69 47.5h1M26 48.5h1M47 48.5h1M49 48.5h4M55 48.5h1M58 48.5h1M67 48.5h1M46 49.5h1M50 49.5h1M56 49.5h4M68 49.5h1M70 49.5h1M25 50.5h1M35 50.5h2M49 50.5h2M55 50.5h1M57 50.5h1M61 50.5h1M65 50.5h7M75 50.5h1M24 51.5h2M46 51.5h1M50 51.5h1M55 51.5h1M57 51.5h2M60 51.5h2M69 51.5h2M73 51.5h2M76 51.5h1M46 52.5h1M50 52.5h2M56 52.5h1M70 52.5h1M72 52.5h2M76 52.5h2M25 53.5h1M51 53.5h2M54 53.5h2M63 53.5h1M69 53.5h2M75 53.5h1M51 54.5h1M55 54.5h2M60 54.5h1M62 54.5h3M66 54.5h2M70 54.5h1M49 55.5h1M51 55.5h1M55 55.5h3M62 55.5h1M66 55.5h2M69 55.5h1M76 55.5h1M51 56.5h1M56 56.5h1M74 56.5h1M79 56.5h1M46 57.5h4M51 57.5h1M55 57.5h2M65 57.5h1M69 57.5h1M74 57.5h1M86 57.5h1M45 58.5h1M65 58.5h1M70 58.5h2M73 58.5h1M80 58.5h1M86 58.5h1M27 59.5h1M46 59.5h3M50 59.5h2M71 59.5h2M78 59.5h1M81 59.5h1M83 59.5h2M36 60.5h1M42 60.5h1M50 60.5h3M65 60.5h1M76 60.5h1M79 60.5h1M82 60.5h1M84 60.5h2M37 61.5h1M42 61.5h1M50 61.5h2M56 61.5h1M75 61.5h2M79 61.5h1M56 62.5h1M65 62.5h1M74 62.5h1M76 62.5h1M79 62.5h1M82 62.5h2M37 63.5h1M53 63.5h1M55 63.5h1M66 63.5h2M69 63.5h2M74 63.5h1M76 63.5h2M80 63.5h1M83 63.5h1M44 64.5h1M58 64.5h2M61 64.5h1M69 64.5h2M73 64.5h2M80 64.5h2M83 64.5h1M27 65.5h1M56 65.5h1M59 65.5h1M68 65.5h1M71 65.5h1M44 66.5h1M57 66.5h1M62 66.5h1M66 66.5h3M71 66.5h1M76 66.5h1M42 67.5h2M57 67.5h1M61 67.5h1M66 67.5h1M75 67.5h1M78 67.5h1M40 68.5h1M44 68.5h1M56 68.5h1M59 68.5h2M74 68.5h1M76 68.5h1M27 69.5h1M44 69.5h1M50 69.5h1M52 69.5h1M58 69.5h1M61 69.5h1M74 69.5h1M76 69.5h1M40 70.5h1M45 70.5h3M50 70.5h2M61 70.5h1M76 70.5h1M32 71.5h1M37 71.5h2M44 71.5h1M47 71.5h2M51 71.5h1M53 71.5h1M59 71.5h1M61 71.5h1M74 71.5h1M32 72.5h3M38 72.5h5M46 72.5h1M49 72.5h1M51 72.5h1M31 73.5h3M49 73.5h2M52 73.5h2M55 73.5h1M59 73.5h1M69 73.5h1M71 73.5h2M77 73.5h1M31 74.5h1M34 74.5h1M38 74.5h2M41 74.5h2M47 74.5h1M49 74.5h1M52 74.5h1M56 74.5h1M59 74.5h2M71 74.5h3M76 74.5h1M34 75.5h1M36 75.5h1M40 75.5h1M42 75.5h1M44 75.5h1M49 75.5h1M51 75.5h2M56 75.5h1M58 75.5h1M71 75.5h5M33 76.5h1M39 76.5h3M46 76.5h2M50 76.5h1M52 76.5h1M55 76.5h1M58 76.5h3M63 76.5h1M71 76.5h1M73 76.5h2M41 77.5h1M43 77.5h1M47 77.5h2M52 77.5h1M54 77.5h3M60 77.5h1M33 78.5h2M41 78.5h4M46 78.5h3M50 78.5h2M61 78.5h2M72 78.5h1M27 79.5h1M32 79.5h1M34 79.5h1M47 79.5h1M50 79.5h1M61 79.5h4M31 80.5h1M35 80.5h1M46 80.5h1M63 80.5h2M71 80.5h1M77 80.5h2M29 81.5h2M41 81.5h5M62 81.5h1M64 81.5h1M76 81.5h3M34 82.5h1M36 82.5h1M41 82.5h4M58 82.5h2M62 82.5h1M64 82.5h1M67 82.5h1M35 83.5h1M37 83.5h3M41 83.5h1M44 83.5h1M53 83.5h2M62 83.5h2M65 83.5h1M68 83.5h2M41 84.5h4M53 84.5h4M58 84.5h2M63 84.5h3M42 85.5h1M49 85.5h2M53 85.5h3M61 85.5h1M63 85.5h2M50 86.5h5M56 86.5h1M62 86.5h1M64 86.5h1M43 87.5h1M47 87.5h3M54 87.5h1M63 87.5h1M46 88.5h2M49 88.5h1M51 88.5h1M66 88.5h1M47 89.5h1M54 89.5h4M60 89.5h1M66 89.5h1M53 90.5h1M55 90.5h3M65 90.5h3M46 91.5h3M65 91.5h1M67 91.5h1M43 92.5h1M51 92.5h1M53 92.5h1"/><path stroke="#00ff77" d="M53 31.5h1M54 32.5h2M54 33.5h2M54 34.5h1M56 34.5h1M45 35.5h1M56 35.5h2M55 36.5h2M44 37.5h1M56 37.5h1M55 38.5h3M49 39.5h1M55 39.5h2M77 39.5h1M34 40.5h1M57 40.5h1M30 41.5h1M37 41.5h1M67 41.5h3M72 41.5h1M76 41.5h1M28 42.5h1M32 42.5h5M38 42.5h1M50 42.5h1M67 42.5h4M28 43.5h1M36 43.5h1M41 43.5h1M47 43.5h1M50 43.5h1M53 43.5h1M56 43.5h1M64 43.5h1M67 43.5h2M73 43.5h1M28 44.5h1M33 44.5h4M41 44.5h1M55 44.5h1M66 44.5h3M36 45.5h1M42 45.5h2M54 45.5h1M61 45.5h1M65 45.5h4M78 45.5h1M80 45.5h1M54 46.5h2M63 46.5h4M33 47.5h2M48 47.5h2M52 47.5h2M56 47.5h1M58 47.5h1M65 47.5h1M34 48.5h1M36 48.5h1M45 48.5h2M53 48.5h2M56 48.5h2M59 48.5h1M65 48.5h2M69 48.5h1M26 49.5h1M34 49.5h3M47 49.5h1M51 49.5h1M61 49.5h1M65 49.5h1M26 50.5h1M46 50.5h2M51 50.5h2M26 51.5h1M33 51.5h1M35 51.5h1M42 51.5h2M45 51.5h1M47 51.5h3M51 51.5h2M54 51.5h1M56 51.5h1M62 51.5h7M72 51.5h1M75 51.5h1M26 52.5h1M33 52.5h1M35 52.5h2M41 52.5h2M47 52.5h2M52 52.5h1M57 52.5h2M64 52.5h5M71 52.5h1M74 52.5h1M42 53.5h1M46 53.5h2M59 53.5h2M66 53.5h3M71 53.5h4M76 53.5h1M26 54.5h1M45 54.5h1M49 54.5h2M57 54.5h3M61 54.5h1M65 54.5h1M68 54.5h2M72 54.5h5M26 55.5h1M43 55.5h2M48 55.5h1M50 55.5h1M58 55.5h2M61 55.5h1M63 55.5h3M68 55.5h1M74 55.5h2M77 55.5h1M27 56.5h1M47 56.5h3M57 56.5h2M60 56.5h1M65 56.5h1M27 57.5h1M45 57.5h1M52 57.5h1M63 57.5h2M70 57.5h1M73 57.5h1M83 57.5h1M85 57.5h1M28 58.5h1M35 58.5h2M47 58.5h1M51 58.5h4M58 58.5h1M64 58.5h1M72 58.5h1M83 58.5h1M85 58.5h1M35 59.5h2M45 59.5h1M52 59.5h1M54 59.5h1M65 59.5h1M85 59.5h1M28 60.5h1M37 60.5h1M43 60.5h1M46 60.5h4M53 60.5h2M56 60.5h1M58 60.5h1M36 61.5h1M48 61.5h2M52 61.5h2M61 61.5h2M65 61.5h1M74 61.5h1M37 62.5h1M39 62.5h1M42 62.5h2M49 62.5h6M59 62.5h3M75 62.5h1M44 63.5h1M54 63.5h1M56 63.5h7M75 63.5h1M37 64.5h1M43 64.5h1M45 64.5h2M55 64.5h2M60 64.5h1M62 64.5h1M66 64.5h2M75 64.5h1M77 64.5h1M79 64.5h1M38 65.5h1M44 65.5h2M55 65.5h1M57 65.5h1M60 65.5h3M66 65.5h2M69 65.5h2M72 65.5h2M75 65.5h2M27 66.5h1M42 66.5h1M45 66.5h1M56 66.5h1M58 66.5h2M61 66.5h1M65 66.5h1M69 66.5h2M72 66.5h4M40 67.5h2M44 67.5h2M48 67.5h1M56 67.5h1M59 67.5h2M62 67.5h1M67 67.5h1M74 67.5h1M39 68.5h1M45 68.5h6M58 68.5h1M61 68.5h2M65 68.5h1M73 68.5h1M75 68.5h1M38 69.5h2M46 69.5h1M48 69.5h2M51 69.5h1M57 69.5h1M59 69.5h1M62 69.5h1M65 69.5h1M27 70.5h1M34 70.5h1M37 70.5h3M41 70.5h1M48 70.5h1M53 70.5h1M58 70.5h1M62 70.5h1M74 70.5h2M77 70.5h1M27 71.5h1M36 71.5h1M40 71.5h4M45 71.5h2M49 71.5h2M54 71.5h1M58 71.5h1M72 71.5h2M75 71.5h3M31 72.5h1M43 72.5h3M47 72.5h2M50 72.5h1M53 72.5h3M58 72.5h1M62 72.5h1M72 72.5h5M41 73.5h3M46 73.5h1M48 73.5h1M51 73.5h1M56 73.5h3M63 73.5h2M68 73.5h1M70 73.5h1M73 73.5h1M76 73.5h1M40 74.5h1M43 74.5h2M48 74.5h1M50 74.5h2M57 74.5h2M62 74.5h2M65 74.5h2M69 74.5h2M74 74.5h1M31 75.5h2M35 75.5h1M43 75.5h1M46 75.5h1M48 75.5h1M55 75.5h1M59 75.5h1M62 75.5h4M70 75.5h1M32 76.5h1M37 76.5h2M42 76.5h4M48 76.5h2M51 76.5h1M56 76.5h2M62 76.5h1M64 76.5h1M69 76.5h2M72 76.5h1M32 77.5h2M39 77.5h2M42 77.5h1M45 77.5h1M50 77.5h2M57 77.5h3M62 77.5h3M69 77.5h1M31 78.5h1M40 78.5h1M45 78.5h1M49 78.5h1M52 78.5h4M60 78.5h1M63 78.5h1M35 79.5h1M40 79.5h4M51 79.5h1M54 79.5h1M56 79.5h1M65 79.5h1M41 80.5h1M43 80.5h3M51 80.5h2M57 80.5h1M61 80.5h1M65 80.5h2M35 81.5h1M39 81.5h2M51 81.5h2M54 81.5h4M59 81.5h1M61 81.5h1M65 81.5h1M70 81.5h1M35 82.5h1M37 82.5h1M39 82.5h2M50 82.5h2M54 82.5h3M60 82.5h2M65 82.5h2M68 82.5h1M36 83.5h1M42 83.5h2M52 83.5h1M55 83.5h7M66 83.5h2M52 84.5h1M57 84.5h1M60 84.5h1M62 84.5h1M43 85.5h1M52 85.5h1M57 85.5h1M59 85.5h2M62 85.5h1M43 86.5h1M55 86.5h1M61 86.5h1M50 87.5h2M53 87.5h1M55 87.5h1M62 87.5h1M48 88.5h1M52 88.5h5M62 88.5h1M48 89.5h3M53 89.5h1M58 89.5h2M61 89.5h1M49 90.5h4M54 90.5h1M49 91.5h3M52 92.5h1"/><path stroke="#00ff44" d="M55 34.5h1M55 35.5h1M76 39.5h1M76 40.5h2M29 41.5h1M40 42.5h1M66 42.5h1M31 43.5h3M37 43.5h1M49 43.5h1M52 43.5h1M54 43.5h1M66 43.5h1M69 43.5h1M74 43.5h1M31 44.5h2M37 44.5h1M40 44.5h1M44 44.5h3M51 44.5h1M56 44.5h1M28 45.5h1M32 45.5h3M53 45.5h1M55 45.5h1M59 45.5h2M32 46.5h2M35 46.5h1M38 46.5h1M53 46.5h1M56 46.5h1M38 47.5h1M44 47.5h4M57 47.5h1M63 47.5h2M35 48.5h1M37 48.5h2M44 48.5h1M60 48.5h1M44 49.5h2M52 49.5h4M27 50.5h1M33 50.5h2M44 50.5h1M53 50.5h1M62 50.5h1M64 50.5h1M36 51.5h2M44 51.5h1M53 51.5h1M44 52.5h2M49 52.5h1M41 53.5h1M48 53.5h3M56 53.5h1M58 53.5h1M64 53.5h1M42 54.5h1M46 54.5h1M48 54.5h1M71 54.5h1M45 55.5h1M70 55.5h1M73 55.5h1M45 56.5h2M61 56.5h3M70 56.5h1M57 57.5h1M59 57.5h1M61 57.5h1M71 57.5h1M84 57.5h1M55 58.5h3M28 59.5h1M43 59.5h1M53 59.5h1M55 60.5h1M64 60.5h1M38 61.5h1M43 61.5h2M54 61.5h1M57 61.5h2M64 61.5h1M36 62.5h1M38 62.5h1M41 62.5h1M48 62.5h1M57 62.5h2M62 62.5h1M64 62.5h1M36 63.5h1M38 63.5h1M42 63.5h2M45 63.5h1M51 63.5h2M64 63.5h2M36 64.5h1M42 64.5h1M57 64.5h1M63 64.5h3M76 64.5h1M36 65.5h1M43 65.5h1M46 65.5h1M63 65.5h3M74 65.5h1M43 66.5h1M55 66.5h1M60 66.5h1M63 66.5h2M39 67.5h1M46 67.5h2M58 67.5h1M63 67.5h3M68 67.5h1M70 67.5h4M53 68.5h1M63 68.5h2M66 68.5h1M47 69.5h1M53 69.5h1M56 69.5h1M63 69.5h2M73 69.5h1M32 70.5h2M49 70.5h1M54 70.5h1M57 70.5h1M72 70.5h2M28 71.5h1M30 71.5h2M33 71.5h3M39 71.5h1M55 71.5h1M62 71.5h1M66 71.5h2M28 72.5h1M30 72.5h1M57 72.5h1M65 72.5h1M68 72.5h1M44 73.5h1M47 73.5h1M65 73.5h1M67 73.5h1M74 73.5h2M28 74.5h1M75 74.5h1M28 75.5h1M45 75.5h1M69 75.5h1M34 76.5h3M65 76.5h1M67 76.5h2M31 77.5h1M34 77.5h1M44 77.5h1M49 77.5h1M70 77.5h1M35 78.5h1M56 78.5h4M64 78.5h3M28 79.5h1M31 79.5h1M44 79.5h1M46 79.5h1M55 79.5h1M57 79.5h1M60 79.5h1M71 79.5h1M28 80.5h2M40 80.5h1M42 80.5h1M56 80.5h1M59 80.5h1M67 80.5h1M36 81.5h1M53 81.5h1M58 81.5h1M66 81.5h2M38 82.5h1M52 82.5h1M57 82.5h1M69 82.5h1M61 84.5h1M56 85.5h1M58 85.5h1M60 86.5h1M52 87.5h1M56 87.5h1M57 88.5h1M52 89.5h1M52 91.5h1"/><path stroke="#44ff55" d="M29 42.5h2M39 42.5h1M30 43.5h1M40 43.5h1M47 44.5h2M54 44.5h1M31 45.5h1M35 45.5h1M37 45.5h1M41 45.5h1M44 45.5h1M51 45.5h1M56 45.5h1M58 45.5h1M36 46.5h2M43 46.5h1M50 46.5h3M57 46.5h2M62 46.5h1M27 47.5h1M32 47.5h1M35 47.5h2M39 47.5h1M59 47.5h1M27 48.5h1M33 48.5h1M61 48.5h1M32 49.5h2M37 49.5h1M62 49.5h1M32 50.5h1M37 50.5h1M39 50.5h1M43 50.5h1M45 50.5h1M54 50.5h1M63 50.5h1M27 51.5h1M32 51.5h1M41 51.5h1M32 52.5h1M39 52.5h1M43 52.5h1M26 53.5h1M33 53.5h2M43 53.5h3M57 53.5h1M65 53.5h1M43 54.5h2M47 54.5h1M46 55.5h2M72 55.5h1M44 56.5h1M59 56.5h1M64 56.5h1M73 56.5h1M28 57.5h1M33 57.5h4M44 57.5h1M58 57.5h1M60 57.5h1M62 57.5h1M34 58.5h1M59 58.5h1M62 58.5h1M84 58.5h1M34 59.5h1M42 59.5h1M44 59.5h1M55 59.5h1M58 59.5h1M60 59.5h2M64 59.5h1M35 60.5h1M41 60.5h1M45 60.5h1M57 60.5h1M60 60.5h3M28 61.5h1M39 61.5h1M41 61.5h1M47 61.5h1M55 61.5h1M59 61.5h2M63 61.5h1M28 62.5h1M40 62.5h1M47 62.5h1M55 62.5h1M63 62.5h1M39 63.5h1M48 63.5h1M50 63.5h1M63 63.5h1M38 64.5h1M47 64.5h3M53 64.5h2M37 65.5h1M47 65.5h1M50 65.5h1M38 66.5h1M46 66.5h2M28 67.5h1M49 67.5h2M55 67.5h1M69 67.5h1M28 68.5h1M38 68.5h1M51 68.5h1M54 68.5h2M72 68.5h1M28 69.5h1M32 69.5h1M34 69.5h1M54 69.5h1M66 69.5h1M31 70.5h1M35 70.5h2M55 70.5h2M63 70.5h1M67 70.5h1M29 71.5h1M57 71.5h1M63 71.5h3M56 72.5h1M63 72.5h1M66 72.5h2M69 72.5h1M28 73.5h1M30 73.5h1M45 73.5h1M66 73.5h1M30 74.5h1M45 74.5h2M64 74.5h1M67 74.5h2M30 75.5h1M66 75.5h2M28 76.5h1M30 76.5h2M66 76.5h1M35 77.5h1M65 77.5h2M68 77.5h1M71 77.5h1M28 78.5h1M39 78.5h1M67 78.5h5M29 79.5h2M45 79.5h1M52 79.5h2M58 79.5h2M66 79.5h1M30 80.5h1M36 80.5h1M39 80.5h1M53 80.5h1M55 80.5h1M58 80.5h1M60 80.5h1M70 80.5h1M37 81.5h2M60 81.5h1M68 81.5h2M53 82.5h1M57 86.5h3M57 87.5h1M58 88.5h1M60 88.5h2M51 89.5h1"/><path stroke="#aaff00" d="M29 43.5h1M29 44.5h1M38 44.5h2M53 44.5h1M30 45.5h1M38 45.5h2M45 45.5h1M47 45.5h1M49 45.5h2M42 46.5h1M48 46.5h2M60 46.5h2M43 47.5h1M60 47.5h2M31 48.5h1M43 48.5h1M63 48.5h1M38 49.5h1M43 49.5h1M63 49.5h1M28 50.5h1M38 50.5h1M40 50.5h1M42 50.5h1M31 51.5h1M39 51.5h1M27 52.5h1M39 53.5h1M27 54.5h1M32 54.5h4M31 55.5h4M32 56.5h1M34 56.5h2M38 56.5h1M72 56.5h1M29 57.5h1M33 58.5h1M42 58.5h1M33 59.5h1M37 59.5h1M57 59.5h1M59 59.5h1M63 59.5h1M34 60.5h1M38 60.5h1M35 61.5h1M40 61.5h1M35 62.5h1M45 62.5h2M28 63.5h1M35 63.5h1M41 63.5h1M46 63.5h1M50 64.5h3M35 65.5h1M42 65.5h1M49 65.5h1M52 65.5h3M37 66.5h1M39 66.5h1M41 66.5h1M49 66.5h1M54 66.5h1M53 67.5h2M34 68.5h1M52 68.5h1M71 68.5h1M35 69.5h1M37 69.5h1M71 69.5h1M64 70.5h1M71 70.5h1M56 71.5h1M68 71.5h1M71 71.5h1M29 74.5h1M29 75.5h1M29 76.5h1M36 77.5h2M29 78.5h1M38 78.5h1M36 79.5h1M69 79.5h1M38 80.5h1M69 80.5h1M59 87.5h3"/><path stroke="#aaff55" d="M38 43.5h2M30 44.5h1M49 44.5h2M52 44.5h1M40 45.5h1M46 45.5h1M52 45.5h1M57 45.5h1M28 46.5h1M31 46.5h1M39 46.5h1M44 46.5h1M47 46.5h1M59 46.5h1M31 47.5h1M37 47.5h1M62 47.5h1M32 48.5h1M39 48.5h1M64 48.5h1M27 49.5h1M64 49.5h1M38 51.5h1M37 52.5h1M40 52.5h1M32 53.5h1M35 53.5h2M40 53.5h1M31 54.5h1M40 54.5h2M27 55.5h1M41 55.5h2M71 55.5h1M33 56.5h1M43 56.5h1M71 56.5h1M72 57.5h1M43 58.5h2M60 58.5h2M63 58.5h1M56 59.5h1M62 59.5h1M44 60.5h1M59 60.5h1M63 60.5h1M45 61.5h2M44 62.5h1M40 63.5h1M47 63.5h1M49 63.5h1M35 64.5h1M48 65.5h1M51 65.5h1M28 66.5h1M34 66.5h1M48 66.5h1M50 66.5h2M33 67.5h2M38 67.5h1M51 67.5h1M32 68.5h2M67 68.5h2M31 69.5h1M33 69.5h1M55 69.5h1M67 69.5h1M72 69.5h1M28 70.5h1M65 70.5h2M69 71.5h1M29 72.5h1M64 72.5h1M70 72.5h2M29 73.5h1M68 75.5h1M28 77.5h1M30 77.5h1M38 77.5h1M67 77.5h1M30 78.5h1M39 79.5h1M67 79.5h2M70 79.5h1M37 80.5h1M54 80.5h1M68 80.5h1M58 87.5h1M59 88.5h1"/><path stroke="#cccc00" d="M29 45.5h1M48 45.5h1M29 46.5h2M40 46.5h2M45 46.5h2M28 47.5h1M30 47.5h1M40 47.5h3M28 48.5h1M40 48.5h1M42 48.5h1M62 48.5h1M28 49.5h1M31 49.5h1M39 49.5h4M31 50.5h1M41 50.5h1M28 51.5h1M30 51.5h1M40 51.5h1M31 52.5h1M38 52.5h1M27 53.5h1M31 53.5h1M37 53.5h2M28 54.5h1M36 54.5h1M39 54.5h1M28 55.5h1M30 55.5h1M35 55.5h6M28 56.5h1M31 56.5h1M36 56.5h2M39 56.5h4M32 57.5h1M37 57.5h2M42 57.5h2M29 58.5h1M32 58.5h1M37 58.5h1M29 59.5h1M33 60.5h1M39 60.5h2M34 61.5h1M34 62.5h1M34 63.5h1M28 64.5h1M34 64.5h1M39 64.5h3M28 65.5h1M34 65.5h1M39 65.5h1M41 65.5h1M33 66.5h1M35 66.5h2M40 66.5h1M52 66.5h2M29 67.5h4M35 67.5h3M52 67.5h1M29 68.5h1M31 68.5h1M35 68.5h1M37 68.5h1M69 68.5h2M29 69.5h2M36 69.5h1M68 69.5h1M70 69.5h1M29 70.5h2M68 70.5h3M70 71.5h1M29 77.5h1M36 78.5h2M37 79.5h2"/><path stroke="#ff9900" d="M29 47.5h1M29 48.5h2M29 49.5h2M29 50.5h1M28 52.5h2M29 53.5h2M29 54.5h1M37 54.5h2M29 55.5h1M30 56.5h1M31 57.5h1M39 57.5h3M30 58.5h2M41 58.5h1M32 59.5h1M40 59.5h1M29 60.5h1M29 61.5h1M33 61.5h1M29 62.5h1M29 63.5h1M29 65.5h1M33 65.5h1M40 65.5h1M30 66.5h3M36 68.5h1M69 69.5h1"/><path stroke="#ffcc00" d="M41 48.5h1M30 50.5h1M29 51.5h1M30 52.5h1M28 53.5h1M30 54.5h1M29 56.5h1M30 57.5h1M41 59.5h1M29 66.5h1M30 68.5h1"/><path stroke="#e66600" d="M38 58.5h2M30 59.5h2M39 59.5h1M32 60.5h1M30 62.5h1M33 62.5h1M33 63.5h1M29 64.5h2M32 64.5h1M30 65.5h1M32 65.5h1"/><path stroke="#dd9900" d="M40 58.5h1M38 59.5h1M33 64.5h1"/><path stroke="#ff3300" d="M30 60.5h2M30 61.5h1M30 63.5h1M32 63.5h1M31 64.5h1"/><path stroke="#ff0000" d="M31 61.5h1M31 62.5h1M31 63.5h1"/><path stroke="#ee3300" d="M32 61.5h1M32 62.5h1M31 65.5h1"/></g>
<rect x="147.3" y="777.5" width="496.7" height="1.6" fill="#000"/>
<rect x="147.3" y="777.5" width="1.6" height="517.2" fill="#000"/>
<rect x="642.8" y="778.7" width="1.3" height="516" fill="#555"/>
<path d="M141 778.7h5.8M141 807.37h5.8M141 864.7h5.8M141 922.03h5.8M141 979.37h5.8M141 1036.7h5.8M141 1094.03h5.8M141 1151.37h5.8M141 1208.7h5.8M141 1266.03h5.8M141 1294.7h5.8M148.5 1296.7v5.6M176.03 1296.7v5.6M231.08 1296.7v5.6M286.14 1296.7v5.6M341.19 1296.7v5.6M396.25 1296.7v5.6M451.31 1296.7v5.6M506.36 1296.7v5.6M561.42 1296.7v5.6M616.47 1296.7v5.6M644 1296.7v5.6" stroke="#222" stroke-width="1.1" fill="none"/>
<text x="107.31" y="790.4" font-size="29.7" textLength="30.39" lengthAdjust="spacingAndGlyphs">90</text>
<text x="107.31" y="876.4" font-size="29.7" textLength="30.39" lengthAdjust="spacingAndGlyphs">60</text>
<text x="107.31" y="933.73" font-size="29.7" textLength="30.39" lengthAdjust="spacingAndGlyphs">40</text>
<text x="107.31" y="991.07" font-size="29.7" textLength="30.39" lengthAdjust="spacingAndGlyphs">20</text>
<text x="122.5" y="1048.4" font-size="29.7" textLength="15.2" lengthAdjust="spacingAndGlyphs">0</text>
<text x="91.35" y="1105.73" font-size="29.7" textLength="46.35" lengthAdjust="spacingAndGlyphs">−20</text>
<text x="91.35" y="1163.07" font-size="29.7" textLength="46.35" lengthAdjust="spacingAndGlyphs">−40</text>
<text x="91.35" y="1220.4" font-size="29.7" textLength="46.35" lengthAdjust="spacingAndGlyphs">−60</text>
<text x="91.35" y="1306.4" font-size="29.7" textLength="46.35" lengthAdjust="spacingAndGlyphs">−90</text>
<text x="125.33" y="1330.4" font-size="29.7" textLength="46.35" lengthAdjust="spacingAndGlyphs">−90</text>
<text x="207.91" y="1330.4" font-size="29.7" textLength="46.35" lengthAdjust="spacingAndGlyphs">−60</text>
<text x="262.96" y="1330.4" font-size="29.7" textLength="46.35" lengthAdjust="spacingAndGlyphs">−40</text>
<text x="318.02" y="1330.4" font-size="29.7" textLength="46.35" lengthAdjust="spacingAndGlyphs">−20</text>
<text x="388.65" y="1330.4" font-size="29.7" textLength="15.2" lengthAdjust="spacingAndGlyphs">0</text>
<text x="436.11" y="1330.4" font-size="29.7" textLength="30.39" lengthAdjust="spacingAndGlyphs">20</text>
<text x="491.16" y="1330.4" font-size="29.7" textLength="30.39" lengthAdjust="spacingAndGlyphs">40</text>
<text x="546.22" y="1330.4" font-size="29.7" textLength="30.39" lengthAdjust="spacingAndGlyphs">60</text>
<text x="628.8" y="1330.4" font-size="29.7" textLength="30.39" lengthAdjust="spacingAndGlyphs">90</text>
<text x="199.56" y="1377.2" font-size="42" textLength="296.58" lengthAdjust="spacingAndGlyphs">Horizontal angle</text>
<text x="509.7" y="1373.3" font-size="40.4" textLength="15.2" lengthAdjust="spacingAndGlyphs">[</text>
<text x="523" y="1374.7" font-size="42">°</text>
<text x="568.1" y="1373.3" font-size="40.4" textLength="15.2" lengthAdjust="spacingAndGlyphs">]</text>
<g transform="translate(83 1208.3) rotate(-90)"><text x="-0.38" y="0" font-size="42" textLength="252.76" lengthAdjust="spacingAndGlyphs">Vertical angle</text><text x="266.1" y="-5" font-size="40.4" textLength="15.2" lengthAdjust="spacingAndGlyphs">[</text><text x="280.2" y="-5.6" font-size="42">°</text><text x="324.2" y="-5" font-size="40.4" textLength="15.2" lengthAdjust="spacingAndGlyphs">]</text></g>
<g transform="translate(765.5 979.73) rotate(90)"><text x="0" y="0" font-size="43.2" textLength="131.33" lengthAdjust="spacingAndGlyphs">Counts</text></g>
<rect x="671" y="764.2" width="24" height="565" fill="#000"/>
<rect x="672.2" y="765.2" width="21.6" height="4" fill="#fff"/>
<rect x="672.2" y="1317.82" width="21.6" height="4.88" fill="#ffffff"/>
<rect x="672.2" y="1311.91" width="21.6" height="6.21" fill="#dcdcdc"/>
<rect x="672.2" y="1303.63" width="21.6" height="8.58" fill="#ccccff"/>
<rect x="672.2" y="1301.42" width="21.6" height="2.51" fill="#d8d8e0"/>
<rect x="672.2" y="1298.1" width="21.6" height="3.61" fill="#cc99cc"/>
<rect x="672.2" y="1289.27" width="21.6" height="9.14" fill="#9999cc"/>
<rect x="672.2" y="1285.95" width="21.6" height="3.61" fill="#9966cc"/>
<rect x="672.2" y="1275.46" width="21.6" height="10.79" fill="#6666cc"/>
<rect x="672.2" y="1270.49" width="21.6" height="5.27" fill="#6633cc"/>
<rect x="672.2" y="1263.31" width="21.6" height="7.48" fill="#333399"/>
<rect x="672.2" y="1247.85" width="21.6" height="15.76" fill="#330099"/>
<rect x="672.2" y="1215.27" width="21.6" height="32.88" fill="#0033cc"/>
<rect x="672.2" y="1187.66" width="21.6" height="27.91" fill="#0066ff"/>
<rect x="672.2" y="1161.16" width="21.6" height="26.81" fill="#0099ff"/>
<rect x="672.2" y="1134.65" width="21.6" height="26.81" fill="#00ccff"/>
<rect x="672.2" y="1120.29" width="21.6" height="14.66" fill="#00cccc"/>
<rect x="672.2" y="1085.51" width="21.6" height="35.09" fill="#00ffcc"/>
<rect x="672.2" y="1067.84" width="21.6" height="17.97" fill="#00ff88"/>
<rect x="672.2" y="1048.51" width="21.6" height="19.63" fill="#00ff77"/>
<rect x="672.2" y="1036.36" width="21.6" height="12.45" fill="#00ff44"/>
<rect x="672.2" y="1020.35" width="21.6" height="16.31" fill="#44ff55"/>
<rect x="672.2" y="1011.51" width="21.6" height="9.14" fill="#aaff55"/>
<rect x="672.2" y="996.05" width="21.6" height="15.76" fill="#aaff00"/>
<rect x="672.2" y="957.4" width="21.6" height="38.95" fill="#cccc00"/>
<rect x="672.2" y="952.43" width="21.6" height="5.27" fill="#ffcc00"/>
<rect x="672.2" y="926.47" width="21.6" height="26.25" fill="#ff9900"/>
<rect x="672.2" y="918.74" width="21.6" height="8.03" fill="#dd9900"/>
<rect x="672.2" y="882.85" width="21.6" height="36.19" fill="#e66600"/>
<rect x="672.2" y="867.94" width="21.6" height="15.21" fill="#ee3300"/>
<rect x="672.2" y="848.61" width="21.6" height="19.63" fill="#ff3300"/>
<rect x="672.2" y="827.63" width="21.6" height="21.28" fill="#ff0000"/>
<rect x="672.2" y="795.05" width="21.6" height="32.88" fill="#e60000"/>
<rect x="672.2" y="790.08" width="21.6" height="5.27" fill="#e6003a"/>
<rect x="672.2" y="770.2" width="21.6" height="20.18" fill="#b00035"/>
<text x="704.3" y="786.5" font-size="43.2" textLength="44.45" lengthAdjust="spacingAndGlyphs">79</text>
<text x="704.3" y="849.39" font-size="43.2" textLength="44.45" lengthAdjust="spacingAndGlyphs">70</text>
<text x="704.3" y="912.27" font-size="43.2" textLength="44.45" lengthAdjust="spacingAndGlyphs">61</text>
<text x="704.3" y="968.17" font-size="43.2" textLength="44.45" lengthAdjust="spacingAndGlyphs">53</text>
<text x="704.3" y="1031.06" font-size="43.2" textLength="44.45" lengthAdjust="spacingAndGlyphs">44</text>
<text x="704.3" y="1093.94" font-size="43.2" textLength="44.45" lengthAdjust="spacingAndGlyphs">35</text>
<text x="704.3" y="1156.83" font-size="43.2" textLength="44.45" lengthAdjust="spacingAndGlyphs">26</text>
<text x="704.3" y="1212.73" font-size="43.2" textLength="44.45" lengthAdjust="spacingAndGlyphs">18</text>
<text x="704.3" y="1275.61" font-size="43.2" textLength="22.22" lengthAdjust="spacingAndGlyphs">9</text>
<text x="704.3" y="1338.5" font-size="43.2" textLength="22.22" lengthAdjust="spacingAndGlyphs">0</text>
<path d="M698 771h5.8M698 833.89h5.8M698 896.77h5.8M698 952.67h5.8M698 1015.56h5.8M698 1078.44h5.8M698 1141.33h5.8M698 1197.23h5.8M698 1260.11h5.8M698 1323h5.8" stroke="#222" stroke-width="1.1" fill="none"/>
<text class="cap" x="425.4" y="1444.4" font-size="42" text-anchor="middle">(<tspan font-weight="bold">c</tspan>)</text>
<rect x="933.2" y="746" width="806.8" height="641.8" fill="#dfdfdf"/>
<rect x="933.2" y="764.3" width="629.8" height="623.5" fill="#cdcdcd"/>
<rect x="933.2" y="764.3" width="1.7" height="623.5" fill="#a5a5a5"/>
<rect x="934.9" y="764.3" width="1.3" height="623.5" fill="#c4c4c4"/>
<rect x="936.2" y="1384.8" width="626.8" height="1" fill="#a8a8a8"/>
<rect x="936.2" y="1385.5" width="626.8" height="2.3" fill="#888888"/>
<rect x="1563" y="767.8" width="6.3" height="620" fill="#aaaaaa"/>
<rect x="1569.3" y="766.5" width="4.5" height="621.3" fill="#999999"/>
<rect x="1573.8" y="765.3" width="3" height="622.5" fill="#777777"/>
<rect x="1576.8" y="764.8" width="2.2" height="623" fill="#444444"/>
<g transform="translate(1059.9 776) scale(4.1233 4.3117)" fill="none" stroke-width="1" shape-rendering="crispEdges"><path stroke="#ccccff" d="M0 0.5h5M10 0.5h4M24 0.5h3M100 0.5h1M104 0.5h2M110 0.5h1M113 0.5h2M2 1.5h2M10 1.5h2M77 1.5h1M100 1.5h2M106 1.5h1M112 1.5h1M114 1.5h1M2 2.5h2M11 2.5h2M102 2.5h2M106 2.5h2M1 3.5h2M9 3.5h2M18 3.5h1M105 3.5h3M115 3.5h2M119 3.5h1M0 4.5h2M9 4.5h2M32 4.5h1M106 4.5h1M116 4.5h3M0 5.5h1M6 5.5h4M15 5.5h4M29 5.5h2M109 5.5h2M116 5.5h1M118 5.5h1M7 6.5h1M14 6.5h4M108 6.5h1M111 6.5h1M116 6.5h1M118 6.5h1M13 7.5h1M15 7.5h2M108 7.5h1M112 7.5h1M117 7.5h3M4 8.5h1M13 8.5h1M15 8.5h1M108 8.5h1M112 8.5h2M118 8.5h1M13 9.5h1M110 9.5h1M113 9.5h1M118 9.5h2M11 10.5h1M111 10.5h3M118 10.5h2M11 11.5h1M118 11.5h2M17 12.5h1M113 12.5h1M8 13.5h2M17 13.5h1M8 14.5h1M14 15.5h2M119 18.5h1M119 19.5h1M117 20.5h1M10 21.5h1M119 21.5h1M3 22.5h1M9 22.5h1M2 23.5h1M9 24.5h1M0 25.5h1M0 26.5h1M0 27.5h1M119 107.5h1M24 108.5h1M24 109.5h3M109 109.5h2M107 110.5h2M19 111.5h2M31 111.5h1M108 111.5h1M19 112.5h1M22 112.5h1M113 112.5h2M113 113.5h1M113 114.5h4M71 115.5h2M75 115.5h1M113 115.5h2M113 116.5h1M119 116.5h1M29 117.5h1M31 117.5h1M99 117.5h1M110 117.5h2M118 117.5h1M4 118.5h3M8 118.5h1M30 118.5h1M98 118.5h1M108 118.5h1M110 118.5h2M117 118.5h1M1 119.5h2M4 119.5h3M8 119.5h2M30 119.5h2M33 119.5h3M80 119.5h4M95 119.5h1M98 119.5h1M110 119.5h1"/><path stroke="#d8d8e0" d="M5 0.5h1M9 0.5h1M14 0.5h1M23 0.5h1M99 0.5h1M13 1.5h1M25 1.5h2M78 1.5h1M107 1.5h1M110 1.5h1M115 1.5h1M9 2.5h1M13 2.5h1M24 2.5h1M78 2.5h1M101 2.5h1M108 2.5h2M113 2.5h2M11 3.5h1M17 3.5h1M104 3.5h1M114 3.5h1M117 3.5h2M2 4.5h1M6 4.5h3M17 4.5h1M33 4.5h1M98 4.5h1M105 4.5h1M107 4.5h1M115 4.5h1M19 5.5h1M31 5.5h1M98 5.5h1M108 5.5h1M115 5.5h1M5 6.5h1M18 6.5h1M31 6.5h1M115 6.5h1M119 6.5h1M6 7.5h3M116 7.5h1M117 8.5h1M4 9.5h1M14 9.5h1M109 9.5h1M12 10.5h2M102 10.5h2M106 10.5h1M10 11.5h1M17 11.5h2M105 11.5h2M112 11.5h2M10 12.5h1M18 12.5h1M106 12.5h1M114 12.5h1M7 13.5h1M16 13.5h1M18 13.5h1M106 13.5h3M114 13.5h1M9 14.5h1M107 14.5h1M6 16.5h1M14 16.5h1M116 18.5h2M117 19.5h1M3 20.5h1M3 21.5h1M118 21.5h1M10 22.5h1M119 22.5h1M3 23.5h1M9 23.5h2M10 24.5h1M1 25.5h2M8 25.5h1M10 25.5h1M7 26.5h2M1 27.5h1M108 100.5h1M108 101.5h1M111 107.5h1M25 108.5h2M107 109.5h1M18 110.5h1M20 110.5h2M111 110.5h1M21 111.5h2M32 111.5h1M106 111.5h1M109 111.5h1M115 111.5h3M34 112.5h1M109 112.5h1M112 112.5h1M20 113.5h2M112 113.5h1M23 114.5h2M71 114.5h2M27 115.5h1M112 115.5h1M116 115.5h1M28 116.5h1M72 116.5h1M75 116.5h1M110 116.5h2M115 116.5h1M4 117.5h2M30 117.5h1M32 117.5h1M71 117.5h1M96 117.5h1M98 117.5h1M100 117.5h1M33 118.5h2M80 118.5h1M95 118.5h1M100 118.5h1M109 118.5h1M0 119.5h1M3 119.5h1M10 119.5h1M20 119.5h1M36 119.5h1M74 119.5h2M84 119.5h1M99 119.5h1M109 119.5h1M111 119.5h1"/><path stroke="#9999cc" d="M6 0.5h3M15 0.5h1M27 0.5h2M74 0.5h1M77 0.5h1M106 0.5h1M108 0.5h2M117 0.5h2M7 1.5h1M14 1.5h1M22 1.5h1M27 1.5h1M75 1.5h2M79 1.5h2M99 1.5h1M108 1.5h2M116 1.5h4M6 2.5h3M14 2.5h1M18 2.5h6M25 2.5h1M75 2.5h1M77 2.5h1M79 2.5h1M81 2.5h1M95 2.5h1M97 2.5h1M99 2.5h2M111 2.5h2M115 2.5h5M3 3.5h1M6 3.5h3M12 3.5h2M15 3.5h1M19 3.5h1M32 3.5h3M37 3.5h1M80 3.5h2M96 3.5h2M102 3.5h2M108 3.5h2M112 3.5h2M3 4.5h3M13 4.5h1M15 4.5h2M19 4.5h2M29 4.5h3M35 4.5h2M96 4.5h2M99 4.5h1M104 4.5h1M109 4.5h4M114 4.5h1M1 5.5h2M10 5.5h1M13 5.5h2M20 5.5h1M28 5.5h1M33 5.5h2M97 5.5h1M99 5.5h1M106 5.5h1M112 5.5h1M114 5.5h1M0 6.5h1M8 6.5h2M13 6.5h1M19 6.5h3M27 6.5h1M29 6.5h1M32 6.5h1M47 6.5h1M98 6.5h1M107 6.5h1M112 6.5h3M2 7.5h3M9 7.5h2M12 7.5h1M17 7.5h1M19 7.5h4M26 7.5h2M30 7.5h2M99 7.5h2M107 7.5h1M3 8.5h1M5 8.5h2M16 8.5h2M21 8.5h1M23 8.5h2M99 8.5h2M107 8.5h1M115 8.5h2M1 9.5h2M5 9.5h1M11 9.5h1M15 9.5h3M19 9.5h2M22 9.5h1M24 9.5h2M100 9.5h9M114 9.5h1M116 9.5h2M2 10.5h3M10 10.5h1M14 10.5h4M19 10.5h3M23 10.5h2M101 10.5h1M105 10.5h1M107 10.5h1M114 10.5h1M116 10.5h2M12 11.5h1M16 11.5h1M19 11.5h4M24 11.5h1M104 11.5h1M111 11.5h1M114 11.5h4M2 12.5h1M7 12.5h3M11 12.5h3M16 12.5h1M19 12.5h1M105 12.5h1M107 12.5h1M109 12.5h1M111 12.5h1M115 12.5h2M10 13.5h2M13 13.5h3M19 13.5h1M112 13.5h1M116 13.5h1M6 14.5h1M10 14.5h1M13 14.5h3M17 14.5h1M106 14.5h1M108 14.5h2M114 14.5h2M6 15.5h1M8 15.5h2M12 15.5h1M16 15.5h2M108 15.5h2M115 15.5h1M12 16.5h2M15 16.5h1M116 16.5h1M6 17.5h1M13 17.5h1M115 17.5h4M3 18.5h4M12 18.5h2M111 18.5h1M2 19.5h4M11 19.5h2M116 19.5h1M2 20.5h1M5 20.5h2M9 20.5h4M116 20.5h1M4 21.5h1M6 21.5h3M11 21.5h1M116 21.5h2M1 22.5h2M4 22.5h1M11 22.5h1M118 22.5h1M1 23.5h1M4 23.5h1M7 23.5h2M119 23.5h1M0 24.5h4M7 24.5h1M11 24.5h1M119 24.5h1M9 25.5h1M1 26.5h1M9 26.5h1M2 27.5h1M6 27.5h1M8 27.5h1M0 28.5h2M5 28.5h3M4 29.5h4M1 36.5h1M0 72.5h1M0 74.5h1M0 86.5h1M0 87.5h1M10 92.5h1M10 93.5h1M5 94.5h1M10 94.5h1M5 95.5h1M5 96.5h1M113 97.5h1M5 98.5h1M109 98.5h2M108 99.5h2M109 100.5h1M107 101.5h1M116 101.5h1M1 102.5h1M20 102.5h1M108 102.5h2M2 103.5h1M3 105.5h1M13 105.5h1M119 105.5h1M12 106.5h2M111 106.5h2M118 106.5h1M12 107.5h2M23 107.5h3M109 107.5h2M112 107.5h1M118 107.5h1M0 108.5h1M13 108.5h3M21 108.5h3M27 108.5h1M108 108.5h2M111 108.5h1M117 108.5h3M0 109.5h1M21 109.5h2M27 109.5h1M105 109.5h2M111 109.5h2M116 109.5h2M0 110.5h1M19 110.5h1M22 110.5h1M24 110.5h1M26 110.5h1M28 110.5h1M30 110.5h3M97 110.5h1M99 110.5h1M105 110.5h2M113 110.5h2M116 110.5h1M118 110.5h2M0 111.5h2M18 111.5h1M23 111.5h1M28 111.5h1M30 111.5h1M33 111.5h2M97 111.5h2M110 111.5h1M112 111.5h2M0 112.5h2M10 112.5h1M23 112.5h1M31 112.5h3M96 112.5h1M98 112.5h1M104 112.5h3M108 112.5h1M110 112.5h1M117 112.5h1M1 113.5h2M19 113.5h1M22 113.5h2M32 113.5h1M107 113.5h1M111 113.5h1M117 113.5h2M10 114.5h1M21 114.5h2M69 114.5h2M73 114.5h2M111 114.5h1M117 114.5h1M119 114.5h1M23 115.5h4M28 115.5h2M69 115.5h2M73 115.5h2M110 115.5h2M117 115.5h1M119 115.5h1M3 116.5h4M12 116.5h1M23 116.5h5M29 116.5h3M68 116.5h3M98 116.5h5M109 116.5h1M118 116.5h1M3 117.5h1M9 117.5h1M11 117.5h1M17 117.5h2M28 117.5h1M33 117.5h2M70 117.5h1M72 117.5h4M95 117.5h1M101 117.5h1M108 117.5h2M112 117.5h2M117 117.5h1M0 118.5h2M3 118.5h1M17 118.5h1M19 118.5h2M29 118.5h1M35 118.5h2M60 118.5h2M71 118.5h5M81 118.5h5M94 118.5h1M107 118.5h1M112 118.5h2M116 118.5h1M11 119.5h1M19 119.5h1M21 119.5h1M73 119.5h1M76 119.5h1M79 119.5h1M85 119.5h2M94 119.5h1M103 119.5h1M107 119.5h2M115 119.5h2"/><path stroke="#6666cc" d="M16 0.5h2M20 0.5h2M29 0.5h2M71 0.5h1M73 0.5h1M76 0.5h1M78 0.5h1M80 0.5h1M96 0.5h1M115 0.5h2M6 1.5h1M15 1.5h1M17 1.5h3M21 1.5h1M28 1.5h4M71 1.5h3M81 1.5h1M95 1.5h3M5 2.5h1M15 2.5h2M27 2.5h3M31 2.5h1M34 2.5h1M38 2.5h2M74 2.5h1M82 2.5h1M98 2.5h1M14 3.5h1M22 3.5h2M25 3.5h7M35 3.5h2M38 3.5h2M75 3.5h1M77 3.5h1M82 3.5h1M100 3.5h2M12 4.5h1M14 4.5h1M21 4.5h6M28 4.5h1M38 4.5h1M47 4.5h2M77 4.5h5M83 4.5h1M100 4.5h4M3 5.5h1M12 5.5h1M25 5.5h1M27 5.5h1M35 5.5h2M47 5.5h3M96 5.5h1M100 5.5h2M103 5.5h1M1 6.5h1M22 6.5h5M36 6.5h1M46 6.5h1M48 6.5h1M87 6.5h1M97 6.5h1M99 6.5h1M101 6.5h3M106 6.5h1M1 7.5h1M11 7.5h1M23 7.5h1M25 7.5h1M34 7.5h3M97 7.5h1M102 7.5h2M106 7.5h1M0 8.5h2M9 8.5h2M18 8.5h1M20 8.5h1M25 8.5h3M29 8.5h6M36 8.5h1M102 8.5h5M0 9.5h1M6 9.5h1M8 9.5h3M21 9.5h1M26 9.5h1M32 9.5h1M36 9.5h1M99 9.5h1M115 9.5h1M0 10.5h1M6 10.5h1M8 10.5h2M25 10.5h1M30 10.5h1M33 10.5h5M108 10.5h1M115 10.5h1M0 11.5h1M3 11.5h1M5 11.5h4M14 11.5h1M25 11.5h1M30 11.5h2M33 11.5h4M100 11.5h2M108 11.5h1M110 11.5h1M0 12.5h1M3 12.5h4M24 12.5h1M26 12.5h1M31 12.5h1M103 12.5h2M108 12.5h1M110 12.5h1M117 12.5h3M1 13.5h2M5 13.5h2M12 13.5h1M20 13.5h1M22 13.5h3M26 13.5h2M105 13.5h1M110 13.5h2M117 13.5h1M1 14.5h1M5 14.5h1M12 14.5h1M18 14.5h1M24 14.5h4M110 14.5h1M117 14.5h1M0 15.5h1M5 15.5h1M11 15.5h1M18 15.5h1M25 15.5h4M107 15.5h1M110 15.5h1M113 15.5h1M117 15.5h1M0 16.5h1M2 16.5h1M4 16.5h1M8 16.5h1M10 16.5h2M16 16.5h3M23 16.5h1M25 16.5h2M108 16.5h4M114 16.5h1M117 16.5h1M2 17.5h2M8 17.5h1M10 17.5h3M15 17.5h2M22 17.5h4M119 17.5h1M0 18.5h3M7 18.5h4M15 18.5h1M22 18.5h1M6 19.5h1M8 19.5h3M14 19.5h1M111 19.5h5M0 20.5h2M114 20.5h2M0 21.5h1M5 21.5h1M12 21.5h1M112 21.5h2M115 21.5h1M12 22.5h1M113 22.5h3M5 23.5h2M114 23.5h1M116 23.5h3M4 24.5h3M3 25.5h2M6 25.5h1M11 25.5h1M4 26.5h2M10 26.5h1M3 27.5h2M2 28.5h3M8 28.5h2M0 29.5h4M0 30.5h1M3 30.5h2M6 30.5h2M4 31.5h2M3 32.5h2M2 33.5h3M2 34.5h1M1 35.5h1M0 36.5h1M2 36.5h2M0 37.5h2M0 38.5h1M1 39.5h1M0 40.5h1M0 42.5h1M0 44.5h1M0 45.5h1M0 65.5h1M0 67.5h1M0 71.5h1M1 73.5h1M0 75.5h2M0 84.5h1M0 85.5h1M1 86.5h1M1 88.5h1M0 89.5h2M0 90.5h2M0 91.5h2M7 91.5h1M9 91.5h1M2 92.5h2M9 92.5h1M11 92.5h1M2 93.5h1M4 93.5h1M6 93.5h3M11 93.5h1M2 94.5h3M6 94.5h2M2 95.5h2M6 95.5h1M9 95.5h4M2 96.5h2M6 96.5h1M0 97.5h1M3 97.5h3M7 97.5h1M11 97.5h1M110 97.5h3M114 97.5h1M116 97.5h1M2 98.5h2M6 98.5h2M13 98.5h1M108 98.5h1M112 98.5h6M2 99.5h7M13 99.5h1M110 99.5h1M112 99.5h1M115 99.5h1M117 99.5h2M0 100.5h3M4 100.5h4M19 100.5h1M107 100.5h1M110 100.5h2M114 100.5h2M118 100.5h1M0 101.5h1M2 101.5h2M8 101.5h3M17 101.5h1M19 101.5h1M110 101.5h1M117 101.5h1M0 102.5h1M2 102.5h2M9 102.5h1M11 102.5h1M17 102.5h2M22 102.5h1M106 102.5h2M110 102.5h1M116 102.5h2M0 103.5h2M9 103.5h2M12 103.5h1M18 103.5h2M21 103.5h3M29 103.5h1M106 103.5h1M108 103.5h3M1 104.5h1M11 104.5h2M20 104.5h2M23 104.5h1M108 104.5h6M118 104.5h1M11 105.5h1M14 105.5h1M20 105.5h1M103 105.5h1M108 105.5h2M111 105.5h4M117 105.5h2M0 106.5h3M14 106.5h1M22 106.5h2M25 106.5h2M102 106.5h1M106 106.5h1M108 106.5h1M113 106.5h1M117 106.5h1M0 107.5h2M3 107.5h3M22 107.5h1M100 107.5h5M106 107.5h3M113 107.5h3M1 108.5h1M3 108.5h2M11 108.5h2M16 108.5h2M20 108.5h1M99 108.5h4M106 108.5h1M113 108.5h4M1 109.5h1M13 109.5h2M16 109.5h1M19 109.5h1M28 109.5h1M30 109.5h3M97 109.5h6M104 109.5h1M113 109.5h3M1 110.5h2M12 110.5h1M14 110.5h3M27 110.5h1M29 110.5h1M34 110.5h1M100 110.5h5M112 110.5h1M2 111.5h1M11 111.5h1M24 111.5h4M29 111.5h1M35 111.5h1M96 111.5h1M99 111.5h1M101 111.5h1M103 111.5h2M118 111.5h2M9 112.5h1M17 112.5h1M24 112.5h2M28 112.5h3M99 112.5h2M103 112.5h1M118 112.5h2M8 113.5h5M17 113.5h2M25 113.5h1M28 113.5h3M33 113.5h3M37 113.5h2M67 113.5h6M95 113.5h12M108 113.5h3M119 113.5h1M1 114.5h1M3 114.5h1M8 114.5h2M12 114.5h1M16 114.5h1M19 114.5h1M28 114.5h7M37 114.5h1M68 114.5h1M76 114.5h1M98 114.5h1M101 114.5h7M109 114.5h1M118 114.5h1M2 115.5h2M5 115.5h1M8 115.5h3M13 115.5h10M30 115.5h9M42 115.5h3M66 115.5h1M97 115.5h8M106 115.5h4M2 116.5h1M8 116.5h3M13 116.5h1M15 116.5h4M33 116.5h2M36 116.5h3M42 116.5h3M48 116.5h1M61 116.5h2M64 116.5h2M76 116.5h2M80 116.5h1M96 116.5h1M103 116.5h1M2 117.5h1M10 117.5h1M13 117.5h1M19 117.5h3M23 117.5h5M35 117.5h2M43 117.5h1M58 117.5h1M60 117.5h3M65 117.5h2M68 117.5h2M80 117.5h4M94 117.5h1M102 117.5h2M107 117.5h1M114 117.5h1M10 118.5h1M12 118.5h1M14 118.5h2M21 118.5h3M27 118.5h1M37 118.5h1M59 118.5h1M65 118.5h1M68 118.5h2M77 118.5h2M86 118.5h1M88 118.5h1M102 118.5h2M114 118.5h1M12 119.5h1M15 119.5h3M23 119.5h2M37 119.5h2M60 119.5h1M63 119.5h1M70 119.5h2M77 119.5h1M87 119.5h4M93 119.5h1M104 119.5h1M106 119.5h1M112 119.5h3"/><path stroke="#6633cc" d="M18 0.5h2M32 0.5h1M70 0.5h1M79 0.5h1M32 1.5h4M70 1.5h1M82 1.5h1M30 2.5h1M35 2.5h1M37 2.5h1M40 2.5h1M46 2.5h1M83 2.5h1M46 3.5h1M48 3.5h1M50 3.5h1M74 3.5h1M27 4.5h1M39 4.5h1M46 4.5h1M49 4.5h1M82 4.5h1M95 4.5h1M23 5.5h1M37 5.5h1M46 5.5h1M79 5.5h2M102 5.5h1M104 5.5h1M35 6.5h1M37 6.5h1M96 6.5h1M104 6.5h2M46 7.5h2M96 7.5h1M35 8.5h1M37 8.5h1M46 8.5h1M98 8.5h1M7 9.5h1M27 9.5h2M30 9.5h2M33 9.5h1M35 9.5h1M38 9.5h1M98 9.5h1M7 10.5h1M32 10.5h1M100 10.5h1M32 11.5h1M99 11.5h1M21 12.5h3M25 12.5h1M28 12.5h1M32 12.5h3M0 13.5h1M3 13.5h2M25 13.5h1M28 13.5h2M31 13.5h1M119 13.5h1M0 14.5h1M2 14.5h3M28 14.5h1M105 14.5h1M112 14.5h1M2 15.5h3M19 15.5h1M21 15.5h1M23 15.5h1M112 15.5h1M3 16.5h1M9 16.5h1M22 16.5h1M107 16.5h1M112 16.5h2M118 16.5h1M1 17.5h1M9 17.5h1M25 18.5h1M112 18.5h1M114 18.5h1M0 19.5h2M7 19.5h1M13 20.5h1M21 20.5h1M111 20.5h1M21 21.5h1M112 22.5h1M12 23.5h1M112 23.5h2M12 24.5h1M114 24.5h1M5 25.5h1M3 26.5h1M108 27.5h1M8 29.5h1M3 31.5h1M6 31.5h1M0 32.5h1M5 32.5h1M0 33.5h1M0 34.5h1M3 34.5h1M2 35.5h2M2 37.5h1M0 39.5h1M0 53.5h1M0 59.5h1M0 60.5h1M0 61.5h1M0 62.5h1M0 66.5h1M1 72.5h1M0 76.5h1M0 83.5h1M1 87.5h1M8 90.5h1M11 90.5h1M3 91.5h1M6 91.5h1M11 91.5h1M1 92.5h1M4 92.5h3M3 93.5h1M1 94.5h1M12 94.5h1M7 95.5h2M13 95.5h1M7 96.5h1M11 96.5h1M24 96.5h1M106 96.5h1M112 96.5h2M10 97.5h1M12 97.5h2M115 97.5h1M0 98.5h2M8 98.5h1M118 98.5h1M1 99.5h1M9 99.5h1M106 99.5h2M114 99.5h1M3 100.5h1M8 100.5h4M16 100.5h2M112 100.5h1M6 101.5h1M11 101.5h1M16 101.5h1M18 101.5h1M24 101.5h1M106 101.5h1M111 101.5h1M115 101.5h1M118 101.5h1M4 102.5h1M8 102.5h1M10 102.5h1M16 102.5h1M21 102.5h1M23 102.5h1M26 102.5h1M113 102.5h1M115 102.5h1M4 103.5h2M17 103.5h1M107 103.5h1M113 103.5h3M118 103.5h2M0 104.5h1M5 104.5h1M10 104.5h1M14 104.5h1M19 104.5h1M22 104.5h1M24 104.5h1M105 104.5h3M117 104.5h1M0 105.5h1M4 105.5h1M22 105.5h1M24 105.5h1M105 105.5h1M107 105.5h1M115 105.5h1M4 106.5h2M21 106.5h1M100 106.5h2M103 106.5h3M107 106.5h1M114 106.5h1M2 107.5h1M11 107.5h1M21 107.5h1M27 107.5h1M41 107.5h1M105 107.5h1M116 107.5h1M2 108.5h1M5 108.5h1M32 108.5h1M41 108.5h1M97 108.5h1M103 108.5h1M105 108.5h1M2 109.5h1M4 109.5h2M12 109.5h1M40 109.5h2M5 110.5h1M10 110.5h2M35 110.5h1M37 110.5h1M39 110.5h2M10 111.5h1M15 111.5h1M100 111.5h1M102 111.5h1M12 112.5h1M26 112.5h1M36 112.5h2M3 113.5h1M7 113.5h1M27 113.5h1M36 113.5h1M73 113.5h1M13 114.5h1M18 114.5h1M35 114.5h2M39 114.5h1M67 114.5h1M95 114.5h3M99 114.5h2M108 114.5h1M1 115.5h1M6 115.5h2M39 115.5h2M45 115.5h1M48 115.5h1M0 116.5h1M7 116.5h1M19 116.5h1M22 116.5h1M39 116.5h1M53 116.5h1M81 116.5h1M88 116.5h1M95 116.5h1M106 116.5h3M1 117.5h1M22 117.5h1M59 117.5h1M77 117.5h1M79 117.5h1M84 117.5h1M13 118.5h1M24 118.5h3M38 118.5h1M43 118.5h1M67 118.5h1M87 118.5h1M90 118.5h1M105 118.5h2M14 119.5h1M28 119.5h1M39 119.5h1M41 119.5h1M57 119.5h1M61 119.5h2M69 119.5h1M91 119.5h1M105 119.5h1"/><path stroke="#9966cc" d="M22 0.5h1M72 0.5h1M75 0.5h1M97 0.5h1M107 0.5h1M4 1.5h2M8 1.5h1M16 1.5h1M20 1.5h1M74 1.5h1M98 1.5h1M4 2.5h1M17 2.5h1M26 2.5h1M32 2.5h2M96 2.5h1M4 3.5h2M16 3.5h1M21 3.5h1M24 3.5h1M76 3.5h1M78 3.5h2M95 3.5h1M98 3.5h2M110 3.5h2M37 4.5h1M113 4.5h1M4 5.5h1M11 5.5h1M21 5.5h1M26 5.5h1M105 5.5h1M113 5.5h1M2 6.5h3M10 6.5h3M28 6.5h1M33 6.5h2M100 6.5h1M0 7.5h1M18 7.5h1M24 7.5h1M29 7.5h1M32 7.5h2M98 7.5h1M101 7.5h1M114 7.5h1M2 8.5h1M7 8.5h2M11 8.5h1M19 8.5h1M28 8.5h1M114 8.5h1M18 9.5h1M23 9.5h1M34 9.5h1M1 10.5h1M5 10.5h1M18 10.5h1M31 10.5h1M1 11.5h2M4 11.5h1M9 11.5h1M13 11.5h1M15 11.5h1M23 11.5h1M102 11.5h2M107 11.5h1M109 11.5h1M1 12.5h1M14 12.5h2M20 12.5h1M109 13.5h1M11 14.5h1M113 14.5h1M116 14.5h1M10 15.5h1M24 15.5h1M114 15.5h1M5 16.5h1M24 16.5h1M115 16.5h1M4 17.5h1M7 17.5h1M14 17.5h1M110 17.5h2M11 18.5h1M14 18.5h1M23 18.5h1M110 18.5h1M115 18.5h1M13 19.5h1M7 20.5h2M112 20.5h2M1 21.5h1M114 21.5h1M0 22.5h1M5 22.5h3M116 22.5h2M0 23.5h1M11 23.5h1M2 26.5h1M6 26.5h1M5 27.5h1M9 27.5h1M5 30.5h1M1 74.5h1M0 88.5h1M8 91.5h1M10 91.5h1M7 92.5h2M5 93.5h1M9 93.5h1M9 94.5h1M11 94.5h1M4 95.5h1M4 96.5h1M12 96.5h1M6 97.5h1M4 98.5h1M111 99.5h1M116 99.5h1M116 100.5h2M1 101.5h1M19 102.5h1M3 103.5h1M11 103.5h1M20 103.5h1M2 104.5h2M1 105.5h2M12 105.5h1M23 105.5h1M110 105.5h1M3 106.5h1M11 106.5h1M24 106.5h1M109 106.5h2M14 107.5h2M26 107.5h1M117 107.5h1M107 108.5h1M15 109.5h1M17 109.5h2M20 109.5h1M118 109.5h2M33 110.5h1M98 110.5h1M115 110.5h1M17 111.5h1M105 111.5h1M111 111.5h1M2 112.5h1M8 112.5h1M11 112.5h1M18 112.5h1M35 112.5h1M97 112.5h1M0 113.5h1M24 113.5h1M31 113.5h1M2 114.5h1M11 114.5h1M20 114.5h1M26 114.5h2M75 114.5h1M110 114.5h1M4 115.5h1M11 115.5h2M67 115.5h2M76 115.5h1M105 115.5h1M118 115.5h1M11 116.5h1M14 116.5h1M32 116.5h1M63 116.5h1M66 116.5h2M97 116.5h1M117 116.5h1M0 117.5h1M7 117.5h2M12 117.5h1M14 117.5h3M63 117.5h2M67 117.5h1M76 117.5h1M115 117.5h2M2 118.5h1M11 118.5h1M16 118.5h1M18 118.5h1M28 118.5h1M62 118.5h3M70 118.5h1M76 118.5h1M79 118.5h1M101 118.5h1M115 118.5h1M18 119.5h1M22 119.5h1M29 119.5h1M64 119.5h1M78 119.5h1M101 119.5h2"/><path stroke="#333399" d="M31 0.5h1M33 0.5h1M81 0.5h1M94 0.5h2M36 1.5h3M46 1.5h1M94 1.5h1M36 2.5h1M71 2.5h3M94 2.5h1M49 3.5h1M73 3.5h1M83 3.5h1M45 4.5h1M50 4.5h1M76 4.5h1M84 4.5h1M22 5.5h1M24 5.5h1M50 5.5h1M77 5.5h2M81 5.5h2M87 5.5h1M44 6.5h1M49 6.5h1M79 6.5h1M45 7.5h1M48 7.5h1M75 7.5h2M79 7.5h1M104 7.5h2M39 8.5h1M45 8.5h1M49 8.5h1M76 8.5h1M78 8.5h2M97 8.5h1M29 9.5h1M37 9.5h1M97 9.5h1M26 10.5h4M38 10.5h1M98 10.5h2M26 11.5h1M29 11.5h1M37 11.5h1M27 12.5h1M29 12.5h2M35 12.5h2M102 12.5h1M21 13.5h1M30 13.5h1M37 13.5h2M118 13.5h1M19 14.5h2M22 14.5h2M111 14.5h1M1 15.5h1M20 15.5h1M22 15.5h1M29 15.5h1M106 15.5h1M1 16.5h1M19 16.5h1M21 16.5h1M27 16.5h2M94 16.5h4M119 16.5h1M0 17.5h1M18 17.5h1M21 17.5h1M26 17.5h1M108 17.5h2M112 17.5h1M114 17.5h1M16 18.5h1M21 18.5h1M24 18.5h1M31 18.5h2M113 18.5h1M15 19.5h1M23 19.5h1M31 19.5h1M19 20.5h2M20 21.5h1M111 21.5h1M21 22.5h1M111 22.5h1M111 23.5h1M115 23.5h1M112 24.5h2M12 25.5h1M119 25.5h1M11 26.5h3M109 26.5h1M10 27.5h1M12 27.5h1M109 27.5h1M10 28.5h4M108 28.5h2M1 30.5h2M8 30.5h1M0 31.5h3M118 31.5h1M1 32.5h2M6 32.5h2M1 33.5h1M5 33.5h1M1 34.5h1M4 34.5h1M0 35.5h1M4 35.5h1M3 37.5h1M1 38.5h1M0 41.5h1M0 43.5h1M1 44.5h1M0 47.5h1M0 49.5h1M0 50.5h1M0 52.5h2M0 54.5h1M0 55.5h1M0 56.5h1M0 63.5h1M0 64.5h1M0 70.5h1M1 71.5h1M1 76.5h1M0 82.5h2M1 83.5h3M1 84.5h1M4 85.5h1M3 86.5h2M7 90.5h1M10 90.5h1M12 90.5h1M2 91.5h1M5 91.5h1M12 91.5h1M27 91.5h1M0 92.5h1M12 92.5h1M1 93.5h1M12 93.5h1M8 94.5h1M1 95.5h1M24 95.5h1M86 95.5h1M1 96.5h1M10 96.5h1M13 96.5h1M22 96.5h2M105 96.5h1M111 96.5h1M114 96.5h2M2 97.5h1M105 97.5h2M108 97.5h2M117 97.5h1M14 98.5h2M22 98.5h1M105 98.5h3M0 99.5h1M10 99.5h1M12 99.5h1M14 99.5h5M25 99.5h1M113 99.5h1M119 99.5h1M13 100.5h1M18 100.5h1M24 100.5h1M106 100.5h1M113 100.5h1M119 100.5h1M4 101.5h2M7 101.5h1M20 101.5h1M23 101.5h1M112 101.5h1M5 102.5h1M7 102.5h1M24 102.5h1M27 102.5h2M105 102.5h1M111 102.5h1M118 102.5h2M13 103.5h1M25 103.5h2M28 103.5h1M105 103.5h1M111 103.5h2M116 103.5h2M4 104.5h1M6 104.5h1M9 104.5h1M13 104.5h1M18 104.5h1M26 104.5h1M29 104.5h1M104 104.5h1M114 104.5h3M119 104.5h1M5 105.5h1M10 105.5h1M15 105.5h1M21 105.5h1M25 105.5h1M100 105.5h3M104 105.5h1M106 105.5h1M116 105.5h1M6 106.5h1M10 106.5h1M15 106.5h1M20 106.5h1M115 106.5h2M6 107.5h2M16 107.5h3M31 107.5h1M40 107.5h1M7 108.5h1M18 108.5h2M28 108.5h4M33 108.5h1M91 108.5h1M98 108.5h1M104 108.5h1M3 109.5h1M7 109.5h1M10 109.5h1M29 109.5h1M37 109.5h1M39 109.5h1M103 109.5h1M3 110.5h1M6 110.5h4M13 110.5h1M38 110.5h1M41 110.5h1M3 111.5h4M8 111.5h2M12 111.5h1M16 111.5h1M36 111.5h2M39 111.5h2M95 111.5h1M3 112.5h1M5 112.5h1M7 112.5h1M13 112.5h1M16 112.5h1M27 112.5h1M39 112.5h1M95 112.5h1M101 112.5h2M4 113.5h1M13 113.5h1M15 113.5h2M26 113.5h1M39 113.5h1M74 113.5h2M0 114.5h1M7 114.5h1M15 114.5h1M17 114.5h1M38 114.5h1M40 114.5h1M46 114.5h1M66 114.5h1M77 114.5h1M0 115.5h1M41 115.5h1M47 115.5h1M58 115.5h1M61 115.5h1M65 115.5h1M77 115.5h1M80 115.5h1M82 115.5h1M96 115.5h1M1 116.5h1M20 116.5h2M35 116.5h1M40 116.5h1M45 116.5h1M58 116.5h1M60 116.5h1M78 116.5h2M82 116.5h1M84 116.5h1M89 116.5h1M91 116.5h1M104 116.5h2M37 117.5h1M42 117.5h1M45 117.5h1M50 117.5h2M53 117.5h5M78 117.5h1M85 117.5h6M104 117.5h3M41 118.5h2M53 118.5h2M56 118.5h3M66 118.5h1M89 118.5h1M93 118.5h1M104 118.5h1M13 119.5h1M25 119.5h3M40 119.5h1M43 119.5h1M59 119.5h1M65 119.5h1M67 119.5h1M92 119.5h1"/><path stroke="#330099" d="M34 0.5h4M52 0.5h1M54 0.5h5M60 0.5h1M68 0.5h2M82 0.5h2M90 0.5h1M39 1.5h7M50 1.5h2M57 1.5h1M69 1.5h1M83 1.5h2M93 1.5h1M41 2.5h2M44 2.5h2M47 2.5h5M70 2.5h1M84 2.5h2M93 2.5h1M40 3.5h3M44 3.5h2M47 3.5h1M51 3.5h3M69 3.5h4M84 3.5h1M93 3.5h2M51 4.5h3M69 4.5h2M73 4.5h3M85 4.5h4M94 4.5h1M38 5.5h3M44 5.5h2M51 5.5h1M68 5.5h3M72 5.5h5M83 5.5h4M88 5.5h1M95 5.5h1M38 6.5h2M43 6.5h1M45 6.5h1M50 6.5h2M72 6.5h7M80 6.5h7M88 6.5h1M95 6.5h1M37 7.5h5M43 7.5h2M49 7.5h2M72 7.5h3M77 7.5h2M80 7.5h2M86 7.5h2M95 7.5h1M38 8.5h1M40 8.5h5M47 8.5h2M73 8.5h3M77 8.5h1M80 8.5h2M96 8.5h1M39 9.5h3M45 9.5h3M74 9.5h8M96 9.5h1M39 10.5h2M42 10.5h1M97 10.5h1M27 11.5h2M38 11.5h2M97 11.5h2M37 12.5h2M42 12.5h1M98 12.5h4M32 13.5h2M35 13.5h2M39 13.5h1M42 13.5h3M89 13.5h1M100 13.5h1M103 13.5h2M21 14.5h1M29 14.5h3M37 14.5h1M41 14.5h4M100 14.5h1M103 14.5h2M118 14.5h2M30 15.5h1M37 15.5h2M91 15.5h1M93 15.5h7M104 15.5h2M111 15.5h1M118 15.5h2M20 16.5h1M29 16.5h3M89 16.5h2M93 16.5h1M98 16.5h2M105 16.5h2M17 17.5h1M19 17.5h2M27 17.5h7M36 17.5h1M91 17.5h9M107 17.5h1M113 17.5h1M17 18.5h2M20 18.5h1M27 18.5h4M33 18.5h3M92 18.5h3M96 18.5h1M108 18.5h2M16 19.5h7M24 19.5h2M29 19.5h2M32 19.5h3M89 19.5h2M109 19.5h2M14 20.5h5M22 20.5h4M30 20.5h2M13 21.5h2M19 21.5h1M22 21.5h2M26 21.5h1M89 21.5h2M13 22.5h2M20 22.5h1M24 22.5h1M89 22.5h1M13 23.5h4M90 23.5h1M13 24.5h2M111 24.5h1M115 24.5h4M13 25.5h2M109 25.5h1M111 25.5h1M113 25.5h1M105 26.5h1M108 26.5h1M110 26.5h3M117 26.5h3M11 27.5h1M13 27.5h1M100 27.5h2M106 27.5h2M110 27.5h2M119 27.5h1M14 28.5h2M106 28.5h2M110 28.5h1M9 29.5h5M108 29.5h2M9 30.5h1M11 30.5h1M102 30.5h1M117 30.5h3M7 31.5h2M10 31.5h1M102 31.5h1M116 31.5h2M119 31.5h1M9 32.5h2M115 32.5h1M117 32.5h2M6 33.5h1M111 33.5h1M5 34.5h2M8 34.5h1M101 34.5h1M111 34.5h1M5 35.5h1M26 35.5h1M113 35.5h1M4 36.5h2M26 36.5h1M4 37.5h2M26 37.5h1M2 38.5h1M5 38.5h1M2 39.5h1M1 40.5h2M1 41.5h2M1 43.5h1M90 44.5h1M1 45.5h1M0 46.5h1M5 46.5h1M4 47.5h2M0 48.5h1M3 50.5h2M0 51.5h2M3 51.5h1M2 52.5h3M111 52.5h1M114 52.5h1M1 53.5h2M11 53.5h1M113 53.5h2M113 54.5h3M117 54.5h1M112 55.5h2M115 55.5h1M117 55.5h2M113 56.5h4M118 56.5h1M0 57.5h1M115 57.5h1M118 57.5h1M0 58.5h1M12 58.5h1M17 58.5h1M116 58.5h1M12 59.5h2M112 59.5h1M116 59.5h2M5 60.5h1M112 60.5h1M1 61.5h1M5 61.5h3M10 61.5h1M119 61.5h1M1 62.5h1M5 62.5h1M119 62.5h1M1 63.5h2M1 64.5h2M1 65.5h2M4 65.5h1M1 66.5h1M12 66.5h1M3 67.5h1M13 67.5h1M0 68.5h1M0 69.5h2M1 70.5h2M114 70.5h2M2 71.5h1M2 72.5h1M2 73.5h1M114 73.5h2M2 74.5h1M115 74.5h1M2 75.5h1M10 76.5h1M110 76.5h1M0 77.5h2M9 77.5h1M0 78.5h2M112 78.5h2M0 79.5h2M107 79.5h2M0 80.5h2M105 80.5h4M0 81.5h1M2 81.5h3M105 81.5h2M119 81.5h1M2 82.5h3M105 82.5h1M111 82.5h1M4 83.5h2M104 83.5h1M112 83.5h1M2 84.5h4M105 84.5h1M1 85.5h3M5 85.5h2M112 85.5h1M2 86.5h1M5 86.5h2M100 86.5h1M102 86.5h1M118 86.5h1M2 87.5h5M101 87.5h1M115 87.5h1M2 88.5h5M115 88.5h1M2 89.5h8M11 89.5h3M2 90.5h5M9 90.5h1M13 90.5h1M15 90.5h1M4 91.5h1M13 91.5h1M24 91.5h1M117 91.5h1M13 92.5h1M23 92.5h2M26 92.5h1M102 92.5h2M108 92.5h1M0 93.5h1M13 93.5h2M23 93.5h2M103 93.5h1M0 94.5h1M13 94.5h2M21 94.5h1M23 94.5h2M104 94.5h1M0 95.5h1M14 95.5h2M21 95.5h3M25 95.5h1M103 95.5h1M106 95.5h1M111 95.5h5M0 96.5h1M8 96.5h2M14 96.5h1M20 96.5h2M25 96.5h1M104 96.5h1M107 96.5h1M109 96.5h2M116 96.5h1M1 97.5h1M8 97.5h2M14 97.5h1M21 97.5h4M107 97.5h1M118 97.5h1M9 98.5h4M16 98.5h1M21 98.5h1M23 98.5h3M89 98.5h3M103 98.5h2M119 98.5h1M11 99.5h1M19 99.5h1M21 99.5h4M26 99.5h1M91 99.5h1M104 99.5h2M12 100.5h1M14 100.5h2M20 100.5h4M25 100.5h1M29 100.5h1M39 100.5h1M90 100.5h2M105 100.5h1M12 101.5h4M21 101.5h2M25 101.5h6M39 101.5h2M90 101.5h1M113 101.5h2M119 101.5h1M6 102.5h1M12 102.5h4M25 102.5h1M29 102.5h3M39 102.5h1M104 102.5h1M112 102.5h1M114 102.5h1M6 103.5h3M14 103.5h3M24 103.5h1M27 103.5h1M30 103.5h2M38 103.5h2M101 103.5h1M103 103.5h2M8 104.5h1M15 104.5h1M17 104.5h1M25 104.5h1M27 104.5h2M30 104.5h2M101 104.5h1M103 104.5h1M6 105.5h4M16 105.5h2M19 105.5h1M26 105.5h4M31 105.5h2M99 105.5h1M7 106.5h3M16 106.5h2M19 106.5h1M27 106.5h3M31 106.5h4M37 106.5h3M86 106.5h1M91 106.5h1M93 106.5h1M99 106.5h1M9 107.5h2M19 107.5h2M28 107.5h1M30 107.5h1M32 107.5h5M38 107.5h2M42 107.5h1M77 107.5h1M89 107.5h3M99 107.5h1M6 108.5h1M8 108.5h3M34 108.5h3M38 108.5h3M42 108.5h1M89 108.5h2M92 108.5h3M96 108.5h1M6 109.5h1M8 109.5h2M11 109.5h1M33 109.5h4M38 109.5h1M42 109.5h1M77 109.5h1M91 109.5h4M96 109.5h1M4 110.5h1M36 110.5h1M42 110.5h1M75 110.5h1M77 110.5h1M84 110.5h1M92 110.5h1M94 110.5h3M7 111.5h1M13 111.5h2M38 111.5h1M41 111.5h2M44 111.5h1M52 111.5h2M77 111.5h2M81 111.5h1M94 111.5h1M4 112.5h1M6 112.5h1M14 112.5h2M38 112.5h1M40 112.5h1M44 112.5h1M67 112.5h7M75 112.5h1M77 112.5h1M82 112.5h1M94 112.5h1M5 113.5h2M14 113.5h1M40 113.5h2M43 113.5h3M66 113.5h1M76 113.5h2M81 113.5h3M94 113.5h1M4 114.5h3M14 114.5h1M41 114.5h5M47 114.5h1M58 114.5h2M63 114.5h3M78 114.5h6M93 114.5h2M46 115.5h1M49 115.5h4M56 115.5h2M59 115.5h2M62 115.5h3M78 115.5h2M81 115.5h1M83 115.5h2M89 115.5h2M93 115.5h3M41 116.5h1M46 116.5h2M49 116.5h4M55 116.5h3M59 116.5h1M83 116.5h1M87 116.5h1M90 116.5h1M93 116.5h2M38 117.5h4M44 117.5h1M46 117.5h4M52 117.5h1M91 117.5h3M39 118.5h2M44 118.5h3M49 118.5h4M55 118.5h1M91 118.5h2M42 119.5h1M44 119.5h2M49 119.5h8M58 119.5h1M66 119.5h1M68 119.5h1"/><path stroke="#0033cc" d="M38 0.5h14M53 0.5h1M59 0.5h1M61 0.5h1M63 0.5h5M84 0.5h6M91 0.5h3M47 1.5h3M52 1.5h5M58 1.5h3M68 1.5h1M85 1.5h8M43 2.5h1M52 2.5h8M63 2.5h1M67 2.5h3M86 2.5h7M43 3.5h1M54 3.5h6M64 3.5h2M67 3.5h2M85 3.5h8M40 4.5h5M54 4.5h6M64 4.5h5M71 4.5h2M89 4.5h5M41 5.5h3M52 5.5h7M61 5.5h7M71 5.5h1M89 5.5h6M40 6.5h3M52 6.5h3M58 6.5h2M62 6.5h2M65 6.5h7M89 6.5h6M42 7.5h1M51 7.5h2M61 7.5h3M67 7.5h5M82 7.5h4M88 7.5h7M50 8.5h3M65 8.5h1M67 8.5h1M69 8.5h4M82 8.5h14M42 9.5h3M48 9.5h4M72 9.5h2M82 9.5h5M88 9.5h8M41 10.5h1M43 10.5h9M53 10.5h1M56 10.5h2M73 10.5h15M89 10.5h8M40 11.5h11M52 11.5h5M73 11.5h9M83 11.5h11M95 11.5h2M39 12.5h3M43 12.5h8M52 12.5h1M66 12.5h1M78 12.5h3M82 12.5h1M84 12.5h8M94 12.5h4M34 13.5h1M40 13.5h2M45 13.5h3M49 13.5h2M52 13.5h2M64 13.5h2M79 13.5h2M86 13.5h3M90 13.5h2M94 13.5h1M96 13.5h4M101 13.5h2M32 14.5h5M38 14.5h3M45 14.5h2M64 14.5h2M85 14.5h15M101 14.5h2M31 15.5h6M39 15.5h7M63 15.5h3M74 15.5h2M86 15.5h5M92 15.5h1M100 15.5h4M32 16.5h13M73 16.5h4M87 16.5h2M91 16.5h2M100 16.5h5M34 17.5h2M37 17.5h8M60 17.5h1M73 17.5h1M75 17.5h1M87 17.5h4M100 17.5h7M19 18.5h1M26 18.5h1M36 18.5h2M39 18.5h1M41 18.5h3M55 18.5h2M86 18.5h6M95 18.5h1M97 18.5h11M26 19.5h3M35 19.5h3M41 19.5h3M56 19.5h1M77 19.5h4M84 19.5h5M91 19.5h18M26 20.5h4M32 20.5h5M43 20.5h1M55 20.5h1M76 20.5h5M82 20.5h15M99 20.5h12M15 21.5h4M24 21.5h2M27 21.5h10M73 21.5h1M75 21.5h1M77 21.5h12M91 21.5h20M15 22.5h5M22 22.5h2M25 22.5h14M77 22.5h2M80 22.5h5M86 22.5h3M90 22.5h8M99 22.5h12M17 23.5h14M35 23.5h5M74 23.5h3M78 23.5h4M87 23.5h3M91 23.5h6M99 23.5h12M15 24.5h4M20 24.5h12M35 24.5h2M72 24.5h10M89 24.5h5M99 24.5h1M102 24.5h9M15 25.5h19M73 25.5h6M80 25.5h3M91 25.5h1M101 25.5h8M110 25.5h1M112 25.5h1M114 25.5h5M14 26.5h7M22 26.5h1M24 26.5h3M29 26.5h2M71 26.5h1M73 26.5h10M99 26.5h6M106 26.5h2M113 26.5h4M14 27.5h6M22 27.5h6M32 27.5h1M73 27.5h5M80 27.5h3M99 27.5h1M102 27.5h4M112 27.5h7M16 28.5h4M21 28.5h1M23 28.5h6M73 28.5h3M77 28.5h1M80 28.5h1M83 28.5h1M100 28.5h6M111 28.5h3M115 28.5h5M14 29.5h3M18 29.5h4M23 29.5h6M74 29.5h2M77 29.5h2M82 29.5h3M99 29.5h9M110 29.5h4M116 29.5h4M10 30.5h1M12 30.5h5M19 30.5h1M23 30.5h1M25 30.5h2M75 30.5h1M77 30.5h3M81 30.5h1M83 30.5h2M96 30.5h2M99 30.5h3M103 30.5h11M115 30.5h2M9 31.5h1M11 31.5h3M17 31.5h2M22 31.5h1M28 31.5h1M80 31.5h5M95 31.5h3M99 31.5h3M103 31.5h13M8 32.5h1M11 32.5h3M17 32.5h1M80 32.5h4M96 32.5h2M99 32.5h5M108 32.5h7M116 32.5h1M119 32.5h1M7 33.5h6M17 33.5h4M27 33.5h1M80 33.5h4M97 33.5h8M108 33.5h3M112 33.5h8M7 34.5h1M9 34.5h3M13 34.5h1M16 34.5h6M25 34.5h4M72 34.5h2M83 34.5h1M98 34.5h3M102 34.5h3M108 34.5h3M112 34.5h8M6 35.5h6M14 35.5h1M16 35.5h7M24 35.5h2M27 35.5h2M72 35.5h3M91 35.5h1M100 35.5h4M108 35.5h5M114 35.5h6M6 36.5h4M14 36.5h7M24 36.5h2M27 36.5h2M71 36.5h2M90 36.5h3M100 36.5h4M105 36.5h1M109 36.5h7M6 37.5h3M12 37.5h1M15 37.5h6M22 37.5h1M24 37.5h2M27 37.5h1M51 37.5h4M92 37.5h3M100 37.5h1M102 37.5h1M109 37.5h8M3 38.5h2M6 38.5h4M13 38.5h15M49 38.5h1M51 38.5h3M91 38.5h4M110 38.5h2M114 38.5h3M118 38.5h2M3 39.5h12M17 39.5h7M29 39.5h1M91 39.5h4M99 39.5h1M105 39.5h1M108 39.5h2M116 39.5h4M3 40.5h8M15 40.5h2M18 40.5h6M50 40.5h1M88 40.5h2M91 40.5h4M106 40.5h2M112 40.5h1M115 40.5h5M3 41.5h9M15 41.5h1M17 41.5h7M90 41.5h1M93 41.5h1M97 41.5h1M100 41.5h2M107 41.5h2M113 41.5h1M115 41.5h5M1 42.5h5M8 42.5h2M14 42.5h1M16 42.5h7M92 42.5h3M96 42.5h2M100 42.5h4M105 42.5h1M108 42.5h1M112 42.5h8M2 43.5h10M13 43.5h2M18 43.5h5M89 43.5h6M96 43.5h1M101 43.5h5M109 43.5h11M2 44.5h6M11 44.5h9M88 44.5h2M91 44.5h1M102 44.5h4M108 44.5h10M2 45.5h6M11 45.5h6M19 45.5h2M88 45.5h5M103 45.5h1M108 45.5h1M110 45.5h7M1 46.5h4M6 46.5h2M10 46.5h8M19 46.5h1M88 46.5h4M108 46.5h10M1 47.5h3M6 47.5h2M12 47.5h1M14 47.5h2M19 47.5h1M89 47.5h4M110 47.5h8M1 48.5h7M12 48.5h2M19 48.5h1M110 48.5h10M1 49.5h8M13 49.5h1M94 49.5h1M109 49.5h11M1 50.5h2M5 50.5h1M7 50.5h1M11 50.5h3M25 50.5h1M88 50.5h1M94 50.5h2M109 50.5h10M2 51.5h1M4 51.5h4M9 51.5h5M25 51.5h1M87 51.5h2M95 51.5h1M109 51.5h10M5 52.5h3M9 52.5h5M18 52.5h2M22 52.5h5M110 52.5h1M112 52.5h2M115 52.5h3M3 53.5h8M12 53.5h3M23 53.5h3M110 53.5h3M115 53.5h4M1 54.5h13M97 54.5h1M99 54.5h1M110 54.5h3M116 54.5h1M118 54.5h2M1 55.5h4M6 55.5h4M11 55.5h4M16 55.5h1M96 55.5h4M110 55.5h2M114 55.5h1M116 55.5h1M119 55.5h1M1 56.5h8M10 56.5h8M96 56.5h3M110 56.5h3M117 56.5h1M119 56.5h1M1 57.5h3M5 57.5h4M10 57.5h9M97 57.5h2M111 57.5h4M116 57.5h2M119 57.5h1M1 58.5h8M10 58.5h2M13 58.5h4M18 58.5h2M32 58.5h1M102 58.5h1M105 58.5h2M110 58.5h6M117 58.5h3M1 59.5h11M14 59.5h6M31 59.5h1M86 59.5h1M104 59.5h1M109 59.5h3M113 59.5h3M118 59.5h2M1 60.5h4M6 60.5h8M15 60.5h6M26 60.5h7M102 60.5h5M110 60.5h2M113 60.5h7M2 61.5h3M8 61.5h2M11 61.5h6M18 61.5h5M25 61.5h8M101 61.5h6M110 61.5h9M2 62.5h3M6 62.5h8M15 62.5h1M17 62.5h2M21 62.5h3M26 62.5h7M102 62.5h2M105 62.5h1M115 62.5h4M3 63.5h13M17 63.5h14M32 63.5h1M103 63.5h1M116 63.5h4M3 64.5h12M16 64.5h1M18 64.5h9M32 64.5h1M119 64.5h1M3 65.5h1M5 65.5h4M10 65.5h12M24 65.5h3M110 65.5h1M116 65.5h1M118 65.5h2M2 66.5h5M10 66.5h2M13 66.5h6M24 66.5h3M34 66.5h2M1 67.5h2M4 67.5h4M9 67.5h1M11 67.5h2M14 67.5h4M36 67.5h2M110 67.5h2M114 67.5h4M1 68.5h7M11 68.5h5M17 68.5h1M96 68.5h1M109 68.5h2M114 68.5h4M2 69.5h5M11 69.5h1M13 69.5h3M17 69.5h1M95 69.5h2M107 69.5h4M114 69.5h3M119 69.5h1M3 70.5h3M16 70.5h1M24 70.5h4M93 70.5h1M95 70.5h1M107 70.5h7M116 70.5h3M3 71.5h4M24 71.5h3M28 71.5h1M80 71.5h1M107 71.5h5M113 71.5h5M3 72.5h1M5 72.5h4M24 72.5h3M28 72.5h2M81 72.5h1M108 72.5h12M3 73.5h7M27 73.5h4M85 73.5h1M90 73.5h1M101 73.5h1M108 73.5h2M111 73.5h1M113 73.5h1M116 73.5h2M3 74.5h10M28 74.5h3M92 74.5h1M107 74.5h3M113 74.5h2M116 74.5h2M3 75.5h2M6 75.5h7M82 75.5h1M84 75.5h3M99 75.5h2M107 75.5h2M110 75.5h10M2 76.5h2M7 76.5h3M11 76.5h4M82 76.5h1M84 76.5h1M99 76.5h3M104 76.5h6M111 76.5h6M118 76.5h2M2 77.5h2M6 77.5h1M8 77.5h1M10 77.5h2M21 77.5h1M40 77.5h1M77 77.5h2M83 77.5h2M99 77.5h3M104 77.5h5M110 77.5h10M2 78.5h2M6 78.5h6M21 78.5h1M77 78.5h1M91 78.5h1M99 78.5h3M105 78.5h4M110 78.5h2M114 78.5h6M2 79.5h10M19 79.5h3M91 79.5h1M98 79.5h2M101 79.5h1M104 79.5h3M109 79.5h6M116 79.5h2M119 79.5h1M2 80.5h11M20 80.5h2M31 80.5h1M81 80.5h1M96 80.5h1M98 80.5h1M102 80.5h3M109 80.5h6M117 80.5h3M1 81.5h1M5 81.5h4M10 81.5h1M45 81.5h1M88 81.5h1M97 81.5h2M103 81.5h2M107 81.5h7M117 81.5h2M5 82.5h3M9 82.5h1M44 82.5h2M87 82.5h2M94 82.5h1M98 82.5h1M102 82.5h3M106 82.5h5M112 82.5h2M118 82.5h2M6 83.5h4M11 83.5h2M88 83.5h1M98 83.5h1M101 83.5h3M105 83.5h7M113 83.5h1M117 83.5h3M6 84.5h10M88 84.5h3M99 84.5h6M106 84.5h8M116 84.5h4M7 85.5h2M10 85.5h6M93 85.5h1M99 85.5h8M110 85.5h2M113 85.5h2M116 85.5h4M7 86.5h10M23 86.5h2M35 86.5h2M68 86.5h2M71 86.5h1M74 86.5h1M99 86.5h1M101 86.5h1M103 86.5h3M108 86.5h10M119 86.5h1M7 87.5h11M23 87.5h1M34 87.5h3M74 87.5h1M99 87.5h2M102 87.5h5M109 87.5h3M113 87.5h2M116 87.5h4M7 88.5h11M21 88.5h1M34 88.5h3M66 88.5h2M71 88.5h1M74 88.5h1M98 88.5h8M110 88.5h5M116 88.5h3M10 89.5h1M14 89.5h4M19 89.5h1M23 89.5h5M33 89.5h3M59 89.5h1M71 89.5h3M95 89.5h1M98 89.5h20M119 89.5h1M14 90.5h1M16 90.5h2M19 90.5h2M23 90.5h6M35 90.5h3M70 90.5h2M73 90.5h1M94 90.5h8M103 90.5h4M108 90.5h4M114 90.5h6M14 91.5h4M19 91.5h5M25 91.5h2M28 91.5h1M35 91.5h1M39 91.5h2M72 91.5h3M91 91.5h2M94 91.5h13M108 91.5h2M111 91.5h6M118 91.5h2M14 92.5h2M17 92.5h6M25 92.5h1M27 92.5h4M32 92.5h1M34 92.5h7M71 92.5h4M89 92.5h1M91 92.5h11M104 92.5h4M109 92.5h11M15 93.5h8M25 93.5h14M43 93.5h1M71 93.5h4M86 93.5h1M88 93.5h15M104 93.5h16M15 94.5h2M18 94.5h3M22 94.5h1M25 94.5h12M72 94.5h3M85 94.5h6M93 94.5h11M105 94.5h15M16 95.5h5M26 95.5h10M43 95.5h1M48 95.5h1M73 95.5h1M84 95.5h2M87 95.5h4M92 95.5h2M95 95.5h8M104 95.5h2M107 95.5h4M116 95.5h4M15 96.5h5M26 96.5h10M85 96.5h9M95 96.5h9M108 96.5h1M117 96.5h3M15 97.5h6M25 97.5h12M50 97.5h1M63 97.5h1M87 97.5h6M96 97.5h9M119 97.5h1M17 98.5h4M26 98.5h11M48 98.5h1M50 98.5h2M88 98.5h1M92 98.5h2M95 98.5h2M99 98.5h2M102 98.5h1M20 99.5h1M27 99.5h10M38 99.5h5M48 99.5h2M62 99.5h1M87 99.5h4M92 99.5h2M95 99.5h2M101 99.5h3M26 100.5h3M30 100.5h9M40 100.5h3M48 100.5h2M51 100.5h1M77 100.5h2M82 100.5h2M85 100.5h5M92 100.5h5M98 100.5h2M101 100.5h4M31 101.5h8M41 101.5h3M48 101.5h4M77 101.5h4M85 101.5h5M91 101.5h8M100 101.5h6M32 102.5h7M40 102.5h4M45 102.5h1M47 102.5h6M56 102.5h1M77 102.5h4M82 102.5h22M32 103.5h6M40 103.5h3M44 103.5h10M76 103.5h4M81 103.5h5M87 103.5h2M92 103.5h9M102 103.5h1M7 104.5h1M16 104.5h1M32 104.5h10M45 104.5h1M47 104.5h1M49 104.5h5M77 104.5h7M85 104.5h4M90 104.5h1M92 104.5h9M102 104.5h1M18 105.5h1M30 105.5h1M33 105.5h9M47 105.5h2M50 105.5h3M76 105.5h23M18 106.5h1M30 106.5h1M35 106.5h2M40 106.5h3M47 106.5h1M52 106.5h2M76 106.5h6M83 106.5h3M87 106.5h4M92 106.5h1M94 106.5h5M8 107.5h1M29 107.5h1M37 107.5h1M43 107.5h7M56 107.5h1M75 107.5h2M78 107.5h3M83 107.5h6M92 107.5h7M37 108.5h1M43 108.5h4M49 108.5h1M51 108.5h1M53 108.5h4M72 108.5h17M95 108.5h1M43 109.5h3M50 109.5h7M63 109.5h3M71 109.5h6M78 109.5h9M89 109.5h2M95 109.5h1M43 110.5h16M63 110.5h2M66 110.5h3M70 110.5h5M76 110.5h1M78 110.5h6M85 110.5h2M89 110.5h3M93 110.5h1M43 111.5h1M45 111.5h2M49 111.5h3M54 111.5h6M62 111.5h15M79 111.5h2M82 111.5h5M91 111.5h3M41 112.5h3M45 112.5h3M49 112.5h18M74 112.5h1M76 112.5h1M78 112.5h4M83 112.5h4M90 112.5h4M42 113.5h1M46 113.5h20M78 113.5h3M84 113.5h5M90 113.5h4M48 114.5h10M60 114.5h3M84 114.5h9M53 115.5h3M85 115.5h4M91 115.5h2M54 116.5h1M85 116.5h2M92 116.5h1M47 118.5h2M46 119.5h3"/><path stroke="#0066ff" d="M62 0.5h1M61 1.5h7M60 2.5h1M62 2.5h1M64 2.5h3M60 3.5h4M66 3.5h1M60 4.5h4M59 5.5h2M55 6.5h3M60 6.5h2M64 6.5h1M53 7.5h8M64 7.5h3M53 8.5h3M57 8.5h8M66 8.5h1M68 8.5h1M52 9.5h2M55 9.5h17M87 9.5h1M52 10.5h1M54 10.5h2M58 10.5h2M61 10.5h2M64 10.5h9M88 10.5h1M51 11.5h1M57 11.5h2M60 11.5h9M70 11.5h3M82 11.5h1M94 11.5h1M51 12.5h1M53 12.5h2M56 12.5h6M63 12.5h3M67 12.5h1M69 12.5h1M72 12.5h6M81 12.5h1M83 12.5h1M92 12.5h2M48 13.5h1M51 13.5h1M54 13.5h1M56 13.5h1M63 13.5h1M66 13.5h2M72 13.5h7M81 13.5h5M92 13.5h2M95 13.5h1M47 14.5h7M63 14.5h1M66 14.5h2M73 14.5h7M84 14.5h1M46 15.5h1M48 15.5h2M51 15.5h2M62 15.5h1M66 15.5h2M73 15.5h1M76 15.5h4M82 15.5h1M84 15.5h2M45 16.5h1M48 16.5h2M52 16.5h1M60 16.5h8M71 16.5h2M77 16.5h4M82 16.5h1M86 16.5h1M45 17.5h1M49 17.5h1M53 17.5h4M58 17.5h2M61 17.5h4M66 17.5h1M72 17.5h1M74 17.5h1M76 17.5h4M82 17.5h5M38 18.5h1M40 18.5h1M44 18.5h1M46 18.5h1M49 18.5h1M53 18.5h2M57 18.5h1M59 18.5h3M66 18.5h3M72 18.5h14M38 19.5h3M44 19.5h1M54 19.5h2M57 19.5h1M59 19.5h1M61 19.5h1M64 19.5h1M66 19.5h3M72 19.5h3M76 19.5h1M81 19.5h3M37 20.5h6M44 20.5h1M53 20.5h2M56 20.5h2M68 20.5h1M71 20.5h1M74 20.5h2M81 20.5h1M97 20.5h2M37 21.5h8M55 21.5h2M66 21.5h3M72 21.5h1M74 21.5h1M76 21.5h1M39 22.5h1M41 22.5h4M51 22.5h1M66 22.5h1M68 22.5h1M71 22.5h6M79 22.5h1M85 22.5h1M98 22.5h1M31 23.5h4M40 23.5h1M43 23.5h2M56 23.5h1M68 23.5h1M70 23.5h4M77 23.5h1M82 23.5h5M97 23.5h2M19 24.5h1M32 24.5h3M37 24.5h2M43 24.5h1M70 24.5h2M82 24.5h3M86 24.5h3M94 24.5h5M100 24.5h2M34 25.5h2M43 25.5h4M67 25.5h3M71 25.5h2M79 25.5h1M83 25.5h3M88 25.5h3M92 25.5h2M96 25.5h5M21 26.5h1M23 26.5h1M27 26.5h2M31 26.5h4M44 26.5h2M49 26.5h2M56 26.5h4M65 26.5h6M72 26.5h1M83 26.5h12M96 26.5h3M20 27.5h2M28 27.5h4M33 27.5h2M44 27.5h3M57 27.5h4M65 27.5h2M68 27.5h5M78 27.5h2M83 27.5h8M92 27.5h2M96 27.5h3M20 28.5h1M22 28.5h1M29 28.5h1M31 28.5h1M58 28.5h3M66 28.5h3M70 28.5h3M76 28.5h1M78 28.5h2M81 28.5h2M84 28.5h4M93 28.5h3M97 28.5h3M114 28.5h1M17 29.5h1M22 29.5h1M29 29.5h1M57 29.5h4M66 29.5h2M70 29.5h2M73 29.5h1M76 29.5h1M79 29.5h3M85 29.5h2M91 29.5h1M95 29.5h4M114 29.5h2M17 30.5h2M20 30.5h3M24 30.5h1M27 30.5h4M36 30.5h1M57 30.5h8M66 30.5h2M69 30.5h6M76 30.5h1M80 30.5h1M82 30.5h1M85 30.5h1M93 30.5h1M95 30.5h1M98 30.5h1M114 30.5h1M14 31.5h3M19 31.5h3M23 31.5h5M29 31.5h2M36 31.5h1M46 31.5h1M48 31.5h2M57 31.5h4M64 31.5h2M69 31.5h11M85 31.5h1M93 31.5h2M98 31.5h1M14 32.5h3M18 32.5h12M48 32.5h1M56 32.5h3M60 32.5h1M67 32.5h1M69 32.5h6M77 32.5h3M84 32.5h3M92 32.5h4M98 32.5h1M104 32.5h4M13 33.5h4M21 33.5h6M28 33.5h3M50 33.5h1M69 33.5h1M71 33.5h3M78 33.5h2M84 33.5h1M93 33.5h4M105 33.5h3M12 34.5h1M14 34.5h2M22 34.5h3M29 34.5h1M48 34.5h2M54 34.5h1M69 34.5h3M74 34.5h2M77 34.5h2M80 34.5h3M84 34.5h2M91 34.5h2M94 34.5h4M105 34.5h3M12 35.5h2M15 35.5h1M23 35.5h1M29 35.5h1M47 35.5h3M52 35.5h3M70 35.5h2M75 35.5h4M81 35.5h1M88 35.5h3M92 35.5h8M104 35.5h4M10 36.5h4M21 36.5h3M29 36.5h2M47 36.5h4M52 36.5h4M70 36.5h1M73 36.5h3M77 36.5h1M84 36.5h1M87 36.5h1M93 36.5h7M104 36.5h1M106 36.5h3M116 36.5h4M9 37.5h3M13 37.5h2M21 37.5h1M23 37.5h1M28 37.5h3M45 37.5h1M47 37.5h4M55 37.5h1M70 37.5h5M87 37.5h5M96 37.5h4M101 37.5h1M103 37.5h6M117 37.5h3M10 38.5h3M28 38.5h3M41 38.5h1M45 38.5h4M50 38.5h1M54 38.5h3M70 38.5h2M89 38.5h2M95 38.5h2M98 38.5h12M112 38.5h2M117 38.5h1M15 39.5h2M24 39.5h5M30 39.5h1M44 39.5h1M46 39.5h1M48 39.5h8M88 39.5h3M95 39.5h4M100 39.5h1M102 39.5h3M106 39.5h2M110 39.5h6M11 40.5h4M17 40.5h1M24 40.5h6M43 40.5h5M49 40.5h1M51 40.5h2M87 40.5h1M90 40.5h1M95 40.5h11M108 40.5h4M113 40.5h2M12 41.5h3M16 41.5h1M24 41.5h6M33 41.5h3M43 41.5h1M50 41.5h1M79 41.5h3M87 41.5h3M91 41.5h2M94 41.5h3M98 41.5h2M102 41.5h5M109 41.5h4M114 41.5h1M6 42.5h2M10 42.5h4M15 42.5h1M23 42.5h8M33 42.5h3M47 42.5h1M79 42.5h4M87 42.5h5M95 42.5h1M98 42.5h2M104 42.5h1M106 42.5h2M109 42.5h3M12 43.5h1M15 43.5h3M23 43.5h1M27 43.5h1M29 43.5h2M33 43.5h4M79 43.5h5M87 43.5h2M95 43.5h1M97 43.5h4M106 43.5h3M8 44.5h3M20 44.5h5M27 44.5h2M30 44.5h1M33 44.5h5M44 44.5h1M87 44.5h1M92 44.5h10M106 44.5h2M118 44.5h1M8 45.5h3M17 45.5h2M21 45.5h4M26 45.5h1M28 45.5h5M35 45.5h2M87 45.5h1M93 45.5h4M99 45.5h1M101 45.5h2M104 45.5h4M109 45.5h1M117 45.5h1M8 46.5h2M18 46.5h1M20 46.5h1M25 46.5h5M31 46.5h1M35 46.5h2M82 46.5h1M87 46.5h1M92 46.5h3M101 46.5h7M118 46.5h2M8 47.5h4M13 47.5h1M16 47.5h3M20 47.5h1M23 47.5h3M27 47.5h2M31 47.5h1M35 47.5h2M82 47.5h1M87 47.5h2M93 47.5h4M103 47.5h7M118 47.5h2M8 48.5h4M14 48.5h5M20 48.5h1M24 48.5h1M26 48.5h2M36 48.5h3M88 48.5h9M105 48.5h5M9 49.5h4M14 49.5h2M17 49.5h6M24 49.5h4M29 49.5h1M36 49.5h4M41 49.5h1M82 49.5h1M87 49.5h7M95 49.5h1M105 49.5h4M6 50.5h1M8 50.5h3M18 50.5h7M26 50.5h5M36 50.5h4M41 50.5h1M85 50.5h3M89 50.5h5M96 50.5h1M108 50.5h1M119 50.5h1M8 51.5h1M14 51.5h1M18 51.5h7M26 51.5h4M35 51.5h1M37 51.5h6M85 51.5h2M89 51.5h1M92 51.5h3M96 51.5h1M108 51.5h1M119 51.5h1M8 52.5h1M14 52.5h1M17 52.5h1M20 52.5h2M27 52.5h3M37 52.5h7M87 52.5h12M106 52.5h4M118 52.5h2M15 53.5h1M17 53.5h6M26 53.5h2M37 53.5h4M42 53.5h1M90 53.5h1M94 53.5h7M106 53.5h4M119 53.5h1M14 54.5h6M21 54.5h5M27 54.5h2M36 54.5h5M96 54.5h1M98 54.5h1M100 54.5h3M104 54.5h2M109 54.5h1M5 55.5h1M10 55.5h1M15 55.5h1M17 55.5h3M24 55.5h1M26 55.5h2M37 55.5h2M40 55.5h1M89 55.5h2M95 55.5h1M100 55.5h5M108 55.5h2M9 56.5h1M18 56.5h3M26 56.5h1M36 56.5h1M95 56.5h1M99 56.5h4M104 56.5h1M108 56.5h2M4 57.5h1M9 57.5h1M19 57.5h2M32 57.5h2M88 57.5h1M95 57.5h2M99 57.5h4M104 57.5h7M9 58.5h1M20 58.5h1M26 58.5h2M29 58.5h1M31 58.5h1M33 58.5h2M86 58.5h1M88 58.5h1M97 58.5h5M103 58.5h2M107 58.5h3M20 59.5h2M26 59.5h5M32 59.5h2M87 59.5h2M99 59.5h5M105 59.5h4M14 60.5h1M21 60.5h2M24 60.5h1M33 60.5h1M86 60.5h5M100 60.5h2M107 60.5h3M17 61.5h1M23 61.5h2M33 61.5h1M82 61.5h2M86 61.5h5M107 61.5h3M14 62.5h1M16 62.5h1M19 62.5h2M24 62.5h2M33 62.5h2M81 62.5h4M87 62.5h1M101 62.5h1M104 62.5h1M106 62.5h9M16 63.5h1M31 63.5h1M33 63.5h3M80 63.5h1M82 63.5h3M91 63.5h1M102 63.5h1M104 63.5h3M109 63.5h7M15 64.5h1M17 64.5h1M27 64.5h5M33 64.5h4M80 64.5h5M101 64.5h4M106 64.5h2M109 64.5h10M9 65.5h1M22 65.5h2M27 65.5h2M30 65.5h8M77 65.5h2M103 65.5h3M109 65.5h1M111 65.5h2M114 65.5h2M117 65.5h1M7 66.5h3M19 66.5h5M27 66.5h3M32 66.5h2M36 66.5h2M70 66.5h1M76 66.5h2M80 66.5h3M104 66.5h2M108 66.5h12M8 67.5h1M10 67.5h1M18 67.5h10M32 67.5h4M38 67.5h1M70 67.5h1M75 67.5h4M80 67.5h2M91 67.5h6M103 67.5h7M112 67.5h2M118 67.5h2M8 68.5h3M16 68.5h1M18 68.5h11M30 68.5h1M32 68.5h6M70 68.5h1M76 68.5h1M80 68.5h3M90 68.5h6M97 68.5h1M103 68.5h6M111 68.5h3M118 68.5h2M7 69.5h4M12 69.5h1M16 69.5h1M18 69.5h10M32 69.5h1M36 69.5h2M72 69.5h1M78 69.5h3M82 69.5h1M89 69.5h6M97 69.5h1M101 69.5h6M111 69.5h3M117 69.5h2M6 70.5h10M17 70.5h7M28 70.5h1M37 70.5h1M75 70.5h1M78 70.5h5M87 70.5h1M89 70.5h4M94 70.5h1M96 70.5h2M100 70.5h7M119 70.5h1M7 71.5h12M20 71.5h4M27 71.5h1M29 71.5h2M32 71.5h1M75 71.5h1M79 71.5h1M81 71.5h3M85 71.5h1M91 71.5h7M100 71.5h7M112 71.5h1M118 71.5h2M4 72.5h1M9 72.5h3M14 72.5h4M21 72.5h1M23 72.5h1M27 72.5h1M30 72.5h3M79 72.5h2M82 72.5h13M100 72.5h8M10 73.5h3M14 73.5h3M20 73.5h2M23 73.5h4M31 73.5h1M79 73.5h6M86 73.5h4M91 73.5h3M100 73.5h1M102 73.5h1M104 73.5h4M110 73.5h1M112 73.5h1M118 73.5h2M13 74.5h4M23 74.5h5M78 74.5h14M93 74.5h1M98 74.5h9M110 74.5h3M118 74.5h2M5 75.5h1M13 75.5h3M17 75.5h1M22 75.5h9M40 75.5h1M76 75.5h6M83 75.5h1M87 75.5h6M97 75.5h2M101 75.5h6M109 75.5h1M4 76.5h3M15 76.5h3M20 76.5h8M29 76.5h3M39 76.5h5M75 76.5h7M83 76.5h1M85 76.5h3M89 76.5h4M98 76.5h1M102 76.5h2M117 76.5h1M4 77.5h2M7 77.5h1M12 77.5h9M22 77.5h2M30 77.5h1M33 77.5h1M39 77.5h1M41 77.5h3M75 77.5h2M79 77.5h4M85 77.5h3M90 77.5h2M98 77.5h1M102 77.5h2M109 77.5h1M4 78.5h2M12 78.5h9M22 78.5h2M30 78.5h2M33 78.5h1M39 78.5h2M42 78.5h1M75 78.5h2M78 78.5h9M90 78.5h1M92 78.5h2M96 78.5h3M102 78.5h3M109 78.5h1M12 79.5h5M18 79.5h1M22 79.5h2M30 79.5h3M40 79.5h1M42 79.5h2M76 79.5h2M80 79.5h9M90 79.5h1M92 79.5h6M100 79.5h1M102 79.5h2M115 79.5h1M118 79.5h1M13 80.5h1M17 80.5h3M22 80.5h2M30 80.5h1M32 80.5h2M42 80.5h2M77 80.5h1M79 80.5h2M82 80.5h1M85 80.5h2M88 80.5h1M90 80.5h6M97 80.5h1M99 80.5h3M115 80.5h2M9 81.5h1M11 81.5h5M17 81.5h2M20 81.5h3M31 81.5h2M43 81.5h2M46 81.5h1M53 81.5h1M78 81.5h2M81 81.5h1M84 81.5h4M89 81.5h8M99 81.5h4M114 81.5h2M8 82.5h1M10 82.5h9M20 82.5h3M31 82.5h2M46 82.5h2M49 82.5h1M78 82.5h2M82 82.5h1M85 82.5h2M89 82.5h5M95 82.5h3M99 82.5h1M101 82.5h1M114 82.5h2M117 82.5h1M10 83.5h1M13 83.5h9M24 83.5h1M32 83.5h1M44 83.5h4M77 83.5h1M79 83.5h2M84 83.5h4M89 83.5h9M99 83.5h2M114 83.5h3M16 84.5h1M19 84.5h7M32 84.5h2M37 84.5h1M45 84.5h2M69 84.5h5M77 84.5h4M84 84.5h4M91 84.5h8M114 84.5h2M9 85.5h1M16 85.5h1M19 85.5h8M31 85.5h8M44 85.5h2M61 85.5h1M68 85.5h8M78 85.5h2M83 85.5h3M87 85.5h6M94 85.5h5M107 85.5h3M115 85.5h1M17 86.5h4M22 86.5h1M25 86.5h1M27 86.5h1M32 86.5h3M37 86.5h2M44 86.5h2M59 86.5h2M63 86.5h1M70 86.5h1M72 86.5h2M75 86.5h2M80 86.5h4M87 86.5h12M106 86.5h2M18 87.5h5M24 87.5h5M32 87.5h2M37 87.5h1M60 87.5h3M65 87.5h9M75 87.5h2M80 87.5h2M83 87.5h1M89 87.5h1M91 87.5h8M107 87.5h2M112 87.5h1M18 88.5h3M22 88.5h7M31 88.5h3M37 88.5h2M57 88.5h4M63 88.5h3M68 88.5h3M72 88.5h2M75 88.5h1M81 88.5h2M91 88.5h7M106 88.5h4M119 88.5h1M18 89.5h1M20 89.5h3M28 89.5h1M32 89.5h1M36 89.5h3M43 89.5h1M57 89.5h1M60 89.5h1M64 89.5h7M74 89.5h5M83 89.5h1M90 89.5h5M96 89.5h2M118 89.5h1M18 90.5h1M21 90.5h2M29 90.5h3M33 90.5h2M38 90.5h2M59 90.5h1M65 90.5h5M72 90.5h1M74 90.5h2M81 90.5h3M89 90.5h5M102 90.5h1M107 90.5h1M112 90.5h2M18 91.5h1M29 91.5h6M36 91.5h3M41 91.5h1M67 91.5h5M75 91.5h1M82 91.5h1M88 91.5h3M93 91.5h1M107 91.5h1M110 91.5h1M16 92.5h1M31 92.5h1M33 92.5h1M41 92.5h4M68 92.5h3M75 92.5h1M87 92.5h2M90 92.5h1M39 93.5h4M44 93.5h1M47 93.5h2M50 93.5h2M53 93.5h1M68 93.5h3M75 93.5h1M84 93.5h2M87 93.5h1M17 94.5h1M37 94.5h9M47 94.5h6M70 94.5h2M75 94.5h1M84 94.5h1M91 94.5h2M36 95.5h4M41 95.5h2M44 95.5h2M49 95.5h4M62 95.5h1M70 95.5h3M74 95.5h1M83 95.5h1M91 95.5h1M94 95.5h1M36 96.5h10M47 96.5h5M53 96.5h1M61 96.5h2M70 96.5h6M83 96.5h2M94 96.5h1M37 97.5h7M45 97.5h5M51 97.5h2M62 97.5h1M64 97.5h1M69 97.5h2M82 97.5h5M93 97.5h3M37 98.5h8M47 98.5h1M49 98.5h1M52 98.5h1M61 98.5h4M77 98.5h11M94 98.5h1M97 98.5h2M101 98.5h1M37 99.5h1M43 99.5h3M50 99.5h3M61 99.5h1M63 99.5h2M77 99.5h7M85 99.5h2M94 99.5h1M97 99.5h4M43 100.5h2M47 100.5h1M50 100.5h1M52 100.5h1M61 100.5h1M76 100.5h1M79 100.5h3M84 100.5h1M97 100.5h1M100 100.5h1M44 101.5h4M52 101.5h6M76 101.5h1M81 101.5h4M99 101.5h1M44 102.5h1M46 102.5h1M53 102.5h3M57 102.5h1M76 102.5h1M81 102.5h1M43 103.5h1M54 103.5h3M74 103.5h2M80 103.5h1M86 103.5h1M89 103.5h3M42 104.5h3M46 104.5h1M48 104.5h1M54 104.5h2M75 104.5h2M84 104.5h1M89 104.5h1M91 104.5h1M42 105.5h5M49 105.5h1M53 105.5h3M74 105.5h2M43 106.5h4M48 106.5h4M54 106.5h3M73 106.5h3M82 106.5h1M50 107.5h6M57 107.5h1M61 107.5h1M65 107.5h1M71 107.5h4M81 107.5h2M47 108.5h2M50 108.5h1M52 108.5h1M57 108.5h2M61 108.5h6M70 108.5h2M46 109.5h4M57 109.5h6M66 109.5h5M87 109.5h2M59 110.5h4M65 110.5h1M69 110.5h1M87 110.5h2M47 111.5h2M60 111.5h2M87 111.5h4M48 112.5h1M87 112.5h3M89 113.5h1"/><path stroke="#cc99cc" d="M98 0.5h1M119 0.5h1M9 1.5h1M23 1.5h2M111 1.5h1M76 2.5h1M80 2.5h1M110 2.5h1M20 3.5h1M11 4.5h1M34 4.5h1M108 4.5h1M119 4.5h1M5 5.5h1M32 5.5h1M107 5.5h1M111 5.5h1M119 5.5h1M30 6.5h1M5 7.5h1M28 7.5h1M113 7.5h1M115 7.5h1M12 8.5h1M22 8.5h1M101 8.5h1M3 9.5h1M22 10.5h1M104 10.5h1M109 10.5h2M112 12.5h1M113 13.5h1M115 13.5h1M7 14.5h1M16 14.5h1M7 15.5h1M13 15.5h1M116 15.5h1M7 16.5h1M5 17.5h1M4 20.5h1M2 21.5h1M9 21.5h1M8 22.5h1M8 24.5h1M7 25.5h1M7 27.5h1M0 73.5h1M111 98.5h1M109 101.5h1M119 106.5h1M110 108.5h1M112 108.5h1M23 109.5h1M17 110.5h1M23 110.5h1M25 110.5h1M117 110.5h1M114 111.5h1M107 112.5h1M111 112.5h1M25 114.5h1M112 114.5h1M71 116.5h1M73 116.5h2M112 116.5h1M114 116.5h1M116 116.5h1M6 117.5h1M9 118.5h1M99 118.5h1M72 119.5h1M100 119.5h1"/><path stroke="#ffffff" d="M101 0.5h1M112 0.5h1M103 1.5h1M105 2.5h1M14 7.5h1M110 7.5h1M110 8.5h1M118 19.5h1M118 20.5h1M115 113.5h1M119 118.5h1M7 119.5h1M119 119.5h1"/><path stroke="#dcdcdc" d="M102 0.5h2M111 0.5h1M0 1.5h2M12 1.5h1M102 1.5h1M104 1.5h2M113 1.5h1M0 2.5h2M10 2.5h1M104 2.5h1M0 3.5h1M18 4.5h1M117 5.5h1M6 6.5h1M109 6.5h2M117 6.5h1M109 7.5h1M111 7.5h1M14 8.5h1M109 8.5h1M111 8.5h1M119 8.5h1M12 9.5h1M111 9.5h2M118 18.5h1M119 20.5h1M108 109.5h1M109 110.5h2M107 111.5h1M20 112.5h2M115 112.5h2M114 113.5h1M116 113.5h1M115 115.5h1M97 117.5h1M119 117.5h1M7 118.5h1M31 118.5h2M96 118.5h2M118 118.5h1M32 119.5h1M96 119.5h2M117 119.5h2"/><path stroke="#0099ff" d="M61 2.5h1M56 8.5h1M54 9.5h1M60 10.5h1M63 10.5h1M59 11.5h1M69 11.5h1M55 12.5h1M62 12.5h1M68 12.5h1M70 12.5h2M55 13.5h1M57 13.5h6M68 13.5h4M54 14.5h6M61 14.5h2M68 14.5h1M71 14.5h2M80 14.5h4M47 15.5h1M50 15.5h1M53 15.5h6M61 15.5h1M68 15.5h1M70 15.5h3M80 15.5h2M83 15.5h1M46 16.5h2M50 16.5h2M53 16.5h1M55 16.5h5M68 16.5h1M70 16.5h1M81 16.5h1M83 16.5h3M46 17.5h3M50 17.5h3M57 17.5h1M65 17.5h1M67 17.5h5M80 17.5h2M45 18.5h1M47 18.5h2M50 18.5h3M58 18.5h1M62 18.5h4M69 18.5h3M45 19.5h9M58 19.5h1M60 19.5h1M62 19.5h2M65 19.5h1M69 19.5h3M75 19.5h1M45 20.5h4M50 20.5h3M58 20.5h2M61 20.5h7M69 20.5h2M72 20.5h2M45 21.5h1M47 21.5h2M50 21.5h1M53 21.5h2M57 21.5h1M61 21.5h2M69 21.5h3M40 22.5h1M45 22.5h2M49 22.5h2M53 22.5h5M60 22.5h1M62 22.5h1M65 22.5h1M67 22.5h1M69 22.5h2M41 23.5h2M45 23.5h7M54 23.5h2M57 23.5h1M59 23.5h1M61 23.5h1M64 23.5h4M69 23.5h1M39 24.5h4M44 24.5h8M55 24.5h8M65 24.5h5M85 24.5h1M36 25.5h3M40 25.5h3M47 25.5h4M54 25.5h1M56 25.5h5M62 25.5h1M64 25.5h3M70 25.5h1M86 25.5h2M94 25.5h2M35 26.5h9M46 26.5h3M55 26.5h1M60 26.5h1M95 26.5h1M35 27.5h9M47 27.5h1M49 27.5h3M55 27.5h2M61 27.5h2M64 27.5h1M67 27.5h1M91 27.5h1M94 27.5h2M30 28.5h1M32 28.5h3M36 28.5h2M40 28.5h2M43 28.5h7M51 28.5h3M55 28.5h3M61 28.5h2M64 28.5h2M69 28.5h1M88 28.5h5M96 28.5h1M30 29.5h3M34 29.5h1M37 29.5h3M42 29.5h10M56 29.5h1M61 29.5h5M68 29.5h2M72 29.5h1M87 29.5h2M92 29.5h3M31 30.5h2M35 30.5h1M37 30.5h2M40 30.5h1M43 30.5h9M54 30.5h3M65 30.5h1M68 30.5h1M86 30.5h2M91 30.5h2M94 30.5h1M31 31.5h1M35 31.5h1M37 31.5h2M41 31.5h2M45 31.5h1M47 31.5h1M51 31.5h6M61 31.5h3M66 31.5h3M86 31.5h4M91 31.5h2M30 32.5h2M35 32.5h2M38 32.5h2M42 32.5h1M46 32.5h2M49 32.5h5M55 32.5h1M59 32.5h1M61 32.5h6M68 32.5h1M75 32.5h2M87 32.5h5M31 33.5h1M34 33.5h1M38 33.5h2M47 33.5h3M51 33.5h8M60 33.5h4M66 33.5h3M70 33.5h1M74 33.5h4M85 33.5h4M90 33.5h3M30 34.5h3M34 34.5h1M45 34.5h3M50 34.5h4M55 34.5h2M58 34.5h1M60 34.5h4M67 34.5h2M76 34.5h1M79 34.5h1M86 34.5h5M93 34.5h1M30 35.5h4M45 35.5h2M50 35.5h2M55 35.5h2M61 35.5h2M68 35.5h2M79 35.5h2M82 35.5h6M31 36.5h4M45 36.5h2M51 36.5h1M56 36.5h1M62 36.5h1M67 36.5h3M76 36.5h1M78 36.5h2M82 36.5h2M85 36.5h2M88 36.5h2M31 37.5h4M46 37.5h1M56 37.5h1M67 37.5h3M75 37.5h1M83 37.5h4M95 37.5h1M31 38.5h4M40 38.5h1M42 38.5h3M57 38.5h1M69 38.5h1M72 38.5h4M81 38.5h8M97 38.5h1M31 39.5h1M33 39.5h4M40 39.5h4M45 39.5h1M47 39.5h1M56 39.5h1M69 39.5h4M74 39.5h1M76 39.5h1M81 39.5h2M85 39.5h3M101 39.5h1M30 40.5h2M33 40.5h3M40 40.5h3M48 40.5h1M53 40.5h1M55 40.5h1M62 40.5h2M71 40.5h2M76 40.5h6M84 40.5h3M30 41.5h3M36 41.5h1M40 41.5h2M44 41.5h6M51 41.5h4M76 41.5h3M82 41.5h5M31 42.5h2M36 42.5h6M43 42.5h4M48 42.5h4M53 42.5h4M76 42.5h3M83 42.5h1M86 42.5h1M24 43.5h3M28 43.5h1M31 43.5h2M37 43.5h1M41 43.5h1M43 43.5h2M47 43.5h1M54 43.5h4M60 43.5h1M78 43.5h1M86 43.5h1M25 44.5h2M29 44.5h1M31 44.5h2M38 44.5h1M43 44.5h1M45 44.5h2M54 44.5h6M77 44.5h8M86 44.5h1M119 44.5h1M25 45.5h1M27 45.5h1M33 45.5h2M37 45.5h5M43 45.5h4M54 45.5h5M80 45.5h7M97 45.5h2M100 45.5h1M118 45.5h2M21 46.5h4M30 46.5h1M32 46.5h3M37 46.5h9M51 46.5h1M53 46.5h2M80 46.5h2M83 46.5h4M95 46.5h6M21 47.5h2M26 47.5h1M29 47.5h2M32 47.5h3M37 47.5h9M81 47.5h1M83 47.5h4M98 47.5h5M21 48.5h3M25 48.5h1M28 48.5h8M40 48.5h4M47 48.5h2M81 48.5h7M97 48.5h2M100 48.5h5M16 49.5h1M23 49.5h1M28 49.5h1M30 49.5h6M40 49.5h1M42 49.5h2M80 49.5h2M83 49.5h4M96 49.5h9M14 50.5h4M31 50.5h1M33 50.5h3M40 50.5h1M42 50.5h2M80 50.5h5M97 50.5h4M102 50.5h6M15 51.5h3M30 51.5h1M34 51.5h1M36 51.5h1M43 51.5h1M81 51.5h4M90 51.5h2M97 51.5h4M103 51.5h5M15 52.5h2M34 52.5h3M44 52.5h1M82 52.5h1M84 52.5h3M99 52.5h1M102 52.5h4M16 53.5h1M28 53.5h2M34 53.5h3M41 53.5h1M43 53.5h2M70 53.5h1M83 53.5h7M91 53.5h3M101 53.5h5M20 54.5h1M26 54.5h1M29 54.5h1M35 54.5h1M41 54.5h2M86 54.5h10M103 54.5h1M106 54.5h3M20 55.5h4M25 55.5h1M28 55.5h1M36 55.5h1M39 55.5h1M41 55.5h1M86 55.5h1M88 55.5h1M91 55.5h4M105 55.5h3M21 56.5h2M24 56.5h2M27 56.5h1M29 56.5h2M32 56.5h4M37 56.5h5M85 56.5h1M88 56.5h4M103 56.5h1M105 56.5h3M21 57.5h2M25 57.5h7M34 57.5h2M79 57.5h3M85 57.5h3M89 57.5h3M94 57.5h1M103 57.5h1M21 58.5h2M25 58.5h1M28 58.5h1M30 58.5h1M79 58.5h1M81 58.5h1M85 58.5h1M87 58.5h1M89 58.5h2M92 58.5h1M94 58.5h3M22 59.5h4M34 59.5h1M43 59.5h1M79 59.5h1M81 59.5h5M89 59.5h3M97 59.5h2M23 60.5h1M25 60.5h1M34 60.5h1M42 60.5h1M67 60.5h1M80 60.5h6M91 60.5h2M99 60.5h1M34 61.5h1M45 61.5h1M79 61.5h3M84 61.5h2M91 61.5h1M100 61.5h1M35 62.5h1M76 62.5h1M79 62.5h2M85 62.5h2M88 62.5h5M99 62.5h2M36 63.5h3M76 63.5h2M81 63.5h1M85 63.5h6M92 63.5h4M99 63.5h3M107 63.5h2M37 64.5h3M45 64.5h4M69 64.5h1M72 64.5h1M77 64.5h3M85 64.5h11M98 64.5h3M105 64.5h1M108 64.5h1M29 65.5h1M38 65.5h1M74 65.5h3M79 65.5h17M97 65.5h2M100 65.5h3M106 65.5h3M113 65.5h1M30 66.5h2M38 66.5h2M41 66.5h1M69 66.5h1M71 66.5h1M73 66.5h3M78 66.5h2M83 66.5h3M88 66.5h16M106 66.5h2M28 67.5h4M69 67.5h1M71 67.5h2M74 67.5h1M79 67.5h1M82 67.5h3M88 67.5h3M97 67.5h6M29 68.5h1M31 68.5h1M38 68.5h1M69 68.5h1M71 68.5h5M77 68.5h3M83 68.5h2M87 68.5h1M89 68.5h1M98 68.5h5M28 69.5h4M33 69.5h3M38 69.5h1M69 69.5h3M73 69.5h5M81 69.5h1M83 69.5h6M98 69.5h3M29 70.5h8M38 70.5h2M41 70.5h3M69 70.5h1M71 70.5h4M76 70.5h2M83 70.5h4M88 70.5h1M19 71.5h1M31 71.5h1M33 71.5h8M51 71.5h1M74 71.5h1M76 71.5h3M84 71.5h1M86 71.5h5M99 71.5h1M12 72.5h2M18 72.5h3M22 72.5h1M33 72.5h2M36 72.5h7M44 72.5h1M46 72.5h2M51 72.5h2M54 72.5h3M74 72.5h5M95 72.5h5M13 73.5h1M17 73.5h3M22 73.5h1M32 73.5h2M37 73.5h2M40 73.5h2M46 73.5h3M54 73.5h1M73 73.5h6M94 73.5h6M103 73.5h1M17 74.5h6M31 74.5h2M38 74.5h4M44 74.5h2M47 74.5h2M73 74.5h5M94 74.5h4M16 75.5h1M18 75.5h4M31 75.5h2M38 75.5h2M41 75.5h2M46 75.5h1M73 75.5h3M93 75.5h4M18 76.5h2M28 76.5h1M32 76.5h1M38 76.5h1M44 76.5h1M74 76.5h1M88 76.5h1M94 76.5h4M24 77.5h6M31 77.5h2M38 77.5h1M44 77.5h2M74 77.5h1M88 77.5h2M92 77.5h6M24 78.5h3M28 78.5h2M32 78.5h1M34 78.5h1M38 78.5h1M41 78.5h1M43 78.5h1M56 78.5h1M74 78.5h1M87 78.5h3M94 78.5h2M17 79.5h1M24 79.5h1M28 79.5h1M33 79.5h7M41 79.5h1M44 79.5h1M50 79.5h1M74 79.5h2M78 79.5h2M89 79.5h1M14 80.5h3M24 80.5h2M29 80.5h1M34 80.5h3M39 80.5h3M44 80.5h8M53 80.5h1M74 80.5h3M78 80.5h1M83 80.5h2M87 80.5h1M89 80.5h1M16 81.5h1M19 81.5h1M23 81.5h3M30 81.5h1M33 81.5h3M38 81.5h1M40 81.5h3M47 81.5h6M54 81.5h1M75 81.5h3M80 81.5h1M82 81.5h2M116 81.5h1M19 82.5h1M23 82.5h3M30 82.5h1M33 82.5h2M39 82.5h5M48 82.5h1M50 82.5h5M75 82.5h3M80 82.5h2M83 82.5h2M100 82.5h1M116 82.5h1M22 83.5h2M25 83.5h1M30 83.5h2M33 83.5h3M37 83.5h7M48 83.5h3M63 83.5h2M68 83.5h4M74 83.5h3M78 83.5h1M81 83.5h3M17 84.5h2M26 84.5h1M28 84.5h4M34 84.5h3M38 84.5h3M42 84.5h3M47 84.5h2M62 84.5h2M66 84.5h3M74 84.5h3M81 84.5h3M17 85.5h2M27 85.5h4M39 85.5h2M42 85.5h2M46 85.5h1M58 85.5h3M62 85.5h4M67 85.5h1M76 85.5h2M80 85.5h3M86 85.5h1M21 86.5h1M26 86.5h1M28 86.5h1M31 86.5h1M39 86.5h1M43 86.5h1M46 86.5h1M58 86.5h1M61 86.5h2M64 86.5h4M77 86.5h3M84 86.5h3M29 87.5h3M38 87.5h2M42 87.5h5M56 87.5h4M63 87.5h2M77 87.5h3M82 87.5h1M84 87.5h2M87 87.5h2M90 87.5h1M29 88.5h2M39 88.5h7M56 88.5h1M61 88.5h2M76 88.5h5M83 88.5h2M87 88.5h4M29 89.5h3M39 89.5h4M44 89.5h2M58 89.5h1M61 89.5h3M79 89.5h4M84 89.5h1M87 89.5h3M32 90.5h1M40 90.5h6M50 90.5h1M57 90.5h2M60 90.5h5M76 90.5h1M78 90.5h3M88 90.5h1M42 91.5h5M48 91.5h6M58 91.5h9M76 91.5h1M80 91.5h2M83 91.5h5M45 92.5h6M52 92.5h3M58 92.5h7M67 92.5h1M76 92.5h1M82 92.5h5M45 93.5h2M49 93.5h1M52 93.5h1M54 93.5h1M60 93.5h4M67 93.5h1M76 93.5h1M82 93.5h2M46 94.5h1M53 94.5h4M61 94.5h3M66 94.5h4M76 94.5h1M83 94.5h1M40 95.5h1M46 95.5h2M53 95.5h1M55 95.5h2M60 95.5h2M63 95.5h2M67 95.5h3M75 95.5h2M46 96.5h1M52 96.5h1M60 96.5h1M63 96.5h1M67 96.5h3M76 96.5h1M78 96.5h2M81 96.5h2M44 97.5h1M53 97.5h2M61 97.5h1M65 97.5h1M68 97.5h1M71 97.5h11M45 98.5h2M53 98.5h2M59 98.5h2M65 98.5h1M67 98.5h6M75 98.5h2M46 99.5h2M53 99.5h5M59 99.5h2M65 99.5h5M74 99.5h3M84 99.5h1M45 100.5h2M53 100.5h8M62 100.5h5M74 100.5h2M58 101.5h2M61 101.5h6M74 101.5h2M58 102.5h2M62 102.5h2M66 102.5h3M71 102.5h1M73 102.5h3M57 103.5h3M67 103.5h3M72 103.5h2M56 104.5h2M61 104.5h1M65 104.5h5M72 104.5h3M56 105.5h12M69 105.5h1M71 105.5h3M57 106.5h12M70 106.5h1M72 106.5h1M58 107.5h3M62 107.5h3M66 107.5h5M59 108.5h2M67 108.5h3"/><path stroke="#00ccff" d="M60 14.5h1M69 14.5h2M59 15.5h2M69 15.5h1M54 16.5h1M69 16.5h1M49 20.5h1M60 20.5h1M46 21.5h1M49 21.5h1M51 21.5h2M58 21.5h3M63 21.5h3M47 22.5h2M52 22.5h1M58 22.5h2M61 22.5h1M63 22.5h2M52 23.5h2M58 23.5h1M60 23.5h1M62 23.5h2M52 24.5h1M54 24.5h1M63 24.5h2M39 25.5h1M51 25.5h1M53 25.5h1M55 25.5h1M61 25.5h1M63 25.5h1M51 26.5h2M54 26.5h1M61 26.5h4M48 27.5h1M52 27.5h3M63 27.5h1M35 28.5h1M38 28.5h2M42 28.5h1M50 28.5h1M54 28.5h1M63 28.5h1M33 29.5h1M35 29.5h2M40 29.5h2M52 29.5h4M89 29.5h2M33 30.5h2M39 30.5h1M41 30.5h2M52 30.5h2M88 30.5h3M32 31.5h3M39 31.5h2M43 31.5h2M50 31.5h1M90 31.5h1M32 32.5h3M37 32.5h1M40 32.5h2M43 32.5h3M54 32.5h1M32 33.5h2M35 33.5h1M37 33.5h1M40 33.5h7M59 33.5h1M64 33.5h2M89 33.5h1M33 34.5h1M35 34.5h1M37 34.5h1M39 34.5h3M57 34.5h1M59 34.5h1M64 34.5h3M34 35.5h8M44 35.5h1M57 35.5h2M60 35.5h1M63 35.5h5M35 36.5h10M57 36.5h1M61 36.5h1M63 36.5h4M80 36.5h2M35 37.5h10M57 37.5h1M64 37.5h1M66 37.5h1M76 37.5h4M81 37.5h2M35 38.5h5M61 38.5h8M76 38.5h5M32 39.5h1M37 39.5h1M39 39.5h1M57 39.5h1M59 39.5h1M61 39.5h8M73 39.5h1M75 39.5h1M77 39.5h4M83 39.5h2M32 40.5h1M36 40.5h1M39 40.5h1M54 40.5h1M56 40.5h1M58 40.5h1M60 40.5h2M64 40.5h4M69 40.5h2M73 40.5h1M75 40.5h1M82 40.5h2M37 41.5h3M42 41.5h1M55 41.5h4M60 41.5h7M69 41.5h1M71 41.5h5M42 42.5h1M52 42.5h1M57 42.5h5M63 42.5h2M71 42.5h5M84 42.5h2M38 43.5h3M42 43.5h1M45 43.5h2M48 43.5h6M58 43.5h2M61 43.5h1M72 43.5h6M84 43.5h2M39 44.5h4M47 44.5h3M52 44.5h2M60 44.5h1M71 44.5h2M74 44.5h3M85 44.5h1M42 45.5h1M47 45.5h2M51 45.5h3M59 45.5h1M73 45.5h1M75 45.5h5M46 46.5h5M52 46.5h1M55 46.5h1M58 46.5h3M73 46.5h1M76 46.5h4M46 47.5h5M52 47.5h4M59 47.5h1M71 47.5h1M73 47.5h8M97 47.5h1M39 48.5h1M44 48.5h3M49 48.5h2M54 48.5h2M70 48.5h2M73 48.5h2M77 48.5h1M79 48.5h2M99 48.5h1M44 49.5h2M47 49.5h4M54 49.5h1M68 49.5h3M79 49.5h1M32 50.5h1M44 50.5h3M68 50.5h3M79 50.5h1M101 50.5h1M31 51.5h3M44 51.5h2M68 51.5h3M79 51.5h2M101 51.5h2M30 52.5h4M45 52.5h1M54 52.5h1M57 52.5h1M66 52.5h1M68 52.5h3M80 52.5h2M83 52.5h1M100 52.5h2M30 53.5h4M45 53.5h1M54 53.5h2M69 53.5h1M71 53.5h1M81 53.5h2M30 54.5h5M43 54.5h2M53 54.5h3M67 54.5h1M69 54.5h3M82 54.5h4M29 55.5h7M42 55.5h2M53 55.5h3M67 55.5h2M71 55.5h3M78 55.5h3M82 55.5h4M87 55.5h1M23 56.5h1M28 56.5h1M31 56.5h1M42 56.5h1M53 56.5h1M61 56.5h1M65 56.5h3M69 56.5h4M78 56.5h7M86 56.5h2M92 56.5h3M23 57.5h2M36 57.5h9M54 57.5h1M64 57.5h3M68 57.5h1M71 57.5h3M78 57.5h1M82 57.5h3M92 57.5h2M23 58.5h2M35 58.5h2M38 58.5h6M52 58.5h2M60 58.5h1M62 58.5h1M65 58.5h1M68 58.5h1M80 58.5h1M82 58.5h3M91 58.5h1M93 58.5h1M35 59.5h1M39 59.5h4M44 59.5h1M53 59.5h2M62 59.5h1M65 59.5h5M80 59.5h1M92 59.5h5M35 60.5h1M41 60.5h1M43 60.5h2M53 60.5h1M61 60.5h2M65 60.5h2M68 60.5h2M71 60.5h1M73 60.5h1M78 60.5h2M93 60.5h6M35 61.5h3M39 61.5h5M46 61.5h1M62 61.5h6M69 61.5h3M73 61.5h2M77 61.5h2M92 61.5h4M99 61.5h1M36 62.5h5M42 62.5h5M65 62.5h2M69 62.5h1M71 62.5h5M77 62.5h2M93 62.5h6M40 63.5h9M69 63.5h7M78 63.5h2M96 63.5h3M40 64.5h1M44 64.5h1M67 64.5h2M70 64.5h2M73 64.5h4M96 64.5h2M39 65.5h2M42 65.5h8M60 65.5h2M68 65.5h6M96 65.5h1M99 65.5h1M40 66.5h1M42 66.5h5M48 66.5h1M59 66.5h4M67 66.5h2M72 66.5h1M86 66.5h2M39 67.5h1M41 67.5h3M45 67.5h1M56 67.5h7M67 67.5h2M73 67.5h1M85 67.5h3M39 68.5h3M43 68.5h1M46 68.5h2M59 68.5h4M68 68.5h1M85 68.5h2M88 68.5h1M39 69.5h9M54 69.5h2M59 69.5h1M62 69.5h1M68 69.5h1M40 70.5h1M44 70.5h5M50 70.5h5M68 70.5h1M70 70.5h1M98 70.5h2M41 71.5h10M52 71.5h4M57 71.5h1M69 71.5h5M98 71.5h1M35 72.5h1M43 72.5h1M45 72.5h1M48 72.5h3M53 72.5h1M70 72.5h4M34 73.5h3M39 73.5h1M42 73.5h4M49 73.5h5M55 73.5h1M57 73.5h1M69 73.5h1M71 73.5h2M33 74.5h5M42 74.5h2M46 74.5h1M49 74.5h1M51 74.5h5M57 74.5h1M64 74.5h1M67 74.5h1M72 74.5h1M33 75.5h5M43 75.5h3M47 75.5h4M52 75.5h1M57 75.5h8M72 75.5h1M33 76.5h2M36 76.5h2M45 76.5h6M56 76.5h5M62 76.5h4M73 76.5h1M93 76.5h1M34 77.5h4M46 77.5h5M52 77.5h1M55 77.5h4M60 77.5h1M63 77.5h2M73 77.5h1M27 78.5h1M35 78.5h3M44 78.5h3M50 78.5h4M63 78.5h1M73 78.5h1M25 79.5h3M29 79.5h1M45 79.5h5M51 79.5h1M53 79.5h3M73 79.5h1M26 80.5h3M37 80.5h2M52 80.5h1M54 80.5h1M57 80.5h1M73 80.5h1M26 81.5h2M29 81.5h1M36 81.5h2M39 81.5h1M55 81.5h4M74 81.5h1M26 82.5h4M35 82.5h4M55 82.5h1M57 82.5h1M63 82.5h2M68 82.5h1M70 82.5h2M73 82.5h2M26 83.5h2M29 83.5h1M36 83.5h1M51 83.5h8M65 83.5h3M72 83.5h2M27 84.5h1M41 84.5h1M49 84.5h3M57 84.5h5M64 84.5h2M41 85.5h1M47 85.5h2M56 85.5h2M66 85.5h1M29 86.5h2M40 86.5h3M47 86.5h2M56 86.5h2M40 87.5h2M47 87.5h1M86 87.5h1M46 88.5h2M55 88.5h1M85 88.5h2M46 89.5h5M54 89.5h3M85 89.5h2M46 90.5h4M51 90.5h6M77 90.5h1M84 90.5h4M47 91.5h1M55 91.5h3M77 91.5h3M51 92.5h1M55 92.5h3M65 92.5h2M77 92.5h2M80 92.5h2M55 93.5h5M64 93.5h3M77 93.5h5M57 94.5h4M64 94.5h2M77 94.5h2M81 94.5h2M54 95.5h1M57 95.5h3M65 95.5h2M77 95.5h6M54 96.5h6M64 96.5h3M77 96.5h1M80 96.5h1M55 97.5h6M66 97.5h2M55 98.5h4M66 98.5h1M73 98.5h2M58 99.5h1M70 99.5h4M67 100.5h7M60 101.5h1M67 101.5h7M60 102.5h2M64 102.5h2M69 102.5h2M72 102.5h1M60 103.5h7M70 103.5h2M58 104.5h3M62 104.5h3M70 104.5h2M68 105.5h1M70 105.5h1M69 106.5h1M71 106.5h1"/><path stroke="#00cccc" d="M53 24.5h1M52 25.5h1M53 26.5h1M36 33.5h1M36 34.5h1M38 34.5h1M42 34.5h3M42 35.5h2M59 35.5h1M58 36.5h1M60 36.5h1M58 37.5h6M65 37.5h1M80 37.5h1M58 38.5h3M38 39.5h1M58 39.5h1M60 39.5h1M37 40.5h2M57 40.5h1M59 40.5h1M68 40.5h1M74 40.5h1M59 41.5h1M67 41.5h2M70 41.5h1M62 42.5h1M65 42.5h2M69 42.5h1M63 43.5h2M69 43.5h1M71 43.5h1M50 44.5h2M64 44.5h1M70 44.5h1M73 44.5h1M49 45.5h1M60 45.5h1M70 45.5h2M74 45.5h1M56 46.5h2M69 46.5h4M75 46.5h1M51 47.5h1M58 47.5h1M69 47.5h2M72 47.5h1M51 48.5h3M57 48.5h1M69 48.5h1M72 48.5h1M75 48.5h2M78 48.5h1M46 49.5h1M51 49.5h1M53 49.5h1M57 49.5h1M63 49.5h1M71 49.5h2M76 49.5h3M47 50.5h4M54 50.5h2M63 50.5h1M71 50.5h2M76 50.5h1M46 51.5h1M51 51.5h2M55 51.5h1M63 51.5h1M71 51.5h1M53 52.5h1M55 52.5h2M64 52.5h1M67 52.5h1M79 52.5h1M53 53.5h1M56 53.5h1M61 53.5h2M64 53.5h5M76 53.5h1M79 53.5h2M45 54.5h1M57 54.5h1M63 54.5h4M68 54.5h1M72 54.5h1M79 54.5h2M57 55.5h1M62 55.5h5M69 55.5h2M76 55.5h2M81 55.5h1M43 56.5h2M47 56.5h1M52 56.5h1M54 56.5h1M56 56.5h1M60 56.5h1M62 56.5h3M68 56.5h1M73 56.5h4M45 57.5h1M52 57.5h2M55 57.5h1M60 57.5h1M62 57.5h2M67 57.5h1M70 57.5h1M74 57.5h1M76 57.5h2M37 58.5h1M44 58.5h2M54 58.5h2M61 58.5h1M63 58.5h2M66 58.5h1M71 58.5h4M77 58.5h2M36 59.5h3M45 59.5h2M55 59.5h1M61 59.5h1M63 59.5h2M70 59.5h1M72 59.5h4M77 59.5h2M36 60.5h1M39 60.5h2M45 60.5h2M54 60.5h1M63 60.5h2M70 60.5h1M72 60.5h1M74 60.5h1M77 60.5h1M38 61.5h1M44 61.5h1M47 61.5h1M68 61.5h1M72 61.5h1M75 61.5h2M96 61.5h3M41 62.5h1M47 62.5h1M62 62.5h1M67 62.5h2M70 62.5h1M39 63.5h1M65 63.5h1M67 63.5h2M41 64.5h3M63 64.5h1M66 64.5h1M41 65.5h1M58 65.5h1M62 65.5h2M47 66.5h1M49 66.5h1M55 66.5h2M66 66.5h1M40 67.5h1M44 67.5h1M46 67.5h4M53 67.5h3M63 67.5h1M42 68.5h1M44 68.5h2M48 68.5h1M53 68.5h4M58 68.5h1M67 68.5h1M48 69.5h2M51 69.5h2M58 69.5h1M60 69.5h2M67 69.5h1M49 70.5h1M55 70.5h1M57 70.5h1M59 70.5h1M67 70.5h1M56 71.5h1M58 71.5h2M68 71.5h1M57 72.5h1M68 72.5h2M56 73.5h1M58 73.5h2M68 73.5h1M70 73.5h1M50 74.5h1M56 74.5h1M58 74.5h2M62 74.5h2M65 74.5h2M68 74.5h1M51 75.5h1M53 75.5h4M65 75.5h4M35 76.5h1M52 76.5h3M61 76.5h1M66 76.5h2M72 76.5h1M51 77.5h1M53 77.5h2M59 77.5h1M62 77.5h1M47 78.5h3M54 78.5h2M57 78.5h3M61 78.5h2M65 78.5h1M72 78.5h1M52 79.5h1M56 79.5h3M60 79.5h1M62 79.5h1M55 80.5h1M58 80.5h1M28 81.5h1M72 81.5h2M56 82.5h1M58 82.5h1M61 82.5h1M65 82.5h3M72 82.5h1M28 83.5h1M61 83.5h2M52 84.5h5M49 85.5h2M52 85.5h1M54 85.5h1M49 86.5h1M48 87.5h1M52 87.5h4M48 88.5h1M54 88.5h1M51 89.5h3M54 91.5h1M79 92.5h1M79 94.5h2"/><path stroke="#00ffcc" d="M59 36.5h1M67 42.5h2M70 42.5h1M62 43.5h1M65 43.5h4M70 43.5h1M61 44.5h3M65 44.5h5M50 45.5h1M61 45.5h1M66 45.5h1M68 45.5h2M72 45.5h1M61 46.5h1M68 46.5h1M74 46.5h1M56 47.5h2M60 47.5h2M56 48.5h1M58 48.5h3M68 48.5h1M52 49.5h1M55 49.5h2M58 49.5h5M67 49.5h1M73 49.5h3M51 50.5h3M56 50.5h7M64 50.5h1M66 50.5h2M73 50.5h3M77 50.5h2M47 51.5h4M53 51.5h2M56 51.5h7M64 51.5h4M72 51.5h7M46 52.5h3M50 52.5h3M58 52.5h2M62 52.5h2M65 52.5h1M71 52.5h8M46 53.5h7M57 53.5h4M63 53.5h1M72 53.5h4M77 53.5h2M46 54.5h7M56 54.5h1M58 54.5h5M73 54.5h6M81 54.5h1M44 55.5h9M56 55.5h1M58 55.5h4M74 55.5h2M45 56.5h2M48 56.5h4M55 56.5h1M57 56.5h3M77 56.5h1M46 57.5h6M56 57.5h4M61 57.5h1M69 57.5h1M75 57.5h1M46 58.5h6M56 58.5h4M67 58.5h1M69 58.5h2M75 58.5h2M47 59.5h6M56 59.5h5M71 59.5h1M76 59.5h1M37 60.5h2M47 60.5h3M52 60.5h1M55 60.5h6M75 60.5h2M48 61.5h2M53 61.5h7M61 61.5h1M48 62.5h2M51 62.5h8M60 62.5h2M63 62.5h2M49 63.5h2M53 63.5h5M60 63.5h5M66 63.5h1M49 64.5h2M55 64.5h8M64 64.5h2M50 65.5h8M59 65.5h1M64 65.5h4M50 66.5h5M57 66.5h2M63 66.5h3M50 67.5h3M64 67.5h3M49 68.5h4M57 68.5h1M63 68.5h1M66 68.5h1M50 69.5h1M53 69.5h1M56 69.5h2M63 69.5h1M65 69.5h2M56 70.5h1M58 70.5h1M60 70.5h3M66 70.5h1M60 71.5h4M66 71.5h2M58 72.5h4M64 72.5h1M67 72.5h1M60 73.5h8M60 74.5h2M69 74.5h3M69 75.5h3M51 76.5h1M55 76.5h1M68 76.5h4M61 77.5h1M65 77.5h4M71 77.5h2M60 78.5h1M64 78.5h1M66 78.5h1M70 78.5h2M59 79.5h1M61 79.5h1M63 79.5h4M71 79.5h2M56 80.5h1M59 80.5h2M62 80.5h5M71 80.5h2M59 81.5h13M59 82.5h2M62 82.5h1M69 82.5h1M59 83.5h2M51 85.5h1M53 85.5h1M55 85.5h1M50 86.5h6M49 87.5h2M49 88.5h5"/><path stroke="#00ff88" d="M62 45.5h4M67 45.5h1M62 46.5h1M66 46.5h2M62 47.5h2M66 47.5h1M68 47.5h1M61 48.5h2M67 48.5h1M64 49.5h1M66 49.5h1M65 50.5h1M49 52.5h1M60 52.5h2M51 60.5h1M50 61.5h3M60 61.5h1M50 62.5h1M59 62.5h1M51 63.5h2M58 63.5h2M51 64.5h1M53 64.5h2M64 68.5h2M64 69.5h1M63 70.5h3M64 71.5h1M62 72.5h2M66 72.5h1M67 78.5h3M69 79.5h2M61 80.5h1M67 80.5h4M51 87.5h1"/><path stroke="#00ff77" d="M63 46.5h1M65 46.5h1M64 47.5h2M67 47.5h1M63 48.5h4M65 49.5h1M50 60.5h1M52 64.5h1M65 71.5h1M65 72.5h1M69 77.5h2M67 79.5h2"/><path stroke="#44ff55" d="M64 46.5h1"/></g>
<rect x="1058.7" y="774.8" width="496" height="1.6" fill="#000"/>
<rect x="1058.7" y="774.8" width="1.6" height="518.6" fill="#000"/>
<rect x="1553.5" y="776" width="1.3" height="517.4" fill="#555"/>
<path d="M1052.4 776h5.8M1052.4 804.74h5.8M1052.4 862.23h5.8M1052.4 919.72h5.8M1052.4 977.21h5.8M1052.4 1034.7h5.8M1052.4 1092.19h5.8M1052.4 1149.68h5.8M1052.4 1207.17h5.8M1052.4 1264.66h5.8M1052.4 1293.4h5.8M1059.9 1295.4v5.6M1087.39 1295.4v5.6M1142.37 1295.4v5.6M1197.34 1295.4v5.6M1252.32 1295.4v5.6M1307.3 1295.4v5.6M1362.28 1295.4v5.6M1417.26 1295.4v5.6M1472.23 1295.4v5.6M1527.21 1295.4v5.6M1554.7 1295.4v5.6" stroke="#222" stroke-width="1.1" fill="none"/>
<text x="1018.71" y="787.7" font-size="29.7" textLength="30.39" lengthAdjust="spacingAndGlyphs">90</text>
<text x="1018.71" y="873.93" font-size="29.7" textLength="30.39" lengthAdjust="spacingAndGlyphs">60</text>
<text x="1018.71" y="931.42" font-size="29.7" textLength="30.39" lengthAdjust="spacingAndGlyphs">40</text>
<text x="1018.71" y="988.91" font-size="29.7" textLength="30.39" lengthAdjust="spacingAndGlyphs">20</text>
<text x="1033.9" y="1046.4" font-size="29.7" textLength="15.2" lengthAdjust="spacingAndGlyphs">0</text>
<text x="1002.75" y="1103.89" font-size="29.7" textLength="46.35" lengthAdjust="spacingAndGlyphs">−20</text>
<text x="1002.75" y="1161.38" font-size="29.7" textLength="46.35" lengthAdjust="spacingAndGlyphs">−40</text>
<text x="1002.75" y="1218.87" font-size="29.7" textLength="46.35" lengthAdjust="spacingAndGlyphs">−60</text>
<text x="1002.75" y="1305.1" font-size="29.7" textLength="46.35" lengthAdjust="spacingAndGlyphs">−90</text>
<text x="1036.73" y="1329.1" font-size="29.7" textLength="46.35" lengthAdjust="spacingAndGlyphs">−90</text>
<text x="1119.19" y="1329.1" font-size="29.7" textLength="46.35" lengthAdjust="spacingAndGlyphs">−60</text>
<text x="1174.17" y="1329.1" font-size="29.7" textLength="46.35" lengthAdjust="spacingAndGlyphs">−40</text>
<text x="1229.15" y="1329.1" font-size="29.7" textLength="46.35" lengthAdjust="spacingAndGlyphs">−20</text>
<text x="1299.7" y="1329.1" font-size="29.7" textLength="15.2" lengthAdjust="spacingAndGlyphs">0</text>
<text x="1347.08" y="1329.1" font-size="29.7" textLength="30.39" lengthAdjust="spacingAndGlyphs">20</text>
<text x="1402.06" y="1329.1" font-size="29.7" textLength="30.39" lengthAdjust="spacingAndGlyphs">40</text>
<text x="1457.04" y="1329.1" font-size="29.7" textLength="30.39" lengthAdjust="spacingAndGlyphs">60</text>
<text x="1539.5" y="1329.1" font-size="29.7" textLength="30.39" lengthAdjust="spacingAndGlyphs">90</text>
<text x="1111.96" y="1377.4" font-size="42" textLength="296.58" lengthAdjust="spacingAndGlyphs">Horizontal angle</text>
<text x="1422.1" y="1373.5" font-size="40.4" textLength="15.2" lengthAdjust="spacingAndGlyphs">[</text>
<text x="1435.4" y="1374.9" font-size="42">°</text>
<text x="1480.5" y="1373.5" font-size="40.4" textLength="15.2" lengthAdjust="spacingAndGlyphs">]</text>
<g transform="translate(993.9 1205.6) rotate(-90)"><text x="-0.38" y="0" font-size="42" textLength="253.37" lengthAdjust="spacingAndGlyphs">Vertical angle</text><text x="266.7" y="-5" font-size="40.4" textLength="15.2" lengthAdjust="spacingAndGlyphs">[</text><text x="280.8" y="-5.6" font-size="42">°</text><text x="324.8" y="-5" font-size="40.4" textLength="15.2" lengthAdjust="spacingAndGlyphs">]</text></g>
<g transform="translate(1676.8 978.84) rotate(90)"><text x="0" y="0" font-size="43.2" textLength="130.51" lengthAdjust="spacingAndGlyphs">Counts</text></g>
<rect x="1582" y="764.3" width="23.8" height="564.4" fill="#000"/>
<rect x="1583.2" y="765.3" width="21.4" height="4" fill="#fff"/>
<rect x="1583.2" y="1316.92" width="21.4" height="4.88" fill="#ffffff"/>
<rect x="1583.2" y="1311.02" width="21.4" height="6.2" fill="#dcdcdc"/>
<rect x="1583.2" y="1302.74" width="21.4" height="8.58" fill="#ccccff"/>
<rect x="1583.2" y="1300.54" width="21.4" height="2.51" fill="#d8d8e0"/>
<rect x="1583.2" y="1297.23" width="21.4" height="3.61" fill="#cc99cc"/>
<rect x="1583.2" y="1288.4" width="21.4" height="9.13" fill="#9999cc"/>
<rect x="1583.2" y="1285.09" width="21.4" height="3.61" fill="#9966cc"/>
<rect x="1583.2" y="1274.61" width="21.4" height="10.78" fill="#6666cc"/>
<rect x="1583.2" y="1269.64" width="21.4" height="5.27" fill="#6633cc"/>
<rect x="1583.2" y="1262.47" width="21.4" height="7.47" fill="#333399"/>
<rect x="1583.2" y="1247.02" width="21.4" height="15.75" fill="#330099"/>
<rect x="1583.2" y="1214.47" width="21.4" height="32.85" fill="#0033cc"/>
<rect x="1583.2" y="1186.89" width="21.4" height="27.89" fill="#0066ff"/>
<rect x="1583.2" y="1160.4" width="21.4" height="26.78" fill="#0099ff"/>
<rect x="1583.2" y="1133.92" width="21.4" height="26.78" fill="#00ccff"/>
<rect x="1583.2" y="1119.58" width="21.4" height="14.64" fill="#00cccc"/>
<rect x="1583.2" y="1084.82" width="21.4" height="35.06" fill="#00ffcc"/>
<rect x="1583.2" y="1067.17" width="21.4" height="17.95" fill="#00ff88"/>
<rect x="1583.2" y="1047.86" width="21.4" height="19.61" fill="#00ff77"/>
<rect x="1583.2" y="1035.72" width="21.4" height="12.44" fill="#00ff44"/>
<rect x="1583.2" y="1019.72" width="21.4" height="16.3" fill="#44ff55"/>
<rect x="1583.2" y="1010.89" width="21.4" height="9.13" fill="#aaff55"/>
<rect x="1583.2" y="995.45" width="21.4" height="15.75" fill="#aaff00"/>
<rect x="1583.2" y="956.83" width="21.4" height="38.92" fill="#cccc00"/>
<rect x="1583.2" y="951.86" width="21.4" height="5.27" fill="#ffcc00"/>
<rect x="1583.2" y="925.93" width="21.4" height="26.23" fill="#ff9900"/>
<rect x="1583.2" y="918.21" width="21.4" height="8.02" fill="#dd9900"/>
<rect x="1583.2" y="882.35" width="21.4" height="36.16" fill="#e66600"/>
<rect x="1583.2" y="867.45" width="21.4" height="15.2" fill="#ee3300"/>
<rect x="1583.2" y="848.14" width="21.4" height="19.61" fill="#ff3300"/>
<rect x="1583.2" y="827.18" width="21.4" height="21.26" fill="#ff0000"/>
<rect x="1583.2" y="794.63" width="21.4" height="32.85" fill="#e60000"/>
<rect x="1583.2" y="789.66" width="21.4" height="5.27" fill="#e6003a"/>
<rect x="1583.2" y="769.8" width="21.4" height="20.16" fill="#b00035"/>
<text x="1615.6" y="786.8" font-size="43.2" textLength="44.45" lengthAdjust="spacingAndGlyphs">79</text>
<text x="1615.6" y="849.5" font-size="43.2" textLength="44.45" lengthAdjust="spacingAndGlyphs">70</text>
<text x="1615.6" y="912.21" font-size="43.2" textLength="44.45" lengthAdjust="spacingAndGlyphs">61</text>
<text x="1615.6" y="967.94" font-size="43.2" textLength="44.45" lengthAdjust="spacingAndGlyphs">53</text>
<text x="1615.6" y="1030.65" font-size="43.2" textLength="44.45" lengthAdjust="spacingAndGlyphs">44</text>
<text x="1615.6" y="1093.35" font-size="43.2" textLength="44.45" lengthAdjust="spacingAndGlyphs">35</text>
<text x="1615.6" y="1156.06" font-size="43.2" textLength="44.45" lengthAdjust="spacingAndGlyphs">26</text>
<text x="1615.6" y="1211.79" font-size="43.2" textLength="44.45" lengthAdjust="spacingAndGlyphs">18</text>
<text x="1615.6" y="1274.5" font-size="43.2" textLength="22.22" lengthAdjust="spacingAndGlyphs">9</text>
<text x="1615.6" y="1337.2" font-size="43.2" textLength="22.22" lengthAdjust="spacingAndGlyphs">0</text>
<path d="M1608.8 771.3h5.8M1608.8 834h5.8M1608.8 896.71h5.8M1608.8 952.44h5.8M1608.8 1015.15h5.8M1608.8 1077.85h5.8M1608.8 1140.56h5.8M1608.8 1196.29h5.8M1608.8 1259h5.8M1608.8 1321.7h5.8" stroke="#222" stroke-width="1.1" fill="none"/>
<text class="cap" x="1336" y="1444.4" font-size="42" text-anchor="middle">(<tspan font-weight="bold">d</tspan>)</text>
</svg>
</body></html>
